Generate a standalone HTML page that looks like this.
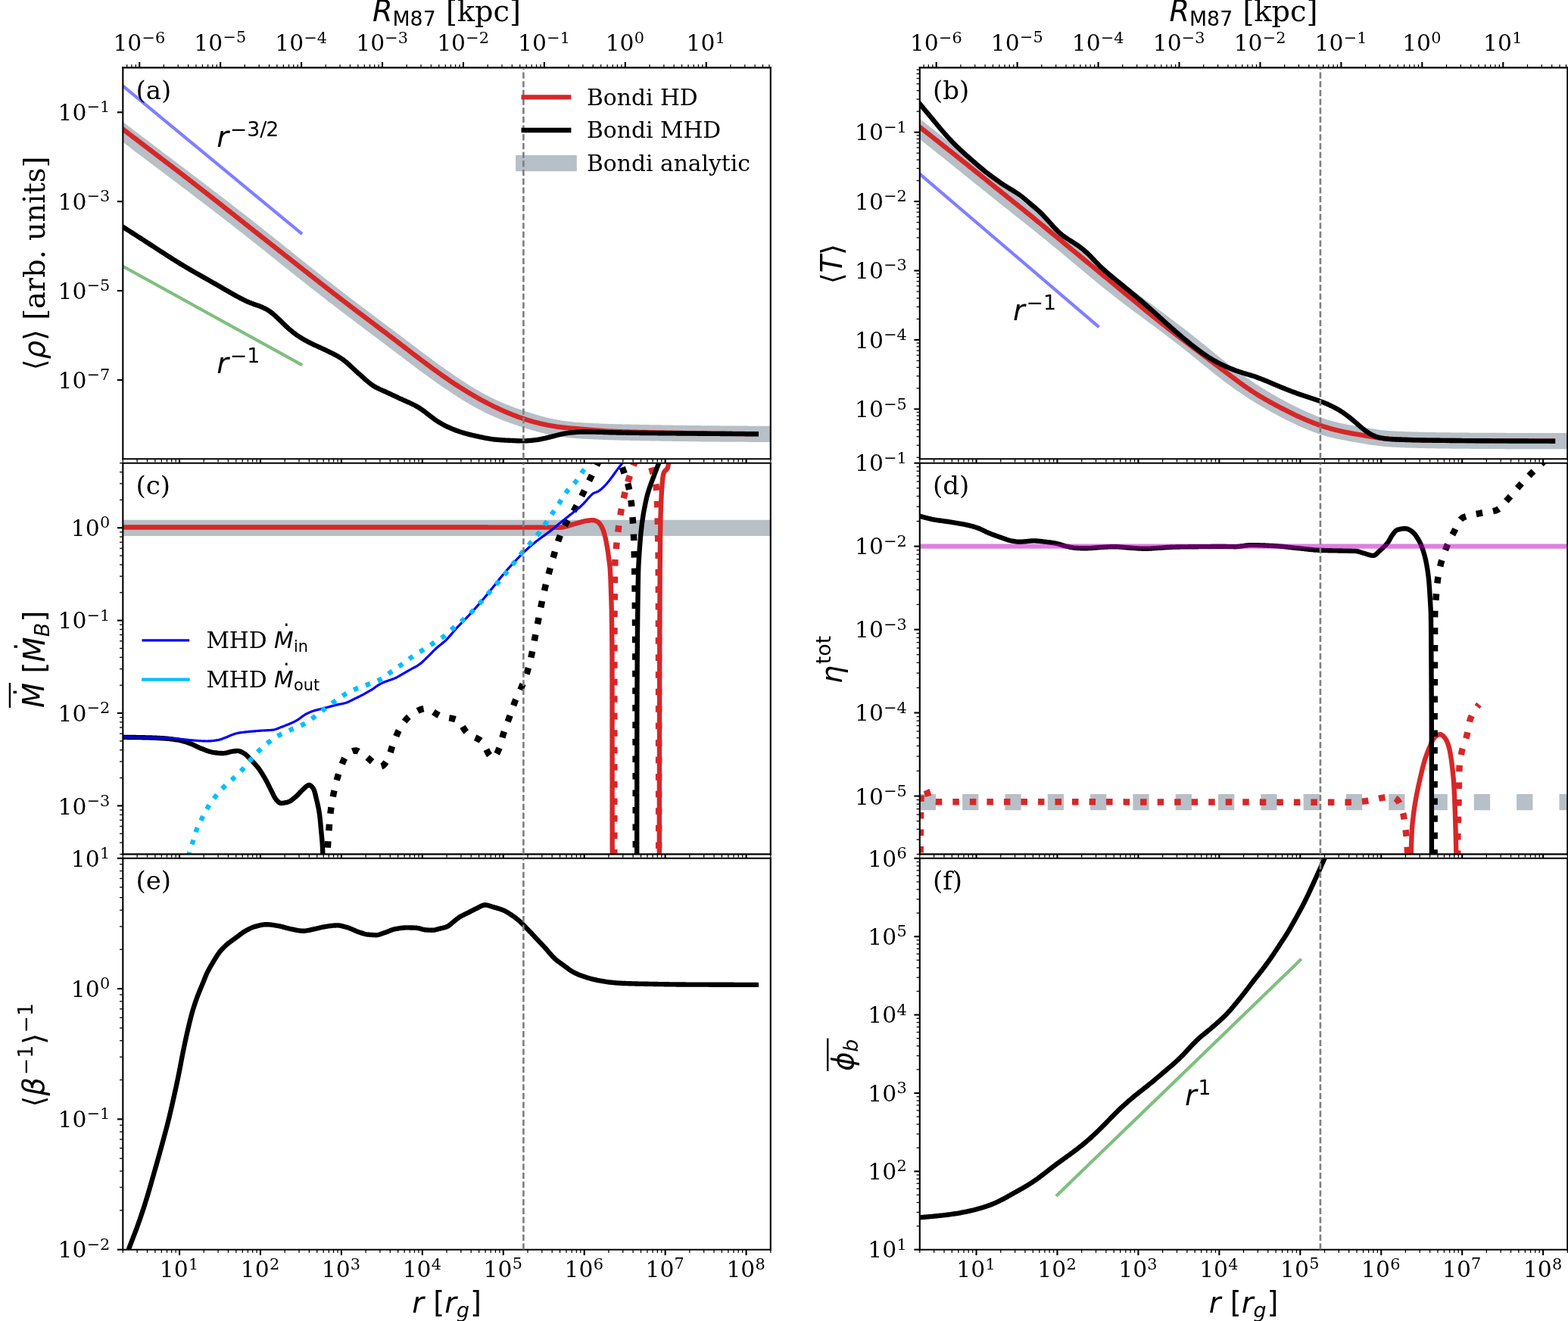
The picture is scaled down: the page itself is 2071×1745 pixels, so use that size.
<!DOCTYPE html>
<html lang="en">
<head>
<meta charset="utf-8">
<title>Bondi accretion radial profiles</title>
<style>
html,body{margin:0;padding:0;background:#fff;}
body{width:2071px;height:1745px;overflow:hidden;position:relative;font-family:"DejaVu Serif","Liberation Serif",serif;}
svg text{white-space:pre;}
</style>
</head>
<body>
<svg width="2071" height="1745" viewBox="0 0 974.588235 821.176471" preserveAspectRatio="none" style="display:block;position:absolute;left:0;top:0">
<defs>
<style type="text/css">*{stroke-linejoin: round; stroke-linecap: butt}</style>
</defs>
<g>
<g>
<path d="M 0 821.18 L 974.59 821.18 L 974.59 0 L 0 0 z" style="fill: #ffffff"/>
</g>
<g>
<g>
<path d="M 76.38 285.27 L 478.96 285.27 L 478.96 42.07 L 76.38 42.07 z" style="fill: #ffffff"/>
</g>
<g>
<g>
<path d="M 76.38 42.07 L 478.96 42.07 L 478.96 42.07 L 76.38 42.07 z" style="fill: #ffffff"/>
</g>
<g>
<g>
<g>
<g>
<path d="M 0 0 L 0 -3.5" transform="translate(86.683505 42.070588)" style="stroke: #000000; stroke: #000000"/>
</g>
</g>
<g>
<!-- $\mathdefault{10^{-6}}$ -->
<g transform="translate(70.303505 32.394)">
<text>
<tspan x="0" y="-0.640625" style="font-size: 14px; font-family: 'DejaVu Serif'">1</tspan>
<tspan x="8.907227" y="-0.640625" style="font-size: 14px; font-family: 'DejaVu Serif'">0</tspan>
<tspan x="17.941602" y="-5.726562" style="font-size: 9.8px; font-family: 'DejaVu Serif'">−</tspan>
<tspan x="26.15293" y="-5.726562" style="font-size: 9.8px; font-family: 'DejaVu Serif'">6</tspan>
</text>
</g>
</g>
</g>
<g>
<g>
<g>
<path d="M 0 0 L 0 -3.5" transform="translate(137.007034 42.070588)" style="stroke: #000000; stroke: #000000"/>
</g>
</g>
<g>
<!-- $\mathdefault{10^{-5}}$ -->
<g transform="translate(120.627034 32.394)">
<text>
<tspan x="0" y="-0.771875" style="font-size: 14px; font-family: 'DejaVu Serif'">1</tspan>
<tspan x="8.907227" y="-0.771875" style="font-size: 14px; font-family: 'DejaVu Serif'">0</tspan>
<tspan x="17.941602" y="-5.857813" style="font-size: 9.8px; font-family: 'DejaVu Serif'">−</tspan>
<tspan x="26.15293" y="-5.857813" style="font-size: 9.8px; font-family: 'DejaVu Serif'">5</tspan>
</text>
</g>
</g>
</g>
<g>
<g>
<g>
<path d="M 0 0 L 0 -3.5" transform="translate(187.330564 42.070588)" style="stroke: #000000; stroke: #000000"/>
</g>
</g>
<g>
<!-- $\mathdefault{10^{-4}}$ -->
<g transform="translate(170.950564 32.394)">
<text>
<tspan x="0" y="-0.640625" style="font-size: 14px; font-family: 'DejaVu Serif'">1</tspan>
<tspan x="8.907227" y="-0.640625" style="font-size: 14px; font-family: 'DejaVu Serif'">0</tspan>
<tspan x="17.941602" y="-5.726562" style="font-size: 9.8px; font-family: 'DejaVu Serif'">−</tspan>
<tspan x="26.15293" y="-5.726562" style="font-size: 9.8px; font-family: 'DejaVu Serif'">4</tspan>
</text>
</g>
</g>
</g>
<g>
<g>
<g>
<path d="M 0 0 L 0 -3.5" transform="translate(237.654093 42.070588)" style="stroke: #000000; stroke: #000000"/>
</g>
</g>
<g>
<!-- $\mathdefault{10^{-3}}$ -->
<g transform="translate(221.274093 32.394)">
<text>
<tspan x="0" y="-0.640625" style="font-size: 14px; font-family: 'DejaVu Serif'">1</tspan>
<tspan x="8.907227" y="-0.640625" style="font-size: 14px; font-family: 'DejaVu Serif'">0</tspan>
<tspan x="17.941602" y="-5.726562" style="font-size: 9.8px; font-family: 'DejaVu Serif'">−</tspan>
<tspan x="26.15293" y="-5.726562" style="font-size: 9.8px; font-family: 'DejaVu Serif'">3</tspan>
</text>
</g>
</g>
</g>
<g>
<g>
<g>
<path d="M 0 0 L 0 -3.5" transform="translate(287.977623 42.070588)" style="stroke: #000000; stroke: #000000"/>
</g>
</g>
<g>
<!-- $\mathdefault{10^{-2}}$ -->
<g transform="translate(271.597623 32.394)">
<text>
<tspan x="0" y="-0.640625" style="font-size: 14px; font-family: 'DejaVu Serif'">1</tspan>
<tspan x="8.907227" y="-0.640625" style="font-size: 14px; font-family: 'DejaVu Serif'">0</tspan>
<tspan x="17.941602" y="-5.726562" style="font-size: 9.8px; font-family: 'DejaVu Serif'">−</tspan>
<tspan x="26.15293" y="-5.726562" style="font-size: 9.8px; font-family: 'DejaVu Serif'">2</tspan>
</text>
</g>
</g>
</g>
<g>
<g>
<g>
<path d="M 0 0 L 0 -3.5" transform="translate(338.301152 42.070588)" style="stroke: #000000; stroke: #000000"/>
</g>
</g>
<g>
<!-- $\mathdefault{10^{-1}}$ -->
<g transform="translate(321.921152 32.394)">
<text>
<tspan x="0" y="-0.640625" style="font-size: 14px; font-family: 'DejaVu Serif'">1</tspan>
<tspan x="8.907227" y="-0.640625" style="font-size: 14px; font-family: 'DejaVu Serif'">0</tspan>
<tspan x="17.941602" y="-5.726562" style="font-size: 9.8px; font-family: 'DejaVu Serif'">−</tspan>
<tspan x="26.15293" y="-5.726562" style="font-size: 9.8px; font-family: 'DejaVu Serif'">1</tspan>
</text>
</g>
</g>
</g>
<g>
<g>
<g>
<path d="M 0 0 L 0 -3.5" transform="translate(388.624681 42.070588)" style="stroke: #000000; stroke: #000000"/>
</g>
</g>
<g>
<!-- $\mathdefault{10^{0}}$ -->
<g transform="translate(376.304681 32.394)">
<text>
<tspan x="0" y="-0.640625" style="font-size: 14px; font-family: 'DejaVu Serif'">1</tspan>
<tspan x="8.907227" y="-0.640625" style="font-size: 14px; font-family: 'DejaVu Serif'">0</tspan>
<tspan x="17.941602" y="-5.726562" style="font-size: 9.8px; font-family: 'DejaVu Serif'">0</tspan>
</text>
</g>
</g>
</g>
<g>
<g>
<g>
<path d="M 0 0 L 0 -3.5" transform="translate(438.948211 42.070588)" style="stroke: #000000; stroke: #000000"/>
</g>
</g>
<g>
<!-- $\mathdefault{10^{1}}$ -->
<g transform="translate(426.628211 32.394)">
<text>
<tspan x="0" y="-0.640625" style="font-size: 14px; font-family: 'DejaVu Serif'">1</tspan>
<tspan x="8.907227" y="-0.640625" style="font-size: 14px; font-family: 'DejaVu Serif'">0</tspan>
<tspan x="17.941602" y="-5.726562" style="font-size: 9.8px; font-family: 'DejaVu Serif'">1</tspan>
</text>
</g>
</g>
</g>
<g>
<g>
<g>
<path d="M 0 0 L 0 -2" transform="translate(78.888292 42.070588)" style="stroke: #000000; stroke-width: 0.6; stroke: #000000; stroke-width: 0.6"/>
</g>
</g>
</g>
<g>
<g>
<g>
<path d="M 0 0 L 0 -2" transform="translate(81.806651 42.070588)" style="stroke: #000000; stroke-width: 0.6; stroke: #000000; stroke-width: 0.6"/>
</g>
</g>
</g>
<g>
<g>
<g>
<path d="M 0 0 L 0 -2" transform="translate(84.380826 42.070588)" style="stroke: #000000; stroke-width: 0.6; stroke: #000000; stroke-width: 0.6"/>
</g>
</g>
</g>
<g>
<g>
<g>
<path d="M 0 0 L 0 -2" transform="translate(101.832397 42.070588)" style="stroke: #000000; stroke-width: 0.6; stroke: #000000; stroke-width: 0.6"/>
</g>
</g>
</g>
<g>
<g>
<g>
<path d="M 0 0 L 0 -2" transform="translate(110.69393 42.070588)" style="stroke: #000000; stroke-width: 0.6; stroke: #000000; stroke-width: 0.6"/>
</g>
</g>
</g>
<g>
<g>
<g>
<path d="M 0 0 L 0 -2" transform="translate(116.981289 42.070588)" style="stroke: #000000; stroke-width: 0.6; stroke: #000000; stroke-width: 0.6"/>
</g>
</g>
</g>
<g>
<g>
<g>
<path d="M 0 0 L 0 -2" transform="translate(121.858142 42.070588)" style="stroke: #000000; stroke-width: 0.6; stroke: #000000; stroke-width: 0.6"/>
</g>
</g>
</g>
<g>
<g>
<g>
<path d="M 0 0 L 0 -2" transform="translate(125.842822 42.070588)" style="stroke: #000000; stroke-width: 0.6; stroke: #000000; stroke-width: 0.6"/>
</g>
</g>
</g>
<g>
<g>
<g>
<path d="M 0 0 L 0 -2" transform="translate(129.211821 42.070588)" style="stroke: #000000; stroke-width: 0.6; stroke: #000000; stroke-width: 0.6"/>
</g>
</g>
</g>
<g>
<g>
<g>
<path d="M 0 0 L 0 -2" transform="translate(132.13018 42.070588)" style="stroke: #000000; stroke-width: 0.6; stroke: #000000; stroke-width: 0.6"/>
</g>
</g>
</g>
<g>
<g>
<g>
<path d="M 0 0 L 0 -2" transform="translate(134.704356 42.070588)" style="stroke: #000000; stroke-width: 0.6; stroke: #000000; stroke-width: 0.6"/>
</g>
</g>
</g>
<g>
<g>
<g>
<path d="M 0 0 L 0 -2" transform="translate(152.155926 42.070588)" style="stroke: #000000; stroke-width: 0.6; stroke: #000000; stroke-width: 0.6"/>
</g>
</g>
</g>
<g>
<g>
<g>
<path d="M 0 0 L 0 -2" transform="translate(161.01746 42.070588)" style="stroke: #000000; stroke-width: 0.6; stroke: #000000; stroke-width: 0.6"/>
</g>
</g>
</g>
<g>
<g>
<g>
<path d="M 0 0 L 0 -2" transform="translate(167.304818 42.070588)" style="stroke: #000000; stroke-width: 0.6; stroke: #000000; stroke-width: 0.6"/>
</g>
</g>
</g>
<g>
<g>
<g>
<path d="M 0 0 L 0 -2" transform="translate(172.181672 42.070588)" style="stroke: #000000; stroke-width: 0.6; stroke: #000000; stroke-width: 0.6"/>
</g>
</g>
</g>
<g>
<g>
<g>
<path d="M 0 0 L 0 -2" transform="translate(176.166352 42.070588)" style="stroke: #000000; stroke-width: 0.6; stroke: #000000; stroke-width: 0.6"/>
</g>
</g>
</g>
<g>
<g>
<g>
<path d="M 0 0 L 0 -2" transform="translate(179.53535 42.070588)" style="stroke: #000000; stroke-width: 0.6; stroke: #000000; stroke-width: 0.6"/>
</g>
</g>
</g>
<g>
<g>
<g>
<path d="M 0 0 L 0 -2" transform="translate(182.45371 42.070588)" style="stroke: #000000; stroke-width: 0.6; stroke: #000000; stroke-width: 0.6"/>
</g>
</g>
</g>
<g>
<g>
<g>
<path d="M 0 0 L 0 -2" transform="translate(185.027885 42.070588)" style="stroke: #000000; stroke-width: 0.6; stroke: #000000; stroke-width: 0.6"/>
</g>
</g>
</g>
<g>
<g>
<g>
<path d="M 0 0 L 0 -2" transform="translate(202.479456 42.070588)" style="stroke: #000000; stroke-width: 0.6; stroke: #000000; stroke-width: 0.6"/>
</g>
</g>
</g>
<g>
<g>
<g>
<path d="M 0 0 L 0 -2" transform="translate(211.340989 42.070588)" style="stroke: #000000; stroke-width: 0.6; stroke: #000000; stroke-width: 0.6"/>
</g>
</g>
</g>
<g>
<g>
<g>
<path d="M 0 0 L 0 -2" transform="translate(217.628347 42.070588)" style="stroke: #000000; stroke-width: 0.6; stroke: #000000; stroke-width: 0.6"/>
</g>
</g>
</g>
<g>
<g>
<g>
<path d="M 0 0 L 0 -2" transform="translate(222.505201 42.070588)" style="stroke: #000000; stroke-width: 0.6; stroke: #000000; stroke-width: 0.6"/>
</g>
</g>
</g>
<g>
<g>
<g>
<path d="M 0 0 L 0 -2" transform="translate(226.489881 42.070588)" style="stroke: #000000; stroke-width: 0.6; stroke: #000000; stroke-width: 0.6"/>
</g>
</g>
</g>
<g>
<g>
<g>
<path d="M 0 0 L 0 -2" transform="translate(229.85888 42.070588)" style="stroke: #000000; stroke-width: 0.6; stroke: #000000; stroke-width: 0.6"/>
</g>
</g>
</g>
<g>
<g>
<g>
<path d="M 0 0 L 0 -2" transform="translate(232.777239 42.070588)" style="stroke: #000000; stroke-width: 0.6; stroke: #000000; stroke-width: 0.6"/>
</g>
</g>
</g>
<g>
<g>
<g>
<path d="M 0 0 L 0 -2" transform="translate(235.351415 42.070588)" style="stroke: #000000; stroke-width: 0.6; stroke: #000000; stroke-width: 0.6"/>
</g>
</g>
</g>
<g>
<g>
<g>
<path d="M 0 0 L 0 -2" transform="translate(252.802985 42.070588)" style="stroke: #000000; stroke-width: 0.6; stroke: #000000; stroke-width: 0.6"/>
</g>
</g>
</g>
<g>
<g>
<g>
<path d="M 0 0 L 0 -2" transform="translate(261.664519 42.070588)" style="stroke: #000000; stroke-width: 0.6; stroke: #000000; stroke-width: 0.6"/>
</g>
</g>
</g>
<g>
<g>
<g>
<path d="M 0 0 L 0 -2" transform="translate(267.951877 42.070588)" style="stroke: #000000; stroke-width: 0.6; stroke: #000000; stroke-width: 0.6"/>
</g>
</g>
</g>
<g>
<g>
<g>
<path d="M 0 0 L 0 -2" transform="translate(272.828731 42.070588)" style="stroke: #000000; stroke-width: 0.6; stroke: #000000; stroke-width: 0.6"/>
</g>
</g>
</g>
<g>
<g>
<g>
<path d="M 0 0 L 0 -2" transform="translate(276.81341 42.070588)" style="stroke: #000000; stroke-width: 0.6; stroke: #000000; stroke-width: 0.6"/>
</g>
</g>
</g>
<g>
<g>
<g>
<path d="M 0 0 L 0 -2" transform="translate(280.182409 42.070588)" style="stroke: #000000; stroke-width: 0.6; stroke: #000000; stroke-width: 0.6"/>
</g>
</g>
</g>
<g>
<g>
<g>
<path d="M 0 0 L 0 -2" transform="translate(283.100769 42.070588)" style="stroke: #000000; stroke-width: 0.6; stroke: #000000; stroke-width: 0.6"/>
</g>
</g>
</g>
<g>
<g>
<g>
<path d="M 0 0 L 0 -2" transform="translate(285.674944 42.070588)" style="stroke: #000000; stroke-width: 0.6; stroke: #000000; stroke-width: 0.6"/>
</g>
</g>
</g>
<g>
<g>
<g>
<path d="M 0 0 L 0 -2" transform="translate(303.126514 42.070588)" style="stroke: #000000; stroke-width: 0.6; stroke: #000000; stroke-width: 0.6"/>
</g>
</g>
</g>
<g>
<g>
<g>
<path d="M 0 0 L 0 -2" transform="translate(311.988048 42.070588)" style="stroke: #000000; stroke-width: 0.6; stroke: #000000; stroke-width: 0.6"/>
</g>
</g>
</g>
<g>
<g>
<g>
<path d="M 0 0 L 0 -2" transform="translate(318.275406 42.070588)" style="stroke: #000000; stroke-width: 0.6; stroke: #000000; stroke-width: 0.6"/>
</g>
</g>
</g>
<g>
<g>
<g>
<path d="M 0 0 L 0 -2" transform="translate(323.15226 42.070588)" style="stroke: #000000; stroke-width: 0.6; stroke: #000000; stroke-width: 0.6"/>
</g>
</g>
</g>
<g>
<g>
<g>
<path d="M 0 0 L 0 -2" transform="translate(327.13694 42.070588)" style="stroke: #000000; stroke-width: 0.6; stroke: #000000; stroke-width: 0.6"/>
</g>
</g>
</g>
<g>
<g>
<g>
<path d="M 0 0 L 0 -2" transform="translate(330.505939 42.070588)" style="stroke: #000000; stroke-width: 0.6; stroke: #000000; stroke-width: 0.6"/>
</g>
</g>
</g>
<g>
<g>
<g>
<path d="M 0 0 L 0 -2" transform="translate(333.424298 42.070588)" style="stroke: #000000; stroke-width: 0.6; stroke: #000000; stroke-width: 0.6"/>
</g>
</g>
</g>
<g>
<g>
<g>
<path d="M 0 0 L 0 -2" transform="translate(335.998474 42.070588)" style="stroke: #000000; stroke-width: 0.6; stroke: #000000; stroke-width: 0.6"/>
</g>
</g>
</g>
<g>
<g>
<g>
<path d="M 0 0 L 0 -2" transform="translate(353.450044 42.070588)" style="stroke: #000000; stroke-width: 0.6; stroke: #000000; stroke-width: 0.6"/>
</g>
</g>
</g>
<g>
<g>
<g>
<path d="M 0 0 L 0 -2" transform="translate(362.311577 42.070588)" style="stroke: #000000; stroke-width: 0.6; stroke: #000000; stroke-width: 0.6"/>
</g>
</g>
</g>
<g>
<g>
<g>
<path d="M 0 0 L 0 -2" transform="translate(368.598936 42.070588)" style="stroke: #000000; stroke-width: 0.6; stroke: #000000; stroke-width: 0.6"/>
</g>
</g>
</g>
<g>
<g>
<g>
<path d="M 0 0 L 0 -2" transform="translate(373.47579 42.070588)" style="stroke: #000000; stroke-width: 0.6; stroke: #000000; stroke-width: 0.6"/>
</g>
</g>
</g>
<g>
<g>
<g>
<path d="M 0 0 L 0 -2" transform="translate(377.460469 42.070588)" style="stroke: #000000; stroke-width: 0.6; stroke: #000000; stroke-width: 0.6"/>
</g>
</g>
</g>
<g>
<g>
<g>
<path d="M 0 0 L 0 -2" transform="translate(380.829468 42.070588)" style="stroke: #000000; stroke-width: 0.6; stroke: #000000; stroke-width: 0.6"/>
</g>
</g>
</g>
<g>
<g>
<g>
<path d="M 0 0 L 0 -2" transform="translate(383.747827 42.070588)" style="stroke: #000000; stroke-width: 0.6; stroke: #000000; stroke-width: 0.6"/>
</g>
</g>
</g>
<g>
<g>
<g>
<path d="M 0 0 L 0 -2" transform="translate(386.322003 42.070588)" style="stroke: #000000; stroke-width: 0.6; stroke: #000000; stroke-width: 0.6"/>
</g>
</g>
</g>
<g>
<g>
<g>
<path d="M 0 0 L 0 -2" transform="translate(403.773573 42.070588)" style="stroke: #000000; stroke-width: 0.6; stroke: #000000; stroke-width: 0.6"/>
</g>
</g>
</g>
<g>
<g>
<g>
<path d="M 0 0 L 0 -2" transform="translate(412.635107 42.070588)" style="stroke: #000000; stroke-width: 0.6; stroke: #000000; stroke-width: 0.6"/>
</g>
</g>
</g>
<g>
<g>
<g>
<path d="M 0 0 L 0 -2" transform="translate(418.922465 42.070588)" style="stroke: #000000; stroke-width: 0.6; stroke: #000000; stroke-width: 0.6"/>
</g>
</g>
</g>
<g>
<g>
<g>
<path d="M 0 0 L 0 -2" transform="translate(423.799319 42.070588)" style="stroke: #000000; stroke-width: 0.6; stroke: #000000; stroke-width: 0.6"/>
</g>
</g>
</g>
<g>
<g>
<g>
<path d="M 0 0 L 0 -2" transform="translate(427.783999 42.070588)" style="stroke: #000000; stroke-width: 0.6; stroke: #000000; stroke-width: 0.6"/>
</g>
</g>
</g>
<g>
<g>
<g>
<path d="M 0 0 L 0 -2" transform="translate(431.152997 42.070588)" style="stroke: #000000; stroke-width: 0.6; stroke: #000000; stroke-width: 0.6"/>
</g>
</g>
</g>
<g>
<g>
<g>
<path d="M 0 0 L 0 -2" transform="translate(434.071357 42.070588)" style="stroke: #000000; stroke-width: 0.6; stroke: #000000; stroke-width: 0.6"/>
</g>
</g>
</g>
<g>
<g>
<g>
<path d="M 0 0 L 0 -2" transform="translate(436.645532 42.070588)" style="stroke: #000000; stroke-width: 0.6; stroke: #000000; stroke-width: 0.6"/>
</g>
</g>
</g>
<g>
<g>
<g>
<path d="M 0 0 L 0 -2" transform="translate(454.097103 42.070588)" style="stroke: #000000; stroke-width: 0.6; stroke: #000000; stroke-width: 0.6"/>
</g>
</g>
</g>
<g>
<g>
<g>
<path d="M 0 0 L 0 -2" transform="translate(462.958636 42.070588)" style="stroke: #000000; stroke-width: 0.6; stroke: #000000; stroke-width: 0.6"/>
</g>
</g>
</g>
<g>
<g>
<g>
<path d="M 0 0 L 0 -2" transform="translate(469.245994 42.070588)" style="stroke: #000000; stroke-width: 0.6; stroke: #000000; stroke-width: 0.6"/>
</g>
</g>
</g>
<g>
<g>
<g>
<path d="M 0 0 L 0 -2" transform="translate(474.122848 42.070588)" style="stroke: #000000; stroke-width: 0.6; stroke: #000000; stroke-width: 0.6"/>
</g>
</g>
</g>
<g>
<g>
<g>
<path d="M 0 0 L 0 -2" transform="translate(478.107528 42.070588)" style="stroke: #000000; stroke-width: 0.6; stroke: #000000; stroke-width: 0.6"/>
</g>
</g>
</g>
<g>
<!-- $R_{\rm M87}$ [kpc] -->
<g transform="translate(231.500588 13.457)">
<text>
<tspan x="0" y="-0.328125" style="font-style: oblique; font-size: 18px; font-family: 'DejaVu Sans'">R</tspan>
<tspan x="12.506836" y="2.625" style="font-size: 12.6px; font-family: 'DejaVu Sans'">M</tspan>
<tspan x="23.378027" y="2.625" style="font-size: 12.6px; font-family: 'DejaVu Sans'">8</tspan>
<tspan x="31.394531" y="2.625" style="font-size: 12.6px; font-family: 'DejaVu Sans'">7</tspan>
<tspan x="39.903223" y="-0.328125" style="font-size: 18px; font-family: 'DejaVu Serif'"> </tspan>
<tspan x="45.624902" y="-0.328125" style="font-size: 18px; font-family: 'DejaVu Serif'">[</tspan>
<tspan x="52.647363" y="-0.328125" style="font-size: 18px; font-family: 'DejaVu Serif'">k</tspan>
<tspan x="63.55459" y="-0.328125" style="font-size: 18px; font-family: 'DejaVu Serif'">p</tspan>
<tspan x="75.077051" y="-0.328125" style="font-size: 18px; font-family: 'DejaVu Serif'">c</tspan>
<tspan x="85.158105" y="-0.328125" style="font-size: 18px; font-family: 'DejaVu Serif'">]</tspan>
</text>
</g>
</g>
</g>
<g id="matplotlib.axis_2"/>
</g>
<g>
<g>
<g>
<g>
<path d="M 0 0 L 0 3.5" transform="translate(111.551108 285.270588)" style="stroke: #000000; stroke: #000000"/>
</g>
</g>
</g>
<g>
<g>
<g>
<path d="M 0 0 L 0 3.5" transform="translate(161.874638 285.270588)" style="stroke: #000000; stroke: #000000"/>
</g>
</g>
</g>
<g>
<g>
<g>
<path d="M 0 0 L 0 3.5" transform="translate(212.198167 285.270588)" style="stroke: #000000; stroke: #000000"/>
</g>
</g>
</g>
<g>
<g>
<g>
<path d="M 0 0 L 0 3.5" transform="translate(262.521696 285.270588)" style="stroke: #000000; stroke: #000000"/>
</g>
</g>
</g>
<g>
<g>
<g>
<path d="M 0 0 L 0 3.5" transform="translate(312.845226 285.270588)" style="stroke: #000000; stroke: #000000"/>
</g>
</g>
</g>
<g>
<g>
<g>
<path d="M 0 0 L 0 3.5" transform="translate(363.168755 285.270588)" style="stroke: #000000; stroke: #000000"/>
</g>
</g>
</g>
<g>
<g>
<g>
<path d="M 0 0 L 0 3.5" transform="translate(413.492285 285.270588)" style="stroke: #000000; stroke: #000000"/>
</g>
</g>
</g>
<g>
<g>
<g>
<path d="M 0 0 L 0 3.5" transform="translate(463.815814 285.270588)" style="stroke: #000000; stroke: #000000"/>
</g>
</g>
</g>
<g>
<g>
<g>
<path d="M 0 0 L 0 2" transform="translate(76.376471 285.270588)" style="stroke: #000000; stroke-width: 0.6; stroke: #000000; stroke-width: 0.6"/>
</g>
</g>
</g>
<g>
<g>
<g>
<path d="M 0 0 L 0 2" transform="translate(85.238004 285.270588)" style="stroke: #000000; stroke-width: 0.6; stroke: #000000; stroke-width: 0.6"/>
</g>
</g>
</g>
<g>
<g>
<g>
<path d="M 0 0 L 0 2" transform="translate(91.525362 285.270588)" style="stroke: #000000; stroke-width: 0.6; stroke: #000000; stroke-width: 0.6"/>
</g>
</g>
</g>
<g>
<g>
<g>
<path d="M 0 0 L 0 2" transform="translate(96.402216 285.270588)" style="stroke: #000000; stroke-width: 0.6; stroke: #000000; stroke-width: 0.6"/>
</g>
</g>
</g>
<g>
<g>
<g>
<path d="M 0 0 L 0 2" transform="translate(100.386896 285.270588)" style="stroke: #000000; stroke-width: 0.6; stroke: #000000; stroke-width: 0.6"/>
</g>
</g>
</g>
<g>
<g>
<g>
<path d="M 0 0 L 0 2" transform="translate(103.755895 285.270588)" style="stroke: #000000; stroke-width: 0.6; stroke: #000000; stroke-width: 0.6"/>
</g>
</g>
</g>
<g>
<g>
<g>
<path d="M 0 0 L 0 2" transform="translate(106.674254 285.270588)" style="stroke: #000000; stroke-width: 0.6; stroke: #000000; stroke-width: 0.6"/>
</g>
</g>
</g>
<g>
<g>
<g>
<path d="M 0 0 L 0 2" transform="translate(109.24843 285.270588)" style="stroke: #000000; stroke-width: 0.6; stroke: #000000; stroke-width: 0.6"/>
</g>
</g>
</g>
<g>
<g>
<g>
<path d="M 0 0 L 0 2" transform="translate(126.7 285.270588)" style="stroke: #000000; stroke-width: 0.6; stroke: #000000; stroke-width: 0.6"/>
</g>
</g>
</g>
<g>
<g>
<g>
<path d="M 0 0 L 0 2" transform="translate(135.561534 285.270588)" style="stroke: #000000; stroke-width: 0.6; stroke: #000000; stroke-width: 0.6"/>
</g>
</g>
</g>
<g>
<g>
<g>
<path d="M 0 0 L 0 2" transform="translate(141.848892 285.270588)" style="stroke: #000000; stroke-width: 0.6; stroke: #000000; stroke-width: 0.6"/>
</g>
</g>
</g>
<g>
<g>
<g>
<path d="M 0 0 L 0 2" transform="translate(146.725746 285.270588)" style="stroke: #000000; stroke-width: 0.6; stroke: #000000; stroke-width: 0.6"/>
</g>
</g>
</g>
<g>
<g>
<g>
<path d="M 0 0 L 0 2" transform="translate(150.710425 285.270588)" style="stroke: #000000; stroke-width: 0.6; stroke: #000000; stroke-width: 0.6"/>
</g>
</g>
</g>
<g>
<g>
<g>
<path d="M 0 0 L 0 2" transform="translate(154.079424 285.270588)" style="stroke: #000000; stroke-width: 0.6; stroke: #000000; stroke-width: 0.6"/>
</g>
</g>
</g>
<g>
<g>
<g>
<path d="M 0 0 L 0 2" transform="translate(156.997784 285.270588)" style="stroke: #000000; stroke-width: 0.6; stroke: #000000; stroke-width: 0.6"/>
</g>
</g>
</g>
<g>
<g>
<g>
<path d="M 0 0 L 0 2" transform="translate(159.571959 285.270588)" style="stroke: #000000; stroke-width: 0.6; stroke: #000000; stroke-width: 0.6"/>
</g>
</g>
</g>
<g>
<g>
<g>
<path d="M 0 0 L 0 2" transform="translate(177.023529 285.270588)" style="stroke: #000000; stroke-width: 0.6; stroke: #000000; stroke-width: 0.6"/>
</g>
</g>
</g>
<g>
<g>
<g>
<path d="M 0 0 L 0 2" transform="translate(185.885063 285.270588)" style="stroke: #000000; stroke-width: 0.6; stroke: #000000; stroke-width: 0.6"/>
</g>
</g>
</g>
<g>
<g>
<g>
<path d="M 0 0 L 0 2" transform="translate(192.172421 285.270588)" style="stroke: #000000; stroke-width: 0.6; stroke: #000000; stroke-width: 0.6"/>
</g>
</g>
</g>
<g>
<g>
<g>
<path d="M 0 0 L 0 2" transform="translate(197.049275 285.270588)" style="stroke: #000000; stroke-width: 0.6; stroke: #000000; stroke-width: 0.6"/>
</g>
</g>
</g>
<g>
<g>
<g>
<path d="M 0 0 L 0 2" transform="translate(201.033955 285.270588)" style="stroke: #000000; stroke-width: 0.6; stroke: #000000; stroke-width: 0.6"/>
</g>
</g>
</g>
<g>
<g>
<g>
<path d="M 0 0 L 0 2" transform="translate(204.402954 285.270588)" style="stroke: #000000; stroke-width: 0.6; stroke: #000000; stroke-width: 0.6"/>
</g>
</g>
</g>
<g>
<g>
<g>
<path d="M 0 0 L 0 2" transform="translate(207.321313 285.270588)" style="stroke: #000000; stroke-width: 0.6; stroke: #000000; stroke-width: 0.6"/>
</g>
</g>
</g>
<g>
<g>
<g>
<path d="M 0 0 L 0 2" transform="translate(209.895489 285.270588)" style="stroke: #000000; stroke-width: 0.6; stroke: #000000; stroke-width: 0.6"/>
</g>
</g>
</g>
<g>
<g>
<g>
<path d="M 0 0 L 0 2" transform="translate(227.347059 285.270588)" style="stroke: #000000; stroke-width: 0.6; stroke: #000000; stroke-width: 0.6"/>
</g>
</g>
</g>
<g>
<g>
<g>
<path d="M 0 0 L 0 2" transform="translate(236.208592 285.270588)" style="stroke: #000000; stroke-width: 0.6; stroke: #000000; stroke-width: 0.6"/>
</g>
</g>
</g>
<g>
<g>
<g>
<path d="M 0 0 L 0 2" transform="translate(242.495951 285.270588)" style="stroke: #000000; stroke-width: 0.6; stroke: #000000; stroke-width: 0.6"/>
</g>
</g>
</g>
<g>
<g>
<g>
<path d="M 0 0 L 0 2" transform="translate(247.372805 285.270588)" style="stroke: #000000; stroke-width: 0.6; stroke: #000000; stroke-width: 0.6"/>
</g>
</g>
</g>
<g>
<g>
<g>
<path d="M 0 0 L 0 2" transform="translate(251.357484 285.270588)" style="stroke: #000000; stroke-width: 0.6; stroke: #000000; stroke-width: 0.6"/>
</g>
</g>
</g>
<g>
<g>
<g>
<path d="M 0 0 L 0 2" transform="translate(254.726483 285.270588)" style="stroke: #000000; stroke-width: 0.6; stroke: #000000; stroke-width: 0.6"/>
</g>
</g>
</g>
<g>
<g>
<g>
<path d="M 0 0 L 0 2" transform="translate(257.644843 285.270588)" style="stroke: #000000; stroke-width: 0.6; stroke: #000000; stroke-width: 0.6"/>
</g>
</g>
</g>
<g>
<g>
<g>
<path d="M 0 0 L 0 2" transform="translate(260.219018 285.270588)" style="stroke: #000000; stroke-width: 0.6; stroke: #000000; stroke-width: 0.6"/>
</g>
</g>
</g>
<g>
<g>
<g>
<path d="M 0 0 L 0 2" transform="translate(277.670588 285.270588)" style="stroke: #000000; stroke-width: 0.6; stroke: #000000; stroke-width: 0.6"/>
</g>
</g>
</g>
<g>
<g>
<g>
<path d="M 0 0 L 0 2" transform="translate(286.532122 285.270588)" style="stroke: #000000; stroke-width: 0.6; stroke: #000000; stroke-width: 0.6"/>
</g>
</g>
</g>
<g>
<g>
<g>
<path d="M 0 0 L 0 2" transform="translate(292.81948 285.270588)" style="stroke: #000000; stroke-width: 0.6; stroke: #000000; stroke-width: 0.6"/>
</g>
</g>
</g>
<g>
<g>
<g>
<path d="M 0 0 L 0 2" transform="translate(297.696334 285.270588)" style="stroke: #000000; stroke-width: 0.6; stroke: #000000; stroke-width: 0.6"/>
</g>
</g>
</g>
<g>
<g>
<g>
<path d="M 0 0 L 0 2" transform="translate(301.681014 285.270588)" style="stroke: #000000; stroke-width: 0.6; stroke: #000000; stroke-width: 0.6"/>
</g>
</g>
</g>
<g>
<g>
<g>
<path d="M 0 0 L 0 2" transform="translate(305.050012 285.270588)" style="stroke: #000000; stroke-width: 0.6; stroke: #000000; stroke-width: 0.6"/>
</g>
</g>
</g>
<g>
<g>
<g>
<path d="M 0 0 L 0 2" transform="translate(307.968372 285.270588)" style="stroke: #000000; stroke-width: 0.6; stroke: #000000; stroke-width: 0.6"/>
</g>
</g>
</g>
<g>
<g>
<g>
<path d="M 0 0 L 0 2" transform="translate(310.542547 285.270588)" style="stroke: #000000; stroke-width: 0.6; stroke: #000000; stroke-width: 0.6"/>
</g>
</g>
</g>
<g>
<g>
<g>
<path d="M 0 0 L 0 2" transform="translate(327.994118 285.270588)" style="stroke: #000000; stroke-width: 0.6; stroke: #000000; stroke-width: 0.6"/>
</g>
</g>
</g>
<g>
<g>
<g>
<path d="M 0 0 L 0 2" transform="translate(336.855651 285.270588)" style="stroke: #000000; stroke-width: 0.6; stroke: #000000; stroke-width: 0.6"/>
</g>
</g>
</g>
<g>
<g>
<g>
<path d="M 0 0 L 0 2" transform="translate(343.143009 285.270588)" style="stroke: #000000; stroke-width: 0.6; stroke: #000000; stroke-width: 0.6"/>
</g>
</g>
</g>
<g>
<g>
<g>
<path d="M 0 0 L 0 2" transform="translate(348.019863 285.270588)" style="stroke: #000000; stroke-width: 0.6; stroke: #000000; stroke-width: 0.6"/>
</g>
</g>
</g>
<g>
<g>
<g>
<path d="M 0 0 L 0 2" transform="translate(352.004543 285.270588)" style="stroke: #000000; stroke-width: 0.6; stroke: #000000; stroke-width: 0.6"/>
</g>
</g>
</g>
<g>
<g>
<g>
<path d="M 0 0 L 0 2" transform="translate(355.373542 285.270588)" style="stroke: #000000; stroke-width: 0.6; stroke: #000000; stroke-width: 0.6"/>
</g>
</g>
</g>
<g>
<g>
<g>
<path d="M 0 0 L 0 2" transform="translate(358.291901 285.270588)" style="stroke: #000000; stroke-width: 0.6; stroke: #000000; stroke-width: 0.6"/>
</g>
</g>
</g>
<g>
<g>
<g>
<path d="M 0 0 L 0 2" transform="translate(360.866077 285.270588)" style="stroke: #000000; stroke-width: 0.6; stroke: #000000; stroke-width: 0.6"/>
</g>
</g>
</g>
<g>
<g>
<g>
<path d="M 0 0 L 0 2" transform="translate(378.317647 285.270588)" style="stroke: #000000; stroke-width: 0.6; stroke: #000000; stroke-width: 0.6"/>
</g>
</g>
</g>
<g>
<g>
<g>
<path d="M 0 0 L 0 2" transform="translate(387.179181 285.270588)" style="stroke: #000000; stroke-width: 0.6; stroke: #000000; stroke-width: 0.6"/>
</g>
</g>
</g>
<g>
<g>
<g>
<path d="M 0 0 L 0 2" transform="translate(393.466539 285.270588)" style="stroke: #000000; stroke-width: 0.6; stroke: #000000; stroke-width: 0.6"/>
</g>
</g>
</g>
<g>
<g>
<g>
<path d="M 0 0 L 0 2" transform="translate(398.343393 285.270588)" style="stroke: #000000; stroke-width: 0.6; stroke: #000000; stroke-width: 0.6"/>
</g>
</g>
</g>
<g>
<g>
<g>
<path d="M 0 0 L 0 2" transform="translate(402.328073 285.270588)" style="stroke: #000000; stroke-width: 0.6; stroke: #000000; stroke-width: 0.6"/>
</g>
</g>
</g>
<g>
<g>
<g>
<path d="M 0 0 L 0 2" transform="translate(405.697071 285.270588)" style="stroke: #000000; stroke-width: 0.6; stroke: #000000; stroke-width: 0.6"/>
</g>
</g>
</g>
<g>
<g>
<g>
<path d="M 0 0 L 0 2" transform="translate(408.615431 285.270588)" style="stroke: #000000; stroke-width: 0.6; stroke: #000000; stroke-width: 0.6"/>
</g>
</g>
</g>
<g>
<g>
<g>
<path d="M 0 0 L 0 2" transform="translate(411.189606 285.270588)" style="stroke: #000000; stroke-width: 0.6; stroke: #000000; stroke-width: 0.6"/>
</g>
</g>
</g>
<g>
<g>
<g>
<path d="M 0 0 L 0 2" transform="translate(428.641176 285.270588)" style="stroke: #000000; stroke-width: 0.6; stroke: #000000; stroke-width: 0.6"/>
</g>
</g>
</g>
<g>
<g>
<g>
<path d="M 0 0 L 0 2" transform="translate(437.50271 285.270588)" style="stroke: #000000; stroke-width: 0.6; stroke: #000000; stroke-width: 0.6"/>
</g>
</g>
</g>
<g>
<g>
<g>
<path d="M 0 0 L 0 2" transform="translate(443.790068 285.270588)" style="stroke: #000000; stroke-width: 0.6; stroke: #000000; stroke-width: 0.6"/>
</g>
</g>
</g>
<g>
<g>
<g>
<path d="M 0 0 L 0 2" transform="translate(448.666922 285.270588)" style="stroke: #000000; stroke-width: 0.6; stroke: #000000; stroke-width: 0.6"/>
</g>
</g>
</g>
<g>
<g>
<g>
<path d="M 0 0 L 0 2" transform="translate(452.651602 285.270588)" style="stroke: #000000; stroke-width: 0.6; stroke: #000000; stroke-width: 0.6"/>
</g>
</g>
</g>
<g>
<g>
<g>
<path d="M 0 0 L 0 2" transform="translate(456.020601 285.270588)" style="stroke: #000000; stroke-width: 0.6; stroke: #000000; stroke-width: 0.6"/>
</g>
</g>
</g>
<g>
<g>
<g>
<path d="M 0 0 L 0 2" transform="translate(458.93896 285.270588)" style="stroke: #000000; stroke-width: 0.6; stroke: #000000; stroke-width: 0.6"/>
</g>
</g>
</g>
<g>
<g>
<g>
<path d="M 0 0 L 0 2" transform="translate(461.513136 285.270588)" style="stroke: #000000; stroke-width: 0.6; stroke: #000000; stroke-width: 0.6"/>
</g>
</g>
</g>
<g>
<g>
<g>
<path d="M 0 0 L 0 2" transform="translate(478.964706 285.270588)" style="stroke: #000000; stroke-width: 0.6; stroke: #000000; stroke-width: 0.6"/>
</g>
</g>
</g>
</g>
<g>
<g>
<g>
<g>
<path d="M 0 0 L -3.5 0" transform="translate(76.376471 236.196831)" style="stroke: #000000; stroke: #000000"/>
</g>
</g>
<g>
<!-- $\mathdefault{10^{-7}}$ -->
<g transform="translate(36.016471 242.127)">
<text>
<tspan x="0" y="-0.771875" style="font-size: 14px; font-family: 'DejaVu Serif'">1</tspan>
<tspan x="8.907227" y="-0.771875" style="font-size: 14px; font-family: 'DejaVu Serif'">0</tspan>
<tspan x="17.941602" y="-5.857813" style="font-size: 9.8px; font-family: 'DejaVu Serif'">−</tspan>
<tspan x="26.15293" y="-5.857813" style="font-size: 9.8px; font-family: 'DejaVu Serif'">7</tspan>
</text>
</g>
</g>
</g>
<g>
<g>
<g>
<path d="M 0 0 L -3.5 0" transform="translate(76.376471 180.73219)" style="stroke: #000000; stroke: #000000"/>
</g>
</g>
<g>
<!-- $\mathdefault{10^{-5}}$ -->
<g transform="translate(36.016471 186.428)">
<text>
<tspan x="0" y="-0.771875" style="font-size: 14px; font-family: 'DejaVu Serif'">1</tspan>
<tspan x="8.907227" y="-0.771875" style="font-size: 14px; font-family: 'DejaVu Serif'">0</tspan>
<tspan x="17.941602" y="-5.857813" style="font-size: 9.8px; font-family: 'DejaVu Serif'">−</tspan>
<tspan x="26.15293" y="-5.857813" style="font-size: 9.8px; font-family: 'DejaVu Serif'">5</tspan>
</text>
</g>
</g>
</g>
<g>
<g>
<g>
<path d="M 0 0 L -3.5 0" transform="translate(76.376471 125.267549)" style="stroke: #000000; stroke: #000000"/>
</g>
</g>
<g>
<!-- $\mathdefault{10^{-3}}$ -->
<g transform="translate(36.016471 130.963)">
<text>
<tspan x="0" y="-0.640625" style="font-size: 14px; font-family: 'DejaVu Serif'">1</tspan>
<tspan x="8.907227" y="-0.640625" style="font-size: 14px; font-family: 'DejaVu Serif'">0</tspan>
<tspan x="17.941602" y="-5.726562" style="font-size: 9.8px; font-family: 'DejaVu Serif'">−</tspan>
<tspan x="26.15293" y="-5.726562" style="font-size: 9.8px; font-family: 'DejaVu Serif'">3</tspan>
</text>
</g>
</g>
</g>
<g>
<g>
<g>
<path d="M 0 0 L -3.5 0" transform="translate(76.376471 69.802909)" style="stroke: #000000; stroke: #000000"/>
</g>
</g>
<g>
<!-- $\mathdefault{10^{-1}}$ -->
<g transform="translate(36.016471 75.498)">
<text>
<tspan x="0" y="-0.640625" style="font-size: 14px; font-family: 'DejaVu Serif'">1</tspan>
<tspan x="8.907227" y="-0.640625" style="font-size: 14px; font-family: 'DejaVu Serif'">0</tspan>
<tspan x="17.941602" y="-5.726562" style="font-size: 9.8px; font-family: 'DejaVu Serif'">−</tspan>
<tspan x="26.15293" y="-5.726562" style="font-size: 9.8px; font-family: 'DejaVu Serif'">1</tspan>
</text>
</g>
</g>
</g>
<g>
<!-- $\langle\rho\rangle$ [arb. units] -->
<g transform="translate(28.236471 230.180588) rotate(-90)">
<text>
<tspan x="0" y="-0.328125" style="font-size: 18px; font-family: 'DejaVu Sans'">⟨</tspan>
<tspan x="18.448242" y="-0.328125" style="font-size: 18px; font-family: 'DejaVu Sans'">⟩</tspan>
<tspan x="7.022461" y="-0.328125" style="font-style: oblique; font-size: 18px; font-family: 'DejaVu Sans'">ρ</tspan>
<tspan x="25.470703" y="-0.328125" style="font-size: 18px; font-family: 'DejaVu Serif'"> </tspan>
<tspan x="31.192383" y="-0.328125" style="font-size: 18px; font-family: 'DejaVu Serif'">[</tspan>
<tspan x="38.214844" y="-0.328125" style="font-size: 18px; font-family: 'DejaVu Serif'">a</tspan>
<tspan x="48.946289" y="-0.328125" style="font-size: 18px; font-family: 'DejaVu Serif'">r</tspan>
<tspan x="57.550781" y="-0.328125" style="font-size: 18px; font-family: 'DejaVu Serif'">b</tspan>
<tspan x="69.073242" y="-0.328125" style="font-size: 18px; font-family: 'DejaVu Serif'">.</tspan>
<tspan x="74.794922" y="-0.328125" style="font-size: 18px; font-family: 'DejaVu Serif'"> </tspan>
<tspan x="80.516602" y="-0.328125" style="font-size: 18px; font-family: 'DejaVu Serif'">u</tspan>
<tspan x="92.109375" y="-0.328125" style="font-size: 18px; font-family: 'DejaVu Serif'">n</tspan>
<tspan x="103.702148" y="-0.328125" style="font-size: 18px; font-family: 'DejaVu Serif'">i</tspan>
<tspan x="109.458984" y="-0.328125" style="font-size: 18px; font-family: 'DejaVu Serif'">t</tspan>
<tspan x="116.692383" y="-0.328125" style="font-size: 18px; font-family: 'DejaVu Serif'">s</tspan>
<tspan x="125.929688" y="-0.328125" style="font-size: 18px; font-family: 'DejaVu Serif'">]</tspan>
</text>
</g>
</g>
</g>
<g>
<path d="M 65.88 73.98 L 66.59 74.52 L 67.29 75.06 L 68 75.6 L 68.71 76.15 L 69.41 76.69 L 70.12 77.23 L 70.82 77.77 L 71.53 78.32 L 72.24 78.86 L 72.94 79.4 L 73.65 79.94 L 74.35 80.48 L 75.06 81.02 L 75.76 81.56 L 76.47 82.1 L 77.18 82.64 L 77.88 83.18 L 78.59 83.72 L 79.29 84.26 L 80 84.8 L 80.71 85.34 L 81.41 85.88 L 82.12 86.41 L 82.82 86.95 L 83.53 87.49 L 84.24 88.03 L 84.94 88.56 L 85.65 89.1 L 86.35 89.64 L 87.06 90.17 L 87.76 90.71 L 88.47 91.24 L 89.18 91.78 L 89.88 92.31 L 90.59 92.85 L 91.29 93.38 L 92 93.92 L 92.71 94.45 L 93.41 94.99 L 94.12 95.52 L 94.82 96.06 L 95.53 96.59 L 96.24 97.12 L 96.94 97.66 L 97.65 98.19 L 98.35 98.73 L 99.06 99.26 L 99.76 99.79 L 100.47 100.33 L 101.18 100.86 L 101.88 101.39 L 102.59 101.93 L 103.29 102.46 L 104 102.99 L 104.71 103.53 L 105.41 104.06 L 106.12 104.59 L 106.82 105.13 L 107.53 105.66 L 108.24 106.19 L 108.94 106.73 L 109.65 107.26 L 110.35 107.79 L 111.06 108.33 L 111.76 108.86 L 112.47 109.4 L 113.18 109.93 L 113.88 110.46 L 114.59 111 L 115.29 111.53 L 116 112.07 L 116.71 112.6 L 117.41 113.14 L 118.12 113.67 L 118.82 114.21 L 119.53 114.74 L 120.24 115.28 L 120.94 115.81 L 121.65 116.35 L 122.35 116.88 L 123.06 117.42 L 123.76 117.96 L 124.47 118.49 L 125.18 119.03 L 125.88 119.57 L 126.59 120.11 L 127.29 120.64 L 128 121.18 L 128.71 121.72 L 129.41 122.26 L 130.12 122.8 L 130.82 123.34 L 131.53 123.88 L 132.24 124.42 L 132.94 124.96 L 133.65 125.5 L 134.35 126.04 L 135.06 126.58 L 135.76 127.12 L 136.47 127.66 L 137.18 128.21 L 137.88 128.75 L 138.59 129.29 L 139.29 129.84 L 140 130.38 L 140.71 130.93 L 141.41 131.47 L 142.12 132.02 L 142.82 132.56 L 143.53 133.11 L 144.24 133.66 L 144.94 134.2 L 145.65 134.75 L 146.35 135.3 L 147.06 135.85 L 147.76 136.4 L 148.47 136.95 L 149.18 137.5 L 149.88 138.05 L 150.59 138.6 L 151.29 139.15 L 152 139.71 L 152.71 140.26 L 153.41 140.81 L 154.12 141.37 L 154.82 141.92 L 155.53 142.48 L 156.24 143.03 L 156.94 143.59 L 157.65 144.15 L 158.35 144.71 L 159.06 145.26 L 159.76 145.82 L 160.47 146.38 L 161.18 146.94 L 161.88 147.51 L 162.59 148.07 L 163.29 148.63 L 164 149.19 L 164.71 149.75 L 165.41 150.32 L 166.12 150.88 L 166.82 151.45 L 167.53 152.01 L 168.24 152.58 L 168.94 153.14 L 169.65 153.71 L 170.35 154.27 L 171.06 154.84 L 171.76 155.4 L 172.47 155.97 L 173.18 156.53 L 173.88 157.1 L 174.59 157.67 L 175.29 158.23 L 176 158.8 L 176.71 159.36 L 177.41 159.93 L 178.12 160.49 L 178.82 161.06 L 179.53 161.62 L 180.24 162.19 L 180.94 162.75 L 181.65 163.32 L 182.35 163.88 L 183.06 164.45 L 183.76 165.01 L 184.47 165.57 L 185.18 166.14 L 185.88 166.7 L 186.59 167.26 L 187.29 167.82 L 188 168.38 L 188.71 168.94 L 189.41 169.5 L 190.12 170.06 L 190.82 170.62 L 191.53 171.18 L 192.24 171.74 L 192.94 172.29 L 193.65 172.85 L 194.35 173.41 L 195.06 173.96 L 195.76 174.52 L 196.47 175.07 L 197.18 175.63 L 197.88 176.18 L 198.59 176.73 L 199.29 177.29 L 200 177.84 L 200.71 178.39 L 201.41 178.94 L 202.12 179.49 L 202.82 180.04 L 203.53 180.59 L 204.24 181.14 L 204.94 181.69 L 205.65 182.23 L 206.35 182.78 L 207.06 183.33 L 207.76 183.87 L 208.47 184.42 L 209.18 184.96 L 209.88 185.5 L 210.59 186.05 L 211.29 186.59 L 212 187.13 L 212.71 187.67 L 213.41 188.21 L 214.12 188.75 L 214.82 189.29 L 215.53 189.83 L 216.24 190.36 L 216.94 190.9 L 217.65 191.44 L 218.35 191.97 L 219.06 192.51 L 219.76 193.04 L 220.47 193.58 L 221.18 194.11 L 221.88 194.64 L 222.59 195.17 L 223.29 195.71 L 224 196.24 L 224.71 196.77 L 225.41 197.3 L 226.12 197.83 L 226.82 198.36 L 227.53 198.9 L 228.24 199.43 L 228.94 199.96 L 229.65 200.49 L 230.35 201.02 L 231.06 201.55 L 231.76 202.08 L 232.47 202.61 L 233.18 203.14 L 233.88 203.67 L 234.59 204.2 L 235.29 204.73 L 236 205.26 L 236.71 205.79 L 237.41 206.32 L 238.12 206.85 L 238.82 207.38 L 239.53 207.91 L 240.24 208.45 L 240.94 208.98 L 241.65 209.51 L 242.35 210.04 L 243.06 210.58 L 243.76 211.11 L 244.47 211.65 L 245.18 212.18 L 245.88 212.72 L 246.59 213.25 L 247.29 213.79 L 248 214.32 L 248.71 214.86 L 249.41 215.39 L 250.12 215.93 L 250.82 216.47 L 251.53 217 L 252.24 217.54 L 252.94 218.07 L 253.65 218.61 L 254.35 219.14 L 255.06 219.68 L 255.76 220.21 L 256.47 220.74 L 257.18 221.28 L 257.88 221.81 L 258.59 222.34 L 259.29 222.87 L 260 223.4 L 260.71 223.93 L 261.41 224.46 L 262.12 224.98 L 262.82 225.51 L 263.53 226.03 L 264.24 226.56 L 264.94 227.08 L 265.65 227.6 L 266.35 228.12 L 267.06 228.64 L 267.76 229.15 L 268.47 229.67 L 269.18 230.18 L 269.88 230.69 L 270.59 231.2 L 271.29 231.71 L 272 232.22 L 272.71 232.72 L 273.41 233.23 L 274.12 233.73 L 274.82 234.22 L 275.53 234.72 L 276.24 235.21 L 276.94 235.71 L 277.65 236.2 L 278.35 236.68 L 279.06 237.17 L 279.76 237.65 L 280.47 238.13 L 281.18 238.61 L 281.88 239.08 L 282.59 239.55 L 283.29 240.02 L 284 240.48 L 284.71 240.95 L 285.41 241.4 L 286.12 241.86 L 286.82 242.31 L 287.53 242.76 L 288.24 243.21 L 288.94 243.65 L 289.65 244.09 L 290.35 244.52 L 291.06 244.95 L 291.76 245.38 L 292.47 245.8 L 293.18 246.22 L 293.88 246.63 L 294.59 247.05 L 295.29 247.45 L 296 247.85 L 296.71 248.25 L 297.41 248.65 L 298.12 249.03 L 298.82 249.42 L 299.53 249.8 L 300.24 250.17 L 300.94 250.54 L 301.65 250.91 L 302.35 251.27 L 303.06 251.62 L 303.76 251.97 L 304.47 252.31 L 305.18 252.65 L 305.88 252.99 L 306.59 253.32 L 307.29 253.64 L 308 253.96 L 308.71 254.27 L 309.41 254.58 L 310.12 254.88 L 310.82 255.18 L 311.53 255.47 L 312.24 255.76 L 312.94 256.04 L 313.65 256.33 L 314.35 256.6 L 315.06 256.88 L 315.76 257.14 L 316.47 257.41 L 317.18 257.67 L 317.88 257.93 L 318.59 258.19 L 319.29 258.44 L 320 258.69 L 320.71 258.94 L 321.41 259.18 L 322.12 259.42 L 322.82 259.66 L 323.53 259.9 L 324.24 260.13 L 324.94 260.36 L 325.65 260.6 L 326.35 260.82 L 327.06 261.05 L 327.76 261.28 L 328.47 261.5 L 329.18 261.72 L 329.88 261.94 L 330.59 262.15 L 331.29 262.37 L 332 262.58 L 332.71 262.78 L 333.41 262.99 L 334.12 263.19 L 334.82 263.38 L 335.53 263.58 L 336.24 263.77 L 336.94 263.96 L 337.65 264.14 L 338.35 264.32 L 339.06 264.49 L 339.76 264.66 L 340.47 264.83 L 341.18 264.99 L 341.88 265.15 L 342.59 265.3 L 343.29 265.45 L 344 265.59 L 344.71 265.73 L 345.41 265.87 L 346.12 265.99 L 346.82 266.12 L 347.53 266.23 L 348.24 266.34 L 348.94 266.45 L 349.65 266.55 L 350.35 266.65 L 351.06 266.75 L 351.76 266.83 L 352.47 266.92 L 353.18 267 L 353.88 267.08 L 354.59 267.15 L 355.29 267.22 L 356 267.29 L 356.71 267.35 L 357.41 267.41 L 358.12 267.47 L 358.82 267.53 L 359.53 267.58 L 360.24 267.63 L 360.94 267.68 L 361.65 267.72 L 362.35 267.77 L 363.06 267.81 L 363.76 267.85 L 364.47 267.89 L 365.18 267.93 L 365.88 267.97 L 366.59 268 L 367.29 268.04 L 368 268.07 L 368.71 268.11 L 369.41 268.14 L 370.12 268.17 L 370.82 268.2 L 371.53 268.23 L 372.24 268.26 L 372.94 268.29 L 373.65 268.32 L 374.35 268.34 L 375.06 268.37 L 375.76 268.4 L 376.47 268.42 L 377.18 268.45 L 377.88 268.47 L 378.59 268.49 L 379.29 268.51 L 380 268.54 L 380.71 268.56 L 381.41 268.58 L 382.12 268.6 L 382.82 268.62 L 383.53 268.64 L 384.24 268.65 L 384.94 268.67 L 385.65 268.69 L 386.35 268.71 L 387.06 268.72 L 387.76 268.74 L 388.47 268.76 L 389.18 268.77 L 389.88 268.79 L 390.59 268.8 L 391.29 268.82 L 392 268.83 L 392.71 268.85 L 393.41 268.86 L 394.12 268.88 L 394.82 268.89 L 395.53 268.91 L 396.24 268.92 L 396.94 268.93 L 397.65 268.95 L 398.35 268.96 L 399.06 268.97 L 399.76 268.99 L 400.47 269 L 401.18 269.01 L 401.88 269.03 L 402.59 269.04 L 403.29 269.05 L 404 269.07 L 404.71 269.08 L 405.41 269.09 L 406.12 269.1 L 406.82 269.12 L 407.53 269.13 L 408.24 269.14 L 408.94 269.15 L 409.65 269.16 L 410.35 269.17 L 411.06 269.19 L 411.76 269.2 L 412.47 269.21 L 413.18 269.22 L 413.88 269.23 L 414.59 269.24 L 415.29 269.25 L 416 269.26 L 416.71 269.27 L 417.41 269.29 L 418.12 269.3 L 418.82 269.31 L 419.53 269.32 L 420.24 269.33 L 420.94 269.34 L 421.65 269.35 L 422.35 269.36 L 423.06 269.37 L 423.76 269.38 L 424.47 269.39 L 425.18 269.4 L 425.88 269.4 L 426.59 269.41 L 427.29 269.42 L 428 269.43 L 428.71 269.44 L 429.41 269.45 L 430.12 269.46 L 430.82 269.47 L 431.53 269.48 L 432.24 269.49 L 432.94 269.49 L 433.65 269.5 L 434.35 269.51 L 435.06 269.52 L 435.76 269.53 L 436.47 269.53 L 437.18 269.54 L 437.88 269.55 L 438.59 269.56 L 439.29 269.57 L 440 269.57 L 440.71 269.58 L 441.41 269.59 L 442.12 269.6 L 442.82 269.6 L 443.53 269.61 L 444.24 269.62 L 444.94 269.62 L 445.65 269.63 L 446.35 269.64 L 447.06 269.64 L 447.76 269.65 L 448.47 269.66 L 449.18 269.66 L 449.88 269.67 L 450.59 269.67 L 451.29 269.68 L 452 269.68 L 452.71 269.69 L 453.41 269.7 L 454.12 269.7 L 454.82 269.71 L 455.53 269.71 L 456.24 269.72 L 456.94 269.72 L 457.65 269.73 L 458.35 269.73 L 459.06 269.73 L 459.76 269.74 L 460.47 269.74 L 461.18 269.75 L 461.88 269.75 L 462.59 269.75 L 463.29 269.76 L 464 269.76 L 464.71 269.76 L 465.41 269.77 L 466.12 269.77 L 466.82 269.77 L 467.53 269.77 L 468.24 269.78 L 468.94 269.78 L 469.65 269.78 L 470.35 269.78 L 471.06 269.78 L 471.76 269.79 L 472.47 269.79 L 473.18 269.79 L 473.88 269.79 L 474.59 269.79 L 475.29 269.79 L 476 269.79 L 476.71 269.79 L 477.41 269.79 L 478.12 269.79 L 478.82 269.79 L 479.53 269.79 L 480.24 269.79 L 480.94 269.79 L 481.65 269.79 L 482.35 269.79 L 483.06 269.79 L 483.76 269.79 L 484.47 269.79 L 485.18 269.79 L 485.88 269.79 L 486.59 269.79 L 487.06 269.79" clip-path="url(#p38bddb22ce)" style="fill: none; stroke: #708090; stroke-opacity: 0.5; stroke-width: 10"/>
</g>
<g>
<path d="M 65.88 72.19 L 66.59 72.73 L 67.29 73.28 L 68 73.83 L 68.71 74.37 L 69.41 74.92 L 70.12 75.46 L 70.82 76.01 L 71.53 76.55 L 72.24 77.1 L 72.94 77.64 L 73.65 78.19 L 74.35 78.73 L 75.06 79.28 L 75.76 79.82 L 76.47 80.36 L 77.18 80.9 L 77.88 81.45 L 78.59 81.99 L 79.29 82.53 L 80 83.07 L 80.71 83.61 L 81.41 84.15 L 82.12 84.69 L 82.82 85.23 L 83.53 85.77 L 84.24 86.31 L 84.94 86.85 L 85.65 87.39 L 86.35 87.92 L 87.06 88.46 L 87.76 89 L 88.47 89.54 L 89.18 90.07 L 89.88 90.61 L 90.59 91.15 L 91.29 91.69 L 92 92.22 L 92.71 92.76 L 93.41 93.3 L 94.12 93.83 L 94.82 94.37 L 95.53 94.91 L 96.24 95.44 L 96.94 95.98 L 97.65 96.52 L 98.35 97.05 L 99.06 97.59 L 99.76 98.13 L 100.47 98.67 L 101.18 99.2 L 101.88 99.74 L 102.59 100.28 L 103.29 100.82 L 104 101.35 L 104.71 101.89 L 105.41 102.43 L 106.12 102.97 L 106.82 103.51 L 107.53 104.05 L 108.24 104.59 L 108.94 105.13 L 109.65 105.67 L 110.35 106.21 L 111.06 106.75 L 111.76 107.29 L 112.47 107.84 L 113.18 108.38 L 113.88 108.92 L 114.59 109.46 L 115.29 110.01 L 116 110.55 L 116.71 111.1 L 117.41 111.64 L 118.12 112.19 L 118.82 112.74 L 119.53 113.28 L 120.24 113.83 L 120.94 114.38 L 121.65 114.93 L 122.35 115.48 L 123.06 116.03 L 123.76 116.58 L 124.47 117.13 L 125.18 117.68 L 125.88 118.23 L 126.59 118.78 L 127.29 119.33 L 128 119.89 L 128.71 120.44 L 129.41 120.99 L 130.12 121.55 L 130.82 122.1 L 131.53 122.65 L 132.24 123.21 L 132.94 123.76 L 133.65 124.32 L 134.35 124.87 L 135.06 125.43 L 135.76 125.99 L 136.47 126.54 L 137.18 127.1 L 137.88 127.66 L 138.59 128.21 L 139.29 128.77 L 140 129.33 L 140.71 129.88 L 141.41 130.44 L 142.12 131 L 142.82 131.56 L 143.53 132.11 L 144.24 132.67 L 144.94 133.23 L 145.65 133.79 L 146.35 134.35 L 147.06 134.91 L 147.76 135.46 L 148.47 136.02 L 149.18 136.58 L 149.88 137.14 L 150.59 137.7 L 151.29 138.26 L 152 138.81 L 152.71 139.37 L 153.41 139.93 L 154.12 140.49 L 154.82 141.05 L 155.53 141.6 L 156.24 142.16 L 156.94 142.72 L 157.65 143.28 L 158.35 143.83 L 159.06 144.39 L 159.76 144.95 L 160.47 145.5 L 161.18 146.06 L 161.88 146.62 L 162.59 147.18 L 163.29 147.73 L 164 148.29 L 164.71 148.84 L 165.41 149.4 L 166.12 149.96 L 166.82 150.51 L 167.53 151.07 L 168.24 151.63 L 168.94 152.18 L 169.65 152.74 L 170.35 153.29 L 171.06 153.85 L 171.76 154.41 L 172.47 154.96 L 173.18 155.52 L 173.88 156.07 L 174.59 156.63 L 175.29 157.19 L 176 157.74 L 176.71 158.3 L 177.41 158.85 L 178.12 159.41 L 178.82 159.97 L 179.53 160.52 L 180.24 161.08 L 180.94 161.63 L 181.65 162.19 L 182.35 162.74 L 183.06 163.3 L 183.76 163.86 L 184.47 164.41 L 185.18 164.97 L 185.88 165.52 L 186.59 166.08 L 187.29 166.64 L 188 167.19 L 188.71 167.75 L 189.41 168.3 L 190.12 168.86 L 190.82 169.42 L 191.53 169.97 L 192.24 170.53 L 192.94 171.08 L 193.65 171.64 L 194.35 172.19 L 195.06 172.75 L 195.76 173.3 L 196.47 173.85 L 197.18 174.41 L 197.88 174.96 L 198.59 175.51 L 199.29 176.07 L 200 176.62 L 200.71 177.17 L 201.41 177.72 L 202.12 178.27 L 202.82 178.82 L 203.53 179.37 L 204.24 179.92 L 204.94 180.47 L 205.65 181.02 L 206.35 181.57 L 207.06 182.12 L 207.76 182.67 L 208.47 183.21 L 209.18 183.76 L 209.88 184.3 L 210.59 184.85 L 211.29 185.39 L 212 185.93 L 212.71 186.48 L 213.41 187.02 L 214.12 187.56 L 214.82 188.1 L 215.53 188.64 L 216.24 189.18 L 216.94 189.71 L 217.65 190.25 L 218.35 190.79 L 219.06 191.32 L 219.76 191.86 L 220.47 192.39 L 221.18 192.93 L 221.88 193.46 L 222.59 194 L 223.29 194.53 L 224 195.06 L 224.71 195.6 L 225.41 196.13 L 226.12 196.66 L 226.82 197.19 L 227.53 197.72 L 228.24 198.25 L 228.94 198.79 L 229.65 199.32 L 230.35 199.85 L 231.06 200.38 L 231.76 200.91 L 232.47 201.44 L 233.18 201.98 L 233.88 202.51 L 234.59 203.04 L 235.29 203.57 L 236 204.11 L 236.71 204.64 L 237.41 205.17 L 238.12 205.71 L 238.82 206.24 L 239.53 206.78 L 240.24 207.31 L 240.94 207.85 L 241.65 208.38 L 242.35 208.92 L 243.06 209.46 L 243.76 210 L 244.47 210.53 L 245.18 211.07 L 245.88 211.61 L 246.59 212.15 L 247.29 212.7 L 248 213.24 L 248.71 213.78 L 249.41 214.32 L 250.12 214.86 L 250.82 215.41 L 251.53 215.95 L 252.24 216.49 L 252.94 217.03 L 253.65 217.57 L 254.35 218.11 L 255.06 218.66 L 255.76 219.2 L 256.47 219.74 L 257.18 220.27 L 257.88 220.81 L 258.59 221.35 L 259.29 221.89 L 260 222.42 L 260.71 222.96 L 261.41 223.49 L 262.12 224.02 L 262.82 224.56 L 263.53 225.08 L 264.24 225.61 L 264.94 226.14 L 265.65 226.67 L 266.35 227.19 L 267.06 227.71 L 267.76 228.23 L 268.47 228.75 L 269.18 229.27 L 269.88 229.78 L 270.59 230.29 L 271.29 230.8 L 272 231.31 L 272.71 231.82 L 273.41 232.32 L 274.12 232.82 L 274.82 233.32 L 275.53 233.81 L 276.24 234.31 L 276.94 234.8 L 277.65 235.28 L 278.35 235.77 L 279.06 236.25 L 279.76 236.73 L 280.47 237.2 L 281.18 237.67 L 281.88 238.14 L 282.59 238.61 L 283.29 239.07 L 284 239.53 L 284.71 239.99 L 285.41 240.44 L 286.12 240.89 L 286.82 241.34 L 287.53 241.78 L 288.24 242.22 L 288.94 242.66 L 289.65 243.09 L 290.35 243.52 L 291.06 243.95 L 291.76 244.38 L 292.47 244.8 L 293.18 245.21 L 293.88 245.63 L 294.59 246.04 L 295.29 246.45 L 296 246.85 L 296.71 247.25 L 297.41 247.65 L 298.12 248.04 L 298.82 248.43 L 299.53 248.82 L 300.24 249.2 L 300.94 249.58 L 301.65 249.95 L 302.35 250.32 L 303.06 250.69 L 303.76 251.06 L 304.47 251.42 L 305.18 251.77 L 305.88 252.13 L 306.59 252.48 L 307.29 252.82 L 308 253.16 L 308.71 253.5 L 309.41 253.84 L 310.12 254.17 L 310.82 254.49 L 311.53 254.82 L 312.24 255.13 L 312.94 255.45 L 313.65 255.76 L 314.35 256.06 L 315.06 256.37 L 315.76 256.66 L 316.47 256.96 L 317.18 257.25 L 317.88 257.53 L 318.59 257.81 L 319.29 258.09 L 320 258.36 L 320.71 258.63 L 321.41 258.89 L 322.12 259.15 L 322.82 259.4 L 323.53 259.65 L 324.24 259.9 L 324.94 260.14 L 325.65 260.37 L 326.35 260.6 L 327.06 260.83 L 327.76 261.05 L 328.47 261.27 L 329.18 261.48 L 329.88 261.69 L 330.59 261.89 L 331.29 262.09 L 332 262.29 L 332.71 262.47 L 333.41 262.66 L 334.12 262.84 L 334.82 263.01 L 335.53 263.19 L 336.24 263.35 L 336.94 263.51 L 337.65 263.67 L 338.35 263.82 L 339.06 263.97 L 339.76 264.12 L 340.47 264.26 L 341.18 264.39 L 341.88 264.52 L 342.59 264.65 L 343.29 264.77 L 344 264.89 L 344.71 265 L 345.41 265.11 L 346.12 265.21 L 346.82 265.31 L 347.53 265.41 L 348.24 265.5 L 348.94 265.58 L 349.65 265.67 L 350.35 265.75 L 351.06 265.83 L 351.76 265.9 L 352.47 265.97 L 353.18 266.04 L 353.88 266.11 L 354.59 266.18 L 355.29 266.24 L 356 266.3 L 356.71 266.36 L 357.41 266.42 L 358.12 266.48 L 358.82 266.54 L 359.53 266.6 L 360.24 266.65 L 360.94 266.71 L 361.65 266.77 L 362.35 266.82 L 363.06 266.88 L 363.76 266.94 L 364.47 267 L 365.18 267.05 L 365.88 267.11 L 366.59 267.17 L 367.29 267.23 L 368 267.28 L 368.71 267.34 L 369.41 267.4 L 370.12 267.45 L 370.82 267.51 L 371.53 267.56 L 372.24 267.62 L 372.94 267.67 L 373.65 267.72 L 374.35 267.77 L 375.06 267.82 L 375.76 267.86 L 376.47 267.91 L 377.18 267.95 L 377.88 267.99 L 378.59 268.03 L 379.29 268.07 L 380 268.1 L 380.71 268.14 L 381.41 268.17 L 382.12 268.2 L 382.82 268.23 L 383.53 268.26 L 384.24 268.29 L 384.94 268.32 L 385.65 268.34 L 386.35 268.37 L 387.06 268.39 L 387.76 268.41 L 388.47 268.43 L 389.18 268.46 L 389.88 268.47 L 390.59 268.49 L 391.29 268.51 L 392 268.53 L 392.71 268.55 L 393.41 268.56 L 394.12 268.58 L 394.82 268.6 L 395.53 268.61 L 396.24 268.63 L 396.94 268.64 L 397.65 268.66 L 398.35 268.67 L 399.06 268.69 L 399.76 268.7 L 400.47 268.72 L 401.18 268.73 L 401.88 268.74 L 402.59 268.76 L 403.29 268.77 L 404 268.79 L 404.71 268.8 L 405.41 268.82 L 406.12 268.83 L 406.82 268.85 L 407.53 268.86 L 408.24 268.88 L 408.94 268.89 L 409.65 268.91 L 410.35 268.92 L 411.06 268.94 L 411.76 268.95 L 412.47 268.96 L 413.18 268.98 L 413.88 268.99 L 414.59 269.01 L 415.29 269.02 L 416 269.04 L 416.71 269.05 L 417.41 269.06 L 418.12 269.08 L 418.82 269.09 L 419.53 269.1 L 420.24 269.12 L 420.94 269.13 L 421.65 269.14 L 422.35 269.16 L 423.06 269.17 L 423.76 269.18 L 424.47 269.19 L 425.18 269.21 L 425.88 269.22 L 426.59 269.23 L 427.29 269.24 L 428 269.25 L 428.71 269.26 L 429.41 269.27 L 430.12 269.29 L 430.82 269.3 L 431.53 269.31 L 432.24 269.32 L 432.94 269.33 L 433.65 269.34 L 434.35 269.35 L 435.06 269.36 L 435.76 269.37 L 436.47 269.38 L 437.18 269.39 L 437.88 269.4 L 438.59 269.41 L 439.29 269.42 L 440 269.42 L 440.71 269.43 L 441.41 269.44 L 442.12 269.45 L 442.82 269.46 L 443.53 269.47 L 444.24 269.48 L 444.94 269.49 L 445.65 269.49 L 446.35 269.5 L 447.06 269.51 L 447.76 269.52 L 448.47 269.53 L 449.18 269.53 L 449.88 269.54 L 450.59 269.55 L 451.29 269.56 L 452 269.56 L 452.71 269.57 L 453.41 269.58 L 454.12 269.59 L 454.82 269.59 L 455.53 269.6 L 456.24 269.61 L 456.94 269.62 L 457.65 269.62 L 458.35 269.63 L 459.06 269.64 L 459.76 269.64 L 460.47 269.65 L 461.18 269.66 L 461.88 269.66 L 462.59 269.67 L 463.29 269.68 L 464 269.68 L 464.71 269.69 L 465.41 269.7 L 466.12 269.7 L 466.82 269.71 L 467.53 269.72 L 468.24 269.72 L 468.94 269.73 L 469.65 269.74 L 470.02 269.74" clip-path="url(#p38bddb22ce)" style="fill: none; stroke: #d62728; stroke-width: 3; stroke-linecap: square"/>
</g>
<g>
<path d="M 65.88 134.49 L 66.59 134.93 L 67.29 135.37 L 68 135.81 L 68.71 136.25 L 69.41 136.69 L 70.12 137.13 L 70.82 137.57 L 71.53 138.01 L 72.24 138.45 L 72.94 138.89 L 73.65 139.33 L 74.35 139.78 L 75.06 140.22 L 75.76 140.66 L 76.47 141.11 L 77.18 141.56 L 77.88 142 L 78.59 142.45 L 79.29 142.9 L 80 143.35 L 80.71 143.8 L 81.41 144.25 L 82.12 144.7 L 82.82 145.15 L 83.53 145.61 L 84.24 146.06 L 84.94 146.51 L 85.65 146.97 L 86.35 147.42 L 87.06 147.88 L 87.76 148.34 L 88.47 148.79 L 89.18 149.25 L 89.88 149.71 L 90.59 150.17 L 91.29 150.62 L 92 151.08 L 92.71 151.54 L 93.41 152 L 94.12 152.46 L 94.82 152.92 L 95.53 153.38 L 96.24 153.84 L 96.94 154.3 L 97.65 154.76 L 98.35 155.22 L 99.06 155.68 L 99.76 156.14 L 100.47 156.6 L 101.18 157.05 L 101.88 157.51 L 102.59 157.97 L 103.29 158.42 L 104 158.88 L 104.71 159.33 L 105.41 159.78 L 106.12 160.23 L 106.82 160.68 L 107.53 161.12 L 108.24 161.57 L 108.94 162.01 L 109.65 162.45 L 110.35 162.89 L 111.06 163.33 L 111.76 163.76 L 112.47 164.2 L 113.18 164.63 L 113.88 165.05 L 114.59 165.48 L 115.29 165.9 L 116 166.32 L 116.71 166.74 L 117.41 167.15 L 118.12 167.56 L 118.82 167.97 L 119.53 168.38 L 120.24 168.79 L 120.94 169.19 L 121.65 169.6 L 122.35 170 L 123.06 170.4 L 123.76 170.8 L 124.47 171.2 L 125.18 171.6 L 125.88 172 L 126.59 172.4 L 127.29 172.8 L 128 173.2 L 128.71 173.59 L 129.41 173.99 L 130.12 174.39 L 130.82 174.79 L 131.53 175.19 L 132.24 175.6 L 132.94 176 L 133.65 176.4 L 134.35 176.81 L 135.06 177.22 L 135.76 177.62 L 136.47 178.03 L 137.18 178.44 L 137.88 178.85 L 138.59 179.26 L 139.29 179.67 L 140 180.08 L 140.71 180.49 L 141.41 180.89 L 142.12 181.3 L 142.82 181.7 L 143.53 182.1 L 144.24 182.5 L 144.94 182.9 L 145.65 183.3 L 146.35 183.69 L 147.06 184.08 L 147.76 184.46 L 148.47 184.84 L 149.18 185.22 L 149.88 185.59 L 150.59 185.96 L 151.29 186.32 L 152 186.67 L 152.71 187.01 L 153.41 187.33 L 154.12 187.65 L 154.82 187.95 L 155.53 188.23 L 156.24 188.51 L 156.94 188.76 L 157.65 189.01 L 158.35 189.26 L 159.06 189.5 L 159.76 189.75 L 160.47 190 L 161.18 190.25 L 161.88 190.52 L 162.59 190.8 L 163.29 191.11 L 164 191.43 L 164.71 191.77 L 165.41 192.15 L 166.12 192.55 L 166.82 192.99 L 167.53 193.47 L 168.24 193.98 L 168.94 194.53 L 169.65 195.1 L 170.35 195.7 L 171.06 196.33 L 171.76 196.97 L 172.47 197.64 L 173.18 198.31 L 173.88 198.99 L 174.59 199.68 L 175.29 200.37 L 176 201.06 L 176.71 201.74 L 177.41 202.42 L 178.12 203.08 L 178.82 203.73 L 179.53 204.36 L 180.24 204.97 L 180.94 205.56 L 181.65 206.13 L 182.35 206.69 L 183.06 207.23 L 183.76 207.75 L 184.47 208.26 L 185.18 208.74 L 185.88 209.22 L 186.59 209.67 L 187.29 210.12 L 188 210.55 L 188.71 210.96 L 189.41 211.37 L 190.12 211.76 L 190.82 212.14 L 191.53 212.52 L 192.24 212.88 L 192.94 213.24 L 193.65 213.59 L 194.35 213.93 L 195.06 214.27 L 195.76 214.6 L 196.47 214.92 L 197.18 215.25 L 197.88 215.57 L 198.59 215.89 L 199.29 216.21 L 200 216.53 L 200.71 216.85 L 201.41 217.17 L 202.12 217.5 L 202.82 217.83 L 203.53 218.16 L 204.24 218.49 L 204.94 218.84 L 205.65 219.19 L 206.35 219.54 L 207.06 219.91 L 207.76 220.28 L 208.47 220.66 L 209.18 221.05 L 209.88 221.46 L 210.59 221.87 L 211.29 222.31 L 212 222.77 L 212.71 223.25 L 213.41 223.75 L 214.12 224.29 L 214.82 224.85 L 215.53 225.44 L 216.24 226.05 L 216.94 226.68 L 217.65 227.33 L 218.35 227.99 L 219.06 228.65 L 219.76 229.31 L 220.47 229.96 L 221.18 230.61 L 221.88 231.25 L 222.59 231.89 L 223.29 232.52 L 224 233.15 L 224.71 233.77 L 225.41 234.4 L 226.12 235.02 L 226.82 235.65 L 227.53 236.27 L 228.24 236.88 L 228.94 237.48 L 229.65 238.06 L 230.35 238.62 L 231.06 239.14 L 231.76 239.64 L 232.47 240.1 L 233.18 240.52 L 233.88 240.91 L 234.59 241.27 L 235.29 241.61 L 236 241.93 L 236.71 242.25 L 237.41 242.56 L 238.12 242.86 L 238.82 243.18 L 239.53 243.49 L 240.24 243.82 L 240.94 244.14 L 241.65 244.47 L 242.35 244.79 L 243.06 245.13 L 243.76 245.46 L 244.47 245.79 L 245.18 246.12 L 245.88 246.46 L 246.59 246.79 L 247.29 247.12 L 248 247.45 L 248.71 247.78 L 249.41 248.11 L 250.12 248.43 L 250.82 248.75 L 251.53 249.06 L 252.24 249.37 L 252.94 249.68 L 253.65 250 L 254.35 250.31 L 255.06 250.63 L 255.76 250.96 L 256.47 251.3 L 257.18 251.65 L 257.88 252.01 L 258.59 252.39 L 259.29 252.78 L 260 253.2 L 260.71 253.64 L 261.41 254.1 L 262.12 254.58 L 262.82 255.09 L 263.53 255.61 L 264.24 256.14 L 264.94 256.68 L 265.65 257.23 L 266.35 257.78 L 267.06 258.34 L 267.76 258.88 L 268.47 259.43 L 269.18 259.96 L 269.88 260.48 L 270.59 260.98 L 271.29 261.47 L 272 261.93 L 272.71 262.38 L 273.41 262.81 L 274.12 263.23 L 274.82 263.62 L 275.53 264.01 L 276.24 264.38 L 276.94 264.74 L 277.65 265.08 L 278.35 265.42 L 279.06 265.74 L 279.76 266.06 L 280.47 266.37 L 281.18 266.66 L 281.88 266.95 L 282.59 267.22 L 283.29 267.49 L 284 267.75 L 284.71 268 L 285.41 268.25 L 286.12 268.48 L 286.82 268.7 L 287.53 268.92 L 288.24 269.13 L 288.94 269.34 L 289.65 269.53 L 290.35 269.72 L 291.06 269.91 L 291.76 270.09 L 292.47 270.26 L 293.18 270.43 L 293.88 270.6 L 294.59 270.76 L 295.29 270.92 L 296 271.08 L 296.71 271.24 L 297.41 271.39 L 298.12 271.55 L 298.82 271.7 L 299.53 271.85 L 300.24 271.99 L 300.94 272.14 L 301.65 272.27 L 302.35 272.41 L 303.06 272.54 L 303.76 272.66 L 304.47 272.78 L 305.18 272.89 L 305.88 272.99 L 306.59 273.08 L 307.29 273.17 L 308 273.25 L 308.71 273.31 L 309.41 273.38 L 310.12 273.43 L 310.82 273.48 L 311.53 273.53 L 312.24 273.57 L 312.94 273.61 L 313.65 273.64 L 314.35 273.68 L 315.06 273.71 L 315.76 273.74 L 316.47 273.77 L 317.18 273.81 L 317.88 273.84 L 318.59 273.88 L 319.29 273.91 L 320 273.95 L 320.71 273.98 L 321.41 274.01 L 322.12 274.03 L 322.82 274.05 L 323.53 274.06 L 324.24 274.07 L 324.94 274.07 L 325.65 274.07 L 326.35 274.05 L 327.06 274.03 L 327.76 273.99 L 328.47 273.95 L 329.18 273.9 L 329.88 273.85 L 330.59 273.78 L 331.29 273.7 L 332 273.62 L 332.71 273.53 L 333.41 273.43 L 334.12 273.32 L 334.82 273.2 L 335.53 273.08 L 336.24 272.95 L 336.94 272.81 L 337.65 272.66 L 338.35 272.51 L 339.06 272.36 L 339.76 272.2 L 340.47 272.03 L 341.18 271.86 L 341.88 271.68 L 342.59 271.5 L 343.29 271.32 L 344 271.14 L 344.71 270.95 L 345.41 270.77 L 346.12 270.59 L 346.82 270.42 L 347.53 270.24 L 348.24 270.07 L 348.94 269.91 L 349.65 269.76 L 350.35 269.61 L 351.06 269.48 L 351.76 269.35 L 352.47 269.24 L 353.18 269.14 L 353.88 269.04 L 354.59 268.95 L 355.29 268.88 L 356 268.81 L 356.71 268.74 L 357.41 268.69 L 358.12 268.64 L 358.82 268.6 L 359.53 268.56 L 360.24 268.53 L 360.94 268.51 L 361.65 268.49 L 362.35 268.48 L 363.06 268.47 L 363.76 268.46 L 364.47 268.46 L 365.18 268.46 L 365.88 268.46 L 366.59 268.47 L 367.29 268.48 L 368 268.49 L 368.71 268.51 L 369.41 268.53 L 370.12 268.54 L 370.82 268.56 L 371.53 268.59 L 372.24 268.61 L 372.94 268.63 L 373.65 268.65 L 374.35 268.67 L 375.06 268.7 L 375.76 268.72 L 376.47 268.74 L 377.18 268.76 L 377.88 268.78 L 378.59 268.8 L 379.29 268.82 L 380 268.84 L 380.71 268.85 L 381.41 268.87 L 382.12 268.89 L 382.82 268.9 L 383.53 268.92 L 384.24 268.93 L 384.94 268.95 L 385.65 268.96 L 386.35 268.98 L 387.06 268.99 L 387.76 269 L 388.47 269.01 L 389.18 269.03 L 389.88 269.04 L 390.59 269.05 L 391.29 269.06 L 392 269.07 L 392.71 269.08 L 393.41 269.09 L 394.12 269.1 L 394.82 269.11 L 395.53 269.12 L 396.24 269.13 L 396.94 269.14 L 397.65 269.15 L 398.35 269.15 L 399.06 269.16 L 399.76 269.17 L 400.47 269.18 L 401.18 269.19 L 401.88 269.19 L 402.59 269.2 L 403.29 269.21 L 404 269.22 L 404.71 269.22 L 405.41 269.23 L 406.12 269.24 L 406.82 269.25 L 407.53 269.25 L 408.24 269.26 L 408.94 269.27 L 409.65 269.28 L 410.35 269.28 L 411.06 269.29 L 411.76 269.3 L 412.47 269.3 L 413.18 269.31 L 413.88 269.32 L 414.59 269.33 L 415.29 269.33 L 416 269.34 L 416.71 269.35 L 417.41 269.35 L 418.12 269.36 L 418.82 269.37 L 419.53 269.37 L 420.24 269.38 L 420.94 269.39 L 421.65 269.39 L 422.35 269.4 L 423.06 269.41 L 423.76 269.41 L 424.47 269.42 L 425.18 269.43 L 425.88 269.43 L 426.59 269.44 L 427.29 269.45 L 428 269.45 L 428.71 269.46 L 429.41 269.47 L 430.12 269.47 L 430.82 269.48 L 431.53 269.48 L 432.24 269.49 L 432.94 269.5 L 433.65 269.5 L 434.35 269.51 L 435.06 269.52 L 435.76 269.52 L 436.47 269.53 L 437.18 269.53 L 437.88 269.54 L 438.59 269.55 L 439.29 269.55 L 440 269.56 L 440.71 269.56 L 441.41 269.57 L 442.12 269.57 L 442.82 269.58 L 443.53 269.59 L 444.24 269.59 L 444.94 269.6 L 445.65 269.6 L 446.35 269.61 L 447.06 269.61 L 447.76 269.62 L 448.47 269.63 L 449.18 269.63 L 449.88 269.64 L 450.59 269.64 L 451.29 269.65 L 452 269.65 L 452.71 269.66 L 453.41 269.66 L 454.12 269.67 L 454.82 269.67 L 455.53 269.68 L 456.24 269.69 L 456.94 269.69 L 457.65 269.7 L 458.35 269.7 L 459.06 269.71 L 459.76 269.71 L 460.47 269.72 L 461.18 269.72 L 461.88 269.73 L 462.59 269.73 L 463.29 269.74 L 464 269.74 L 464.71 269.75 L 465.41 269.75 L 466.12 269.76 L 466.82 269.76 L 467.53 269.77 L 468.24 269.77 L 468.94 269.78 L 469.65 269.79 L 470.02 269.79" clip-path="url(#p38bddb22ce)" style="fill: none; stroke: #000000; stroke-width: 3; stroke-linecap: square"/>
</g>
<g>
<path d="M 65.88 44.73 L 187.04 144.88" clip-path="url(#p38bddb22ce)" style="fill: none; stroke: #0000ff; stroke-opacity: 0.5; stroke-width: 2; stroke-linecap: square"/>
</g>
<g>
<path d="M 65.88 159.78 L 187.04 226.53" clip-path="url(#p38bddb22ce)" style="fill: none; stroke: #008000; stroke-opacity: 0.5; stroke-width: 2; stroke-linecap: square"/>
</g>
<g>
<path d="M 76.38 285.27 L 76.38 42.07" style="fill: none; stroke: #000000; stroke-linejoin: miter; stroke-linecap: square"/>
</g>
<g>
<path d="M 478.96 285.27 L 478.96 42.07" style="fill: none; stroke: #000000; stroke-linejoin: miter; stroke-linecap: square"/>
</g>
<g>
<path d="M 76.38 285.27 L 478.96 285.27" style="fill: none; stroke: #000000; stroke-linejoin: miter; stroke-linecap: square"/>
</g>
<g>
<path d="M 76.38 42.07 L 478.96 42.07" style="fill: none; stroke: #000000; stroke-linejoin: miter; stroke-linecap: square"/>
</g>
<g>
<text style="font-size: 16px; font-family: 'DejaVu Serif', serif; text-anchor: start" x="84.428235" y="61.526588" transform="rotate(-0 84.428235 61.526588)">(a)</text>
</g>
<g>
<!-- $r^{-3/2}$ -->
<g transform="translate(134.682353 92.282353)">
<text>
<tspan x="0" y="-0.757812" style="font-style: oblique; font-size: 18px; font-family: 'DejaVu Sans'">r</tspan>
<tspan x="8.237109" y="-7.648438" style="font-size: 12.6px; font-family: 'DejaVu Sans'">−</tspan>
<tspan x="18.794531" y="-7.648438" style="font-size: 12.6px; font-family: 'DejaVu Sans'">3</tspan>
<tspan x="26.811035" y="-7.648438" style="font-size: 12.6px; font-family: 'DejaVu Sans'">/</tspan>
<tspan x="30.618652" y="-7.648438" style="font-size: 12.6px; font-family: 'DejaVu Sans'">2</tspan>
</text>
</g>
</g>
<g>
<!-- $r^{-1}$ -->
<g transform="translate(134.682353 233.035294)">
<text>
<tspan x="0" y="-0.921875" style="font-style: oblique; font-size: 18px; font-family: 'DejaVu Sans'">r</tspan>
<tspan x="8.237109" y="-7.8125" style="font-size: 12.6px; font-family: 'DejaVu Sans'">−</tspan>
<tspan x="18.794531" y="-7.8125" style="font-size: 12.6px; font-family: 'DejaVu Sans'">1</tspan>
</text>
</g>
</g>
<g>
<path d="M 325.36 285.27 L 325.36 42.07" clip-path="url(#p38bddb22ce)" style="fill: none; stroke-dasharray: 3.85,1.65; stroke-dashoffset: 0; stroke: #808080; stroke-width: 1.25"/>
</g>
<g>
<g>
<path d="M 325.5 60.41 L 339.5 60.41 L 353.5 60.41" style="fill: none; stroke: #d62728; stroke-width: 3; stroke-linecap: square"/>
</g>
<g>
<text style="font-size: 14px; font-family: 'DejaVu Serif', serif; text-anchor: start" x="364.698456" y="65.308401" transform="rotate(-0 364.698456 65.308401)">Bondi HD</text>
</g>
<g>
<path d="M 325.5 80.96 L 339.5 80.96 L 353.5 80.96" style="fill: none; stroke: #000000; stroke-width: 3; stroke-linecap: square"/>
</g>
<g>
<text style="font-size: 14px; font-family: 'DejaVu Serif', serif; text-anchor: start" x="364.698456" y="85.857776" transform="rotate(-0 364.698456 85.857776)">Bondi MHD</text>
</g>
<g>
<path d="M 325.5 101.51 L 339.5 101.51 L 353.5 101.51" style="fill: none; stroke: #708090; stroke-opacity: 0.5; stroke-width: 10; stroke-linecap: square"/>
</g>
<g>
<text style="font-size: 14px; font-family: 'DejaVu Serif', serif; text-anchor: start" x="364.698456" y="106.407151" transform="rotate(-0 364.698456 106.407151)">Bondi analytic</text>
</g>
</g>
</g>
<g>
<g>
<path d="M 571.67 285.27 L 974.26 285.27 L 974.26 42.07 L 571.67 42.07 z" style="fill: #ffffff"/>
</g>
<g>
<g>
<path d="M 571.67 42.07 L 974.26 42.07 L 974.26 42.07 L 571.67 42.07 z" style="fill: #ffffff"/>
</g>
<g>
<g>
<g>
<g>
<path d="M 0 0 L 0 -3.5" transform="translate(581.977623 42.070588)" style="stroke: #000000; stroke: #000000"/>
</g>
</g>
<g>
<!-- $\mathdefault{10^{-6}}$ -->
<g transform="translate(565.597623 32.394)">
<text>
<tspan x="0" y="-0.640625" style="font-size: 14px; font-family: 'DejaVu Serif'">1</tspan>
<tspan x="8.907227" y="-0.640625" style="font-size: 14px; font-family: 'DejaVu Serif'">0</tspan>
<tspan x="17.941602" y="-5.726562" style="font-size: 9.8px; font-family: 'DejaVu Serif'">−</tspan>
<tspan x="26.15293" y="-5.726562" style="font-size: 9.8px; font-family: 'DejaVu Serif'">6</tspan>
</text>
</g>
</g>
</g>
<g>
<g>
<g>
<path d="M 0 0 L 0 -3.5" transform="translate(632.301152 42.070588)" style="stroke: #000000; stroke: #000000"/>
</g>
</g>
<g>
<!-- $\mathdefault{10^{-5}}$ -->
<g transform="translate(615.921152 32.394)">
<text>
<tspan x="0" y="-0.771875" style="font-size: 14px; font-family: 'DejaVu Serif'">1</tspan>
<tspan x="8.907227" y="-0.771875" style="font-size: 14px; font-family: 'DejaVu Serif'">0</tspan>
<tspan x="17.941602" y="-5.857813" style="font-size: 9.8px; font-family: 'DejaVu Serif'">−</tspan>
<tspan x="26.15293" y="-5.857813" style="font-size: 9.8px; font-family: 'DejaVu Serif'">5</tspan>
</text>
</g>
</g>
</g>
<g>
<g>
<g>
<path d="M 0 0 L 0 -3.5" transform="translate(682.624681 42.070588)" style="stroke: #000000; stroke: #000000"/>
</g>
</g>
<g>
<!-- $\mathdefault{10^{-4}}$ -->
<g transform="translate(666.244681 32.394)">
<text>
<tspan x="0" y="-0.640625" style="font-size: 14px; font-family: 'DejaVu Serif'">1</tspan>
<tspan x="8.907227" y="-0.640625" style="font-size: 14px; font-family: 'DejaVu Serif'">0</tspan>
<tspan x="17.941602" y="-5.726562" style="font-size: 9.8px; font-family: 'DejaVu Serif'">−</tspan>
<tspan x="26.15293" y="-5.726562" style="font-size: 9.8px; font-family: 'DejaVu Serif'">4</tspan>
</text>
</g>
</g>
</g>
<g>
<g>
<g>
<path d="M 0 0 L 0 -3.5" transform="translate(732.948211 42.070588)" style="stroke: #000000; stroke: #000000"/>
</g>
</g>
<g>
<!-- $\mathdefault{10^{-3}}$ -->
<g transform="translate(716.568211 32.394)">
<text>
<tspan x="0" y="-0.640625" style="font-size: 14px; font-family: 'DejaVu Serif'">1</tspan>
<tspan x="8.907227" y="-0.640625" style="font-size: 14px; font-family: 'DejaVu Serif'">0</tspan>
<tspan x="17.941602" y="-5.726562" style="font-size: 9.8px; font-family: 'DejaVu Serif'">−</tspan>
<tspan x="26.15293" y="-5.726562" style="font-size: 9.8px; font-family: 'DejaVu Serif'">3</tspan>
</text>
</g>
</g>
</g>
<g>
<g>
<g>
<path d="M 0 0 L 0 -3.5" transform="translate(783.27174 42.070588)" style="stroke: #000000; stroke: #000000"/>
</g>
</g>
<g>
<!-- $\mathdefault{10^{-2}}$ -->
<g transform="translate(766.89174 32.394)">
<text>
<tspan x="0" y="-0.640625" style="font-size: 14px; font-family: 'DejaVu Serif'">1</tspan>
<tspan x="8.907227" y="-0.640625" style="font-size: 14px; font-family: 'DejaVu Serif'">0</tspan>
<tspan x="17.941602" y="-5.726562" style="font-size: 9.8px; font-family: 'DejaVu Serif'">−</tspan>
<tspan x="26.15293" y="-5.726562" style="font-size: 9.8px; font-family: 'DejaVu Serif'">2</tspan>
</text>
</g>
</g>
</g>
<g>
<g>
<g>
<path d="M 0 0 L 0 -3.5" transform="translate(833.59527 42.070588)" style="stroke: #000000; stroke: #000000"/>
</g>
</g>
<g>
<!-- $\mathdefault{10^{-1}}$ -->
<g transform="translate(817.21527 32.394)">
<text>
<tspan x="0" y="-0.640625" style="font-size: 14px; font-family: 'DejaVu Serif'">1</tspan>
<tspan x="8.907227" y="-0.640625" style="font-size: 14px; font-family: 'DejaVu Serif'">0</tspan>
<tspan x="17.941602" y="-5.726562" style="font-size: 9.8px; font-family: 'DejaVu Serif'">−</tspan>
<tspan x="26.15293" y="-5.726562" style="font-size: 9.8px; font-family: 'DejaVu Serif'">1</tspan>
</text>
</g>
</g>
</g>
<g>
<g>
<g>
<path d="M 0 0 L 0 -3.5" transform="translate(883.918799 42.070588)" style="stroke: #000000; stroke: #000000"/>
</g>
</g>
<g>
<!-- $\mathdefault{10^{0}}$ -->
<g transform="translate(871.598799 32.394)">
<text>
<tspan x="0" y="-0.640625" style="font-size: 14px; font-family: 'DejaVu Serif'">1</tspan>
<tspan x="8.907227" y="-0.640625" style="font-size: 14px; font-family: 'DejaVu Serif'">0</tspan>
<tspan x="17.941602" y="-5.726562" style="font-size: 9.8px; font-family: 'DejaVu Serif'">0</tspan>
</text>
</g>
</g>
</g>
<g>
<g>
<g>
<path d="M 0 0 L 0 -3.5" transform="translate(934.242328 42.070588)" style="stroke: #000000; stroke: #000000"/>
</g>
</g>
<g>
<!-- $\mathdefault{10^{1}}$ -->
<g transform="translate(921.922328 32.394)">
<text>
<tspan x="0" y="-0.640625" style="font-size: 14px; font-family: 'DejaVu Serif'">1</tspan>
<tspan x="8.907227" y="-0.640625" style="font-size: 14px; font-family: 'DejaVu Serif'">0</tspan>
<tspan x="17.941602" y="-5.726562" style="font-size: 9.8px; font-family: 'DejaVu Serif'">1</tspan>
</text>
</g>
</g>
</g>
<g>
<g>
<g>
<path d="M 0 0 L 0 -2" transform="translate(574.182409 42.070588)" style="stroke: #000000; stroke-width: 0.6; stroke: #000000; stroke-width: 0.6"/>
</g>
</g>
</g>
<g>
<g>
<g>
<path d="M 0 0 L 0 -2" transform="translate(577.100769 42.070588)" style="stroke: #000000; stroke-width: 0.6; stroke: #000000; stroke-width: 0.6"/>
</g>
</g>
</g>
<g>
<g>
<g>
<path d="M 0 0 L 0 -2" transform="translate(579.674944 42.070588)" style="stroke: #000000; stroke-width: 0.6; stroke: #000000; stroke-width: 0.6"/>
</g>
</g>
</g>
<g>
<g>
<g>
<path d="M 0 0 L 0 -2" transform="translate(597.126514 42.070588)" style="stroke: #000000; stroke-width: 0.6; stroke: #000000; stroke-width: 0.6"/>
</g>
</g>
</g>
<g>
<g>
<g>
<path d="M 0 0 L 0 -2" transform="translate(605.988048 42.070588)" style="stroke: #000000; stroke-width: 0.6; stroke: #000000; stroke-width: 0.6"/>
</g>
</g>
</g>
<g>
<g>
<g>
<path d="M 0 0 L 0 -2" transform="translate(612.275406 42.070588)" style="stroke: #000000; stroke-width: 0.6; stroke: #000000; stroke-width: 0.6"/>
</g>
</g>
</g>
<g>
<g>
<g>
<path d="M 0 0 L 0 -2" transform="translate(617.15226 42.070588)" style="stroke: #000000; stroke-width: 0.6; stroke: #000000; stroke-width: 0.6"/>
</g>
</g>
</g>
<g>
<g>
<g>
<path d="M 0 0 L 0 -2" transform="translate(621.13694 42.070588)" style="stroke: #000000; stroke-width: 0.6; stroke: #000000; stroke-width: 0.6"/>
</g>
</g>
</g>
<g>
<g>
<g>
<path d="M 0 0 L 0 -2" transform="translate(624.505939 42.070588)" style="stroke: #000000; stroke-width: 0.6; stroke: #000000; stroke-width: 0.6"/>
</g>
</g>
</g>
<g>
<g>
<g>
<path d="M 0 0 L 0 -2" transform="translate(627.424298 42.070588)" style="stroke: #000000; stroke-width: 0.6; stroke: #000000; stroke-width: 0.6"/>
</g>
</g>
</g>
<g>
<g>
<g>
<path d="M 0 0 L 0 -2" transform="translate(629.998474 42.070588)" style="stroke: #000000; stroke-width: 0.6; stroke: #000000; stroke-width: 0.6"/>
</g>
</g>
</g>
<g>
<g>
<g>
<path d="M 0 0 L 0 -2" transform="translate(647.450044 42.070588)" style="stroke: #000000; stroke-width: 0.6; stroke: #000000; stroke-width: 0.6"/>
</g>
</g>
</g>
<g>
<g>
<g>
<path d="M 0 0 L 0 -2" transform="translate(656.311577 42.070588)" style="stroke: #000000; stroke-width: 0.6; stroke: #000000; stroke-width: 0.6"/>
</g>
</g>
</g>
<g>
<g>
<g>
<path d="M 0 0 L 0 -2" transform="translate(662.598936 42.070588)" style="stroke: #000000; stroke-width: 0.6; stroke: #000000; stroke-width: 0.6"/>
</g>
</g>
</g>
<g>
<g>
<g>
<path d="M 0 0 L 0 -2" transform="translate(667.47579 42.070588)" style="stroke: #000000; stroke-width: 0.6; stroke: #000000; stroke-width: 0.6"/>
</g>
</g>
</g>
<g>
<g>
<g>
<path d="M 0 0 L 0 -2" transform="translate(671.460469 42.070588)" style="stroke: #000000; stroke-width: 0.6; stroke: #000000; stroke-width: 0.6"/>
</g>
</g>
</g>
<g>
<g>
<g>
<path d="M 0 0 L 0 -2" transform="translate(674.829468 42.070588)" style="stroke: #000000; stroke-width: 0.6; stroke: #000000; stroke-width: 0.6"/>
</g>
</g>
</g>
<g>
<g>
<g>
<path d="M 0 0 L 0 -2" transform="translate(677.747827 42.070588)" style="stroke: #000000; stroke-width: 0.6; stroke: #000000; stroke-width: 0.6"/>
</g>
</g>
</g>
<g>
<g>
<g>
<path d="M 0 0 L 0 -2" transform="translate(680.322003 42.070588)" style="stroke: #000000; stroke-width: 0.6; stroke: #000000; stroke-width: 0.6"/>
</g>
</g>
</g>
<g>
<g>
<g>
<path d="M 0 0 L 0 -2" transform="translate(697.773573 42.070588)" style="stroke: #000000; stroke-width: 0.6; stroke: #000000; stroke-width: 0.6"/>
</g>
</g>
</g>
<g>
<g>
<g>
<path d="M 0 0 L 0 -2" transform="translate(706.635107 42.070588)" style="stroke: #000000; stroke-width: 0.6; stroke: #000000; stroke-width: 0.6"/>
</g>
</g>
</g>
<g>
<g>
<g>
<path d="M 0 0 L 0 -2" transform="translate(712.922465 42.070588)" style="stroke: #000000; stroke-width: 0.6; stroke: #000000; stroke-width: 0.6"/>
</g>
</g>
</g>
<g>
<g>
<g>
<path d="M 0 0 L 0 -2" transform="translate(717.799319 42.070588)" style="stroke: #000000; stroke-width: 0.6; stroke: #000000; stroke-width: 0.6"/>
</g>
</g>
</g>
<g>
<g>
<g>
<path d="M 0 0 L 0 -2" transform="translate(721.783999 42.070588)" style="stroke: #000000; stroke-width: 0.6; stroke: #000000; stroke-width: 0.6"/>
</g>
</g>
</g>
<g>
<g>
<g>
<path d="M 0 0 L 0 -2" transform="translate(725.152997 42.070588)" style="stroke: #000000; stroke-width: 0.6; stroke: #000000; stroke-width: 0.6"/>
</g>
</g>
</g>
<g>
<g>
<g>
<path d="M 0 0 L 0 -2" transform="translate(728.071357 42.070588)" style="stroke: #000000; stroke-width: 0.6; stroke: #000000; stroke-width: 0.6"/>
</g>
</g>
</g>
<g>
<g>
<g>
<path d="M 0 0 L 0 -2" transform="translate(730.645532 42.070588)" style="stroke: #000000; stroke-width: 0.6; stroke: #000000; stroke-width: 0.6"/>
</g>
</g>
</g>
<g>
<g>
<g>
<path d="M 0 0 L 0 -2" transform="translate(748.097103 42.070588)" style="stroke: #000000; stroke-width: 0.6; stroke: #000000; stroke-width: 0.6"/>
</g>
</g>
</g>
<g>
<g>
<g>
<path d="M 0 0 L 0 -2" transform="translate(756.958636 42.070588)" style="stroke: #000000; stroke-width: 0.6; stroke: #000000; stroke-width: 0.6"/>
</g>
</g>
</g>
<g>
<g>
<g>
<path d="M 0 0 L 0 -2" transform="translate(763.245994 42.070588)" style="stroke: #000000; stroke-width: 0.6; stroke: #000000; stroke-width: 0.6"/>
</g>
</g>
</g>
<g>
<g>
<g>
<path d="M 0 0 L 0 -2" transform="translate(768.122848 42.070588)" style="stroke: #000000; stroke-width: 0.6; stroke: #000000; stroke-width: 0.6"/>
</g>
</g>
</g>
<g>
<g>
<g>
<path d="M 0 0 L 0 -2" transform="translate(772.107528 42.070588)" style="stroke: #000000; stroke-width: 0.6; stroke: #000000; stroke-width: 0.6"/>
</g>
</g>
</g>
<g>
<g>
<g>
<path d="M 0 0 L 0 -2" transform="translate(775.476527 42.070588)" style="stroke: #000000; stroke-width: 0.6; stroke: #000000; stroke-width: 0.6"/>
</g>
</g>
</g>
<g>
<g>
<g>
<path d="M 0 0 L 0 -2" transform="translate(778.394886 42.070588)" style="stroke: #000000; stroke-width: 0.6; stroke: #000000; stroke-width: 0.6"/>
</g>
</g>
</g>
<g>
<g>
<g>
<path d="M 0 0 L 0 -2" transform="translate(780.969062 42.070588)" style="stroke: #000000; stroke-width: 0.6; stroke: #000000; stroke-width: 0.6"/>
</g>
</g>
</g>
<g>
<g>
<g>
<path d="M 0 0 L 0 -2" transform="translate(798.420632 42.070588)" style="stroke: #000000; stroke-width: 0.6; stroke: #000000; stroke-width: 0.6"/>
</g>
</g>
</g>
<g>
<g>
<g>
<path d="M 0 0 L 0 -2" transform="translate(807.282166 42.070588)" style="stroke: #000000; stroke-width: 0.6; stroke: #000000; stroke-width: 0.6"/>
</g>
</g>
</g>
<g>
<g>
<g>
<path d="M 0 0 L 0 -2" transform="translate(813.569524 42.070588)" style="stroke: #000000; stroke-width: 0.6; stroke: #000000; stroke-width: 0.6"/>
</g>
</g>
</g>
<g>
<g>
<g>
<path d="M 0 0 L 0 -2" transform="translate(818.446378 42.070588)" style="stroke: #000000; stroke-width: 0.6; stroke: #000000; stroke-width: 0.6"/>
</g>
</g>
</g>
<g>
<g>
<g>
<path d="M 0 0 L 0 -2" transform="translate(822.431058 42.070588)" style="stroke: #000000; stroke-width: 0.6; stroke: #000000; stroke-width: 0.6"/>
</g>
</g>
</g>
<g>
<g>
<g>
<path d="M 0 0 L 0 -2" transform="translate(825.800056 42.070588)" style="stroke: #000000; stroke-width: 0.6; stroke: #000000; stroke-width: 0.6"/>
</g>
</g>
</g>
<g>
<g>
<g>
<path d="M 0 0 L 0 -2" transform="translate(828.718416 42.070588)" style="stroke: #000000; stroke-width: 0.6; stroke: #000000; stroke-width: 0.6"/>
</g>
</g>
</g>
<g>
<g>
<g>
<path d="M 0 0 L 0 -2" transform="translate(831.292591 42.070588)" style="stroke: #000000; stroke-width: 0.6; stroke: #000000; stroke-width: 0.6"/>
</g>
</g>
</g>
<g>
<g>
<g>
<path d="M 0 0 L 0 -2" transform="translate(848.744161 42.070588)" style="stroke: #000000; stroke-width: 0.6; stroke: #000000; stroke-width: 0.6"/>
</g>
</g>
</g>
<g>
<g>
<g>
<path d="M 0 0 L 0 -2" transform="translate(857.605695 42.070588)" style="stroke: #000000; stroke-width: 0.6; stroke: #000000; stroke-width: 0.6"/>
</g>
</g>
</g>
<g>
<g>
<g>
<path d="M 0 0 L 0 -2" transform="translate(863.893053 42.070588)" style="stroke: #000000; stroke-width: 0.6; stroke: #000000; stroke-width: 0.6"/>
</g>
</g>
</g>
<g>
<g>
<g>
<path d="M 0 0 L 0 -2" transform="translate(868.769907 42.070588)" style="stroke: #000000; stroke-width: 0.6; stroke: #000000; stroke-width: 0.6"/>
</g>
</g>
</g>
<g>
<g>
<g>
<path d="M 0 0 L 0 -2" transform="translate(872.754587 42.070588)" style="stroke: #000000; stroke-width: 0.6; stroke: #000000; stroke-width: 0.6"/>
</g>
</g>
</g>
<g>
<g>
<g>
<path d="M 0 0 L 0 -2" transform="translate(876.123586 42.070588)" style="stroke: #000000; stroke-width: 0.6; stroke: #000000; stroke-width: 0.6"/>
</g>
</g>
</g>
<g>
<g>
<g>
<path d="M 0 0 L 0 -2" transform="translate(879.041945 42.070588)" style="stroke: #000000; stroke-width: 0.6; stroke: #000000; stroke-width: 0.6"/>
</g>
</g>
</g>
<g>
<g>
<g>
<path d="M 0 0 L 0 -2" transform="translate(881.616121 42.070588)" style="stroke: #000000; stroke-width: 0.6; stroke: #000000; stroke-width: 0.6"/>
</g>
</g>
</g>
<g>
<g>
<g>
<path d="M 0 0 L 0 -2" transform="translate(899.067691 42.070588)" style="stroke: #000000; stroke-width: 0.6; stroke: #000000; stroke-width: 0.6"/>
</g>
</g>
</g>
<g>
<g>
<g>
<path d="M 0 0 L 0 -2" transform="translate(907.929225 42.070588)" style="stroke: #000000; stroke-width: 0.6; stroke: #000000; stroke-width: 0.6"/>
</g>
</g>
</g>
<g>
<g>
<g>
<path d="M 0 0 L 0 -2" transform="translate(914.216583 42.070588)" style="stroke: #000000; stroke-width: 0.6; stroke: #000000; stroke-width: 0.6"/>
</g>
</g>
</g>
<g>
<g>
<g>
<path d="M 0 0 L 0 -2" transform="translate(919.093437 42.070588)" style="stroke: #000000; stroke-width: 0.6; stroke: #000000; stroke-width: 0.6"/>
</g>
</g>
</g>
<g>
<g>
<g>
<path d="M 0 0 L 0 -2" transform="translate(923.078116 42.070588)" style="stroke: #000000; stroke-width: 0.6; stroke: #000000; stroke-width: 0.6"/>
</g>
</g>
</g>
<g>
<g>
<g>
<path d="M 0 0 L 0 -2" transform="translate(926.447115 42.070588)" style="stroke: #000000; stroke-width: 0.6; stroke: #000000; stroke-width: 0.6"/>
</g>
</g>
</g>
<g>
<g>
<g>
<path d="M 0 0 L 0 -2" transform="translate(929.365475 42.070588)" style="stroke: #000000; stroke-width: 0.6; stroke: #000000; stroke-width: 0.6"/>
</g>
</g>
</g>
<g>
<g>
<g>
<path d="M 0 0 L 0 -2" transform="translate(931.93965 42.070588)" style="stroke: #000000; stroke-width: 0.6; stroke: #000000; stroke-width: 0.6"/>
</g>
</g>
</g>
<g>
<g>
<g>
<path d="M 0 0 L 0 -2" transform="translate(949.39122 42.070588)" style="stroke: #000000; stroke-width: 0.6; stroke: #000000; stroke-width: 0.6"/>
</g>
</g>
</g>
<g>
<g>
<g>
<path d="M 0 0 L 0 -2" transform="translate(958.252754 42.070588)" style="stroke: #000000; stroke-width: 0.6; stroke: #000000; stroke-width: 0.6"/>
</g>
</g>
</g>
<g>
<g>
<g>
<path d="M 0 0 L 0 -2" transform="translate(964.540112 42.070588)" style="stroke: #000000; stroke-width: 0.6; stroke: #000000; stroke-width: 0.6"/>
</g>
</g>
</g>
<g>
<g>
<g>
<path d="M 0 0 L 0 -2" transform="translate(969.416966 42.070588)" style="stroke: #000000; stroke-width: 0.6; stroke: #000000; stroke-width: 0.6"/>
</g>
</g>
</g>
<g>
<g>
<g>
<path d="M 0 0 L 0 -2" transform="translate(973.401646 42.070588)" style="stroke: #000000; stroke-width: 0.6; stroke: #000000; stroke-width: 0.6"/>
</g>
</g>
</g>
<g>
<!-- $R_{\rm M87}$ [kpc] -->
<g transform="translate(726.794706 13.457)">
<text>
<tspan x="0" y="-0.328125" style="font-style: oblique; font-size: 18px; font-family: 'DejaVu Sans'">R</tspan>
<tspan x="12.506836" y="2.625" style="font-size: 12.6px; font-family: 'DejaVu Sans'">M</tspan>
<tspan x="23.378027" y="2.625" style="font-size: 12.6px; font-family: 'DejaVu Sans'">8</tspan>
<tspan x="31.394531" y="2.625" style="font-size: 12.6px; font-family: 'DejaVu Sans'">7</tspan>
<tspan x="39.903223" y="-0.328125" style="font-size: 18px; font-family: 'DejaVu Serif'"> </tspan>
<tspan x="45.624902" y="-0.328125" style="font-size: 18px; font-family: 'DejaVu Serif'">[</tspan>
<tspan x="52.647363" y="-0.328125" style="font-size: 18px; font-family: 'DejaVu Serif'">k</tspan>
<tspan x="63.55459" y="-0.328125" style="font-size: 18px; font-family: 'DejaVu Serif'">p</tspan>
<tspan x="75.077051" y="-0.328125" style="font-size: 18px; font-family: 'DejaVu Serif'">c</tspan>
<tspan x="85.158105" y="-0.328125" style="font-size: 18px; font-family: 'DejaVu Serif'">]</tspan>
</text>
</g>
</g>
</g>
<g id="matplotlib.axis_6"/>
</g>
<g>
<g>
<g>
<g>
<path d="M 0 0 L 0 3.5" transform="translate(606.845226 285.270588)" style="stroke: #000000; stroke: #000000"/>
</g>
</g>
</g>
<g>
<g>
<g>
<path d="M 0 0 L 0 3.5" transform="translate(657.168755 285.270588)" style="stroke: #000000; stroke: #000000"/>
</g>
</g>
</g>
<g>
<g>
<g>
<path d="M 0 0 L 0 3.5" transform="translate(707.492285 285.270588)" style="stroke: #000000; stroke: #000000"/>
</g>
</g>
</g>
<g>
<g>
<g>
<path d="M 0 0 L 0 3.5" transform="translate(757.815814 285.270588)" style="stroke: #000000; stroke: #000000"/>
</g>
</g>
</g>
<g>
<g>
<g>
<path d="M 0 0 L 0 3.5" transform="translate(808.139343 285.270588)" style="stroke: #000000; stroke: #000000"/>
</g>
</g>
</g>
<g>
<g>
<g>
<path d="M 0 0 L 0 3.5" transform="translate(858.462873 285.270588)" style="stroke: #000000; stroke: #000000"/>
</g>
</g>
</g>
<g>
<g>
<g>
<path d="M 0 0 L 0 3.5" transform="translate(908.786402 285.270588)" style="stroke: #000000; stroke: #000000"/>
</g>
</g>
</g>
<g>
<g>
<g>
<path d="M 0 0 L 0 3.5" transform="translate(959.109932 285.270588)" style="stroke: #000000; stroke: #000000"/>
</g>
</g>
</g>
<g>
<g>
<g>
<path d="M 0 0 L 0 2" transform="translate(571.670588 285.270588)" style="stroke: #000000; stroke-width: 0.6; stroke: #000000; stroke-width: 0.6"/>
</g>
</g>
</g>
<g>
<g>
<g>
<path d="M 0 0 L 0 2" transform="translate(580.532122 285.270588)" style="stroke: #000000; stroke-width: 0.6; stroke: #000000; stroke-width: 0.6"/>
</g>
</g>
</g>
<g>
<g>
<g>
<path d="M 0 0 L 0 2" transform="translate(586.81948 285.270588)" style="stroke: #000000; stroke-width: 0.6; stroke: #000000; stroke-width: 0.6"/>
</g>
</g>
</g>
<g>
<g>
<g>
<path d="M 0 0 L 0 2" transform="translate(591.696334 285.270588)" style="stroke: #000000; stroke-width: 0.6; stroke: #000000; stroke-width: 0.6"/>
</g>
</g>
</g>
<g>
<g>
<g>
<path d="M 0 0 L 0 2" transform="translate(595.681014 285.270588)" style="stroke: #000000; stroke-width: 0.6; stroke: #000000; stroke-width: 0.6"/>
</g>
</g>
</g>
<g>
<g>
<g>
<path d="M 0 0 L 0 2" transform="translate(599.050012 285.270588)" style="stroke: #000000; stroke-width: 0.6; stroke: #000000; stroke-width: 0.6"/>
</g>
</g>
</g>
<g>
<g>
<g>
<path d="M 0 0 L 0 2" transform="translate(601.968372 285.270588)" style="stroke: #000000; stroke-width: 0.6; stroke: #000000; stroke-width: 0.6"/>
</g>
</g>
</g>
<g>
<g>
<g>
<path d="M 0 0 L 0 2" transform="translate(604.542547 285.270588)" style="stroke: #000000; stroke-width: 0.6; stroke: #000000; stroke-width: 0.6"/>
</g>
</g>
</g>
<g>
<g>
<g>
<path d="M 0 0 L 0 2" transform="translate(621.994118 285.270588)" style="stroke: #000000; stroke-width: 0.6; stroke: #000000; stroke-width: 0.6"/>
</g>
</g>
</g>
<g>
<g>
<g>
<path d="M 0 0 L 0 2" transform="translate(630.855651 285.270588)" style="stroke: #000000; stroke-width: 0.6; stroke: #000000; stroke-width: 0.6"/>
</g>
</g>
</g>
<g>
<g>
<g>
<path d="M 0 0 L 0 2" transform="translate(637.143009 285.270588)" style="stroke: #000000; stroke-width: 0.6; stroke: #000000; stroke-width: 0.6"/>
</g>
</g>
</g>
<g>
<g>
<g>
<path d="M 0 0 L 0 2" transform="translate(642.019863 285.270588)" style="stroke: #000000; stroke-width: 0.6; stroke: #000000; stroke-width: 0.6"/>
</g>
</g>
</g>
<g>
<g>
<g>
<path d="M 0 0 L 0 2" transform="translate(646.004543 285.270588)" style="stroke: #000000; stroke-width: 0.6; stroke: #000000; stroke-width: 0.6"/>
</g>
</g>
</g>
<g>
<g>
<g>
<path d="M 0 0 L 0 2" transform="translate(649.373542 285.270588)" style="stroke: #000000; stroke-width: 0.6; stroke: #000000; stroke-width: 0.6"/>
</g>
</g>
</g>
<g>
<g>
<g>
<path d="M 0 0 L 0 2" transform="translate(652.291901 285.270588)" style="stroke: #000000; stroke-width: 0.6; stroke: #000000; stroke-width: 0.6"/>
</g>
</g>
</g>
<g>
<g>
<g>
<path d="M 0 0 L 0 2" transform="translate(654.866077 285.270588)" style="stroke: #000000; stroke-width: 0.6; stroke: #000000; stroke-width: 0.6"/>
</g>
</g>
</g>
<g>
<g>
<g>
<path d="M 0 0 L 0 2" transform="translate(672.317647 285.270588)" style="stroke: #000000; stroke-width: 0.6; stroke: #000000; stroke-width: 0.6"/>
</g>
</g>
</g>
<g>
<g>
<g>
<path d="M 0 0 L 0 2" transform="translate(681.179181 285.270588)" style="stroke: #000000; stroke-width: 0.6; stroke: #000000; stroke-width: 0.6"/>
</g>
</g>
</g>
<g>
<g>
<g>
<path d="M 0 0 L 0 2" transform="translate(687.466539 285.270588)" style="stroke: #000000; stroke-width: 0.6; stroke: #000000; stroke-width: 0.6"/>
</g>
</g>
</g>
<g>
<g>
<g>
<path d="M 0 0 L 0 2" transform="translate(692.343393 285.270588)" style="stroke: #000000; stroke-width: 0.6; stroke: #000000; stroke-width: 0.6"/>
</g>
</g>
</g>
<g>
<g>
<g>
<path d="M 0 0 L 0 2" transform="translate(696.328073 285.270588)" style="stroke: #000000; stroke-width: 0.6; stroke: #000000; stroke-width: 0.6"/>
</g>
</g>
</g>
<g>
<g>
<g>
<path d="M 0 0 L 0 2" transform="translate(699.697071 285.270588)" style="stroke: #000000; stroke-width: 0.6; stroke: #000000; stroke-width: 0.6"/>
</g>
</g>
</g>
<g>
<g>
<g>
<path d="M 0 0 L 0 2" transform="translate(702.615431 285.270588)" style="stroke: #000000; stroke-width: 0.6; stroke: #000000; stroke-width: 0.6"/>
</g>
</g>
</g>
<g>
<g>
<g>
<path d="M 0 0 L 0 2" transform="translate(705.189606 285.270588)" style="stroke: #000000; stroke-width: 0.6; stroke: #000000; stroke-width: 0.6"/>
</g>
</g>
</g>
<g>
<g>
<g>
<path d="M 0 0 L 0 2" transform="translate(722.641176 285.270588)" style="stroke: #000000; stroke-width: 0.6; stroke: #000000; stroke-width: 0.6"/>
</g>
</g>
</g>
<g>
<g>
<g>
<path d="M 0 0 L 0 2" transform="translate(731.50271 285.270588)" style="stroke: #000000; stroke-width: 0.6; stroke: #000000; stroke-width: 0.6"/>
</g>
</g>
</g>
<g>
<g>
<g>
<path d="M 0 0 L 0 2" transform="translate(737.790068 285.270588)" style="stroke: #000000; stroke-width: 0.6; stroke: #000000; stroke-width: 0.6"/>
</g>
</g>
</g>
<g>
<g>
<g>
<path d="M 0 0 L 0 2" transform="translate(742.666922 285.270588)" style="stroke: #000000; stroke-width: 0.6; stroke: #000000; stroke-width: 0.6"/>
</g>
</g>
</g>
<g>
<g>
<g>
<path d="M 0 0 L 0 2" transform="translate(746.651602 285.270588)" style="stroke: #000000; stroke-width: 0.6; stroke: #000000; stroke-width: 0.6"/>
</g>
</g>
</g>
<g>
<g>
<g>
<path d="M 0 0 L 0 2" transform="translate(750.020601 285.270588)" style="stroke: #000000; stroke-width: 0.6; stroke: #000000; stroke-width: 0.6"/>
</g>
</g>
</g>
<g>
<g>
<g>
<path d="M 0 0 L 0 2" transform="translate(752.93896 285.270588)" style="stroke: #000000; stroke-width: 0.6; stroke: #000000; stroke-width: 0.6"/>
</g>
</g>
</g>
<g>
<g>
<g>
<path d="M 0 0 L 0 2" transform="translate(755.513136 285.270588)" style="stroke: #000000; stroke-width: 0.6; stroke: #000000; stroke-width: 0.6"/>
</g>
</g>
</g>
<g>
<g>
<g>
<path d="M 0 0 L 0 2" transform="translate(772.964706 285.270588)" style="stroke: #000000; stroke-width: 0.6; stroke: #000000; stroke-width: 0.6"/>
</g>
</g>
</g>
<g>
<g>
<g>
<path d="M 0 0 L 0 2" transform="translate(781.82624 285.270588)" style="stroke: #000000; stroke-width: 0.6; stroke: #000000; stroke-width: 0.6"/>
</g>
</g>
</g>
<g>
<g>
<g>
<path d="M 0 0 L 0 2" transform="translate(788.113598 285.270588)" style="stroke: #000000; stroke-width: 0.6; stroke: #000000; stroke-width: 0.6"/>
</g>
</g>
</g>
<g>
<g>
<g>
<path d="M 0 0 L 0 2" transform="translate(792.990452 285.270588)" style="stroke: #000000; stroke-width: 0.6; stroke: #000000; stroke-width: 0.6"/>
</g>
</g>
</g>
<g>
<g>
<g>
<path d="M 0 0 L 0 2" transform="translate(796.975131 285.270588)" style="stroke: #000000; stroke-width: 0.6; stroke: #000000; stroke-width: 0.6"/>
</g>
</g>
</g>
<g>
<g>
<g>
<path d="M 0 0 L 0 2" transform="translate(800.34413 285.270588)" style="stroke: #000000; stroke-width: 0.6; stroke: #000000; stroke-width: 0.6"/>
</g>
</g>
</g>
<g>
<g>
<g>
<path d="M 0 0 L 0 2" transform="translate(803.26249 285.270588)" style="stroke: #000000; stroke-width: 0.6; stroke: #000000; stroke-width: 0.6"/>
</g>
</g>
</g>
<g>
<g>
<g>
<path d="M 0 0 L 0 2" transform="translate(805.836665 285.270588)" style="stroke: #000000; stroke-width: 0.6; stroke: #000000; stroke-width: 0.6"/>
</g>
</g>
</g>
<g>
<g>
<g>
<path d="M 0 0 L 0 2" transform="translate(823.288235 285.270588)" style="stroke: #000000; stroke-width: 0.6; stroke: #000000; stroke-width: 0.6"/>
</g>
</g>
</g>
<g>
<g>
<g>
<path d="M 0 0 L 0 2" transform="translate(832.149769 285.270588)" style="stroke: #000000; stroke-width: 0.6; stroke: #000000; stroke-width: 0.6"/>
</g>
</g>
</g>
<g>
<g>
<g>
<path d="M 0 0 L 0 2" transform="translate(838.437127 285.270588)" style="stroke: #000000; stroke-width: 0.6; stroke: #000000; stroke-width: 0.6"/>
</g>
</g>
</g>
<g>
<g>
<g>
<path d="M 0 0 L 0 2" transform="translate(843.313981 285.270588)" style="stroke: #000000; stroke-width: 0.6; stroke: #000000; stroke-width: 0.6"/>
</g>
</g>
</g>
<g>
<g>
<g>
<path d="M 0 0 L 0 2" transform="translate(847.298661 285.270588)" style="stroke: #000000; stroke-width: 0.6; stroke: #000000; stroke-width: 0.6"/>
</g>
</g>
</g>
<g>
<g>
<g>
<path d="M 0 0 L 0 2" transform="translate(850.66766 285.270588)" style="stroke: #000000; stroke-width: 0.6; stroke: #000000; stroke-width: 0.6"/>
</g>
</g>
</g>
<g>
<g>
<g>
<path d="M 0 0 L 0 2" transform="translate(853.586019 285.270588)" style="stroke: #000000; stroke-width: 0.6; stroke: #000000; stroke-width: 0.6"/>
</g>
</g>
</g>
<g>
<g>
<g>
<path d="M 0 0 L 0 2" transform="translate(856.160194 285.270588)" style="stroke: #000000; stroke-width: 0.6; stroke: #000000; stroke-width: 0.6"/>
</g>
</g>
</g>
<g>
<g>
<g>
<path d="M 0 0 L 0 2" transform="translate(873.611765 285.270588)" style="stroke: #000000; stroke-width: 0.6; stroke: #000000; stroke-width: 0.6"/>
</g>
</g>
</g>
<g>
<g>
<g>
<path d="M 0 0 L 0 2" transform="translate(882.473298 285.270588)" style="stroke: #000000; stroke-width: 0.6; stroke: #000000; stroke-width: 0.6"/>
</g>
</g>
</g>
<g>
<g>
<g>
<path d="M 0 0 L 0 2" transform="translate(888.760657 285.270588)" style="stroke: #000000; stroke-width: 0.6; stroke: #000000; stroke-width: 0.6"/>
</g>
</g>
</g>
<g>
<g>
<g>
<path d="M 0 0 L 0 2" transform="translate(893.63751 285.270588)" style="stroke: #000000; stroke-width: 0.6; stroke: #000000; stroke-width: 0.6"/>
</g>
</g>
</g>
<g>
<g>
<g>
<path d="M 0 0 L 0 2" transform="translate(897.62219 285.270588)" style="stroke: #000000; stroke-width: 0.6; stroke: #000000; stroke-width: 0.6"/>
</g>
</g>
</g>
<g>
<g>
<g>
<path d="M 0 0 L 0 2" transform="translate(900.991189 285.270588)" style="stroke: #000000; stroke-width: 0.6; stroke: #000000; stroke-width: 0.6"/>
</g>
</g>
</g>
<g>
<g>
<g>
<path d="M 0 0 L 0 2" transform="translate(903.909548 285.270588)" style="stroke: #000000; stroke-width: 0.6; stroke: #000000; stroke-width: 0.6"/>
</g>
</g>
</g>
<g>
<g>
<g>
<path d="M 0 0 L 0 2" transform="translate(906.483724 285.270588)" style="stroke: #000000; stroke-width: 0.6; stroke: #000000; stroke-width: 0.6"/>
</g>
</g>
</g>
<g>
<g>
<g>
<path d="M 0 0 L 0 2" transform="translate(923.935294 285.270588)" style="stroke: #000000; stroke-width: 0.6; stroke: #000000; stroke-width: 0.6"/>
</g>
</g>
</g>
<g>
<g>
<g>
<path d="M 0 0 L 0 2" transform="translate(932.796828 285.270588)" style="stroke: #000000; stroke-width: 0.6; stroke: #000000; stroke-width: 0.6"/>
</g>
</g>
</g>
<g>
<g>
<g>
<path d="M 0 0 L 0 2" transform="translate(939.084186 285.270588)" style="stroke: #000000; stroke-width: 0.6; stroke: #000000; stroke-width: 0.6"/>
</g>
</g>
</g>
<g>
<g>
<g>
<path d="M 0 0 L 0 2" transform="translate(943.96104 285.270588)" style="stroke: #000000; stroke-width: 0.6; stroke: #000000; stroke-width: 0.6"/>
</g>
</g>
</g>
<g>
<g>
<g>
<path d="M 0 0 L 0 2" transform="translate(947.94572 285.270588)" style="stroke: #000000; stroke-width: 0.6; stroke: #000000; stroke-width: 0.6"/>
</g>
</g>
</g>
<g>
<g>
<g>
<path d="M 0 0 L 0 2" transform="translate(951.314718 285.270588)" style="stroke: #000000; stroke-width: 0.6; stroke: #000000; stroke-width: 0.6"/>
</g>
</g>
</g>
<g>
<g>
<g>
<path d="M 0 0 L 0 2" transform="translate(954.233078 285.270588)" style="stroke: #000000; stroke-width: 0.6; stroke: #000000; stroke-width: 0.6"/>
</g>
</g>
</g>
<g>
<g>
<g>
<path d="M 0 0 L 0 2" transform="translate(956.807253 285.270588)" style="stroke: #000000; stroke-width: 0.6; stroke: #000000; stroke-width: 0.6"/>
</g>
</g>
</g>
<g>
<g>
<g>
<path d="M 0 0 L 0 2" transform="translate(974.258824 285.270588)" style="stroke: #000000; stroke-width: 0.6; stroke: #000000; stroke-width: 0.6"/>
</g>
</g>
</g>
</g>
<g>
<g>
<g>
<g>
<path d="M 0 0 L -3.5 0" transform="translate(571.670588 254.299686)" style="stroke: #000000; stroke: #000000"/>
</g>
</g>
<g>
<!-- $\mathdefault{10^{-5}}$ -->
<g transform="translate(531.310588 260.230)">
<text>
<tspan x="0" y="-0.771875" style="font-size: 14px; font-family: 'DejaVu Serif'">1</tspan>
<tspan x="8.907227" y="-0.771875" style="font-size: 14px; font-family: 'DejaVu Serif'">0</tspan>
<tspan x="17.941602" y="-5.857813" style="font-size: 9.8px; font-family: 'DejaVu Serif'">−</tspan>
<tspan x="26.15293" y="-5.857813" style="font-size: 9.8px; font-family: 'DejaVu Serif'">5</tspan>
</text>
</g>
</g>
</g>
<g>
<g>
<g>
<path d="M 0 0 L -3.5 0" transform="translate(571.670588 211.2772)" style="stroke: #000000; stroke: #000000"/>
</g>
</g>
<g>
<!-- $\mathdefault{10^{-4}}$ -->
<g transform="translate(531.310588 216.973)">
<text>
<tspan x="0" y="-0.640625" style="font-size: 14px; font-family: 'DejaVu Serif'">1</tspan>
<tspan x="8.907227" y="-0.640625" style="font-size: 14px; font-family: 'DejaVu Serif'">0</tspan>
<tspan x="17.941602" y="-5.726562" style="font-size: 9.8px; font-family: 'DejaVu Serif'">−</tspan>
<tspan x="26.15293" y="-5.726562" style="font-size: 9.8px; font-family: 'DejaVu Serif'">4</tspan>
</text>
</g>
</g>
</g>
<g>
<g>
<g>
<path d="M 0 0 L -3.5 0" transform="translate(571.670588 168.254714)" style="stroke: #000000; stroke: #000000"/>
</g>
</g>
<g>
<!-- $\mathdefault{10^{-3}}$ -->
<g transform="translate(531.310588 173.950)">
<text>
<tspan x="0" y="-0.640625" style="font-size: 14px; font-family: 'DejaVu Serif'">1</tspan>
<tspan x="8.907227" y="-0.640625" style="font-size: 14px; font-family: 'DejaVu Serif'">0</tspan>
<tspan x="17.941602" y="-5.726562" style="font-size: 9.8px; font-family: 'DejaVu Serif'">−</tspan>
<tspan x="26.15293" y="-5.726562" style="font-size: 9.8px; font-family: 'DejaVu Serif'">3</tspan>
</text>
</g>
</g>
</g>
<g>
<g>
<g>
<path d="M 0 0 L -3.5 0" transform="translate(571.670588 125.232228)" style="stroke: #000000; stroke: #000000"/>
</g>
</g>
<g>
<!-- $\mathdefault{10^{-2}}$ -->
<g transform="translate(531.310588 130.928)">
<text>
<tspan x="0" y="-0.640625" style="font-size: 14px; font-family: 'DejaVu Serif'">1</tspan>
<tspan x="8.907227" y="-0.640625" style="font-size: 14px; font-family: 'DejaVu Serif'">0</tspan>
<tspan x="17.941602" y="-5.726562" style="font-size: 9.8px; font-family: 'DejaVu Serif'">−</tspan>
<tspan x="26.15293" y="-5.726562" style="font-size: 9.8px; font-family: 'DejaVu Serif'">2</tspan>
</text>
</g>
</g>
</g>
<g>
<g>
<g>
<path d="M 0 0 L -3.5 0" transform="translate(571.670588 82.209742)" style="stroke: #000000; stroke: #000000"/>
</g>
</g>
<g>
<!-- $\mathdefault{10^{-1}}$ -->
<g transform="translate(531.310588 87.905)">
<text>
<tspan x="0" y="-0.640625" style="font-size: 14px; font-family: 'DejaVu Serif'">1</tspan>
<tspan x="8.907227" y="-0.640625" style="font-size: 14px; font-family: 'DejaVu Serif'">0</tspan>
<tspan x="17.941602" y="-5.726562" style="font-size: 9.8px; font-family: 'DejaVu Serif'">−</tspan>
<tspan x="26.15293" y="-5.726562" style="font-size: 9.8px; font-family: 'DejaVu Serif'">1</tspan>
</text>
</g>
</g>
</g>
<g>
<g>
<g>
<path d="M 0 0 L -2 0" transform="translate(571.670588 284.371113)" style="stroke: #000000; stroke-width: 0.6; stroke: #000000; stroke-width: 0.6"/>
</g>
</g>
</g>
<g>
<g>
<g>
<path d="M 0 0 L -2 0" transform="translate(571.670588 276.795229)" style="stroke: #000000; stroke-width: 0.6; stroke: #000000; stroke-width: 0.6"/>
</g>
</g>
</g>
<g>
<g>
<g>
<path d="M 0 0 L -2 0" transform="translate(571.670588 271.420054)" style="stroke: #000000; stroke-width: 0.6; stroke: #000000; stroke-width: 0.6"/>
</g>
</g>
</g>
<g>
<g>
<g>
<path d="M 0 0 L -2 0" transform="translate(571.670588 267.250744)" style="stroke: #000000; stroke-width: 0.6; stroke: #000000; stroke-width: 0.6"/>
</g>
</g>
</g>
<g>
<g>
<g>
<path d="M 0 0 L -2 0" transform="translate(571.670588 263.84417)" style="stroke: #000000; stroke-width: 0.6; stroke: #000000; stroke-width: 0.6"/>
</g>
</g>
</g>
<g>
<g>
<g>
<path d="M 0 0 L -2 0" transform="translate(571.670588 260.963953)" style="stroke: #000000; stroke-width: 0.6; stroke: #000000; stroke-width: 0.6"/>
</g>
</g>
</g>
<g>
<g>
<g>
<path d="M 0 0 L -2 0" transform="translate(571.670588 258.468995)" style="stroke: #000000; stroke-width: 0.6; stroke: #000000; stroke-width: 0.6"/>
</g>
</g>
</g>
<g>
<g>
<g>
<path d="M 0 0 L -2 0" transform="translate(571.670588 256.268287)" style="stroke: #000000; stroke-width: 0.6; stroke: #000000; stroke-width: 0.6"/>
</g>
</g>
</g>
<g>
<g>
<g>
<path d="M 0 0 L -2 0" transform="translate(571.670588 241.348627)" style="stroke: #000000; stroke-width: 0.6; stroke: #000000; stroke-width: 0.6"/>
</g>
</g>
</g>
<g>
<g>
<g>
<path d="M 0 0 L -2 0" transform="translate(571.670588 233.772743)" style="stroke: #000000; stroke-width: 0.6; stroke: #000000; stroke-width: 0.6"/>
</g>
</g>
</g>
<g>
<g>
<g>
<path d="M 0 0 L -2 0" transform="translate(571.670588 228.397568)" style="stroke: #000000; stroke-width: 0.6; stroke: #000000; stroke-width: 0.6"/>
</g>
</g>
</g>
<g>
<g>
<g>
<path d="M 0 0 L -2 0" transform="translate(571.670588 224.228259)" style="stroke: #000000; stroke-width: 0.6; stroke: #000000; stroke-width: 0.6"/>
</g>
</g>
</g>
<g>
<g>
<g>
<path d="M 0 0 L -2 0" transform="translate(571.670588 220.821685)" style="stroke: #000000; stroke-width: 0.6; stroke: #000000; stroke-width: 0.6"/>
</g>
</g>
</g>
<g>
<g>
<g>
<path d="M 0 0 L -2 0" transform="translate(571.670588 217.941467)" style="stroke: #000000; stroke-width: 0.6; stroke: #000000; stroke-width: 0.6"/>
</g>
</g>
</g>
<g>
<g>
<g>
<path d="M 0 0 L -2 0" transform="translate(571.670588 215.44651)" style="stroke: #000000; stroke-width: 0.6; stroke: #000000; stroke-width: 0.6"/>
</g>
</g>
</g>
<g>
<g>
<g>
<path d="M 0 0 L -2 0" transform="translate(571.670588 213.245801)" style="stroke: #000000; stroke-width: 0.6; stroke: #000000; stroke-width: 0.6"/>
</g>
</g>
</g>
<g>
<g>
<g>
<path d="M 0 0 L -2 0" transform="translate(571.670588 198.326141)" style="stroke: #000000; stroke-width: 0.6; stroke: #000000; stroke-width: 0.6"/>
</g>
</g>
</g>
<g>
<g>
<g>
<path d="M 0 0 L -2 0" transform="translate(571.670588 190.750257)" style="stroke: #000000; stroke-width: 0.6; stroke: #000000; stroke-width: 0.6"/>
</g>
</g>
</g>
<g>
<g>
<g>
<path d="M 0 0 L -2 0" transform="translate(571.670588 185.375082)" style="stroke: #000000; stroke-width: 0.6; stroke: #000000; stroke-width: 0.6"/>
</g>
</g>
</g>
<g>
<g>
<g>
<path d="M 0 0 L -2 0" transform="translate(571.670588 181.205773)" style="stroke: #000000; stroke-width: 0.6; stroke: #000000; stroke-width: 0.6"/>
</g>
</g>
</g>
<g>
<g>
<g>
<path d="M 0 0 L -2 0" transform="translate(571.670588 177.799199)" style="stroke: #000000; stroke-width: 0.6; stroke: #000000; stroke-width: 0.6"/>
</g>
</g>
</g>
<g>
<g>
<g>
<path d="M 0 0 L -2 0" transform="translate(571.670588 174.918981)" style="stroke: #000000; stroke-width: 0.6; stroke: #000000; stroke-width: 0.6"/>
</g>
</g>
</g>
<g>
<g>
<g>
<path d="M 0 0 L -2 0" transform="translate(571.670588 172.424024)" style="stroke: #000000; stroke-width: 0.6; stroke: #000000; stroke-width: 0.6"/>
</g>
</g>
</g>
<g>
<g>
<g>
<path d="M 0 0 L -2 0" transform="translate(571.670588 170.223315)" style="stroke: #000000; stroke-width: 0.6; stroke: #000000; stroke-width: 0.6"/>
</g>
</g>
</g>
<g>
<g>
<g>
<path d="M 0 0 L -2 0" transform="translate(571.670588 155.303655)" style="stroke: #000000; stroke-width: 0.6; stroke: #000000; stroke-width: 0.6"/>
</g>
</g>
</g>
<g>
<g>
<g>
<path d="M 0 0 L -2 0" transform="translate(571.670588 147.727772)" style="stroke: #000000; stroke-width: 0.6; stroke: #000000; stroke-width: 0.6"/>
</g>
</g>
</g>
<g>
<g>
<g>
<path d="M 0 0 L -2 0" transform="translate(571.670588 142.352597)" style="stroke: #000000; stroke-width: 0.6; stroke: #000000; stroke-width: 0.6"/>
</g>
</g>
</g>
<g>
<g>
<g>
<path d="M 0 0 L -2 0" transform="translate(571.670588 138.183287)" style="stroke: #000000; stroke-width: 0.6; stroke: #000000; stroke-width: 0.6"/>
</g>
</g>
</g>
<g>
<g>
<g>
<path d="M 0 0 L -2 0" transform="translate(571.670588 134.776713)" style="stroke: #000000; stroke-width: 0.6; stroke: #000000; stroke-width: 0.6"/>
</g>
</g>
</g>
<g>
<g>
<g>
<path d="M 0 0 L -2 0" transform="translate(571.670588 131.896496)" style="stroke: #000000; stroke-width: 0.6; stroke: #000000; stroke-width: 0.6"/>
</g>
</g>
</g>
<g>
<g>
<g>
<path d="M 0 0 L -2 0" transform="translate(571.670588 129.401538)" style="stroke: #000000; stroke-width: 0.6; stroke: #000000; stroke-width: 0.6"/>
</g>
</g>
</g>
<g>
<g>
<g>
<path d="M 0 0 L -2 0" transform="translate(571.670588 127.200829)" style="stroke: #000000; stroke-width: 0.6; stroke: #000000; stroke-width: 0.6"/>
</g>
</g>
</g>
<g>
<g>
<g>
<path d="M 0 0 L -2 0" transform="translate(571.670588 112.28117)" style="stroke: #000000; stroke-width: 0.6; stroke: #000000; stroke-width: 0.6"/>
</g>
</g>
</g>
<g>
<g>
<g>
<path d="M 0 0 L -2 0" transform="translate(571.670588 104.705286)" style="stroke: #000000; stroke-width: 0.6; stroke: #000000; stroke-width: 0.6"/>
</g>
</g>
</g>
<g>
<g>
<g>
<path d="M 0 0 L -2 0" transform="translate(571.670588 99.330111)" style="stroke: #000000; stroke-width: 0.6; stroke: #000000; stroke-width: 0.6"/>
</g>
</g>
</g>
<g>
<g>
<g>
<path d="M 0 0 L -2 0" transform="translate(571.670588 95.160801)" style="stroke: #000000; stroke-width: 0.6; stroke: #000000; stroke-width: 0.6"/>
</g>
</g>
</g>
<g>
<g>
<g>
<path d="M 0 0 L -2 0" transform="translate(571.670588 91.754227)" style="stroke: #000000; stroke-width: 0.6; stroke: #000000; stroke-width: 0.6"/>
</g>
</g>
</g>
<g>
<g>
<g>
<path d="M 0 0 L -2 0" transform="translate(571.670588 88.87401)" style="stroke: #000000; stroke-width: 0.6; stroke: #000000; stroke-width: 0.6"/>
</g>
</g>
</g>
<g>
<g>
<g>
<path d="M 0 0 L -2 0" transform="translate(571.670588 86.379052)" style="stroke: #000000; stroke-width: 0.6; stroke: #000000; stroke-width: 0.6"/>
</g>
</g>
</g>
<g>
<g>
<g>
<path d="M 0 0 L -2 0" transform="translate(571.670588 84.178343)" style="stroke: #000000; stroke-width: 0.6; stroke: #000000; stroke-width: 0.6"/>
</g>
</g>
</g>
<g>
<g>
<g>
<path d="M 0 0 L -2 0" transform="translate(571.670588 69.258684)" style="stroke: #000000; stroke-width: 0.6; stroke: #000000; stroke-width: 0.6"/>
</g>
</g>
</g>
<g>
<g>
<g>
<path d="M 0 0 L -2 0" transform="translate(571.670588 61.6828)" style="stroke: #000000; stroke-width: 0.6; stroke: #000000; stroke-width: 0.6"/>
</g>
</g>
</g>
<g>
<g>
<g>
<path d="M 0 0 L -2 0" transform="translate(571.670588 56.307625)" style="stroke: #000000; stroke-width: 0.6; stroke: #000000; stroke-width: 0.6"/>
</g>
</g>
</g>
<g>
<g>
<g>
<path d="M 0 0 L -2 0" transform="translate(571.670588 52.138315)" style="stroke: #000000; stroke-width: 0.6; stroke: #000000; stroke-width: 0.6"/>
</g>
</g>
</g>
<g>
<g>
<g>
<path d="M 0 0 L -2 0" transform="translate(571.670588 48.731741)" style="stroke: #000000; stroke-width: 0.6; stroke: #000000; stroke-width: 0.6"/>
</g>
</g>
</g>
<g>
<g>
<g>
<path d="M 0 0 L -2 0" transform="translate(571.670588 45.851524)" style="stroke: #000000; stroke-width: 0.6; stroke: #000000; stroke-width: 0.6"/>
</g>
</g>
</g>
<g>
<g>
<g>
<path d="M 0 0 L -2 0" transform="translate(571.670588 43.356566)" style="stroke: #000000; stroke-width: 0.6; stroke: #000000; stroke-width: 0.6"/>
</g>
</g>
</g>
<g>
<!-- $\langle T\rangle$ -->
<g transform="translate(523.567151 176.647) rotate(-90)">
<text>
<tspan x="0" y="-0.34375" style="font-size: 18px; font-family: 'DejaVu Sans'">⟨</tspan>
<tspan x="18.017578" y="-0.34375" style="font-size: 18px; font-family: 'DejaVu Sans'">⟩</tspan>
<tspan x="7.022461" y="-0.34375" style="font-style: oblique; font-size: 18px; font-family: 'DejaVu Sans'">T</tspan>
</text>
</g>
</g>
</g>
<g>
<path d="M 562.35 72.94 L 563.06 73.49 L 563.76 74.04 L 564.47 74.59 L 565.18 75.13 L 565.88 75.68 L 566.59 76.23 L 567.29 76.78 L 568 77.33 L 568.71 77.88 L 569.41 78.43 L 570.12 78.98 L 570.82 79.54 L 571.53 80.09 L 572.24 80.64 L 572.94 81.19 L 573.65 81.75 L 574.35 82.3 L 575.06 82.86 L 575.76 83.42 L 576.47 83.97 L 577.18 84.53 L 577.88 85.09 L 578.59 85.65 L 579.29 86.21 L 580 86.77 L 580.71 87.33 L 581.41 87.89 L 582.12 88.45 L 582.82 89.01 L 583.53 89.57 L 584.24 90.14 L 584.94 90.7 L 585.65 91.26 L 586.35 91.83 L 587.06 92.39 L 587.76 92.95 L 588.47 93.52 L 589.18 94.08 L 589.88 94.65 L 590.59 95.22 L 591.29 95.78 L 592 96.35 L 592.71 96.92 L 593.41 97.48 L 594.12 98.05 L 594.82 98.62 L 595.53 99.19 L 596.24 99.75 L 596.94 100.32 L 597.65 100.89 L 598.35 101.46 L 599.06 102.03 L 599.76 102.59 L 600.47 103.16 L 601.18 103.73 L 601.88 104.3 L 602.59 104.87 L 603.29 105.44 L 604 106.01 L 604.71 106.58 L 605.41 107.15 L 606.12 107.71 L 606.82 108.28 L 607.53 108.85 L 608.24 109.42 L 608.94 109.99 L 609.65 110.56 L 610.35 111.13 L 611.06 111.69 L 611.76 112.26 L 612.47 112.83 L 613.18 113.4 L 613.88 113.97 L 614.59 114.53 L 615.29 115.1 L 616 115.67 L 616.71 116.23 L 617.41 116.8 L 618.12 117.37 L 618.82 117.93 L 619.53 118.5 L 620.24 119.06 L 620.94 119.63 L 621.65 120.19 L 622.35 120.76 L 623.06 121.32 L 623.76 121.88 L 624.47 122.45 L 625.18 123.01 L 625.88 123.57 L 626.59 124.13 L 627.29 124.7 L 628 125.26 L 628.71 125.82 L 629.41 126.38 L 630.12 126.94 L 630.82 127.5 L 631.53 128.06 L 632.24 128.62 L 632.94 129.18 L 633.65 129.74 L 634.35 130.3 L 635.06 130.86 L 635.76 131.42 L 636.47 131.98 L 637.18 132.54 L 637.88 133.1 L 638.59 133.66 L 639.29 134.22 L 640 134.78 L 640.71 135.35 L 641.41 135.91 L 642.12 136.47 L 642.82 137.03 L 643.53 137.6 L 644.24 138.16 L 644.94 138.73 L 645.65 139.29 L 646.35 139.86 L 647.06 140.43 L 647.76 140.99 L 648.47 141.56 L 649.18 142.13 L 649.88 142.7 L 650.59 143.27 L 651.29 143.84 L 652 144.41 L 652.71 144.99 L 653.41 145.56 L 654.12 146.14 L 654.82 146.71 L 655.53 147.29 L 656.24 147.87 L 656.94 148.45 L 657.65 149.03 L 658.35 149.61 L 659.06 150.19 L 659.76 150.77 L 660.47 151.36 L 661.18 151.94 L 661.88 152.53 L 662.59 153.11 L 663.29 153.7 L 664 154.29 L 664.71 154.87 L 665.41 155.46 L 666.12 156.05 L 666.82 156.64 L 667.53 157.23 L 668.24 157.81 L 668.94 158.4 L 669.65 158.99 L 670.35 159.58 L 671.06 160.17 L 671.76 160.76 L 672.47 161.35 L 673.18 161.94 L 673.88 162.53 L 674.59 163.11 L 675.29 163.7 L 676 164.29 L 676.71 164.88 L 677.41 165.46 L 678.12 166.05 L 678.82 166.64 L 679.53 167.22 L 680.24 167.81 L 680.94 168.39 L 681.65 168.97 L 682.35 169.56 L 683.06 170.14 L 683.76 170.72 L 684.47 171.3 L 685.18 171.88 L 685.88 172.45 L 686.59 173.03 L 687.29 173.61 L 688 174.18 L 688.71 174.75 L 689.41 175.32 L 690.12 175.89 L 690.82 176.46 L 691.53 177.03 L 692.24 177.59 L 692.94 178.16 L 693.65 178.72 L 694.35 179.28 L 695.06 179.83 L 695.76 180.39 L 696.47 180.94 L 697.18 181.49 L 697.88 182.04 L 698.59 182.58 L 699.29 183.13 L 700 183.67 L 700.71 184.21 L 701.41 184.75 L 702.12 185.28 L 702.82 185.82 L 703.53 186.35 L 704.24 186.88 L 704.94 187.42 L 705.65 187.94 L 706.35 188.47 L 707.06 189 L 707.76 189.53 L 708.47 190.05 L 709.18 190.58 L 709.88 191.1 L 710.59 191.62 L 711.29 192.15 L 712 192.67 L 712.71 193.19 L 713.41 193.71 L 714.12 194.24 L 714.82 194.76 L 715.53 195.28 L 716.24 195.8 L 716.94 196.33 L 717.65 196.85 L 718.35 197.37 L 719.06 197.9 L 719.76 198.42 L 720.47 198.94 L 721.18 199.47 L 721.88 200 L 722.59 200.52 L 723.29 201.05 L 724 201.58 L 724.71 202.11 L 725.41 202.64 L 726.12 203.17 L 726.82 203.7 L 727.53 204.23 L 728.24 204.77 L 728.94 205.31 L 729.65 205.84 L 730.35 206.38 L 731.06 206.92 L 731.76 207.47 L 732.47 208.01 L 733.18 208.56 L 733.88 209.1 L 734.59 209.65 L 735.29 210.2 L 736 210.75 L 736.71 211.31 L 737.41 211.86 L 738.12 212.42 L 738.82 212.97 L 739.53 213.53 L 740.24 214.09 L 740.94 214.66 L 741.65 215.22 L 742.35 215.78 L 743.06 216.35 L 743.76 216.92 L 744.47 217.49 L 745.18 218.06 L 745.88 218.63 L 746.59 219.21 L 747.29 219.78 L 748 220.36 L 748.71 220.94 L 749.41 221.51 L 750.12 222.09 L 750.82 222.67 L 751.53 223.25 L 752.24 223.83 L 752.94 224.4 L 753.65 224.98 L 754.35 225.55 L 755.06 226.13 L 755.76 226.7 L 756.47 227.27 L 757.18 227.83 L 757.88 228.4 L 758.59 228.96 L 759.29 229.52 L 760 230.08 L 760.71 230.63 L 761.41 231.18 L 762.12 231.72 L 762.82 232.27 L 763.53 232.8 L 764.24 233.34 L 764.94 233.87 L 765.65 234.39 L 766.35 234.91 L 767.06 235.43 L 767.76 235.94 L 768.47 236.45 L 769.18 236.96 L 769.88 237.46 L 770.59 237.96 L 771.29 238.45 L 772 238.94 L 772.71 239.43 L 773.41 239.91 L 774.12 240.39 L 774.82 240.87 L 775.53 241.34 L 776.24 241.81 L 776.94 242.27 L 777.65 242.73 L 778.35 243.19 L 779.06 243.65 L 779.76 244.1 L 780.47 244.54 L 781.18 244.99 L 781.88 245.43 L 782.59 245.87 L 783.29 246.3 L 784 246.73 L 784.71 247.16 L 785.41 247.58 L 786.12 248 L 786.82 248.42 L 787.53 248.84 L 788.24 249.25 L 788.94 249.66 L 789.65 250.06 L 790.35 250.47 L 791.06 250.87 L 791.76 251.26 L 792.47 251.66 L 793.18 252.05 L 793.88 252.44 L 794.59 252.82 L 795.29 253.21 L 796 253.59 L 796.71 253.96 L 797.41 254.34 L 798.12 254.71 L 798.82 255.08 L 799.53 255.44 L 800.24 255.81 L 800.94 256.17 L 801.65 256.52 L 802.35 256.88 L 803.06 257.23 L 803.76 257.57 L 804.47 257.92 L 805.18 258.26 L 805.88 258.6 L 806.59 258.93 L 807.29 259.26 L 808 259.59 L 808.71 259.91 L 809.41 260.23 L 810.12 260.55 L 810.82 260.86 L 811.53 261.17 L 812.24 261.47 L 812.94 261.77 L 813.65 262.07 L 814.35 262.36 L 815.06 262.65 L 815.76 262.94 L 816.47 263.21 L 817.18 263.49 L 817.88 263.76 L 818.59 264.02 L 819.29 264.27 L 820 264.52 L 820.71 264.77 L 821.41 265.01 L 822.12 265.24 L 822.82 265.47 L 823.53 265.69 L 824.24 265.9 L 824.94 266.11 L 825.65 266.31 L 826.35 266.51 L 827.06 266.7 L 827.76 266.88 L 828.47 267.06 L 829.18 267.24 L 829.88 267.41 L 830.59 267.58 L 831.29 267.74 L 832 267.9 L 832.71 268.05 L 833.41 268.19 L 834.12 268.34 L 834.82 268.48 L 835.53 268.62 L 836.24 268.75 L 836.94 268.88 L 837.65 269.01 L 838.35 269.13 L 839.06 269.26 L 839.76 269.38 L 840.47 269.5 L 841.18 269.62 L 841.88 269.73 L 842.59 269.85 L 843.29 269.97 L 844 270.08 L 844.71 270.2 L 845.41 270.31 L 846.12 270.43 L 846.82 270.55 L 847.53 270.67 L 848.24 270.79 L 848.94 270.91 L 849.65 271.03 L 850.35 271.15 L 851.06 271.26 L 851.76 271.38 L 852.47 271.5 L 853.18 271.61 L 853.88 271.72 L 854.59 271.83 L 855.29 271.93 L 856 272.03 L 856.71 272.13 L 857.41 272.22 L 858.12 272.3 L 858.82 272.38 L 859.53 272.46 L 860.24 272.53 L 860.94 272.59 L 861.65 272.66 L 862.35 272.71 L 863.06 272.77 L 863.76 272.82 L 864.47 272.87 L 865.18 272.91 L 865.88 272.95 L 866.59 272.99 L 867.29 273.03 L 868 273.06 L 868.71 273.09 L 869.41 273.13 L 870.12 273.16 L 870.82 273.19 L 871.53 273.21 L 872.24 273.24 L 872.94 273.27 L 873.65 273.3 L 874.35 273.32 L 875.06 273.35 L 875.76 273.37 L 876.47 273.39 L 877.18 273.41 L 877.88 273.44 L 878.59 273.46 L 879.29 273.48 L 880 273.5 L 880.71 273.52 L 881.41 273.54 L 882.12 273.55 L 882.82 273.57 L 883.53 273.59 L 884.24 273.6 L 884.94 273.62 L 885.65 273.64 L 886.35 273.65 L 887.06 273.67 L 887.76 273.68 L 888.47 273.69 L 889.18 273.71 L 889.88 273.72 L 890.59 273.73 L 891.29 273.74 L 892 273.76 L 892.71 273.77 L 893.41 273.78 L 894.12 273.79 L 894.82 273.8 L 895.53 273.81 L 896.24 273.82 L 896.94 273.83 L 897.65 273.84 L 898.35 273.85 L 899.06 273.86 L 899.76 273.86 L 900.47 273.87 L 901.18 273.88 L 901.88 273.89 L 902.59 273.9 L 903.29 273.9 L 904 273.91 L 904.71 273.92 L 905.41 273.93 L 906.12 273.93 L 906.82 273.94 L 907.53 273.95 L 908.24 273.95 L 908.94 273.96 L 909.65 273.96 L 910.35 273.97 L 911.06 273.98 L 911.76 273.98 L 912.47 273.99 L 913.18 273.99 L 913.88 274 L 914.59 274 L 915.29 274.01 L 916 274.01 L 916.71 274.02 L 917.41 274.02 L 918.12 274.03 L 918.82 274.03 L 919.53 274.04 L 920.24 274.04 L 920.94 274.04 L 921.65 274.05 L 922.35 274.05 L 923.06 274.06 L 923.76 274.06 L 924.47 274.06 L 925.18 274.07 L 925.88 274.07 L 926.59 274.08 L 927.29 274.08 L 928 274.08 L 928.71 274.09 L 929.41 274.09 L 930.12 274.09 L 930.82 274.1 L 931.53 274.1 L 932.24 274.1 L 932.94 274.1 L 933.65 274.11 L 934.35 274.11 L 935.06 274.11 L 935.76 274.12 L 936.47 274.12 L 937.18 274.12 L 937.88 274.12 L 938.59 274.13 L 939.29 274.13 L 940 274.13 L 940.71 274.13 L 941.41 274.14 L 942.12 274.14 L 942.82 274.14 L 943.53 274.14 L 944.24 274.15 L 944.94 274.15 L 945.65 274.15 L 946.35 274.15 L 947.06 274.15 L 947.76 274.16 L 948.47 274.16 L 949.18 274.16 L 949.88 274.16 L 950.59 274.16 L 951.29 274.16 L 952 274.17 L 952.71 274.17 L 953.41 274.17 L 954.12 274.17 L 954.82 274.17 L 955.53 274.17 L 956.24 274.18 L 956.94 274.18 L 957.65 274.18 L 958.35 274.18 L 959.06 274.18 L 959.76 274.18 L 960.47 274.18 L 961.18 274.18 L 961.88 274.19 L 962.59 274.19 L 963.29 274.19 L 964 274.19 L 964.71 274.19 L 965.41 274.19 L 966.12 274.19 L 966.82 274.19 L 967.53 274.19 L 968.24 274.2 L 968.94 274.2 L 969.65 274.2 L 970.35 274.2 L 971.06 274.2 L 971.76 274.2 L 972.47 274.2 L 973.18 274.2 L 973.88 274.2 L 974.59 274.2 L 975.29 274.2 L 975.59 274.21" clip-path="url(#p8e73a9e9df)" style="fill: none; stroke: #708090; stroke-opacity: 0.5; stroke-width: 10"/>
</g>
<g>
<path d="M 562.35 71.76 L 563.06 72.31 L 563.76 72.86 L 564.47 73.41 L 565.18 73.96 L 565.88 74.51 L 566.59 75.06 L 567.29 75.61 L 568 76.16 L 568.71 76.71 L 569.41 77.26 L 570.12 77.81 L 570.82 78.36 L 571.53 78.91 L 572.24 79.46 L 572.94 80.02 L 573.65 80.57 L 574.35 81.12 L 575.06 81.67 L 575.76 82.23 L 576.47 82.78 L 577.18 83.33 L 577.88 83.89 L 578.59 84.44 L 579.29 85 L 580 85.55 L 580.71 86.11 L 581.41 86.66 L 582.12 87.22 L 582.82 87.78 L 583.53 88.33 L 584.24 88.89 L 584.94 89.45 L 585.65 90.01 L 586.35 90.57 L 587.06 91.13 L 587.76 91.69 L 588.47 92.24 L 589.18 92.8 L 589.88 93.37 L 590.59 93.93 L 591.29 94.49 L 592 95.05 L 592.71 95.61 L 593.41 96.17 L 594.12 96.74 L 594.82 97.3 L 595.53 97.86 L 596.24 98.43 L 596.94 98.99 L 597.65 99.55 L 598.35 100.12 L 599.06 100.68 L 599.76 101.25 L 600.47 101.81 L 601.18 102.38 L 601.88 102.95 L 602.59 103.51 L 603.29 104.08 L 604 104.65 L 604.71 105.21 L 605.41 105.78 L 606.12 106.35 L 606.82 106.91 L 607.53 107.48 L 608.24 108.05 L 608.94 108.62 L 609.65 109.18 L 610.35 109.75 L 611.06 110.32 L 611.76 110.89 L 612.47 111.45 L 613.18 112.02 L 613.88 112.59 L 614.59 113.16 L 615.29 113.72 L 616 114.29 L 616.71 114.86 L 617.41 115.42 L 618.12 115.99 L 618.82 116.56 L 619.53 117.12 L 620.24 117.69 L 620.94 118.26 L 621.65 118.82 L 622.35 119.39 L 623.06 119.95 L 623.76 120.52 L 624.47 121.08 L 625.18 121.65 L 625.88 122.21 L 626.59 122.78 L 627.29 123.34 L 628 123.9 L 628.71 124.47 L 629.41 125.03 L 630.12 125.6 L 630.82 126.17 L 631.53 126.73 L 632.24 127.3 L 632.94 127.87 L 633.65 128.44 L 634.35 129.01 L 635.06 129.58 L 635.76 130.15 L 636.47 130.72 L 637.18 131.29 L 637.88 131.86 L 638.59 132.44 L 639.29 133.01 L 640 133.58 L 640.71 134.16 L 641.41 134.73 L 642.12 135.31 L 642.82 135.89 L 643.53 136.46 L 644.24 137.04 L 644.94 137.62 L 645.65 138.19 L 646.35 138.77 L 647.06 139.35 L 647.76 139.93 L 648.47 140.51 L 649.18 141.09 L 649.88 141.66 L 650.59 142.24 L 651.29 142.82 L 652 143.4 L 652.71 143.98 L 653.41 144.56 L 654.12 145.14 L 654.82 145.72 L 655.53 146.3 L 656.24 146.89 L 656.94 147.47 L 657.65 148.05 L 658.35 148.63 L 659.06 149.21 L 659.76 149.79 L 660.47 150.37 L 661.18 150.95 L 661.88 151.53 L 662.59 152.11 L 663.29 152.69 L 664 153.27 L 664.71 153.86 L 665.41 154.44 L 666.12 155.02 L 666.82 155.6 L 667.53 156.18 L 668.24 156.76 L 668.94 157.34 L 669.65 157.92 L 670.35 158.5 L 671.06 159.08 L 671.76 159.66 L 672.47 160.24 L 673.18 160.82 L 673.88 161.4 L 674.59 161.98 L 675.29 162.56 L 676 163.14 L 676.71 163.72 L 677.41 164.3 L 678.12 164.88 L 678.82 165.46 L 679.53 166.04 L 680.24 166.62 L 680.94 167.2 L 681.65 167.78 L 682.35 168.36 L 683.06 168.94 L 683.76 169.53 L 684.47 170.11 L 685.18 170.69 L 685.88 171.27 L 686.59 171.85 L 687.29 172.43 L 688 173.01 L 688.71 173.59 L 689.41 174.17 L 690.12 174.76 L 690.82 175.34 L 691.53 175.92 L 692.24 176.5 L 692.94 177.09 L 693.65 177.67 L 694.35 178.25 L 695.06 178.83 L 695.76 179.42 L 696.47 180 L 697.18 180.58 L 697.88 181.17 L 698.59 181.75 L 699.29 182.34 L 700 182.92 L 700.71 183.5 L 701.41 184.09 L 702.12 184.67 L 702.82 185.25 L 703.53 185.84 L 704.24 186.42 L 704.94 187 L 705.65 187.59 L 706.35 188.17 L 707.06 188.75 L 707.76 189.33 L 708.47 189.91 L 709.18 190.5 L 709.88 191.08 L 710.59 191.66 L 711.29 192.23 L 712 192.81 L 712.71 193.39 L 713.41 193.97 L 714.12 194.54 L 714.82 195.12 L 715.53 195.69 L 716.24 196.27 L 716.94 196.84 L 717.65 197.41 L 718.35 197.98 L 719.06 198.55 L 719.76 199.12 L 720.47 199.69 L 721.18 200.25 L 721.88 200.82 L 722.59 201.38 L 723.29 201.94 L 724 202.5 L 724.71 203.06 L 725.41 203.62 L 726.12 204.17 L 726.82 204.73 L 727.53 205.28 L 728.24 205.83 L 728.94 206.38 L 729.65 206.93 L 730.35 207.47 L 731.06 208.02 L 731.76 208.56 L 732.47 209.1 L 733.18 209.64 L 733.88 210.18 L 734.59 210.72 L 735.29 211.25 L 736 211.79 L 736.71 212.32 L 737.41 212.86 L 738.12 213.39 L 738.82 213.92 L 739.53 214.45 L 740.24 214.99 L 740.94 215.52 L 741.65 216.05 L 742.35 216.58 L 743.06 217.11 L 743.76 217.64 L 744.47 218.17 L 745.18 218.7 L 745.88 219.24 L 746.59 219.77 L 747.29 220.3 L 748 220.84 L 748.71 221.37 L 749.41 221.9 L 750.12 222.44 L 750.82 222.97 L 751.53 223.51 L 752.24 224.04 L 752.94 224.58 L 753.65 225.11 L 754.35 225.65 L 755.06 226.18 L 755.76 226.72 L 756.47 227.26 L 757.18 227.79 L 757.88 228.33 L 758.59 228.86 L 759.29 229.4 L 760 229.93 L 760.71 230.47 L 761.41 231 L 762.12 231.54 L 762.82 232.07 L 763.53 232.61 L 764.24 233.14 L 764.94 233.67 L 765.65 234.21 L 766.35 234.74 L 767.06 235.26 L 767.76 235.79 L 768.47 236.31 L 769.18 236.84 L 769.88 237.36 L 770.59 237.87 L 771.29 238.38 L 772 238.89 L 772.71 239.4 L 773.41 239.9 L 774.12 240.4 L 774.82 240.89 L 775.53 241.38 L 776.24 241.86 L 776.94 242.34 L 777.65 242.81 L 778.35 243.28 L 779.06 243.74 L 779.76 244.2 L 780.47 244.65 L 781.18 245.09 L 781.88 245.53 L 782.59 245.96 L 783.29 246.39 L 784 246.81 L 784.71 247.23 L 785.41 247.64 L 786.12 248.05 L 786.82 248.45 L 787.53 248.86 L 788.24 249.25 L 788.94 249.65 L 789.65 250.04 L 790.35 250.42 L 791.06 250.81 L 791.76 251.19 L 792.47 251.57 L 793.18 251.95 L 793.88 252.32 L 794.59 252.69 L 795.29 253.07 L 796 253.43 L 796.71 253.8 L 797.41 254.17 L 798.12 254.53 L 798.82 254.89 L 799.53 255.25 L 800.24 255.61 L 800.94 255.96 L 801.65 256.32 L 802.35 256.67 L 803.06 257.01 L 803.76 257.36 L 804.47 257.7 L 805.18 258.03 L 805.88 258.37 L 806.59 258.7 L 807.29 259.02 L 808 259.35 L 808.71 259.67 L 809.41 259.98 L 810.12 260.3 L 810.82 260.6 L 811.53 260.91 L 812.24 261.2 L 812.94 261.5 L 813.65 261.79 L 814.35 262.08 L 815.06 262.36 L 815.76 262.63 L 816.47 262.9 L 817.18 263.17 L 817.88 263.44 L 818.59 263.69 L 819.29 263.95 L 820 264.2 L 820.71 264.44 L 821.41 264.68 L 822.12 264.91 L 822.82 265.14 L 823.53 265.37 L 824.24 265.59 L 824.94 265.81 L 825.65 266.02 L 826.35 266.22 L 827.06 266.43 L 827.76 266.62 L 828.47 266.81 L 829.18 267 L 829.88 267.19 L 830.59 267.36 L 831.29 267.54 L 832 267.71 L 832.71 267.87 L 833.41 268.03 L 834.12 268.19 L 834.82 268.34 L 835.53 268.49 L 836.24 268.63 L 836.94 268.77 L 837.65 268.91 L 838.35 269.05 L 839.06 269.18 L 839.76 269.31 L 840.47 269.44 L 841.18 269.57 L 841.88 269.69 L 842.59 269.82 L 843.29 269.94 L 844 270.06 L 844.71 270.18 L 845.41 270.31 L 846.12 270.43 L 846.82 270.55 L 847.53 270.67 L 848.24 270.79 L 848.94 270.91 L 849.65 271.03 L 850.35 271.15 L 851.06 271.27 L 851.76 271.39 L 852.47 271.5 L 853.18 271.62 L 853.88 271.73 L 854.59 271.83 L 855.29 271.94 L 856 272.03 L 856.71 272.13 L 857.41 272.22 L 858.12 272.3 L 858.82 272.38 L 859.53 272.46 L 860.24 272.53 L 860.94 272.59 L 861.65 272.65 L 862.35 272.71 L 863.06 272.76 L 863.76 272.82 L 864.47 272.86 L 865.18 272.91 L 865.88 272.95 L 866.59 272.99 L 867.29 273.03 L 868 273.06 L 868.71 273.09 L 869.41 273.13 L 870.12 273.16 L 870.82 273.19 L 871.53 273.22 L 872.24 273.24 L 872.94 273.27 L 873.65 273.3 L 874.35 273.32 L 875.06 273.35 L 875.76 273.37 L 876.47 273.39 L 877.18 273.42 L 877.88 273.44 L 878.59 273.46 L 879.29 273.48 L 880 273.5 L 880.71 273.52 L 881.41 273.54 L 882.12 273.56 L 882.82 273.57 L 883.53 273.59 L 884.24 273.61 L 884.94 273.62 L 885.65 273.64 L 886.35 273.65 L 887.06 273.67 L 887.76 273.68 L 888.47 273.69 L 889.18 273.71 L 889.88 273.72 L 890.59 273.73 L 891.29 273.74 L 892 273.76 L 892.71 273.77 L 893.41 273.78 L 894.12 273.79 L 894.82 273.8 L 895.53 273.81 L 896.24 273.82 L 896.94 273.83 L 897.65 273.84 L 898.35 273.85 L 899.06 273.86 L 899.76 273.86 L 900.47 273.87 L 901.18 273.88 L 901.88 273.89 L 902.59 273.9 L 903.29 273.9 L 904 273.91 L 904.71 273.92 L 905.41 273.93 L 906.12 273.93 L 906.82 273.94 L 907.53 273.95 L 908.24 273.95 L 908.94 273.96 L 909.65 273.96 L 910.35 273.97 L 911.06 273.98 L 911.76 273.98 L 912.47 273.99 L 913.18 273.99 L 913.88 274 L 914.59 274 L 915.29 274.01 L 916 274.01 L 916.71 274.02 L 917.41 274.02 L 918.12 274.03 L 918.82 274.03 L 919.53 274.04 L 920.24 274.04 L 920.94 274.04 L 921.65 274.05 L 922.35 274.05 L 923.06 274.06 L 923.76 274.06 L 924.47 274.06 L 925.18 274.07 L 925.88 274.07 L 926.59 274.08 L 927.29 274.08 L 928 274.08 L 928.71 274.09 L 929.41 274.09 L 930.12 274.09 L 930.82 274.1 L 931.53 274.1 L 932.24 274.1 L 932.94 274.11 L 933.65 274.11 L 934.35 274.11 L 935.06 274.12 L 935.76 274.12 L 936.47 274.12 L 937.18 274.12 L 937.88 274.13 L 938.59 274.13 L 939.29 274.13 L 940 274.14 L 940.71 274.14 L 941.41 274.14 L 942.12 274.14 L 942.82 274.15 L 943.53 274.15 L 944.24 274.15 L 944.94 274.15 L 945.65 274.16 L 946.35 274.16 L 947.06 274.16 L 947.76 274.16 L 948.47 274.16 L 949.18 274.17 L 949.88 274.17 L 950.59 274.17 L 951.29 274.17 L 952 274.18 L 952.71 274.18 L 953.41 274.18 L 954.12 274.18 L 954.82 274.18 L 955.53 274.19 L 956.24 274.19 L 956.94 274.19 L 957.65 274.19 L 958.35 274.19 L 959.06 274.2 L 959.76 274.2 L 960.47 274.2 L 961.18 274.2 L 961.88 274.2 L 962.59 274.2 L 963.29 274.21 L 964 274.21 L 964.71 274.21 L 965.18 274.21" clip-path="url(#p8e73a9e9df)" style="fill: none; stroke: #d62728; stroke-width: 3; stroke-linecap: square"/>
</g>
<g>
<path d="M 562.35 52.71 L 563.06 53.61 L 563.76 54.52 L 564.47 55.43 L 565.18 56.34 L 565.88 57.24 L 566.59 58.14 L 567.29 59.04 L 568 59.93 L 568.71 60.82 L 569.41 61.71 L 570.12 62.59 L 570.82 63.47 L 571.53 64.33 L 572.24 65.2 L 572.94 66.05 L 573.65 66.9 L 574.35 67.75 L 575.06 68.6 L 575.76 69.44 L 576.47 70.28 L 577.18 71.13 L 577.88 71.97 L 578.59 72.82 L 579.29 73.67 L 580 74.53 L 580.71 75.38 L 581.41 76.24 L 582.12 77.09 L 582.82 77.95 L 583.53 78.79 L 584.24 79.64 L 584.94 80.48 L 585.65 81.31 L 586.35 82.13 L 587.06 82.94 L 587.76 83.74 L 588.47 84.53 L 589.18 85.31 L 589.88 86.07 L 590.59 86.83 L 591.29 87.57 L 592 88.31 L 592.71 89.03 L 593.41 89.74 L 594.12 90.45 L 594.82 91.14 L 595.53 91.82 L 596.24 92.5 L 596.94 93.16 L 597.65 93.82 L 598.35 94.47 L 599.06 95.11 L 599.76 95.75 L 600.47 96.38 L 601.18 97 L 601.88 97.63 L 602.59 98.24 L 603.29 98.86 L 604 99.48 L 604.71 100.09 L 605.41 100.71 L 606.12 101.32 L 606.82 101.94 L 607.53 102.55 L 608.24 103.16 L 608.94 103.77 L 609.65 104.37 L 610.35 104.96 L 611.06 105.54 L 611.76 106.12 L 612.47 106.68 L 613.18 107.24 L 613.88 107.78 L 614.59 108.32 L 615.29 108.85 L 616 109.37 L 616.71 109.89 L 617.41 110.41 L 618.12 110.92 L 618.82 111.43 L 619.53 111.93 L 620.24 112.44 L 620.94 112.94 L 621.65 113.44 L 622.35 113.92 L 623.06 114.4 L 623.76 114.86 L 624.47 115.32 L 625.18 115.76 L 625.88 116.19 L 626.59 116.63 L 627.29 117.06 L 628 117.48 L 628.71 117.91 L 629.41 118.35 L 630.12 118.79 L 630.82 119.24 L 631.53 119.69 L 632.24 120.16 L 632.94 120.65 L 633.65 121.15 L 634.35 121.67 L 635.06 122.21 L 635.76 122.76 L 636.47 123.34 L 637.18 123.92 L 637.88 124.52 L 638.59 125.12 L 639.29 125.73 L 640 126.33 L 640.71 126.93 L 641.41 127.52 L 642.12 128.11 L 642.82 128.7 L 643.53 129.3 L 644.24 129.91 L 644.94 130.53 L 645.65 131.16 L 646.35 131.82 L 647.06 132.5 L 647.76 133.21 L 648.47 133.94 L 649.18 134.69 L 649.88 135.45 L 650.59 136.22 L 651.29 137 L 652 137.79 L 652.71 138.59 L 653.41 139.38 L 654.12 140.17 L 654.82 140.95 L 655.53 141.72 L 656.24 142.47 L 656.94 143.2 L 657.65 143.9 L 658.35 144.56 L 659.06 145.19 L 659.76 145.78 L 660.47 146.34 L 661.18 146.87 L 661.88 147.37 L 662.59 147.85 L 663.29 148.32 L 664 148.77 L 664.71 149.22 L 665.41 149.66 L 666.12 150.1 L 666.82 150.55 L 667.53 151 L 668.24 151.46 L 668.94 151.93 L 669.65 152.41 L 670.35 152.9 L 671.06 153.41 L 671.76 153.93 L 672.47 154.48 L 673.18 155.04 L 673.88 155.63 L 674.59 156.25 L 675.29 156.89 L 676 157.56 L 676.71 158.26 L 677.41 158.96 L 678.12 159.69 L 678.82 160.42 L 679.53 161.15 L 680.24 161.89 L 680.94 162.63 L 681.65 163.36 L 682.35 164.08 L 683.06 164.8 L 683.76 165.49 L 684.47 166.18 L 685.18 166.84 L 685.88 167.49 L 686.59 168.12 L 687.29 168.74 L 688 169.35 L 688.71 169.95 L 689.41 170.56 L 690.12 171.15 L 690.82 171.74 L 691.53 172.33 L 692.24 172.91 L 692.94 173.49 L 693.65 174.07 L 694.35 174.65 L 695.06 175.23 L 695.76 175.8 L 696.47 176.38 L 697.18 176.95 L 697.88 177.53 L 698.59 178.11 L 699.29 178.68 L 700 179.26 L 700.71 179.84 L 701.41 180.43 L 702.12 181.01 L 702.82 181.59 L 703.53 182.18 L 704.24 182.77 L 704.94 183.36 L 705.65 183.95 L 706.35 184.54 L 707.06 185.14 L 707.76 185.73 L 708.47 186.33 L 709.18 186.94 L 709.88 187.54 L 710.59 188.15 L 711.29 188.76 L 712 189.38 L 712.71 189.99 L 713.41 190.61 L 714.12 191.24 L 714.82 191.86 L 715.53 192.49 L 716.24 193.12 L 716.94 193.76 L 717.65 194.39 L 718.35 195.03 L 719.06 195.66 L 719.76 196.3 L 720.47 196.94 L 721.18 197.58 L 721.88 198.22 L 722.59 198.86 L 723.29 199.5 L 724 200.13 L 724.71 200.77 L 725.41 201.41 L 726.12 202.04 L 726.82 202.67 L 727.53 203.3 L 728.24 203.93 L 728.94 204.56 L 729.65 205.18 L 730.35 205.8 L 731.06 206.41 L 731.76 207.03 L 732.47 207.64 L 733.18 208.24 L 733.88 208.84 L 734.59 209.44 L 735.29 210.04 L 736 210.63 L 736.71 211.21 L 737.41 211.79 L 738.12 212.37 L 738.82 212.94 L 739.53 213.51 L 740.24 214.07 L 740.94 214.63 L 741.65 215.18 L 742.35 215.73 L 743.06 216.27 L 743.76 216.81 L 744.47 217.34 L 745.18 217.86 L 745.88 218.38 L 746.59 218.9 L 747.29 219.4 L 748 219.9 L 748.71 220.39 L 749.41 220.88 L 750.12 221.35 L 750.82 221.82 L 751.53 222.27 L 752.24 222.72 L 752.94 223.15 L 753.65 223.58 L 754.35 223.99 L 755.06 224.39 L 755.76 224.78 L 756.47 225.16 L 757.18 225.53 L 757.88 225.89 L 758.59 226.25 L 759.29 226.59 L 760 226.93 L 760.71 227.26 L 761.41 227.58 L 762.12 227.9 L 762.82 228.21 L 763.53 228.51 L 764.24 228.81 L 764.94 229.11 L 765.65 229.4 L 766.35 229.68 L 767.06 229.96 L 767.76 230.22 L 768.47 230.48 L 769.18 230.74 L 769.88 230.98 L 770.59 231.21 L 771.29 231.44 L 772 231.66 L 772.71 231.88 L 773.41 232.09 L 774.12 232.3 L 774.82 232.51 L 775.53 232.71 L 776.24 232.92 L 776.94 233.13 L 777.65 233.35 L 778.35 233.57 L 779.06 233.8 L 779.76 234.04 L 780.47 234.28 L 781.18 234.53 L 781.88 234.79 L 782.59 235.05 L 783.29 235.32 L 784 235.59 L 784.71 235.87 L 785.41 236.15 L 786.12 236.44 L 786.82 236.73 L 787.53 237.02 L 788.24 237.31 L 788.94 237.61 L 789.65 237.91 L 790.35 238.21 L 791.06 238.51 L 791.76 238.81 L 792.47 239.11 L 793.18 239.4 L 793.88 239.7 L 794.59 240 L 795.29 240.29 L 796 240.59 L 796.71 240.88 L 797.41 241.17 L 798.12 241.45 L 798.82 241.73 L 799.53 242.02 L 800.24 242.29 L 800.94 242.57 L 801.65 242.84 L 802.35 243.11 L 803.06 243.38 L 803.76 243.65 L 804.47 243.91 L 805.18 244.17 L 805.88 244.43 L 806.59 244.69 L 807.29 244.94 L 808 245.19 L 808.71 245.44 L 809.41 245.68 L 810.12 245.92 L 810.82 246.16 L 811.53 246.4 L 812.24 246.63 L 812.94 246.86 L 813.65 247.09 L 814.35 247.32 L 815.06 247.55 L 815.76 247.78 L 816.47 248.01 L 817.18 248.25 L 817.88 248.48 L 818.59 248.72 L 819.29 248.97 L 820 249.22 L 820.71 249.48 L 821.41 249.74 L 822.12 250.01 L 822.82 250.29 L 823.53 250.57 L 824.24 250.87 L 824.94 251.17 L 825.65 251.48 L 826.35 251.8 L 827.06 252.13 L 827.76 252.47 L 828.47 252.82 L 829.18 253.19 L 829.88 253.56 L 830.59 253.95 L 831.29 254.34 L 832 254.76 L 832.71 255.18 L 833.41 255.62 L 834.12 256.07 L 834.82 256.54 L 835.53 257.03 L 836.24 257.53 L 836.94 258.04 L 837.65 258.57 L 838.35 259.12 L 839.06 259.68 L 839.76 260.25 L 840.47 260.84 L 841.18 261.43 L 841.88 262.03 L 842.59 262.65 L 843.29 263.26 L 844 263.88 L 844.71 264.5 L 845.41 265.11 L 846.12 265.72 L 846.82 266.3 L 847.53 266.87 L 848.24 267.42 L 848.94 267.94 L 849.65 268.44 L 850.35 268.92 L 851.06 269.36 L 851.76 269.78 L 852.47 270.16 L 853.18 270.51 L 853.88 270.83 L 854.59 271.12 L 855.29 271.38 L 856 271.62 L 856.71 271.83 L 857.41 272.02 L 858.12 272.18 L 858.82 272.33 L 859.53 272.46 L 860.24 272.58 L 860.94 272.68 L 861.65 272.77 L 862.35 272.84 L 863.06 272.91 L 863.76 272.97 L 864.47 273.02 L 865.18 273.06 L 865.88 273.1 L 866.59 273.13 L 867.29 273.16 L 868 273.19 L 868.71 273.22 L 869.41 273.25 L 870.12 273.28 L 870.82 273.3 L 871.53 273.33 L 872.24 273.35 L 872.94 273.37 L 873.65 273.39 L 874.35 273.42 L 875.06 273.44 L 875.76 273.46 L 876.47 273.47 L 877.18 273.49 L 877.88 273.51 L 878.59 273.53 L 879.29 273.54 L 880 273.56 L 880.71 273.57 L 881.41 273.59 L 882.12 273.6 L 882.82 273.61 L 883.53 273.63 L 884.24 273.64 L 884.94 273.65 L 885.65 273.66 L 886.35 273.68 L 887.06 273.69 L 887.76 273.7 L 888.47 273.71 L 889.18 273.72 L 889.88 273.73 L 890.59 273.74 L 891.29 273.75 L 892 273.76 L 892.71 273.77 L 893.41 273.77 L 894.12 273.78 L 894.82 273.79 L 895.53 273.8 L 896.24 273.81 L 896.94 273.81 L 897.65 273.82 L 898.35 273.83 L 899.06 273.84 L 899.76 273.84 L 900.47 273.85 L 901.18 273.86 L 901.88 273.86 L 902.59 273.87 L 903.29 273.88 L 904 273.88 L 904.71 273.89 L 905.41 273.89 L 906.12 273.9 L 906.82 273.9 L 907.53 273.91 L 908.24 273.91 L 908.94 273.92 L 909.65 273.93 L 910.35 273.93 L 911.06 273.93 L 911.76 273.94 L 912.47 273.94 L 913.18 273.95 L 913.88 273.95 L 914.59 273.96 L 915.29 273.96 L 916 273.97 L 916.71 273.97 L 917.41 273.98 L 918.12 273.98 L 918.82 273.98 L 919.53 273.99 L 920.24 273.99 L 920.94 274 L 921.65 274 L 922.35 274 L 923.06 274.01 L 923.76 274.01 L 924.47 274.02 L 925.18 274.02 L 925.88 274.02 L 926.59 274.03 L 927.29 274.03 L 928 274.04 L 928.71 274.04 L 929.41 274.04 L 930.12 274.05 L 930.82 274.05 L 931.53 274.05 L 932.24 274.06 L 932.94 274.06 L 933.65 274.07 L 934.35 274.07 L 935.06 274.07 L 935.76 274.08 L 936.47 274.08 L 937.18 274.08 L 937.88 274.09 L 938.59 274.09 L 939.29 274.09 L 940 274.1 L 940.71 274.1 L 941.41 274.1 L 942.12 274.11 L 942.82 274.11 L 943.53 274.11 L 944.24 274.12 L 944.94 274.12 L 945.65 274.12 L 946.35 274.13 L 947.06 274.13 L 947.76 274.13 L 948.47 274.14 L 949.18 274.14 L 949.88 274.14 L 950.59 274.15 L 951.29 274.15 L 952 274.15 L 952.71 274.16 L 953.41 274.16 L 954.12 274.16 L 954.82 274.17 L 955.53 274.17 L 956.24 274.17 L 956.94 274.18 L 957.65 274.18 L 958.35 274.18 L 959.06 274.18 L 959.76 274.19 L 960.47 274.19 L 961.18 274.19 L 961.88 274.2 L 962.59 274.2 L 963.29 274.2 L 964 274.21 L 964.71 274.21 L 965.18 274.21" clip-path="url(#p8e73a9e9df)" style="fill: none; stroke: #000000; stroke-width: 3; stroke-linecap: square"/>
</g>
<g>
<path d="M 562.35 100.18 L 682.33 202.75" clip-path="url(#p8e73a9e9df)" style="fill: none; stroke: #0000ff; stroke-opacity: 0.5; stroke-width: 2; stroke-linecap: square"/>
</g>
<g>
<path d="M 571.67 285.27 L 571.67 42.07" style="fill: none; stroke: #000000; stroke-linejoin: miter; stroke-linecap: square"/>
</g>
<g>
<path d="M 974.26 285.27 L 974.26 42.07" style="fill: none; stroke: #000000; stroke-linejoin: miter; stroke-linecap: square"/>
</g>
<g>
<path d="M 571.67 285.27 L 974.26 285.27" style="fill: none; stroke: #000000; stroke-linejoin: miter; stroke-linecap: square"/>
</g>
<g>
<path d="M 571.67 42.07 L 974.26 42.07" style="fill: none; stroke: #000000; stroke-linejoin: miter; stroke-linecap: square"/>
</g>
<g>
<text style="font-size: 16px; font-family: 'DejaVu Serif', serif; text-anchor: start" x="579.722353" y="61.526588" transform="rotate(-0 579.722353 61.526588)">(b)</text>
</g>
<g>
<!-- $r^{-1}$ -->
<g transform="translate(629.647059 200.047059)">
<text>
<tspan x="0" y="-0.921875" style="font-style: oblique; font-size: 18px; font-family: 'DejaVu Sans'">r</tspan>
<tspan x="8.237109" y="-7.8125" style="font-size: 12.6px; font-family: 'DejaVu Sans'">−</tspan>
<tspan x="18.794531" y="-7.8125" style="font-size: 12.6px; font-family: 'DejaVu Sans'">1</tspan>
</text>
</g>
</g>
<g>
<path d="M 820.66 285.27 L 820.66 42.07" clip-path="url(#p8e73a9e9df)" style="fill: none; stroke-dasharray: 3.85,1.65; stroke-dashoffset: 0; stroke: #808080; stroke-width: 1.25"/>
</g>
</g>
<g>
<g>
<path d="M 76.38 531.01 L 478.96 531.01 L 478.96 287.86 L 76.38 287.86 z" style="fill: #ffffff"/>
</g>
<g>
<g>
<g>
<g>
<path d="M 0 0 L 0 3.5" transform="translate(111.551108 531.011765)" style="stroke: #000000; stroke: #000000"/>
</g>
</g>
</g>
<g>
<g>
<g>
<path d="M 0 0 L 0 3.5" transform="translate(161.874638 531.011765)" style="stroke: #000000; stroke: #000000"/>
</g>
</g>
</g>
<g>
<g>
<g>
<path d="M 0 0 L 0 3.5" transform="translate(212.198167 531.011765)" style="stroke: #000000; stroke: #000000"/>
</g>
</g>
</g>
<g>
<g>
<g>
<path d="M 0 0 L 0 3.5" transform="translate(262.521696 531.011765)" style="stroke: #000000; stroke: #000000"/>
</g>
</g>
</g>
<g>
<g>
<g>
<path d="M 0 0 L 0 3.5" transform="translate(312.845226 531.011765)" style="stroke: #000000; stroke: #000000"/>
</g>
</g>
</g>
<g>
<g>
<g>
<path d="M 0 0 L 0 3.5" transform="translate(363.168755 531.011765)" style="stroke: #000000; stroke: #000000"/>
</g>
</g>
</g>
<g>
<g>
<g>
<path d="M 0 0 L 0 3.5" transform="translate(413.492285 531.011765)" style="stroke: #000000; stroke: #000000"/>
</g>
</g>
</g>
<g>
<g>
<g>
<path d="M 0 0 L 0 3.5" transform="translate(463.815814 531.011765)" style="stroke: #000000; stroke: #000000"/>
</g>
</g>
</g>
<g>
<g>
<g>
<path d="M 0 0 L 0 2" transform="translate(76.376471 531.011765)" style="stroke: #000000; stroke-width: 0.6; stroke: #000000; stroke-width: 0.6"/>
</g>
</g>
</g>
<g>
<g>
<g>
<path d="M 0 0 L 0 2" transform="translate(85.238004 531.011765)" style="stroke: #000000; stroke-width: 0.6; stroke: #000000; stroke-width: 0.6"/>
</g>
</g>
</g>
<g>
<g>
<g>
<path d="M 0 0 L 0 2" transform="translate(91.525362 531.011765)" style="stroke: #000000; stroke-width: 0.6; stroke: #000000; stroke-width: 0.6"/>
</g>
</g>
</g>
<g>
<g>
<g>
<path d="M 0 0 L 0 2" transform="translate(96.402216 531.011765)" style="stroke: #000000; stroke-width: 0.6; stroke: #000000; stroke-width: 0.6"/>
</g>
</g>
</g>
<g>
<g>
<g>
<path d="M 0 0 L 0 2" transform="translate(100.386896 531.011765)" style="stroke: #000000; stroke-width: 0.6; stroke: #000000; stroke-width: 0.6"/>
</g>
</g>
</g>
<g>
<g>
<g>
<path d="M 0 0 L 0 2" transform="translate(103.755895 531.011765)" style="stroke: #000000; stroke-width: 0.6; stroke: #000000; stroke-width: 0.6"/>
</g>
</g>
</g>
<g>
<g>
<g>
<path d="M 0 0 L 0 2" transform="translate(106.674254 531.011765)" style="stroke: #000000; stroke-width: 0.6; stroke: #000000; stroke-width: 0.6"/>
</g>
</g>
</g>
<g>
<g>
<g>
<path d="M 0 0 L 0 2" transform="translate(109.24843 531.011765)" style="stroke: #000000; stroke-width: 0.6; stroke: #000000; stroke-width: 0.6"/>
</g>
</g>
</g>
<g>
<g>
<g>
<path d="M 0 0 L 0 2" transform="translate(126.7 531.011765)" style="stroke: #000000; stroke-width: 0.6; stroke: #000000; stroke-width: 0.6"/>
</g>
</g>
</g>
<g>
<g>
<g>
<path d="M 0 0 L 0 2" transform="translate(135.561534 531.011765)" style="stroke: #000000; stroke-width: 0.6; stroke: #000000; stroke-width: 0.6"/>
</g>
</g>
</g>
<g>
<g>
<g>
<path d="M 0 0 L 0 2" transform="translate(141.848892 531.011765)" style="stroke: #000000; stroke-width: 0.6; stroke: #000000; stroke-width: 0.6"/>
</g>
</g>
</g>
<g>
<g>
<g>
<path d="M 0 0 L 0 2" transform="translate(146.725746 531.011765)" style="stroke: #000000; stroke-width: 0.6; stroke: #000000; stroke-width: 0.6"/>
</g>
</g>
</g>
<g>
<g>
<g>
<path d="M 0 0 L 0 2" transform="translate(150.710425 531.011765)" style="stroke: #000000; stroke-width: 0.6; stroke: #000000; stroke-width: 0.6"/>
</g>
</g>
</g>
<g>
<g>
<g>
<path d="M 0 0 L 0 2" transform="translate(154.079424 531.011765)" style="stroke: #000000; stroke-width: 0.6; stroke: #000000; stroke-width: 0.6"/>
</g>
</g>
</g>
<g>
<g>
<g>
<path d="M 0 0 L 0 2" transform="translate(156.997784 531.011765)" style="stroke: #000000; stroke-width: 0.6; stroke: #000000; stroke-width: 0.6"/>
</g>
</g>
</g>
<g>
<g>
<g>
<path d="M 0 0 L 0 2" transform="translate(159.571959 531.011765)" style="stroke: #000000; stroke-width: 0.6; stroke: #000000; stroke-width: 0.6"/>
</g>
</g>
</g>
<g>
<g>
<g>
<path d="M 0 0 L 0 2" transform="translate(177.023529 531.011765)" style="stroke: #000000; stroke-width: 0.6; stroke: #000000; stroke-width: 0.6"/>
</g>
</g>
</g>
<g>
<g>
<g>
<path d="M 0 0 L 0 2" transform="translate(185.885063 531.011765)" style="stroke: #000000; stroke-width: 0.6; stroke: #000000; stroke-width: 0.6"/>
</g>
</g>
</g>
<g>
<g>
<g>
<path d="M 0 0 L 0 2" transform="translate(192.172421 531.011765)" style="stroke: #000000; stroke-width: 0.6; stroke: #000000; stroke-width: 0.6"/>
</g>
</g>
</g>
<g>
<g>
<g>
<path d="M 0 0 L 0 2" transform="translate(197.049275 531.011765)" style="stroke: #000000; stroke-width: 0.6; stroke: #000000; stroke-width: 0.6"/>
</g>
</g>
</g>
<g>
<g>
<g>
<path d="M 0 0 L 0 2" transform="translate(201.033955 531.011765)" style="stroke: #000000; stroke-width: 0.6; stroke: #000000; stroke-width: 0.6"/>
</g>
</g>
</g>
<g>
<g>
<g>
<path d="M 0 0 L 0 2" transform="translate(204.402954 531.011765)" style="stroke: #000000; stroke-width: 0.6; stroke: #000000; stroke-width: 0.6"/>
</g>
</g>
</g>
<g>
<g>
<g>
<path d="M 0 0 L 0 2" transform="translate(207.321313 531.011765)" style="stroke: #000000; stroke-width: 0.6; stroke: #000000; stroke-width: 0.6"/>
</g>
</g>
</g>
<g>
<g>
<g>
<path d="M 0 0 L 0 2" transform="translate(209.895489 531.011765)" style="stroke: #000000; stroke-width: 0.6; stroke: #000000; stroke-width: 0.6"/>
</g>
</g>
</g>
<g>
<g>
<g>
<path d="M 0 0 L 0 2" transform="translate(227.347059 531.011765)" style="stroke: #000000; stroke-width: 0.6; stroke: #000000; stroke-width: 0.6"/>
</g>
</g>
</g>
<g>
<g>
<g>
<path d="M 0 0 L 0 2" transform="translate(236.208592 531.011765)" style="stroke: #000000; stroke-width: 0.6; stroke: #000000; stroke-width: 0.6"/>
</g>
</g>
</g>
<g>
<g>
<g>
<path d="M 0 0 L 0 2" transform="translate(242.495951 531.011765)" style="stroke: #000000; stroke-width: 0.6; stroke: #000000; stroke-width: 0.6"/>
</g>
</g>
</g>
<g>
<g>
<g>
<path d="M 0 0 L 0 2" transform="translate(247.372805 531.011765)" style="stroke: #000000; stroke-width: 0.6; stroke: #000000; stroke-width: 0.6"/>
</g>
</g>
</g>
<g>
<g>
<g>
<path d="M 0 0 L 0 2" transform="translate(251.357484 531.011765)" style="stroke: #000000; stroke-width: 0.6; stroke: #000000; stroke-width: 0.6"/>
</g>
</g>
</g>
<g>
<g>
<g>
<path d="M 0 0 L 0 2" transform="translate(254.726483 531.011765)" style="stroke: #000000; stroke-width: 0.6; stroke: #000000; stroke-width: 0.6"/>
</g>
</g>
</g>
<g>
<g>
<g>
<path d="M 0 0 L 0 2" transform="translate(257.644843 531.011765)" style="stroke: #000000; stroke-width: 0.6; stroke: #000000; stroke-width: 0.6"/>
</g>
</g>
</g>
<g>
<g>
<g>
<path d="M 0 0 L 0 2" transform="translate(260.219018 531.011765)" style="stroke: #000000; stroke-width: 0.6; stroke: #000000; stroke-width: 0.6"/>
</g>
</g>
</g>
<g>
<g>
<g>
<path d="M 0 0 L 0 2" transform="translate(277.670588 531.011765)" style="stroke: #000000; stroke-width: 0.6; stroke: #000000; stroke-width: 0.6"/>
</g>
</g>
</g>
<g>
<g>
<g>
<path d="M 0 0 L 0 2" transform="translate(286.532122 531.011765)" style="stroke: #000000; stroke-width: 0.6; stroke: #000000; stroke-width: 0.6"/>
</g>
</g>
</g>
<g>
<g>
<g>
<path d="M 0 0 L 0 2" transform="translate(292.81948 531.011765)" style="stroke: #000000; stroke-width: 0.6; stroke: #000000; stroke-width: 0.6"/>
</g>
</g>
</g>
<g>
<g>
<g>
<path d="M 0 0 L 0 2" transform="translate(297.696334 531.011765)" style="stroke: #000000; stroke-width: 0.6; stroke: #000000; stroke-width: 0.6"/>
</g>
</g>
</g>
<g>
<g>
<g>
<path d="M 0 0 L 0 2" transform="translate(301.681014 531.011765)" style="stroke: #000000; stroke-width: 0.6; stroke: #000000; stroke-width: 0.6"/>
</g>
</g>
</g>
<g>
<g>
<g>
<path d="M 0 0 L 0 2" transform="translate(305.050012 531.011765)" style="stroke: #000000; stroke-width: 0.6; stroke: #000000; stroke-width: 0.6"/>
</g>
</g>
</g>
<g>
<g>
<g>
<path d="M 0 0 L 0 2" transform="translate(307.968372 531.011765)" style="stroke: #000000; stroke-width: 0.6; stroke: #000000; stroke-width: 0.6"/>
</g>
</g>
</g>
<g>
<g>
<g>
<path d="M 0 0 L 0 2" transform="translate(310.542547 531.011765)" style="stroke: #000000; stroke-width: 0.6; stroke: #000000; stroke-width: 0.6"/>
</g>
</g>
</g>
<g>
<g>
<g>
<path d="M 0 0 L 0 2" transform="translate(327.994118 531.011765)" style="stroke: #000000; stroke-width: 0.6; stroke: #000000; stroke-width: 0.6"/>
</g>
</g>
</g>
<g>
<g>
<g>
<path d="M 0 0 L 0 2" transform="translate(336.855651 531.011765)" style="stroke: #000000; stroke-width: 0.6; stroke: #000000; stroke-width: 0.6"/>
</g>
</g>
</g>
<g>
<g>
<g>
<path d="M 0 0 L 0 2" transform="translate(343.143009 531.011765)" style="stroke: #000000; stroke-width: 0.6; stroke: #000000; stroke-width: 0.6"/>
</g>
</g>
</g>
<g>
<g>
<g>
<path d="M 0 0 L 0 2" transform="translate(348.019863 531.011765)" style="stroke: #000000; stroke-width: 0.6; stroke: #000000; stroke-width: 0.6"/>
</g>
</g>
</g>
<g>
<g>
<g>
<path d="M 0 0 L 0 2" transform="translate(352.004543 531.011765)" style="stroke: #000000; stroke-width: 0.6; stroke: #000000; stroke-width: 0.6"/>
</g>
</g>
</g>
<g>
<g>
<g>
<path d="M 0 0 L 0 2" transform="translate(355.373542 531.011765)" style="stroke: #000000; stroke-width: 0.6; stroke: #000000; stroke-width: 0.6"/>
</g>
</g>
</g>
<g>
<g>
<g>
<path d="M 0 0 L 0 2" transform="translate(358.291901 531.011765)" style="stroke: #000000; stroke-width: 0.6; stroke: #000000; stroke-width: 0.6"/>
</g>
</g>
</g>
<g>
<g>
<g>
<path d="M 0 0 L 0 2" transform="translate(360.866077 531.011765)" style="stroke: #000000; stroke-width: 0.6; stroke: #000000; stroke-width: 0.6"/>
</g>
</g>
</g>
<g>
<g>
<g>
<path d="M 0 0 L 0 2" transform="translate(378.317647 531.011765)" style="stroke: #000000; stroke-width: 0.6; stroke: #000000; stroke-width: 0.6"/>
</g>
</g>
</g>
<g>
<g>
<g>
<path d="M 0 0 L 0 2" transform="translate(387.179181 531.011765)" style="stroke: #000000; stroke-width: 0.6; stroke: #000000; stroke-width: 0.6"/>
</g>
</g>
</g>
<g>
<g>
<g>
<path d="M 0 0 L 0 2" transform="translate(393.466539 531.011765)" style="stroke: #000000; stroke-width: 0.6; stroke: #000000; stroke-width: 0.6"/>
</g>
</g>
</g>
<g>
<g>
<g>
<path d="M 0 0 L 0 2" transform="translate(398.343393 531.011765)" style="stroke: #000000; stroke-width: 0.6; stroke: #000000; stroke-width: 0.6"/>
</g>
</g>
</g>
<g>
<g>
<g>
<path d="M 0 0 L 0 2" transform="translate(402.328073 531.011765)" style="stroke: #000000; stroke-width: 0.6; stroke: #000000; stroke-width: 0.6"/>
</g>
</g>
</g>
<g>
<g>
<g>
<path d="M 0 0 L 0 2" transform="translate(405.697071 531.011765)" style="stroke: #000000; stroke-width: 0.6; stroke: #000000; stroke-width: 0.6"/>
</g>
</g>
</g>
<g>
<g>
<g>
<path d="M 0 0 L 0 2" transform="translate(408.615431 531.011765)" style="stroke: #000000; stroke-width: 0.6; stroke: #000000; stroke-width: 0.6"/>
</g>
</g>
</g>
<g>
<g>
<g>
<path d="M 0 0 L 0 2" transform="translate(411.189606 531.011765)" style="stroke: #000000; stroke-width: 0.6; stroke: #000000; stroke-width: 0.6"/>
</g>
</g>
</g>
<g>
<g>
<g>
<path d="M 0 0 L 0 2" transform="translate(428.641176 531.011765)" style="stroke: #000000; stroke-width: 0.6; stroke: #000000; stroke-width: 0.6"/>
</g>
</g>
</g>
<g>
<g>
<g>
<path d="M 0 0 L 0 2" transform="translate(437.50271 531.011765)" style="stroke: #000000; stroke-width: 0.6; stroke: #000000; stroke-width: 0.6"/>
</g>
</g>
</g>
<g>
<g>
<g>
<path d="M 0 0 L 0 2" transform="translate(443.790068 531.011765)" style="stroke: #000000; stroke-width: 0.6; stroke: #000000; stroke-width: 0.6"/>
</g>
</g>
</g>
<g>
<g>
<g>
<path d="M 0 0 L 0 2" transform="translate(448.666922 531.011765)" style="stroke: #000000; stroke-width: 0.6; stroke: #000000; stroke-width: 0.6"/>
</g>
</g>
</g>
<g>
<g>
<g>
<path d="M 0 0 L 0 2" transform="translate(452.651602 531.011765)" style="stroke: #000000; stroke-width: 0.6; stroke: #000000; stroke-width: 0.6"/>
</g>
</g>
</g>
<g>
<g>
<g>
<path d="M 0 0 L 0 2" transform="translate(456.020601 531.011765)" style="stroke: #000000; stroke-width: 0.6; stroke: #000000; stroke-width: 0.6"/>
</g>
</g>
</g>
<g>
<g>
<g>
<path d="M 0 0 L 0 2" transform="translate(458.93896 531.011765)" style="stroke: #000000; stroke-width: 0.6; stroke: #000000; stroke-width: 0.6"/>
</g>
</g>
</g>
<g>
<g>
<g>
<path d="M 0 0 L 0 2" transform="translate(461.513136 531.011765)" style="stroke: #000000; stroke-width: 0.6; stroke: #000000; stroke-width: 0.6"/>
</g>
</g>
</g>
<g>
<g>
<g>
<path d="M 0 0 L 0 2" transform="translate(478.964706 531.011765)" style="stroke: #000000; stroke-width: 0.6; stroke: #000000; stroke-width: 0.6"/>
</g>
</g>
</g>
</g>
<g>
<g>
<g>
<g>
<path d="M 0 0 L -3.5 0" transform="translate(76.376471 500.897113)" style="stroke: #000000; stroke: #000000"/>
</g>
</g>
<g>
<!-- $\mathdefault{10^{-3}}$ -->
<g transform="translate(36.016471 506.827)">
<text>
<tspan x="0" y="-0.640625" style="font-size: 14px; font-family: 'DejaVu Serif'">1</tspan>
<tspan x="8.907227" y="-0.640625" style="font-size: 14px; font-family: 'DejaVu Serif'">0</tspan>
<tspan x="17.941602" y="-5.726562" style="font-size: 9.8px; font-family: 'DejaVu Serif'">−</tspan>
<tspan x="26.15293" y="-5.726562" style="font-size: 9.8px; font-family: 'DejaVu Serif'">3</tspan>
</text>
</g>
</g>
</g>
<g>
<g>
<g>
<path d="M 0 0 L -3.5 0" transform="translate(76.376471 443.303164)" style="stroke: #000000; stroke: #000000"/>
</g>
</g>
<g>
<!-- $\mathdefault{10^{-2}}$ -->
<g transform="translate(36.016471 448.999)">
<text>
<tspan x="0" y="-0.640625" style="font-size: 14px; font-family: 'DejaVu Serif'">1</tspan>
<tspan x="8.907227" y="-0.640625" style="font-size: 14px; font-family: 'DejaVu Serif'">0</tspan>
<tspan x="17.941602" y="-5.726562" style="font-size: 9.8px; font-family: 'DejaVu Serif'">−</tspan>
<tspan x="26.15293" y="-5.726562" style="font-size: 9.8px; font-family: 'DejaVu Serif'">2</tspan>
</text>
</g>
</g>
</g>
<g>
<g>
<g>
<path d="M 0 0 L -3.5 0" transform="translate(76.376471 385.709215)" style="stroke: #000000; stroke: #000000"/>
</g>
</g>
<g>
<!-- $\mathdefault{10^{-1}}$ -->
<g transform="translate(36.016471 391.405)">
<text>
<tspan x="0" y="-0.640625" style="font-size: 14px; font-family: 'DejaVu Serif'">1</tspan>
<tspan x="8.907227" y="-0.640625" style="font-size: 14px; font-family: 'DejaVu Serif'">0</tspan>
<tspan x="17.941602" y="-5.726562" style="font-size: 9.8px; font-family: 'DejaVu Serif'">−</tspan>
<tspan x="26.15293" y="-5.726562" style="font-size: 9.8px; font-family: 'DejaVu Serif'">1</tspan>
</text>
</g>
</g>
</g>
<g>
<g>
<g>
<path d="M 0 0 L -3.5 0" transform="translate(76.376471 328.115266)" style="stroke: #000000; stroke: #000000"/>
</g>
</g>
<g>
<!-- $\mathdefault{10^{0}}$ -->
<g transform="translate(44.136471 333.811)">
<text>
<tspan x="0" y="-0.640625" style="font-size: 14px; font-family: 'DejaVu Serif'">1</tspan>
<tspan x="8.907227" y="-0.640625" style="font-size: 14px; font-family: 'DejaVu Serif'">0</tspan>
<tspan x="17.941602" y="-5.726562" style="font-size: 9.8px; font-family: 'DejaVu Serif'">0</tspan>
</text>
</g>
</g>
</g>
<g>
<g>
<g>
<path d="M 0 0 L -2 0" transform="translate(76.376471 531.011765)" style="stroke: #000000; stroke-width: 0.6; stroke: #000000; stroke-width: 0.6"/>
</g>
</g>
</g>
<g>
<g>
<g>
<path d="M 0 0 L -2 0" transform="translate(76.376471 523.816049)" style="stroke: #000000; stroke-width: 0.6; stroke: #000000; stroke-width: 0.6"/>
</g>
</g>
</g>
<g>
<g>
<g>
<path d="M 0 0 L -2 0" transform="translate(76.376471 518.234619)" style="stroke: #000000; stroke-width: 0.6; stroke: #000000; stroke-width: 0.6"/>
</g>
</g>
</g>
<g>
<g>
<g>
<path d="M 0 0 L -2 0" transform="translate(76.376471 513.674259)" style="stroke: #000000; stroke-width: 0.6; stroke: #000000; stroke-width: 0.6"/>
</g>
</g>
</g>
<g>
<g>
<g>
<path d="M 0 0 L -2 0" transform="translate(76.376471 509.818529)" style="stroke: #000000; stroke-width: 0.6; stroke: #000000; stroke-width: 0.6"/>
</g>
</g>
</g>
<g>
<g>
<g>
<path d="M 0 0 L -2 0" transform="translate(76.376471 506.478543)" style="stroke: #000000; stroke-width: 0.6; stroke: #000000; stroke-width: 0.6"/>
</g>
</g>
</g>
<g>
<g>
<g>
<path d="M 0 0 L -2 0" transform="translate(76.376471 503.532468)" style="stroke: #000000; stroke-width: 0.6; stroke: #000000; stroke-width: 0.6"/>
</g>
</g>
</g>
<g>
<g>
<g>
<path d="M 0 0 L -2 0" transform="translate(76.376471 483.559607)" style="stroke: #000000; stroke-width: 0.6; stroke: #000000; stroke-width: 0.6"/>
</g>
</g>
</g>
<g>
<g>
<g>
<path d="M 0 0 L -2 0" transform="translate(76.376471 473.417816)" style="stroke: #000000; stroke-width: 0.6; stroke: #000000; stroke-width: 0.6"/>
</g>
</g>
</g>
<g>
<g>
<g>
<path d="M 0 0 L -2 0" transform="translate(76.376471 466.222101)" style="stroke: #000000; stroke-width: 0.6; stroke: #000000; stroke-width: 0.6"/>
</g>
</g>
</g>
<g>
<g>
<g>
<path d="M 0 0 L -2 0" transform="translate(76.376471 460.64067)" style="stroke: #000000; stroke-width: 0.6; stroke: #000000; stroke-width: 0.6"/>
</g>
</g>
</g>
<g>
<g>
<g>
<path d="M 0 0 L -2 0" transform="translate(76.376471 456.08031)" style="stroke: #000000; stroke-width: 0.6; stroke: #000000; stroke-width: 0.6"/>
</g>
</g>
</g>
<g>
<g>
<g>
<path d="M 0 0 L -2 0" transform="translate(76.376471 452.22458)" style="stroke: #000000; stroke-width: 0.6; stroke: #000000; stroke-width: 0.6"/>
</g>
</g>
</g>
<g>
<g>
<g>
<path d="M 0 0 L -2 0" transform="translate(76.376471 448.884594)" style="stroke: #000000; stroke-width: 0.6; stroke: #000000; stroke-width: 0.6"/>
</g>
</g>
</g>
<g>
<g>
<g>
<path d="M 0 0 L -2 0" transform="translate(76.376471 445.938519)" style="stroke: #000000; stroke-width: 0.6; stroke: #000000; stroke-width: 0.6"/>
</g>
</g>
</g>
<g>
<g>
<g>
<path d="M 0 0 L -2 0" transform="translate(76.376471 425.965658)" style="stroke: #000000; stroke-width: 0.6; stroke: #000000; stroke-width: 0.6"/>
</g>
</g>
</g>
<g>
<g>
<g>
<path d="M 0 0 L -2 0" transform="translate(76.376471 415.823867)" style="stroke: #000000; stroke-width: 0.6; stroke: #000000; stroke-width: 0.6"/>
</g>
</g>
</g>
<g>
<g>
<g>
<path d="M 0 0 L -2 0" transform="translate(76.376471 408.628152)" style="stroke: #000000; stroke-width: 0.6; stroke: #000000; stroke-width: 0.6"/>
</g>
</g>
</g>
<g>
<g>
<g>
<path d="M 0 0 L -2 0" transform="translate(76.376471 403.046721)" style="stroke: #000000; stroke-width: 0.6; stroke: #000000; stroke-width: 0.6"/>
</g>
</g>
</g>
<g>
<g>
<g>
<path d="M 0 0 L -2 0" transform="translate(76.376471 398.486361)" style="stroke: #000000; stroke-width: 0.6; stroke: #000000; stroke-width: 0.6"/>
</g>
</g>
</g>
<g>
<g>
<g>
<path d="M 0 0 L -2 0" transform="translate(76.376471 394.630631)" style="stroke: #000000; stroke-width: 0.6; stroke: #000000; stroke-width: 0.6"/>
</g>
</g>
</g>
<g>
<g>
<g>
<path d="M 0 0 L -2 0" transform="translate(76.376471 391.290645)" style="stroke: #000000; stroke-width: 0.6; stroke: #000000; stroke-width: 0.6"/>
</g>
</g>
</g>
<g>
<g>
<g>
<path d="M 0 0 L -2 0" transform="translate(76.376471 388.34457)" style="stroke: #000000; stroke-width: 0.6; stroke: #000000; stroke-width: 0.6"/>
</g>
</g>
</g>
<g>
<g>
<g>
<path d="M 0 0 L -2 0" transform="translate(76.376471 368.371709)" style="stroke: #000000; stroke-width: 0.6; stroke: #000000; stroke-width: 0.6"/>
</g>
</g>
</g>
<g>
<g>
<g>
<path d="M 0 0 L -2 0" transform="translate(76.376471 358.229918)" style="stroke: #000000; stroke-width: 0.6; stroke: #000000; stroke-width: 0.6"/>
</g>
</g>
</g>
<g>
<g>
<g>
<path d="M 0 0 L -2 0" transform="translate(76.376471 351.034203)" style="stroke: #000000; stroke-width: 0.6; stroke: #000000; stroke-width: 0.6"/>
</g>
</g>
</g>
<g>
<g>
<g>
<path d="M 0 0 L -2 0" transform="translate(76.376471 345.452772)" style="stroke: #000000; stroke-width: 0.6; stroke: #000000; stroke-width: 0.6"/>
</g>
</g>
</g>
<g>
<g>
<g>
<path d="M 0 0 L -2 0" transform="translate(76.376471 340.892412)" style="stroke: #000000; stroke-width: 0.6; stroke: #000000; stroke-width: 0.6"/>
</g>
</g>
</g>
<g>
<g>
<g>
<path d="M 0 0 L -2 0" transform="translate(76.376471 337.036682)" style="stroke: #000000; stroke-width: 0.6; stroke: #000000; stroke-width: 0.6"/>
</g>
</g>
</g>
<g>
<g>
<g>
<path d="M 0 0 L -2 0" transform="translate(76.376471 333.696697)" style="stroke: #000000; stroke-width: 0.6; stroke: #000000; stroke-width: 0.6"/>
</g>
</g>
</g>
<g>
<g>
<g>
<path d="M 0 0 L -2 0" transform="translate(76.376471 330.750621)" style="stroke: #000000; stroke-width: 0.6; stroke: #000000; stroke-width: 0.6"/>
</g>
</g>
</g>
<g>
<g>
<g>
<path d="M 0 0 L -2 0" transform="translate(76.376471 310.77776)" style="stroke: #000000; stroke-width: 0.6; stroke: #000000; stroke-width: 0.6"/>
</g>
</g>
</g>
<g>
<g>
<g>
<path d="M 0 0 L -2 0" transform="translate(76.376471 300.635969)" style="stroke: #000000; stroke-width: 0.6; stroke: #000000; stroke-width: 0.6"/>
</g>
</g>
</g>
<g>
<g>
<g>
<path d="M 0 0 L -2 0" transform="translate(76.376471 293.440254)" style="stroke: #000000; stroke-width: 0.6; stroke: #000000; stroke-width: 0.6"/>
</g>
</g>
</g>
<g>
<g>
<g>
<path d="M 0 0 L -2 0" transform="translate(76.376471 287.858824)" style="stroke: #000000; stroke-width: 0.6; stroke: #000000; stroke-width: 0.6"/>
</g>
</g>
</g>
<g>
<!-- $\overline{\dot{M}}\ [\dot{M}_B]$ -->
<g transform="translate(28.273033 439.962) rotate(-90)">
<text>
<tspan x="14.210693" y="-6.203125" style="font-size: 18px; font-family: 'DejaVu Sans'">̇</tspan>
<tspan x="21.374942" y="-0.57625" style="font-size: 18px; font-family: 'DejaVu Sans'">[</tspan>
<tspan x="42.608096" y="-5.873125" style="font-size: 18px; font-family: 'DejaVu Sans'">̇</tspan>
<tspan x="53.236172" y="-0.57625" style="font-size: 18px; font-family: 'DejaVu Sans'">]</tspan>
<tspan x="0" y="-0.90625" style="font-style: oblique; font-size: 18px; font-family: 'DejaVu Sans'">M</tspan>
<tspan x="28.397402" y="-0.57625" style="font-style: oblique; font-size: 18px; font-family: 'DejaVu Sans'">M</tspan>
<tspan x="44.099942" y="2.376875" style="font-style: oblique; font-size: 12.6px; font-family: 'DejaVu Sans'">B</tspan>
</text>
<rect x="0" y="-22.75" width="15.530273" height="1.125"/>
</g>
</g>
</g>
<g>
<path d="M 65.88 328.12 L 487.06 328.12" clip-path="url(#p3754bf3650)" style="fill: none; stroke: #708090; stroke-opacity: 0.5; stroke-width: 10"/>
</g>
<g>
<path d="M 65.88 327.76 L 66.59 327.76 L 67.3 327.76 L 68.01 327.76 L 68.71 327.76 L 69.42 327.76 L 70.13 327.76 L 70.84 327.76 L 71.54 327.76 L 72.25 327.76 L 72.96 327.76 L 73.67 327.76 L 74.37 327.76 L 75.08 327.76 L 75.79 327.76 L 76.5 327.76 L 77.21 327.76 L 77.91 327.76 L 78.62 327.76 L 79.33 327.76 L 80.04 327.76 L 80.74 327.76 L 81.45 327.76 L 82.16 327.76 L 82.87 327.76 L 83.57 327.76 L 84.28 327.76 L 84.99 327.76 L 85.7 327.76 L 86.41 327.76 L 87.11 327.76 L 87.82 327.76 L 88.53 327.76 L 89.24 327.76 L 89.94 327.76 L 90.65 327.76 L 91.36 327.76 L 92.07 327.76 L 92.77 327.76 L 93.48 327.76 L 94.19 327.76 L 94.9 327.76 L 95.61 327.76 L 96.31 327.76 L 97.02 327.76 L 97.73 327.76 L 98.44 327.76 L 99.14 327.76 L 99.85 327.76 L 100.56 327.76 L 101.27 327.76 L 101.97 327.76 L 102.68 327.76 L 103.39 327.76 L 104.1 327.76 L 104.81 327.76 L 105.51 327.76 L 106.22 327.76 L 106.93 327.76 L 107.64 327.76 L 108.34 327.76 L 109.05 327.76 L 109.76 327.76 L 110.47 327.76 L 111.17 327.76 L 111.88 327.76 L 112.59 327.76 L 113.3 327.76 L 114.01 327.76 L 114.71 327.76 L 115.42 327.76 L 116.13 327.76 L 116.84 327.76 L 117.54 327.76 L 118.25 327.76 L 118.96 327.76 L 119.67 327.76 L 120.37 327.76 L 121.08 327.76 L 121.79 327.76 L 122.5 327.76 L 123.21 327.76 L 123.91 327.76 L 124.62 327.76 L 125.33 327.76 L 126.04 327.76 L 126.74 327.76 L 127.45 327.76 L 128.16 327.76 L 128.87 327.76 L 129.57 327.76 L 130.28 327.76 L 130.99 327.76 L 131.7 327.76 L 132.41 327.76 L 133.11 327.76 L 133.82 327.76 L 134.53 327.76 L 135.24 327.76 L 135.94 327.76 L 136.65 327.76 L 137.36 327.76 L 138.07 327.76 L 138.77 327.76 L 139.48 327.76 L 140.19 327.76 L 140.9 327.76 L 141.61 327.76 L 142.31 327.76 L 143.02 327.76 L 143.73 327.76 L 144.44 327.76 L 145.14 327.76 L 145.85 327.76 L 146.56 327.76 L 147.27 327.76 L 147.97 327.76 L 148.68 327.76 L 149.39 327.76 L 150.1 327.76 L 150.81 327.76 L 151.51 327.76 L 152.22 327.76 L 152.93 327.76 L 153.64 327.76 L 154.34 327.76 L 155.05 327.76 L 155.76 327.76 L 156.47 327.76 L 157.17 327.76 L 157.88 327.76 L 158.59 327.76 L 159.3 327.76 L 160.01 327.76 L 160.71 327.76 L 161.42 327.76 L 162.13 327.76 L 162.84 327.76 L 163.54 327.76 L 164.25 327.76 L 164.96 327.76 L 165.67 327.76 L 166.37 327.76 L 167.08 327.76 L 167.79 327.76 L 168.5 327.76 L 169.21 327.76 L 169.91 327.76 L 170.62 327.76 L 171.33 327.76 L 172.04 327.76 L 172.74 327.76 L 173.45 327.76 L 174.16 327.76 L 174.87 327.76 L 175.57 327.76 L 176.28 327.76 L 176.99 327.76 L 177.7 327.76 L 178.41 327.76 L 179.11 327.76 L 179.82 327.76 L 180.53 327.76 L 181.24 327.76 L 181.94 327.76 L 182.65 327.76 L 183.36 327.76 L 184.07 327.76 L 184.77 327.76 L 185.48 327.76 L 186.19 327.76 L 186.9 327.76 L 187.61 327.76 L 188.31 327.76 L 189.02 327.76 L 189.73 327.76 L 190.44 327.76 L 191.14 327.76 L 191.85 327.76 L 192.56 327.76 L 193.27 327.76 L 193.97 327.76 L 194.68 327.76 L 195.39 327.76 L 196.1 327.76 L 196.81 327.76 L 197.51 327.76 L 198.22 327.76 L 198.93 327.76 L 199.64 327.76 L 200.34 327.76 L 201.05 327.77 L 201.76 327.77 L 202.47 327.77 L 203.17 327.77 L 203.88 327.77 L 204.59 327.77 L 205.3 327.77 L 206.01 327.77 L 206.71 327.77 L 207.42 327.77 L 208.13 327.77 L 208.84 327.77 L 209.54 327.77 L 210.25 327.77 L 210.96 327.77 L 211.67 327.77 L 212.37 327.77 L 213.08 327.77 L 213.79 327.77 L 214.5 327.77 L 215.21 327.77 L 215.91 327.77 L 216.62 327.77 L 217.33 327.77 L 218.04 327.77 L 218.74 327.77 L 219.45 327.77 L 220.16 327.77 L 220.87 327.77 L 221.57 327.77 L 222.28 327.77 L 222.99 327.77 L 223.7 327.77 L 224.41 327.77 L 225.11 327.77 L 225.82 327.77 L 226.53 327.77 L 227.24 327.77 L 227.94 327.77 L 228.65 327.77 L 229.36 327.77 L 230.07 327.77 L 230.78 327.77 L 231.48 327.77 L 232.19 327.77 L 232.9 327.77 L 233.61 327.77 L 234.31 327.77 L 235.02 327.77 L 235.73 327.77 L 236.44 327.77 L 237.14 327.77 L 237.85 327.77 L 238.56 327.77 L 239.27 327.77 L 239.98 327.77 L 240.68 327.77 L 241.39 327.77 L 242.1 327.77 L 242.81 327.77 L 243.51 327.77 L 244.22 327.77 L 244.93 327.77 L 245.64 327.77 L 246.34 327.77 L 247.05 327.77 L 247.76 327.77 L 248.47 327.77 L 249.18 327.77 L 249.88 327.77 L 250.59 327.77 L 251.3 327.77 L 252.01 327.77 L 252.71 327.77 L 253.42 327.77 L 254.13 327.77 L 254.84 327.77 L 255.54 327.77 L 256.25 327.77 L 256.96 327.77 L 257.67 327.77 L 258.38 327.78 L 259.08 327.78 L 259.79 327.78 L 260.5 327.78 L 261.21 327.78 L 261.91 327.78 L 262.62 327.78 L 263.33 327.78 L 264.04 327.78 L 264.74 327.78 L 265.45 327.78 L 266.16 327.78 L 266.87 327.78 L 267.58 327.78 L 268.28 327.78 L 268.99 327.78 L 269.7 327.78 L 270.41 327.78 L 271.11 327.78 L 271.82 327.78 L 272.53 327.78 L 273.24 327.78 L 273.94 327.78 L 274.65 327.78 L 275.36 327.78 L 276.07 327.78 L 276.78 327.78 L 277.48 327.78 L 278.19 327.78 L 278.9 327.78 L 279.61 327.78 L 280.31 327.78 L 281.02 327.78 L 281.73 327.78 L 282.44 327.78 L 283.14 327.78 L 283.85 327.78 L 284.56 327.79 L 285.27 327.79 L 285.98 327.79 L 286.68 327.79 L 287.39 327.79 L 288.1 327.79 L 288.81 327.79 L 289.51 327.79 L 290.22 327.79 L 290.93 327.79 L 291.64 327.79 L 292.34 327.79 L 293.05 327.79 L 293.76 327.79 L 294.47 327.79 L 295.18 327.79 L 295.88 327.79 L 296.59 327.79 L 297.3 327.79 L 298.01 327.79 L 298.71 327.79 L 299.42 327.79 L 300.13 327.79 L 300.84 327.79 L 301.54 327.79 L 302.25 327.79 L 302.96 327.79 L 303.67 327.8 L 304.38 327.8 L 305.08 327.8 L 305.79 327.8 L 306.5 327.8 L 307.21 327.8 L 307.91 327.8 L 308.62 327.8 L 309.33 327.8 L 310.04 327.8 L 310.74 327.8 L 311.45 327.8 L 312.16 327.8 L 312.87 327.8 L 313.58 327.8 L 314.28 327.8 L 314.99 327.8 L 315.7 327.8 L 316.41 327.8 L 317.11 327.8 L 317.82 327.8 L 318.53 327.8 L 319.24 327.8 L 319.94 327.81 L 320.65 327.81 L 321.36 327.81 L 322.07 327.81 L 322.78 327.81 L 323.48 327.81 L 324.19 327.81 L 324.9 327.81 L 325.61 327.81 L 326.31 327.81 L 327.02 327.81 L 327.73 327.81 L 328.44 327.81 L 329.14 327.81 L 329.85 327.81 L 330.56 327.81 L 331.27 327.81 L 331.98 327.82 L 332.69 327.82 L 333.4 327.82 L 334.11 327.82 L 334.82 327.82 L 335.54 327.83 L 336.25 327.83 L 336.96 327.83 L 337.67 327.83 L 338.38 327.84 L 339.09 327.84 L 339.8 327.84 L 340.51 327.84 L 341.22 327.85 L 341.93 327.85 L 342.64 327.85 L 343.34 327.85 L 344.05 327.85 L 344.75 327.85 L 345.46 327.86 L 346.16 327.86 L 346.86 327.86 L 347.56 327.86 L 348.25 327.86 L 348.95 327.83 L 349.64 327.75 L 350.33 327.63 L 351.02 327.48 L 351.7 327.29 L 352.39 327.09 L 353.07 326.87 L 353.76 326.65 L 354.44 326.42 L 355.12 326.2 L 355.81 326 L 356.5 325.82 L 357.18 325.64 L 357.87 325.45 L 358.55 325.26 L 359.23 325.06 L 359.92 324.87 L 360.6 324.67 L 361.28 324.49 L 361.97 324.31 L 362.66 324.14 L 363.34 323.99 L 364.04 323.86 L 364.73 323.75 L 365.43 323.64 L 366.14 323.53 L 366.85 323.44 L 367.55 323.37 L 368.25 323.34 L 368.95 323.39 L 369.66 323.56 L 370.35 323.81 L 371 324.09 L 371.57 324.41 L 372.11 324.87 L 372.62 325.42 L 373.07 325.99 L 373.46 326.56 L 373.81 327.17 L 374.14 327.8 L 374.44 328.46 L 374.72 329.12 L 374.97 329.77 L 375.2 330.44 L 375.42 331.11 L 375.62 331.79 L 375.81 332.48 L 375.99 333.17 L 376.16 333.85 L 376.32 334.54 L 376.47 335.23 L 376.62 335.92 L 376.76 336.62 L 376.9 337.31 L 377.03 338.01 L 377.16 338.7 L 377.28 339.4 L 377.4 340.1 L 377.51 340.8 L 377.62 341.5 L 377.73 342.2 L 377.84 342.9 L 377.94 343.6 L 378.04 344.3 L 378.14 345 L 378.24 345.7 L 378.33 346.4 L 378.43 347.1 L 378.52 347.8 L 378.61 348.51 L 378.69 349.21 L 378.78 349.91 L 378.87 350.61 L 378.95 351.32 L 379.03 352.02 L 379.11 352.72 L 379.17 353.43 L 379.22 354.13 L 379.26 354.84 L 379.3 355.54 L 379.34 356.25 L 379.38 356.96 L 379.41 357.66 L 379.44 358.37 L 379.47 359.08 L 379.5 359.79 L 379.53 360.49 L 379.56 361.2 L 379.58 361.91 L 379.61 362.62 L 379.63 363.32 L 379.65 364.03 L 379.68 364.74 L 379.7 365.45 L 379.72 366.15 L 379.75 366.86 L 379.77 367.57 L 379.79 368.28 L 379.82 368.98 L 379.84 369.69 L 379.87 370.4 L 379.89 371.11 L 379.91 371.81 L 379.94 372.52 L 379.96 373.23 L 379.98 373.93 L 380 374.64 L 380.03 375.35 L 380.05 376.06 L 380.07 376.76 L 380.08 377.47 L 380.1 378.18 L 380.12 378.89 L 380.14 379.59 L 380.15 380.3 L 380.16 381.01 L 380.18 381.72 L 380.19 382.42 L 380.2 383.13 L 380.21 383.84 L 380.22 384.55 L 380.23 385.25 L 380.24 385.96 L 380.25 386.67 L 380.26 387.38 L 380.27 388.09 L 380.28 388.79 L 380.29 389.5 L 380.3 390.21 L 380.31 390.92 L 380.31 391.62 L 380.32 392.33 L 380.33 393.04 L 380.34 393.75 L 380.35 394.45 L 380.35 395.16 L 380.36 395.87 L 380.37 396.58 L 380.38 397.28 L 380.38 397.99 L 380.39 398.7 L 380.4 399.41 L 380.4 400.12 L 380.41 400.82 L 380.42 401.53 L 380.42 402.24 L 380.43 402.95 L 380.43 403.65 L 380.44 404.36 L 380.44 405.07 L 380.44 405.78 L 380.45 406.48 L 380.45 407.19 L 380.46 407.9 L 380.46 408.61 L 380.46 409.32 L 380.46 410.02 L 380.47 410.73 L 380.47 411.44 L 380.47 412.15 L 380.47 412.85 L 380.47 413.56 L 380.47 414.27 L 380.48 414.98 L 380.48 415.68 L 380.48 416.39 L 380.48 417.1 L 380.48 417.81 L 380.48 418.52 L 380.48 419.22 L 380.48 419.93 L 380.48 420.64 L 380.49 421.35 L 380.49 422.05 L 380.49 422.76 L 380.49 423.47 L 380.49 424.18 L 380.49 424.88 L 380.49 425.59 L 380.49 426.3 L 380.49 427.01 L 380.49 427.72 L 380.49 428.42 L 380.5 429.13 L 380.5 429.84 L 380.5 430.55 L 380.5 431.25 L 380.5 431.96 L 380.5 432.67 L 380.5 433.38 L 380.5 434.08 L 380.5 434.79 L 380.5 435.5 L 380.5 436.21 L 380.5 436.92 L 380.5 437.62 L 380.5 438.33 L 380.5 439.04 L 380.51 439.75 L 380.51 440.45 L 380.51 441.16 L 380.51 441.87 L 380.51 442.58 L 380.51 443.28 L 380.51 443.99 L 380.51 444.7 L 380.51 445.41 L 380.51 446.12 L 380.51 446.82 L 380.51 447.53 L 380.51 448.24 L 380.51 448.95 L 380.51 449.65 L 380.51 450.36 L 380.51 451.07 L 380.51 451.78 L 380.51 452.48 L 380.51 453.19 L 380.52 453.9 L 380.52 454.61 L 380.52 455.32 L 380.52 456.02 L 380.52 456.73 L 380.52 457.44 L 380.52 458.15 L 380.52 458.85 L 380.52 459.56 L 380.52 460.27 L 380.52 460.98 L 380.52 461.68 L 380.52 462.39 L 380.52 463.1 L 380.52 463.81 L 380.52 464.52 L 380.52 465.22 L 380.52 465.93 L 380.53 466.64 L 380.53 467.35 L 380.53 468.05 L 380.53 468.76 L 380.53 469.47 L 380.53 470.18 L 380.53 470.88 L 380.53 471.59 L 380.53 472.3 L 380.53 473.01 L 380.53 473.72 L 380.53 474.42 L 380.53 475.13 L 380.53 475.84 L 380.53 476.55 L 380.53 477.25 L 380.53 477.96 L 380.53 478.67 L 380.53 479.38 L 380.53 480.08 L 380.54 480.79 L 380.54 481.5 L 380.54 482.21 L 380.54 482.92 L 380.54 483.62 L 380.54 484.33 L 380.54 485.04 L 380.54 485.75 L 380.54 486.45 L 380.54 487.16 L 380.54 487.87 L 380.54 488.58 L 380.54 489.28 L 380.54 489.99 L 380.54 490.7 L 380.54 491.41 L 380.54 492.12 L 380.54 492.82 L 380.54 493.53 L 380.54 494.24 L 380.54 494.95 L 380.55 495.65 L 380.55 496.36 L 380.55 497.07 L 380.55 497.78 L 380.55 498.48 L 380.55 499.19 L 380.55 499.9 L 380.55 500.61 L 380.55 501.32 L 380.55 502.02 L 380.55 502.73 L 380.55 503.44 L 380.55 504.15 L 380.55 504.85 L 380.55 505.56 L 380.55 506.27 L 380.55 506.98 L 380.55 507.69 L 380.55 508.39 L 380.55 509.1 L 380.55 509.81 L 380.55 510.52 L 380.55 511.22 L 380.55 511.93 L 380.55 512.64 L 380.55 513.35 L 380.56 514.05 L 380.56 514.76 L 380.56 515.47 L 380.56 516.18 L 380.56 516.89 L 380.56 517.59 L 380.56 518.3 L 380.56 519.01 L 380.56 519.72 L 380.56 520.42 L 380.56 521.13 L 380.56 521.84 L 380.56 522.55 L 380.56 523.25 L 380.56 523.96 L 380.56 524.67 L 380.56 525.38 L 380.56 526.09 L 380.56 526.79 L 380.56 527.5 L 380.56 528.21 L 380.56 528.92 L 380.56 529.62 L 380.56 530.33 L 380.56 531.04 L 380.56 531.75 L 380.56 532.45 L 380.56 533.16 L 380.56 533.87 L 380.56 534.58 L 380.56 535.29 L 380.56 535.99 L 380.56 536.7 L 380.56 537.41 L 380.56 538.12 L 380.56 538.82" clip-path="url(#p3754bf3650)" style="fill: none; stroke: #d62728; stroke-width: 3; stroke-linecap: square"/>
</g>
<g>
<path d="M 409.79 538.82 L 409.79 538.12 L 409.79 537.41 L 409.79 536.7 L 409.79 535.99 L 409.79 535.28 L 409.79 534.58 L 409.79 533.87 L 409.79 533.16 L 409.79 532.45 L 409.79 531.74 L 409.79 531.04 L 409.79 530.33 L 409.79 529.62 L 409.79 528.91 L 409.79 528.2 L 409.79 527.49 L 409.8 526.79 L 409.8 526.08 L 409.8 525.37 L 409.8 524.66 L 409.8 523.95 L 409.8 523.25 L 409.8 522.54 L 409.8 521.83 L 409.8 521.12 L 409.8 520.41 L 409.8 519.71 L 409.8 519 L 409.8 518.29 L 409.8 517.58 L 409.8 516.87 L 409.8 516.17 L 409.8 515.46 L 409.81 514.75 L 409.81 514.04 L 409.81 513.33 L 409.81 512.63 L 409.81 511.92 L 409.81 511.21 L 409.81 510.5 L 409.81 509.79 L 409.81 509.09 L 409.81 508.38 L 409.81 507.67 L 409.81 506.96 L 409.81 506.25 L 409.81 505.55 L 409.82 504.84 L 409.82 504.13 L 409.82 503.42 L 409.82 502.71 L 409.82 502.01 L 409.82 501.3 L 409.82 500.59 L 409.82 499.88 L 409.82 499.17 L 409.82 498.47 L 409.82 497.76 L 409.82 497.05 L 409.83 496.34 L 409.83 495.63 L 409.83 494.93 L 409.83 494.22 L 409.83 493.51 L 409.83 492.8 L 409.83 492.09 L 409.83 491.38 L 409.83 490.68 L 409.83 489.97 L 409.83 489.26 L 409.84 488.55 L 409.84 487.84 L 409.84 487.14 L 409.84 486.43 L 409.84 485.72 L 409.84 485.01 L 409.84 484.3 L 409.84 483.6 L 409.84 482.89 L 409.84 482.18 L 409.85 481.47 L 409.85 480.76 L 409.85 480.06 L 409.85 479.35 L 409.85 478.64 L 409.85 477.93 L 409.85 477.22 L 409.85 476.52 L 409.85 475.81 L 409.85 475.1 L 409.86 474.39 L 409.86 473.68 L 409.86 472.98 L 409.86 472.27 L 409.86 471.56 L 409.86 470.85 L 409.86 470.14 L 409.86 469.44 L 409.86 468.73 L 409.86 468.02 L 409.87 467.31 L 409.87 466.6 L 409.87 465.9 L 409.87 465.19 L 409.87 464.48 L 409.87 463.77 L 409.87 463.06 L 409.87 462.36 L 409.87 461.65 L 409.88 460.94 L 409.88 460.23 L 409.88 459.52 L 409.88 458.82 L 409.88 458.11 L 409.88 457.4 L 409.88 456.69 L 409.88 455.98 L 409.88 455.27 L 409.89 454.57 L 409.89 453.86 L 409.89 453.15 L 409.89 452.44 L 409.89 451.73 L 409.89 451.03 L 409.89 450.32 L 409.89 449.61 L 409.9 448.9 L 409.9 448.19 L 409.9 447.49 L 409.9 446.78 L 409.9 446.07 L 409.9 445.36 L 409.9 444.65 L 409.9 443.95 L 409.91 443.24 L 409.91 442.53 L 409.91 441.82 L 409.91 441.11 L 409.91 440.41 L 409.91 439.7 L 409.91 438.99 L 409.92 438.28 L 409.92 437.57 L 409.92 436.87 L 409.92 436.16 L 409.92 435.45 L 409.92 434.74 L 409.92 434.03 L 409.93 433.33 L 409.93 432.62 L 409.93 431.91 L 409.93 431.2 L 409.93 430.49 L 409.93 429.79 L 409.93 429.08 L 409.94 428.37 L 409.94 427.66 L 409.94 426.95 L 409.94 426.25 L 409.94 425.54 L 409.94 424.83 L 409.95 424.12 L 409.95 423.41 L 409.95 422.71 L 409.95 422 L 409.95 421.29 L 409.95 420.58 L 409.96 419.87 L 409.96 419.16 L 409.96 418.46 L 409.96 417.75 L 409.96 417.04 L 409.97 416.33 L 409.97 415.62 L 409.97 414.92 L 409.97 414.21 L 409.97 413.5 L 409.97 412.79 L 409.98 412.08 L 409.98 411.38 L 409.98 410.67 L 409.98 409.96 L 409.98 409.25 L 409.99 408.54 L 409.99 407.84 L 409.99 407.13 L 409.99 406.42 L 409.99 405.71 L 410 405 L 410 404.3 L 410 403.59 L 410 402.88 L 410 402.17 L 410.01 401.46 L 410.01 400.76 L 410.01 400.05 L 410.01 399.34 L 410.02 398.63 L 410.02 397.92 L 410.02 397.22 L 410.02 396.51 L 410.02 395.8 L 410.03 395.09 L 410.03 394.38 L 410.03 393.68 L 410.03 392.97 L 410.04 392.26 L 410.04 391.55 L 410.04 390.84 L 410.04 390.14 L 410.05 389.43 L 410.05 388.72 L 410.05 388.01 L 410.05 387.3 L 410.06 386.6 L 410.06 385.89 L 410.06 385.18 L 410.06 384.47 L 410.07 383.76 L 410.07 383.05 L 410.07 382.35 L 410.07 381.64 L 410.08 380.93 L 410.08 380.22 L 410.08 379.51 L 410.08 378.81 L 410.09 378.1 L 410.09 377.39 L 410.09 376.68 L 410.1 375.97 L 410.1 375.27 L 410.1 374.56 L 410.11 373.85 L 410.11 373.14 L 410.11 372.43 L 410.12 371.73 L 410.12 371.02 L 410.12 370.31 L 410.13 369.6 L 410.13 368.89 L 410.13 368.19 L 410.14 367.48 L 410.14 366.77 L 410.14 366.06 L 410.15 365.35 L 410.15 364.65 L 410.16 363.94 L 410.16 363.23 L 410.16 362.52 L 410.17 361.81 L 410.17 361.11 L 410.18 360.4 L 410.18 359.69 L 410.19 358.98 L 410.19 358.27 L 410.19 357.57 L 410.2 356.86 L 410.2 356.15 L 410.21 355.44 L 410.21 354.73 L 410.22 354.03 L 410.22 353.32 L 410.23 352.61 L 410.23 351.9 L 410.24 351.19 L 410.24 350.49 L 410.25 349.78 L 410.25 349.07 L 410.26 348.36 L 410.26 347.65 L 410.27 346.95 L 410.27 346.24 L 410.28 345.53 L 410.29 344.82 L 410.29 344.11 L 410.3 343.41 L 410.3 342.7 L 410.31 341.99 L 410.31 341.28 L 410.32 340.57 L 410.33 339.87 L 410.33 339.16 L 410.34 338.45 L 410.35 337.74 L 410.35 337.03 L 410.36 336.33 L 410.37 335.62 L 410.38 334.91 L 410.38 334.2 L 410.39 333.49 L 410.4 332.78 L 410.41 332.08 L 410.42 331.37 L 410.43 330.66 L 410.44 329.95 L 410.44 329.24 L 410.45 328.54 L 410.47 327.83 L 410.48 327.12 L 410.49 326.41 L 410.5 325.71 L 410.51 325 L 410.52 324.29 L 410.54 323.58 L 410.55 322.87 L 410.57 322.17 L 410.58 321.46 L 410.6 320.75 L 410.62 320.04 L 410.64 319.33 L 410.67 318.63 L 410.69 317.92 L 410.71 317.21 L 410.74 316.5 L 410.77 315.8 L 410.79 315.09 L 410.82 314.38 L 410.85 313.67 L 410.88 312.97 L 410.91 312.26 L 410.94 311.55 L 410.97 310.84 L 411.01 310.14 L 411.04 309.43 L 411.07 308.72 L 411.11 308.01 L 411.15 307.31 L 411.18 306.6 L 411.22 305.89 L 411.27 305.19 L 411.31 304.48 L 411.36 303.77 L 411.41 303.07 L 411.46 302.36 L 411.51 301.65 L 411.56 300.95 L 411.62 300.24 L 411.68 299.53 L 411.75 298.82 L 411.82 298.12 L 411.9 297.41 L 411.99 296.71 L 412.1 296.01 L 412.22 295.32 L 412.39 294.62 L 412.62 293.92 L 412.9 293.28 L 413.29 292.75 L 413.87 292.31 L 414.37 291.81 L 414.77 291.21 L 415.05 290.56 L 415.22 289.89 L 415.34 289.18 L 415.44 288.47 L 415.52 287.77 L 415.59 287.06 L 415.65 286.36 L 415.71 285.65 L 415.74 284.95 L 415.76 284.24" clip-path="url(#p3754bf3650)" style="fill: none; stroke: #d62728; stroke-width: 3; stroke-linecap: square"/>
</g>
<g>
<path d="M 381.79 538.82 L 381.79 538.12 L 381.79 537.41 L 381.79 536.7 L 381.79 535.99 L 381.79 535.28 L 381.79 534.58 L 381.79 533.87 L 381.79 533.16 L 381.79 532.45 L 381.79 531.74 L 381.79 531.04 L 381.79 530.33 L 381.79 529.62 L 381.79 528.91 L 381.79 528.2 L 381.79 527.5 L 381.79 526.79 L 381.79 526.08 L 381.79 525.37 L 381.79 524.66 L 381.79 523.96 L 381.79 523.25 L 381.79 522.54 L 381.79 521.83 L 381.79 521.12 L 381.79 520.42 L 381.79 519.71 L 381.79 519 L 381.79 518.29 L 381.79 517.58 L 381.79 516.88 L 381.79 516.17 L 381.79 515.46 L 381.79 514.75 L 381.79 514.05 L 381.79 513.34 L 381.79 512.63 L 381.79 511.92 L 381.79 511.21 L 381.79 510.51 L 381.79 509.8 L 381.79 509.09 L 381.79 508.38 L 381.79 507.67 L 381.79 506.97 L 381.79 506.26 L 381.79 505.55 L 381.79 504.84 L 381.79 504.13 L 381.79 503.43 L 381.79 502.72 L 381.79 502.01 L 381.79 501.3 L 381.79 500.59 L 381.79 499.89 L 381.79 499.18 L 381.79 498.47 L 381.79 497.76 L 381.79 497.05 L 381.79 496.35 L 381.79 495.64 L 381.79 494.93 L 381.79 494.22 L 381.79 493.51 L 381.79 492.81 L 381.79 492.1 L 381.79 491.39 L 381.79 490.68 L 381.79 489.97 L 381.79 489.27 L 381.79 488.56 L 381.79 487.85 L 381.79 487.14 L 381.79 486.44 L 381.79 485.73 L 381.79 485.02 L 381.79 484.31 L 381.79 483.6 L 381.79 482.9 L 381.79 482.19 L 381.79 481.48 L 381.79 480.77 L 381.79 480.06 L 381.79 479.36 L 381.79 478.65 L 381.79 477.94 L 381.79 477.23 L 381.79 476.52 L 381.79 475.82 L 381.79 475.11 L 381.79 474.4 L 381.79 473.69 L 381.79 472.98 L 381.79 472.28 L 381.79 471.57 L 381.79 470.86 L 381.79 470.15 L 381.79 469.44 L 381.79 468.74 L 381.79 468.03 L 381.79 467.32 L 381.79 466.61 L 381.79 465.9 L 381.79 465.2 L 381.79 464.49 L 381.79 463.78 L 381.79 463.07 L 381.79 462.36 L 381.79 461.66 L 381.79 460.95 L 381.79 460.24 L 381.79 459.53 L 381.79 458.83 L 381.79 458.12 L 381.79 457.41 L 381.79 456.7 L 381.79 455.99 L 381.79 455.29 L 381.79 454.58 L 381.79 453.87 L 381.79 453.16 L 381.79 452.45 L 381.79 451.75 L 381.79 451.04 L 381.79 450.33 L 381.79 449.62 L 381.79 448.91 L 381.79 448.21 L 381.79 447.5 L 381.79 446.79 L 381.79 446.08 L 381.79 445.37 L 381.79 444.67 L 381.79 443.96 L 381.79 443.25 L 381.79 442.54 L 381.79 441.83 L 381.79 441.13 L 381.79 440.42 L 381.79 439.71 L 381.79 439 L 381.79 438.29 L 381.79 437.59 L 381.79 436.88 L 381.79 436.17 L 381.8 435.46 L 381.8 434.75 L 381.8 434.05 L 381.8 433.34 L 381.8 432.63 L 381.8 431.92 L 381.8 431.21 L 381.8 430.51 L 381.8 429.8 L 381.8 429.09 L 381.8 428.38 L 381.8 427.68 L 381.8 426.97 L 381.8 426.26 L 381.8 425.55 L 381.8 424.84 L 381.8 424.14 L 381.81 423.43 L 381.81 422.72 L 381.81 422.01 L 381.81 421.3 L 381.81 420.6 L 381.81 419.89 L 381.81 419.18 L 381.81 418.47 L 381.81 417.76 L 381.81 417.06 L 381.81 416.35 L 381.81 415.64 L 381.81 414.93 L 381.82 414.22 L 381.82 413.52 L 381.82 412.81 L 381.82 412.1 L 381.82 411.39 L 381.82 410.68 L 381.82 409.98 L 381.82 409.27 L 381.82 408.56 L 381.82 407.85 L 381.82 407.14 L 381.83 406.44 L 381.83 405.73 L 381.83 405.02 L 381.83 404.31 L 381.83 403.6 L 381.83 402.9 L 381.83 402.19 L 381.83 401.48 L 381.83 400.77 L 381.84 400.07 L 381.84 399.36 L 381.84 398.65 L 381.84 397.94 L 381.84 397.23 L 381.84 396.53 L 381.84 395.82 L 381.85 395.11 L 381.85 394.4 L 381.85 393.69 L 381.85 392.99 L 381.86 392.28 L 381.86 391.57 L 381.86 390.86 L 381.87 390.15 L 381.87 389.45 L 381.87 388.74 L 381.88 388.03 L 381.88 387.32 L 381.88 386.61 L 381.89 385.91 L 381.89 385.2 L 381.9 384.49 L 381.9 383.78 L 381.9 383.07 L 381.91 382.37 L 381.91 381.66 L 381.92 380.95 L 381.92 380.24 L 381.93 379.53 L 381.93 378.83 L 381.94 378.12 L 381.94 377.41 L 381.95 376.7 L 381.95 375.99 L 381.96 375.29 L 381.96 374.58 L 381.97 373.87 L 381.97 373.16 L 381.98 372.46 L 381.98 371.75 L 381.99 371.04 L 382 370.33 L 382 369.62 L 382.01 368.92 L 382.01 368.21 L 382.02 367.5 L 382.03 366.79 L 382.03 366.08 L 382.04 365.38 L 382.04 364.67 L 382.05 363.96 L 382.06 363.25 L 382.06 362.54 L 382.07 361.83 L 382.08 361.13 L 382.08 360.42 L 382.09 359.71 L 382.1 359 L 382.11 358.29 L 382.12 357.59 L 382.13 356.88 L 382.14 356.17 L 382.15 355.46 L 382.16 354.75 L 382.17 354.05 L 382.19 353.34 L 382.2 352.63 L 382.21 351.92 L 382.23 351.22 L 382.25 350.51 L 382.26 349.8 L 382.29 349.1 L 382.32 348.39 L 382.36 347.68 L 382.41 346.98 L 382.46 346.27 L 382.52 345.57 L 382.58 344.86 L 382.65 344.15 L 382.72 343.45 L 382.79 342.74 L 382.86 342.04 L 382.93 341.33 L 383 340.63 L 383.07 339.92 L 383.14 339.22 L 383.21 338.51 L 383.28 337.81 L 383.35 337.11 L 383.43 336.4 L 383.51 335.7 L 383.59 335 L 383.67 334.29 L 383.76 333.59 L 383.85 332.89 L 383.93 332.18 L 384.02 331.48 L 384.11 330.78 L 384.2 330.08 L 384.29 329.38 L 384.38 328.67 L 384.47 327.97 L 384.57 327.27 L 384.66 326.57 L 384.76 325.87 L 384.85 325.16 L 384.95 324.46 L 385.05 323.76 L 385.15 323.06 L 385.26 322.36 L 385.36 321.66 L 385.47 320.96 L 385.58 320.26 L 385.7 319.56 L 385.81 318.86 L 385.93 318.17 L 386.05 317.47 L 386.18 316.77 L 386.31 316.08 L 386.44 315.38 L 386.57 314.69 L 386.71 313.99 L 386.85 313.3 L 387 312.6 L 387.15 311.91 L 387.29 311.22 L 387.45 310.53 L 387.6 309.84 L 387.76 309.15 L 387.92 308.46 L 388.08 307.77 L 388.24 307.08 L 388.41 306.39 L 388.58 305.7 L 388.75 305.02 L 388.93 304.33 L 389.11 303.64 L 389.29 302.96 L 389.48 302.28 L 389.67 301.59 L 389.86 300.91 L 390.05 300.23 L 390.25 299.55 L 390.46 298.87 L 390.66 298.2 L 390.87 297.52 L 391.09 296.85 L 391.32 296.18 L 391.55 295.51 L 391.79 294.85 L 392.03 294.18 L 392.28 293.52 L 392.53 292.85 L 392.78 292.19 L 393.03 291.53 L 393.28 290.87 L 393.53 290.2 L 393.78 289.54 L 394.02 288.87 L 394.27 288.21 L 394.52 287.55 L 394.76 286.88 L 395.01 286.22 L 395.26 285.56 L 395.51 284.9 L 395.76 284.24" clip-path="url(#p3754bf3650)" style="fill: none; stroke-dasharray: 4,6.6; stroke-dashoffset: 3.77708; stroke: #d62728; stroke-width: 4"/>
</g>
<g>
<path d="M 403.06 284.24 L 403.26 284.91 L 403.46 285.6 L 403.66 286.28 L 403.86 286.96 L 404.06 287.64 L 404.25 288.32 L 404.44 289 L 404.63 289.69 L 404.82 290.37 L 405 291.05 L 405.18 291.74 L 405.36 292.43 L 405.54 293.11 L 405.73 293.8 L 405.92 294.48 L 406.12 295.17 L 406.32 295.85 L 406.52 296.54 L 406.71 297.23 L 406.9 297.92 L 407.08 298.61 L 407.25 299.3 L 407.41 299.99 L 407.55 300.68 L 407.68 301.37 L 407.79 302.07 L 407.88 302.76 L 407.94 303.46 L 408 304.16 L 408.06 304.87 L 408.11 305.57 L 408.16 306.28 L 408.2 306.99 L 408.24 307.7 L 408.28 308.4 L 408.32 309.12 L 408.35 309.83 L 408.39 310.54 L 408.42 311.25 L 408.45 311.96 L 408.48 312.67 L 408.5 313.38 L 408.53 314.09 L 408.56 314.79 L 408.59 315.5 L 408.61 316.21 L 408.64 316.92 L 408.66 317.63 L 408.68 318.34 L 408.71 319.05 L 408.73 319.75 L 408.75 320.46 L 408.77 321.17 L 408.79 321.88 L 408.8 322.59 L 408.82 323.3 L 408.84 324.01 L 408.85 324.72 L 408.87 325.42 L 408.88 326.13 L 408.9 326.84 L 408.91 327.55 L 408.92 328.26 L 408.94 328.97 L 408.95 329.68 L 408.96 330.39 L 408.97 331.1 L 408.98 331.8 L 409 332.51 L 409.01 333.22 L 409.02 333.93 L 409.03 334.64 L 409.04 335.35 L 409.06 336.06 L 409.07 336.77 L 409.09 337.48 L 409.1 338.18 L 409.12 338.89 L 409.13 339.6 L 409.15 340.31 L 409.16 341.02 L 409.17 341.73 L 409.18 342.44 L 409.2 343.15 L 409.21 343.85 L 409.21 344.56 L 409.22 345.27 L 409.23 345.98 L 409.23 346.69 L 409.24 347.4 L 409.24 348.11 L 409.25 348.82 L 409.25 349.53 L 409.26 350.24 L 409.26 350.94 L 409.27 351.65 L 409.27 352.36 L 409.28 353.07 L 409.28 353.78 L 409.28 354.49 L 409.29 355.2 L 409.29 355.91 L 409.3 356.62 L 409.3 357.32 L 409.3 358.03 L 409.31 358.74 L 409.31 359.45 L 409.31 360.16 L 409.32 360.87 L 409.32 361.58 L 409.32 362.29 L 409.33 363 L 409.33 363.71 L 409.33 364.41 L 409.33 365.12 L 409.34 365.83 L 409.34 366.54 L 409.34 367.25 L 409.34 367.96 L 409.35 368.67 L 409.35 369.38 L 409.35 370.09 L 409.35 370.8 L 409.35 371.5 L 409.36 372.21 L 409.36 372.92 L 409.36 373.63 L 409.36 374.34 L 409.36 375.05 L 409.36 375.76 L 409.36 376.47 L 409.37 377.18 L 409.37 377.89 L 409.37 378.59 L 409.37 379.3 L 409.37 380.01 L 409.37 380.72 L 409.37 381.43 L 409.38 382.14 L 409.38 382.85 L 409.38 383.56 L 409.38 384.27 L 409.38 384.98 L 409.38 385.68 L 409.38 386.39 L 409.38 387.1 L 409.39 387.81 L 409.39 388.52 L 409.39 389.23 L 409.39 389.94 L 409.39 390.65 L 409.39 391.36 L 409.39 392.06 L 409.39 392.77 L 409.39 393.48 L 409.4 394.19 L 409.4 394.9 L 409.4 395.61 L 409.4 396.32 L 409.4 397.03 L 409.4 397.74 L 409.4 398.45 L 409.4 399.15 L 409.4 399.86 L 409.41 400.57 L 409.41 401.28 L 409.41 401.99 L 409.41 402.7 L 409.41 403.41 L 409.41 404.12 L 409.41 404.83 L 409.41 405.54 L 409.41 406.24 L 409.41 406.95 L 409.41 407.66 L 409.42 408.37 L 409.42 409.08 L 409.42 409.79 L 409.42 410.5 L 409.42 411.21 L 409.42 411.92 L 409.42 412.63 L 409.42 413.33 L 409.42 414.04 L 409.42 414.75 L 409.42 415.46 L 409.42 416.17 L 409.42 416.88 L 409.43 417.59 L 409.43 418.3 L 409.43 419.01 L 409.43 419.72 L 409.43 420.42 L 409.43 421.13 L 409.43 421.84 L 409.43 422.55 L 409.43 423.26 L 409.43 423.97 L 409.43 424.68 L 409.43 425.39 L 409.43 426.1 L 409.43 426.8 L 409.44 427.51 L 409.44 428.22 L 409.44 428.93 L 409.44 429.64 L 409.44 430.35 L 409.44 431.06 L 409.44 431.77 L 409.44 432.48 L 409.44 433.19 L 409.44 433.89 L 409.44 434.6 L 409.44 435.31 L 409.44 436.02 L 409.44 436.73 L 409.44 437.44 L 409.44 438.15 L 409.44 438.86 L 409.45 439.57 L 409.45 440.28 L 409.45 440.98 L 409.45 441.69 L 409.45 442.4 L 409.45 443.11 L 409.45 443.82 L 409.45 444.53 L 409.45 445.24 L 409.45 445.95 L 409.45 446.66 L 409.45 447.37 L 409.45 448.07 L 409.45 448.78 L 409.45 449.49 L 409.45 450.2 L 409.45 450.91 L 409.45 451.62 L 409.46 452.33 L 409.46 453.04 L 409.46 453.75 L 409.46 454.46 L 409.46 455.16 L 409.46 455.87 L 409.46 456.58 L 409.46 457.29 L 409.46 458 L 409.46 458.71 L 409.46 459.42 L 409.46 460.13 L 409.46 460.84 L 409.46 461.54 L 409.46 462.25 L 409.46 462.96 L 409.46 463.67 L 409.46 464.38 L 409.47 465.09 L 409.47 465.8 L 409.47 466.51 L 409.47 467.22 L 409.47 467.93 L 409.47 468.63 L 409.47 469.34 L 409.47 470.05 L 409.47 470.76 L 409.47 471.47 L 409.47 472.18 L 409.47 472.89 L 409.47 473.6 L 409.47 474.31 L 409.47 475.02 L 409.47 475.72 L 409.47 476.43 L 409.47 477.14 L 409.47 477.85 L 409.47 478.56 L 409.48 479.27 L 409.48 479.98 L 409.48 480.69 L 409.48 481.4 L 409.48 482.11 L 409.48 482.81 L 409.48 483.52 L 409.48 484.23 L 409.48 484.94 L 409.48 485.65 L 409.48 486.36 L 409.48 487.07 L 409.48 487.78 L 409.48 488.49 L 409.48 489.2 L 409.48 489.9 L 409.48 490.61 L 409.48 491.32 L 409.48 492.03 L 409.48 492.74 L 409.48 493.45 L 409.49 494.16 L 409.49 494.87 L 409.49 495.58 L 409.49 496.28 L 409.49 496.99 L 409.49 497.7 L 409.49 498.41 L 409.49 499.12 L 409.49 499.83 L 409.49 500.54 L 409.49 501.25 L 409.49 501.96 L 409.49 502.67 L 409.49 503.37 L 409.49 504.08 L 409.49 504.79 L 409.49 505.5 L 409.49 506.21 L 409.49 506.92 L 409.49 507.63 L 409.49 508.34 L 409.49 509.05 L 409.49 509.76 L 409.49 510.46 L 409.49 511.17 L 409.5 511.88 L 409.5 512.59 L 409.5 513.3 L 409.5 514.01 L 409.5 514.72 L 409.5 515.43 L 409.5 516.14 L 409.5 516.85 L 409.5 517.55 L 409.5 518.26 L 409.5 518.97 L 409.5 519.68 L 409.5 520.39 L 409.5 521.1 L 409.5 521.81 L 409.5 522.52 L 409.5 523.23 L 409.5 523.93 L 409.5 524.64 L 409.5 525.35 L 409.5 526.06 L 409.5 526.77 L 409.5 527.48 L 409.5 528.19 L 409.5 528.9 L 409.5 529.61 L 409.5 530.32 L 409.5 531.02 L 409.5 531.73 L 409.5 532.44 L 409.5 533.15 L 409.5 533.86 L 409.5 534.57 L 409.5 535.28 L 409.51 535.99 L 409.51 536.7 L 409.51 537.41 L 409.51 538.11 L 409.51 538.82" clip-path="url(#p3754bf3650)" style="fill: none; stroke-dasharray: 4,6.6; stroke-dashoffset: 3.901692; stroke: #d62728; stroke-width: 4"/>
</g>
<g>
<path d="M 65.88 458.26 L 66.59 458.26 L 67.3 458.26 L 68.01 458.26 L 68.72 458.26 L 69.43 458.27 L 70.14 458.27 L 70.84 458.27 L 71.55 458.28 L 72.26 458.28 L 72.97 458.28 L 73.68 458.29 L 74.39 458.29 L 75.1 458.3 L 75.81 458.3 L 76.52 458.31 L 77.22 458.31 L 77.93 458.32 L 78.64 458.32 L 79.35 458.33 L 80.06 458.33 L 80.77 458.34 L 81.48 458.35 L 82.19 458.36 L 82.9 458.37 L 83.61 458.37 L 84.31 458.38 L 85.02 458.39 L 85.73 458.41 L 86.44 458.42 L 87.15 458.43 L 87.86 458.44 L 88.57 458.45 L 89.28 458.47 L 89.98 458.48 L 90.69 458.5 L 91.4 458.51 L 92.11 458.53 L 92.82 458.55 L 93.53 458.58 L 94.24 458.6 L 94.95 458.63 L 95.65 458.66 L 96.36 458.69 L 97.07 458.72 L 97.78 458.76 L 98.49 458.8 L 99.19 458.83 L 99.9 458.88 L 100.61 458.92 L 101.32 458.96 L 102.02 459.01 L 102.73 459.07 L 103.44 459.13 L 104.15 459.19 L 104.86 459.26 L 105.57 459.33 L 106.27 459.41 L 106.98 459.49 L 107.68 459.58 L 108.39 459.67 L 109.09 459.77 L 109.78 459.87 L 110.48 459.98 L 111.17 460.1 L 111.86 460.24 L 112.55 460.41 L 113.24 460.58 L 113.93 460.78 L 114.61 460.98 L 115.29 461.2 L 115.97 461.42 L 116.64 461.65 L 117.31 461.88 L 117.97 462.11 L 118.63 462.36 L 119.28 462.64 L 119.93 462.92 L 120.58 463.22 L 121.22 463.53 L 121.86 463.84 L 122.5 464.15 L 123.14 464.46 L 123.79 464.76 L 124.44 465.04 L 125.09 465.31 L 125.75 465.56 L 126.42 465.81 L 127.08 466.07 L 127.75 466.32 L 128.42 466.57 L 129.1 466.81 L 129.78 467.03 L 130.46 467.24 L 131.14 467.42 L 131.83 467.58 L 132.51 467.7 L 133.21 467.8 L 133.91 467.9 L 134.61 467.99 L 135.32 468.08 L 136.03 468.15 L 136.75 468.21 L 137.45 468.25 L 138.16 468.28 L 138.86 468.28 L 139.56 468.21 L 140.25 468.09 L 140.95 467.93 L 141.64 467.75 L 142.34 467.57 L 143.03 467.4 L 143.73 467.28 L 144.43 467.16 L 145.14 467.04 L 145.85 466.93 L 146.56 466.84 L 147.25 466.78 L 147.94 466.79 L 148.63 466.91 L 149.32 467.13 L 150 467.42 L 150.66 467.75 L 151.29 468.09 L 151.87 468.43 L 152.44 468.82 L 152.97 469.27 L 153.49 469.76 L 154 470.28 L 154.5 470.81 L 155 471.34 L 155.49 471.86 L 155.99 472.37 L 156.49 472.87 L 156.98 473.38 L 157.48 473.89 L 157.97 474.41 L 158.45 474.93 L 158.93 475.46 L 159.4 476 L 159.85 476.54 L 160.29 477.09 L 160.72 477.65 L 161.13 478.21 L 161.54 478.79 L 161.94 479.37 L 162.33 479.96 L 162.71 480.56 L 163.09 481.17 L 163.46 481.78 L 163.82 482.39 L 164.18 483 L 164.54 483.62 L 164.89 484.24 L 165.24 484.86 L 165.58 485.48 L 165.92 486.1 L 166.25 486.72 L 166.57 487.36 L 166.88 487.99 L 167.19 488.63 L 167.5 489.27 L 167.82 489.91 L 168.13 490.54 L 168.45 491.18 L 168.78 491.81 L 169.09 492.45 L 169.4 493.11 L 169.71 493.77 L 170.03 494.43 L 170.36 495.07 L 170.7 495.69 L 171.08 496.27 L 171.48 496.81 L 171.92 497.34 L 172.43 497.91 L 172.99 498.47 L 173.59 498.93 L 174.2 499.23 L 174.83 499.29 L 175.5 499.25 L 176.22 499.16 L 176.95 499.05 L 177.68 498.9 L 178.37 498.75 L 179.02 498.57 L 179.66 498.31 L 180.28 497.99 L 180.89 497.61 L 181.49 497.18 L 182.07 496.74 L 182.64 496.28 L 183.21 495.82 L 183.75 495.38 L 184.28 494.92 L 184.79 494.43 L 185.29 493.92 L 185.77 493.4 L 186.25 492.87 L 186.73 492.33 L 187.22 491.81 L 187.72 491.3 L 188.23 490.82 L 188.77 490.36 L 189.33 489.85 L 189.91 489.3 L 190.5 488.79 L 191.09 488.36 L 191.68 488.08 L 192.25 488.01 L 192.86 488.23 L 193.48 488.68 L 194.06 489.25 L 194.52 489.84 L 194.84 490.38 L 195.11 490.98 L 195.36 491.61 L 195.58 492.29 L 195.78 492.99 L 195.96 493.71 L 196.13 494.44 L 196.3 495.16 L 196.46 495.88 L 196.63 496.58 L 196.8 497.26 L 196.96 497.95 L 197.13 498.64 L 197.29 499.33 L 197.45 500.03 L 197.6 500.72 L 197.75 501.42 L 197.89 502.11 L 198.03 502.81 L 198.16 503.51 L 198.28 504.2 L 198.4 504.9 L 198.51 505.6 L 198.61 506.3 L 198.7 507 L 198.79 507.71 L 198.87 508.41 L 198.95 509.11 L 199.02 509.82 L 199.09 510.52 L 199.15 511.23 L 199.22 511.94 L 199.28 512.64 L 199.34 513.35 L 199.4 514.06 L 199.47 514.77 L 199.53 515.47 L 199.59 516.18 L 199.66 516.88 L 199.73 517.59 L 199.79 518.3 L 199.86 519 L 199.93 519.71 L 200 520.41 L 200.06 521.12 L 200.13 521.83 L 200.19 522.53 L 200.24 523.24 L 200.29 523.95 L 200.34 524.65 L 200.38 525.36 L 200.42 526.07 L 200.46 526.78 L 200.5 527.48 L 200.53 528.19 L 200.56 528.9 L 200.59 529.61 L 200.61 530.32 L 200.63 531.03 L 200.64 531.73 L 200.66 532.44 L 200.68 533.15 L 200.69 533.86 L 200.71 534.57 L 200.72 535.28 L 200.73 535.99 L 200.74 536.7 L 200.75 537.41 L 200.75 538.11 L 200.75 538.82" clip-path="url(#p3754bf3650)" style="fill: none; stroke: #000000; stroke-width: 3; stroke-linecap: square"/>
</g>
<g>
<path d="M 411.06 284.24 L 410.78 284.89 L 410.5 285.54 L 410.22 286.19 L 409.94 286.84 L 409.67 287.5 L 409.41 288.15 L 409.14 288.81 L 408.88 289.47 L 408.63 290.13 L 408.37 290.79 L 408.12 291.45 L 407.86 292.12 L 407.61 292.78 L 407.35 293.44 L 407.1 294.1 L 406.84 294.76 L 406.59 295.42 L 406.34 296.09 L 406.09 296.75 L 405.84 297.41 L 405.59 298.08 L 405.34 298.74 L 405.09 299.41 L 404.85 300.07 L 404.6 300.74 L 404.36 301.4 L 404.12 302.07 L 403.88 302.74 L 403.66 303.41 L 403.45 304.08 L 403.23 304.76 L 403.03 305.44 L 402.82 306.12 L 402.62 306.8 L 402.43 307.48 L 402.25 308.17 L 402.07 308.85 L 401.9 309.54 L 401.73 310.23 L 401.58 310.92 L 401.43 311.61 L 401.28 312.3 L 401.13 313 L 400.99 313.69 L 400.86 314.39 L 400.72 315.09 L 400.58 315.78 L 400.45 316.48 L 400.32 317.17 L 400.19 317.87 L 400.06 318.57 L 399.94 319.27 L 399.82 319.97 L 399.71 320.67 L 399.6 321.37 L 399.49 322.07 L 399.39 322.77 L 399.29 323.47 L 399.19 324.17 L 399.09 324.87 L 399 325.58 L 398.91 326.28 L 398.83 326.98 L 398.75 327.69 L 398.67 328.39 L 398.59 329.1 L 398.51 329.8 L 398.44 330.51 L 398.37 331.21 L 398.3 331.92 L 398.24 332.62 L 398.17 333.33 L 398.11 334.03 L 398.05 334.74 L 397.99 335.45 L 397.93 336.15 L 397.87 336.86 L 397.82 337.57 L 397.76 338.27 L 397.71 338.98 L 397.65 339.69 L 397.6 340.39 L 397.55 341.1 L 397.5 341.81 L 397.45 342.51 L 397.4 343.22 L 397.35 343.93 L 397.3 344.64 L 397.26 345.34 L 397.21 346.05 L 397.17 346.76 L 397.13 347.47 L 397.08 348.17 L 397.04 348.88 L 397 349.59 L 396.96 350.3 L 396.92 351 L 396.88 351.71 L 396.85 352.42 L 396.82 353.13 L 396.8 353.84 L 396.78 354.54 L 396.76 355.25 L 396.74 355.96 L 396.73 356.67 L 396.71 357.38 L 396.7 358.09 L 396.68 358.79 L 396.67 359.5 L 396.65 360.21 L 396.64 360.92 L 396.63 361.63 L 396.61 362.34 L 396.6 363.05 L 396.59 363.76 L 396.58 364.46 L 396.57 365.17 L 396.56 365.88 L 396.55 366.59 L 396.54 367.3 L 396.53 368.01 L 396.52 368.72 L 396.51 369.43 L 396.5 370.14 L 396.49 370.84 L 396.48 371.55 L 396.47 372.26 L 396.46 372.97 L 396.45 373.68 L 396.44 374.39 L 396.43 375.1 L 396.42 375.81 L 396.41 376.51 L 396.4 377.22 L 396.4 377.93 L 396.39 378.64 L 396.38 379.35 L 396.37 380.06 L 396.36 380.77 L 396.35 381.47 L 396.34 382.18 L 396.33 382.89 L 396.32 383.6 L 396.31 384.31 L 396.31 385.02 L 396.3 385.73 L 396.29 386.44 L 396.28 387.14 L 396.27 387.85 L 396.27 388.56 L 396.26 389.27 L 396.25 389.98 L 396.24 390.69 L 396.23 391.4 L 396.23 392.11 L 396.22 392.81 L 396.21 393.52 L 396.21 394.23 L 396.2 394.94 L 396.19 395.65 L 396.19 396.36 L 396.18 397.07 L 396.18 397.78 L 396.17 398.48 L 396.16 399.19 L 396.16 399.9 L 396.15 400.61 L 396.15 401.32 L 396.14 402.03 L 396.14 402.74 L 396.13 403.45 L 396.13 404.15 L 396.13 404.86 L 396.12 405.57 L 396.12 406.28 L 396.11 406.99 L 396.11 407.7 L 396.1 408.41 L 396.1 409.12 L 396.09 409.83 L 396.09 410.53 L 396.09 411.24 L 396.08 411.95 L 396.08 412.66 L 396.07 413.37 L 396.07 414.08 L 396.06 414.79 L 396.06 415.5 L 396.06 416.2 L 396.05 416.91 L 396.05 417.62 L 396.04 418.33 L 396.04 419.04 L 396.04 419.75 L 396.03 420.46 L 396.03 421.17 L 396.03 421.87 L 396.02 422.58 L 396.02 423.29 L 396.01 424 L 396.01 424.71 L 396.01 425.42 L 396 426.13 L 396 426.84 L 396 427.54 L 395.99 428.25 L 395.99 428.96 L 395.99 429.67 L 395.98 430.38 L 395.98 431.09 L 395.98 431.8 L 395.97 432.51 L 395.97 433.21 L 395.97 433.92 L 395.97 434.63 L 395.96 435.34 L 395.96 436.05 L 395.96 436.76 L 395.95 437.47 L 395.95 438.18 L 395.95 438.88 L 395.95 439.59 L 395.94 440.3 L 395.94 441.01 L 395.94 441.72 L 395.94 442.43 L 395.93 443.14 L 395.93 443.85 L 395.93 444.56 L 395.93 445.26 L 395.93 445.97 L 395.92 446.68 L 395.92 447.39 L 395.92 448.1 L 395.92 448.81 L 395.92 449.52 L 395.92 450.23 L 395.92 450.93 L 395.91 451.64 L 395.91 452.35 L 395.91 453.06 L 395.91 453.77 L 395.91 454.48 L 395.91 455.19 L 395.91 455.9 L 395.91 456.6 L 395.91 457.31 L 395.9 458.02 L 395.9 458.73 L 395.9 459.44 L 395.9 460.15 L 395.9 460.86 L 395.9 461.57 L 395.9 462.27 L 395.9 462.98 L 395.9 463.69 L 395.9 464.4 L 395.9 465.11 L 395.9 465.82 L 395.9 466.53 L 395.9 467.24 L 395.89 467.95 L 395.89 468.65 L 395.89 469.36 L 395.89 470.07 L 395.89 470.78 L 395.89 471.49 L 395.89 472.2 L 395.89 472.91 L 395.89 473.62 L 395.89 474.32 L 395.89 475.03 L 395.89 475.74 L 395.89 476.45 L 395.89 477.16 L 395.89 477.87 L 395.89 478.58 L 395.88 479.29 L 395.88 479.99 L 395.88 480.7 L 395.88 481.41 L 395.88 482.12 L 395.88 482.83 L 395.88 483.54 L 395.88 484.25 L 395.88 484.96 L 395.88 485.66 L 395.88 486.37 L 395.88 487.08 L 395.88 487.79 L 395.88 488.5 L 395.88 489.21 L 395.88 489.92 L 395.88 490.63 L 395.88 491.33 L 395.88 492.04 L 395.87 492.75 L 395.87 493.46 L 395.87 494.17 L 395.87 494.88 L 395.87 495.59 L 395.87 496.3 L 395.87 497.01 L 395.87 497.71 L 395.87 498.42 L 395.87 499.13 L 395.87 499.84 L 395.87 500.55 L 395.87 501.26 L 395.87 501.97 L 395.87 502.68 L 395.87 503.38 L 395.87 504.09 L 395.87 504.8 L 395.87 505.51 L 395.87 506.22 L 395.87 506.93 L 395.87 507.64 L 395.87 508.35 L 395.87 509.05 L 395.87 509.76 L 395.86 510.47 L 395.86 511.18 L 395.86 511.89 L 395.86 512.6 L 395.86 513.31 L 395.86 514.02 L 395.86 514.72 L 395.86 515.43 L 395.86 516.14 L 395.86 516.85 L 395.86 517.56 L 395.86 518.27 L 395.86 518.98 L 395.86 519.69 L 395.86 520.4 L 395.86 521.1 L 395.86 521.81 L 395.86 522.52 L 395.86 523.23 L 395.86 523.94 L 395.86 524.65 L 395.86 525.36 L 395.86 526.07 L 395.86 526.77 L 395.86 527.48 L 395.86 528.19 L 395.86 528.9 L 395.86 529.61 L 395.86 530.32 L 395.86 531.03 L 395.86 531.74 L 395.86 532.44 L 395.86 533.15 L 395.86 533.86 L 395.86 534.57 L 395.86 535.28 L 395.86 535.99 L 395.86 536.7 L 395.86 537.41 L 395.86 538.11 L 395.86 538.82" clip-path="url(#p3754bf3650)" style="fill: none; stroke: #000000; stroke-width: 3; stroke-linecap: square"/>
</g>
<g>
<path d="M 203.11 538.82 L 203.12 538.12 L 203.15 537.41 L 203.17 536.7 L 203.19 535.99 L 203.22 535.28 L 203.25 534.58 L 203.28 533.87 L 203.31 533.16 L 203.34 532.46 L 203.37 531.75 L 203.41 531.04 L 203.44 530.33 L 203.48 529.63 L 203.52 528.92 L 203.57 528.21 L 203.62 527.51 L 203.67 526.8 L 203.72 526.1 L 203.77 525.39 L 203.82 524.68 L 203.88 523.98 L 203.93 523.27 L 203.99 522.57 L 204.04 521.86 L 204.09 521.15 L 204.15 520.45 L 204.2 519.74 L 204.24 519.03 L 204.29 518.33 L 204.34 517.62 L 204.38 516.91 L 204.43 516.21 L 204.48 515.5 L 204.53 514.79 L 204.57 514.09 L 204.62 513.38 L 204.68 512.68 L 204.73 511.97 L 204.79 511.26 L 204.85 510.56 L 204.91 509.85 L 204.97 509.15 L 205.04 508.45 L 205.12 507.74 L 205.2 507.04 L 205.28 506.33 L 205.36 505.63 L 205.45 504.93 L 205.54 504.23 L 205.64 503.52 L 205.73 502.82 L 205.83 502.12 L 205.94 501.42 L 206.04 500.72 L 206.15 500.02 L 206.26 499.32 L 206.37 498.62 L 206.48 497.92 L 206.6 497.23 L 206.73 496.53 L 206.86 495.83 L 206.99 495.14 L 207.12 494.44 L 207.26 493.75 L 207.41 493.05 L 207.55 492.36 L 207.7 491.66 L 207.86 490.97 L 208.01 490.28 L 208.17 489.59 L 208.33 488.9 L 208.5 488.22 L 208.66 487.53 L 208.83 486.84 L 209.01 486.15 L 209.19 485.47 L 209.37 484.78 L 209.56 484.09 L 209.75 483.41 L 209.95 482.72 L 210.15 482.04 L 210.36 481.37 L 210.58 480.69 L 210.8 480.02 L 211.03 479.36 L 211.27 478.7 L 211.51 478.03 L 211.75 477.35 L 212 476.64 L 212.26 475.93 L 212.52 475.21 L 212.79 474.49 L 213.07 473.77 L 213.36 473.07 L 213.66 472.38 L 213.98 471.72 L 214.32 471.09 L 214.67 470.5 L 215.04 469.94 L 215.43 469.44 L 215.84 468.99 L 216.27 468.59 L 216.8 468.2 L 217.4 467.81 L 218.07 467.44 L 218.77 467.11 L 219.49 466.84 L 220.19 466.66 L 220.87 466.59 L 221.51 466.64 L 222.16 466.82 L 222.81 467.09 L 223.46 467.43 L 224.11 467.82 L 224.74 468.23 L 225.36 468.64 L 225.97 469.01 L 226.56 469.39 L 227.13 469.8 L 227.68 470.24 L 228.23 470.7 L 228.77 471.19 L 229.3 471.68 L 229.83 472.17 L 230.36 472.67 L 230.89 473.15 L 231.43 473.62 L 231.97 474.08 L 232.53 474.51 L 233.11 474.9 L 233.7 475.26 L 234.31 475.58 L 234.98 475.92 L 235.67 476.23 L 236.33 476.43 L 236.93 476.45 L 237.51 476.26 L 238.07 475.89 L 238.62 475.38 L 239.15 474.77 L 239.63 474.12 L 240.08 473.45 L 240.48 472.81 L 240.82 472.24 L 241.14 471.65 L 241.43 471.03 L 241.7 470.4 L 241.95 469.75 L 242.19 469.08 L 242.41 468.4 L 242.63 467.71 L 242.84 467.02 L 243.05 466.32 L 243.26 465.62 L 243.48 464.92 L 243.7 464.23 L 243.93 463.55 L 244.18 462.88 L 244.44 462.22 L 244.7 461.56 L 244.96 460.9 L 245.22 460.23 L 245.49 459.57 L 245.75 458.9 L 246.02 458.24 L 246.29 457.58 L 246.57 456.92 L 246.86 456.27 L 247.15 455.62 L 247.45 454.98 L 247.76 454.35 L 248.08 453.73 L 248.42 453.12 L 248.76 452.53 L 249.13 451.93 L 249.5 451.32 L 249.89 450.71 L 250.3 450.1 L 250.72 449.49 L 251.15 448.89 L 251.59 448.31 L 252.05 447.74 L 252.52 447.18 L 253 446.65 L 253.49 446.14 L 253.99 445.66 L 254.5 445.22 L 255.02 444.8 L 255.56 444.42 L 256.12 444.02 L 256.71 443.61 L 257.33 443.21 L 257.97 442.81 L 258.62 442.43 L 259.28 442.06 L 259.96 441.71 L 260.64 441.4 L 261.32 441.12 L 262 440.88 L 262.68 440.7 L 263.35 440.56 L 264 440.48 L 264.65 440.48 L 265.28 440.55 L 265.92 440.71 L 266.54 440.94 L 267.17 441.23 L 267.8 441.56 L 268.42 441.94 L 269.05 442.34 L 269.68 442.76 L 270.31 443.19 L 270.94 443.61 L 271.58 444.01 L 272.22 444.39 L 272.86 444.74 L 273.51 445.03 L 274.17 445.27 L 274.85 445.47 L 275.55 445.64 L 276.27 445.79 L 277 445.93 L 277.74 446.06 L 278.48 446.19 L 279.22 446.31 L 279.95 446.43 L 280.67 446.56 L 281.37 446.7 L 282.04 446.85 L 282.69 447.03 L 283.3 447.22 L 283.86 447.44 L 284.39 447.72 L 284.89 448.08 L 285.36 448.52 L 285.8 449.03 L 286.23 449.59 L 286.64 450.19 L 287.05 450.83 L 287.45 451.49 L 287.84 452.16 L 288.24 452.83 L 288.65 453.49 L 289.07 454.12 L 289.51 454.72 L 289.97 455.27 L 290.46 455.76 L 290.97 456.19 L 291.54 456.58 L 292.14 456.95 L 292.78 457.29 L 293.44 457.61 L 294.11 457.92 L 294.79 458.22 L 295.48 458.53 L 296.15 458.83 L 296.8 459.15 L 297.43 459.49 L 298.02 459.84 L 298.58 460.22 L 299.08 460.63 L 299.53 461.09 L 299.94 461.6 L 300.33 462.15 L 300.7 462.74 L 301.04 463.37 L 301.38 464.01 L 301.7 464.68 L 302.02 465.35 L 302.34 466.02 L 302.66 466.7 L 303 467.35 L 303.35 468 L 303.72 468.61 L 304.12 469.2 L 304.54 469.74 L 305.02 470.27 L 305.59 470.86 L 306.16 471.25 L 306.64 471.25 L 307.11 471 L 307.56 470.56 L 308 469.98 L 308.42 469.3 L 308.82 468.54 L 309.19 467.77 L 309.53 467 L 309.84 466.29 L 310.12 465.65 L 310.37 465.01 L 310.61 464.36 L 310.82 463.69 L 311.03 463.02 L 311.23 462.34 L 311.41 461.65 L 311.59 460.96 L 311.77 460.26 L 311.95 459.56 L 312.12 458.87 L 312.31 458.17 L 312.49 457.48 L 312.69 456.8 L 312.9 456.12 L 313.12 455.45 L 313.35 454.78 L 313.58 454.11 L 313.81 453.44 L 314.05 452.77 L 314.29 452.11 L 314.54 451.44 L 314.78 450.78 L 315.03 450.12 L 315.27 449.45 L 315.52 448.79 L 315.77 448.12 L 316.01 447.46 L 316.26 446.79 L 316.5 446.13 L 316.74 445.46 L 316.98 444.8 L 317.21 444.13 L 317.45 443.46 L 317.68 442.79 L 317.91 442.12 L 318.14 441.45 L 318.37 440.78 L 318.61 440.11 L 318.84 439.44 L 319.08 438.78 L 319.33 438.11 L 319.57 437.45 L 319.83 436.79 L 320.09 436.13 L 320.36 435.48 L 320.64 434.83 L 320.93 434.18 L 321.22 433.54 L 321.52 432.9 L 321.83 432.26 L 322.14 431.62 L 322.45 430.98 L 322.75 430.34 L 323.05 429.7 L 323.35 429.06 L 323.64 428.41 L 323.91 427.76 L 324.19 427.11 L 324.46 426.45 L 324.72 425.8 L 324.99 425.14 L 325.26 424.48 L 325.52 423.82 L 325.78 423.16 L 326.03 422.5 L 326.28 421.84 L 326.53 421.17 L 326.77 420.51 L 327 419.84 L 327.23 419.17 L 327.45 418.5 L 327.67 417.83 L 327.87 417.15 L 328.07 416.47 L 328.27 415.79 L 328.46 415.11 L 328.65 414.43 L 328.83 413.75 L 329.01 413.06 L 329.18 412.37 L 329.35 411.69 L 329.52 411 L 329.69 410.31 L 329.85 409.62 L 330.01 408.92 L 330.16 408.23 L 330.32 407.54 L 330.47 406.85 L 330.62 406.16 L 330.76 405.47 L 330.91 404.77 L 331.04 404.08 L 331.18 403.39 L 331.31 402.69 L 331.44 401.99 L 331.57 401.3 L 331.7 400.6 L 331.83 399.9 L 331.96 399.21 L 332.09 398.51 L 332.21 397.81 L 332.35 397.12 L 332.48 396.42 L 332.61 395.73 L 332.75 395.03 L 332.88 394.34 L 333.02 393.64 L 333.15 392.95 L 333.29 392.25 L 333.42 391.56 L 333.55 390.86 L 333.69 390.17 L 333.82 389.47 L 333.96 388.78 L 334.09 388.08 L 334.23 387.39 L 334.36 386.69 L 334.5 386 L 334.63 385.3 L 334.77 384.61 L 334.9 383.91 L 335.03 383.22 L 335.16 382.52 L 335.3 381.82 L 335.43 381.13 L 335.56 380.43 L 335.7 379.74 L 335.83 379.04 L 335.97 378.35 L 336.11 377.65 L 336.25 376.96 L 336.39 376.27 L 336.53 375.57 L 336.67 374.88 L 336.82 374.19 L 336.96 373.49 L 337.11 372.8 L 337.26 372.11 L 337.41 371.42 L 337.56 370.72 L 337.71 370.03 L 337.86 369.34 L 338.01 368.65 L 338.17 367.96 L 338.33 367.27 L 338.49 366.58 L 338.65 365.89 L 338.82 365.2 L 338.98 364.51 L 339.15 363.83 L 339.33 363.14 L 339.5 362.46 L 339.68 361.77 L 339.86 361.09 L 340.04 360.4 L 340.22 359.72 L 340.41 359.03 L 340.59 358.35 L 340.78 357.67 L 340.96 356.98 L 341.15 356.3 L 341.33 355.62 L 341.52 354.93 L 341.7 354.25 L 341.89 353.57 L 342.08 352.88 L 342.27 352.2 L 342.45 351.52 L 342.64 350.84 L 342.83 350.15 L 343.02 349.47 L 343.22 348.79 L 343.41 348.11 L 343.6 347.43 L 343.8 346.75 L 343.99 346.07 L 344.19 345.39 L 344.39 344.71 L 344.59 344.03 L 344.78 343.35 L 344.98 342.66 L 345.18 341.98 L 345.37 341.3 L 345.57 340.62 L 345.77 339.94 L 345.97 339.26 L 346.18 338.58 L 346.39 337.9 L 346.6 337.23 L 346.82 336.56 L 347.05 335.89 L 347.29 335.22 L 347.53 334.56 L 347.78 333.9 L 348.04 333.25 L 348.3 332.59 L 348.58 331.94 L 348.86 331.29 L 349.15 330.64 L 349.44 329.99 L 349.75 329.35 L 350.05 328.71 L 350.36 328.07 L 350.68 327.43 L 351 326.8 L 351.32 326.17 L 351.65 325.55 L 351.98 324.92 L 352.32 324.31 L 352.68 323.7 L 353.04 323.09 L 353.42 322.49 L 353.8 321.89 L 354.18 321.3 L 354.57 320.7 L 354.95 320.11 L 355.34 319.51 L 355.72 318.91 L 356.1 318.31 L 356.48 317.71 L 356.85 317.11 L 357.2 316.5 L 357.55 315.88 L 357.9 315.26 L 358.24 314.64 L 358.58 314.02 L 358.92 313.4 L 359.25 312.78 L 359.58 312.15 L 359.91 311.52 L 360.24 310.9 L 360.57 310.27 L 360.89 309.64 L 361.22 309.01 L 361.54 308.38 L 361.86 307.75 L 362.18 307.12 L 362.5 306.48 L 362.82 305.85 L 363.13 305.22 L 363.44 304.58 L 363.75 303.94 L 364.06 303.31 L 364.37 302.67 L 364.67 302.03 L 364.98 301.39 L 365.28 300.75 L 365.59 300.11 L 365.89 299.47 L 366.2 298.84 L 366.51 298.2 L 366.82 297.56 L 367.13 296.93 L 367.44 296.29 L 367.76 295.66 L 368.07 295.02 L 368.38 294.39 L 368.7 293.75 L 369.01 293.12 L 369.33 292.48 L 369.64 291.85 L 369.96 291.21 L 370.27 290.58 L 370.59 289.95 L 370.9 289.31 L 371.21 288.68 L 371.53 288.04 L 371.84 287.41 L 372.16 286.77 L 372.47 286.14 L 372.78 285.5 L 373.1 284.87 L 373.41 284.24" clip-path="url(#p3754bf3650)" style="fill: none; stroke-dasharray: 4,6.6; stroke-dashoffset: 9.294507; stroke: #000000; stroke-width: 4"/>
</g>
<g>
<path d="M 384.47 284.24 L 384.72 284.9 L 384.96 285.56 L 385.21 286.23 L 385.45 286.9 L 385.69 287.56 L 385.93 288.23 L 386.17 288.9 L 386.41 289.56 L 386.64 290.23 L 386.88 290.9 L 387.11 291.57 L 387.34 292.24 L 387.57 292.91 L 387.81 293.58 L 388.05 294.25 L 388.29 294.92 L 388.54 295.59 L 388.78 296.26 L 389.02 296.93 L 389.25 297.6 L 389.48 298.27 L 389.71 298.94 L 389.92 299.62 L 390.13 300.3 L 390.32 300.97 L 390.5 301.66 L 390.66 302.34 L 390.81 303.03 L 390.96 303.72 L 391.1 304.41 L 391.23 305.1 L 391.37 305.8 L 391.49 306.5 L 391.62 307.2 L 391.73 307.9 L 391.85 308.6 L 391.95 309.31 L 392.06 310.01 L 392.15 310.71 L 392.25 311.42 L 392.33 312.12 L 392.42 312.82 L 392.49 313.53 L 392.57 314.23 L 392.64 314.93 L 392.7 315.64 L 392.77 316.35 L 392.83 317.05 L 392.89 317.76 L 392.95 318.47 L 393 319.17 L 393.06 319.88 L 393.11 320.59 L 393.16 321.29 L 393.21 322 L 393.26 322.71 L 393.31 323.42 L 393.35 324.12 L 393.4 324.83 L 393.45 325.54 L 393.5 326.24 L 393.54 326.95 L 393.59 327.66 L 393.63 328.37 L 393.67 329.07 L 393.71 329.78 L 393.75 330.49 L 393.79 331.2 L 393.83 331.9 L 393.86 332.61 L 393.89 333.32 L 393.92 334.03 L 393.95 334.74 L 393.98 335.44 L 394 336.15 L 394.03 336.86 L 394.05 337.57 L 394.08 338.28 L 394.1 338.99 L 394.12 339.69 L 394.14 340.4 L 394.16 341.11 L 394.18 341.82 L 394.2 342.53 L 394.22 343.24 L 394.24 343.94 L 394.25 344.65 L 394.27 345.36 L 394.29 346.07 L 394.3 346.78 L 394.32 347.49 L 394.33 348.2 L 394.35 348.9 L 394.36 349.61 L 394.38 350.32 L 394.39 351.03 L 394.41 351.74 L 394.42 352.45 L 394.43 353.16 L 394.45 353.86 L 394.46 354.57 L 394.47 355.28 L 394.48 355.99 L 394.5 356.7 L 394.51 357.41 L 394.52 358.12 L 394.53 358.82 L 394.54 359.53 L 394.55 360.24 L 394.56 360.95 L 394.58 361.66 L 394.59 362.37 L 394.6 363.08 L 394.6 363.78 L 394.61 364.49 L 394.62 365.2 L 394.63 365.91 L 394.64 366.62 L 394.65 367.33 L 394.66 368.04 L 394.67 368.74 L 394.67 369.45 L 394.68 370.16 L 394.69 370.87 L 394.7 371.58 L 394.71 372.29 L 394.71 373 L 394.72 373.7 L 394.73 374.41 L 394.74 375.12 L 394.74 375.83 L 394.75 376.54 L 394.76 377.25 L 394.77 377.96 L 394.77 378.67 L 394.78 379.37 L 394.79 380.08 L 394.79 380.79 L 394.8 381.5 L 394.81 382.21 L 394.81 382.92 L 394.82 383.63 L 394.83 384.33 L 394.83 385.04 L 394.84 385.75 L 394.84 386.46 L 394.85 387.17 L 394.85 387.88 L 394.86 388.59 L 394.86 389.29 L 394.87 390 L 394.87 390.71 L 394.88 391.42 L 394.88 392.13 L 394.89 392.84 L 394.89 393.55 L 394.9 394.26 L 394.9 394.96 L 394.91 395.67 L 394.91 396.38 L 394.91 397.09 L 394.92 397.8 L 394.92 398.51 L 394.92 399.22 L 394.93 399.92 L 394.93 400.63 L 394.93 401.34 L 394.94 402.05 L 394.94 402.76 L 394.94 403.47 L 394.95 404.18 L 394.95 404.89 L 394.95 405.59 L 394.96 406.3 L 394.96 407.01 L 394.96 407.72 L 394.97 408.43 L 394.97 409.14 L 394.97 409.85 L 394.97 410.55 L 394.98 411.26 L 394.98 411.97 L 394.98 412.68 L 394.99 413.39 L 394.99 414.1 L 394.99 414.81 L 394.99 415.52 L 395 416.22 L 395 416.93 L 395 417.64 L 395 418.35 L 395.01 419.06 L 395.01 419.77 L 395.01 420.48 L 395.01 421.18 L 395.02 421.89 L 395.02 422.6 L 395.02 423.31 L 395.02 424.02 L 395.03 424.73 L 395.03 425.44 L 395.03 426.15 L 395.03 426.85 L 395.04 427.56 L 395.04 428.27 L 395.04 428.98 L 395.04 429.69 L 395.04 430.4 L 395.05 431.11 L 395.05 431.81 L 395.05 432.52 L 395.05 433.23 L 395.05 433.94 L 395.06 434.65 L 395.06 435.36 L 395.06 436.07 L 395.06 436.78 L 395.06 437.48 L 395.07 438.19 L 395.07 438.9 L 395.07 439.61 L 395.07 440.32 L 395.07 441.03 L 395.07 441.74 L 395.08 442.44 L 395.08 443.15 L 395.08 443.86 L 395.08 444.57 L 395.08 445.28 L 395.08 445.99 L 395.09 446.7 L 395.09 447.41 L 395.09 448.11 L 395.09 448.82 L 395.09 449.53 L 395.09 450.24 L 395.09 450.95 L 395.1 451.66 L 395.1 452.37 L 395.1 453.07 L 395.1 453.78 L 395.1 454.49 L 395.1 455.2 L 395.1 455.91 L 395.11 456.62 L 395.11 457.33 L 395.11 458.04 L 395.11 458.74 L 395.11 459.45 L 395.11 460.16 L 395.11 460.87 L 395.11 461.58 L 395.12 462.29 L 395.12 463 L 395.12 463.7 L 395.12 464.41 L 395.12 465.12 L 395.12 465.83 L 395.12 466.54 L 395.12 467.25 L 395.12 467.96 L 395.13 468.67 L 395.13 469.37 L 395.13 470.08 L 395.13 470.79 L 395.13 471.5 L 395.13 472.21 L 395.13 472.92 L 395.13 473.63 L 395.14 474.33 L 395.14 475.04 L 395.14 475.75 L 395.14 476.46 L 395.14 477.17 L 395.14 477.88 L 395.14 478.59 L 395.14 479.3 L 395.14 480 L 395.15 480.71 L 395.15 481.42 L 395.15 482.13 L 395.15 482.84 L 395.15 483.55 L 395.15 484.26 L 395.15 484.96 L 395.15 485.67 L 395.15 486.38 L 395.16 487.09 L 395.16 487.8 L 395.16 488.51 L 395.16 489.22 L 395.16 489.93 L 395.16 490.63 L 395.16 491.34 L 395.16 492.05 L 395.16 492.76 L 395.16 493.47 L 395.17 494.18 L 395.17 494.89 L 395.17 495.59 L 395.17 496.3 L 395.17 497.01 L 395.17 497.72 L 395.17 498.43 L 395.17 499.14 L 395.17 499.85 L 395.17 500.56 L 395.17 501.26 L 395.18 501.97 L 395.18 502.68 L 395.18 503.39 L 395.18 504.1 L 395.18 504.81 L 395.18 505.52 L 395.18 506.22 L 395.18 506.93 L 395.18 507.64 L 395.18 508.35 L 395.18 509.06 L 395.18 509.77 L 395.19 510.48 L 395.19 511.19 L 395.19 511.89 L 395.19 512.6 L 395.19 513.31 L 395.19 514.02 L 395.19 514.73 L 395.19 515.44 L 395.19 516.15 L 395.19 516.85 L 395.19 517.56 L 395.19 518.27 L 395.19 518.98 L 395.19 519.69 L 395.19 520.4 L 395.19 521.11 L 395.19 521.82 L 395.19 522.52 L 395.2 523.23 L 395.2 523.94 L 395.2 524.65 L 395.2 525.36 L 395.2 526.07 L 395.2 526.78 L 395.2 527.48 L 395.2 528.19 L 395.2 528.9 L 395.2 529.61 L 395.2 530.32 L 395.2 531.03 L 395.2 531.74 L 395.2 532.45 L 395.2 533.15 L 395.2 533.86 L 395.2 534.57 L 395.2 535.28 L 395.2 535.99 L 395.2 536.7 L 395.2 537.41 L 395.2 538.11 L 395.2 538.82" clip-path="url(#p3754bf3650)" style="fill: none; stroke-dasharray: 4,6.6; stroke-dashoffset: 3.932024; stroke: #000000; stroke-width: 4"/>
</g>
<g>
<path d="M 65.88 458.31 L 66.59 458.31 L 67.3 458.31 L 68.01 458.31 L 68.71 458.31 L 69.42 458.31 L 70.13 458.31 L 70.84 458.31 L 71.55 458.31 L 72.26 458.31 L 72.96 458.31 L 73.67 458.31 L 74.38 458.31 L 75.09 458.31 L 75.8 458.31 L 76.5 458.31 L 77.21 458.31 L 77.92 458.31 L 78.63 458.31 L 79.34 458.31 L 80.04 458.32 L 80.75 458.32 L 81.46 458.32 L 82.17 458.33 L 82.88 458.34 L 83.58 458.34 L 84.29 458.35 L 85 458.36 L 85.71 458.37 L 86.42 458.38 L 87.13 458.39 L 87.83 458.4 L 88.54 458.41 L 89.25 458.42 L 89.96 458.44 L 90.67 458.45 L 91.37 458.46 L 92.08 458.48 L 92.79 458.49 L 93.5 458.51 L 94.21 458.52 L 94.91 458.54 L 95.62 458.56 L 96.33 458.57 L 97.04 458.59 L 97.74 458.61 L 98.45 458.63 L 99.16 458.64 L 99.87 458.66 L 100.57 458.68 L 101.28 458.7 L 101.99 458.73 L 102.7 458.76 L 103.4 458.8 L 104.11 458.84 L 104.82 458.88 L 105.52 458.92 L 106.23 458.97 L 106.94 459.02 L 107.64 459.07 L 108.35 459.12 L 109.06 459.18 L 109.76 459.23 L 110.47 459.29 L 111.17 459.34 L 111.88 459.4 L 112.58 459.47 L 113.29 459.54 L 113.99 459.62 L 114.7 459.7 L 115.4 459.78 L 116.11 459.85 L 116.81 459.93 L 117.51 460.01 L 118.22 460.08 L 118.92 460.15 L 119.63 460.21 L 120.33 460.26 L 121.04 460.31 L 121.75 460.36 L 122.45 460.41 L 123.16 460.46 L 123.87 460.51 L 124.58 460.56 L 125.28 460.6 L 125.99 460.64 L 126.7 460.67 L 127.41 460.69 L 128.11 460.7 L 128.82 460.71 L 129.53 460.69 L 130.24 460.66 L 130.95 460.61 L 131.66 460.54 L 132.37 460.47 L 133.07 460.38 L 133.78 460.28 L 134.47 460.18 L 135.17 460.07 L 135.86 459.96 L 136.54 459.8 L 137.21 459.6 L 137.88 459.37 L 138.55 459.11 L 139.21 458.85 L 139.88 458.58 L 140.54 458.33 L 141.21 458.08 L 141.87 457.81 L 142.52 457.53 L 143.18 457.24 L 143.83 456.96 L 144.49 456.69 L 145.15 456.44 L 145.81 456.21 L 146.49 456.02 L 147.17 455.87 L 147.86 455.73 L 148.56 455.6 L 149.26 455.48 L 149.97 455.38 L 150.67 455.28 L 151.37 455.19 L 152.07 455.11 L 152.77 455.03 L 153.48 454.95 L 154.18 454.88 L 154.89 454.8 L 155.59 454.74 L 156.3 454.67 L 157 454.61 L 157.71 454.55 L 158.42 454.49 L 159.12 454.43 L 159.83 454.37 L 160.53 454.31 L 161.24 454.26 L 161.95 454.21 L 162.66 454.17 L 163.37 454.13 L 164.09 454.09 L 164.8 454.06 L 165.51 454.02 L 166.22 453.98 L 166.93 453.94 L 167.63 453.88 L 168.33 453.83 L 169.02 453.76 L 169.71 453.68 L 170.4 453.56 L 171.08 453.39 L 171.75 453.19 L 172.43 452.95 L 173.09 452.69 L 173.76 452.42 L 174.43 452.14 L 175.09 451.88 L 175.75 451.62 L 176.41 451.37 L 177.08 451.12 L 177.74 450.87 L 178.4 450.61 L 179.07 450.35 L 179.73 450.08 L 180.38 449.8 L 181.03 449.52 L 181.68 449.23 L 182.32 448.93 L 182.95 448.62 L 183.58 448.31 L 184.19 447.97 L 184.79 447.6 L 185.38 447.22 L 185.97 446.81 L 186.55 446.39 L 187.12 445.97 L 187.7 445.55 L 188.28 445.13 L 188.86 444.73 L 189.46 444.34 L 190.06 443.98 L 190.68 443.65 L 191.31 443.34 L 191.95 443.03 L 192.6 442.75 L 193.26 442.47 L 193.92 442.22 L 194.59 441.99 L 195.26 441.78 L 195.94 441.59 L 196.63 441.42 L 197.32 441.25 L 198.01 441.09 L 198.7 440.93 L 199.39 440.77 L 200.08 440.6 L 200.77 440.43 L 201.45 440.25 L 202.14 440.06 L 202.82 439.87 L 203.5 439.68 L 204.18 439.49 L 204.87 439.3 L 205.55 439.11 L 206.23 438.92 L 206.91 438.74 L 207.6 438.56 L 208.29 438.39 L 208.97 438.22 L 209.67 438.07 L 210.37 437.93 L 211.06 437.79 L 211.76 437.66 L 212.46 437.52 L 213.15 437.37 L 213.84 437.21 L 214.51 437.02 L 215.18 436.81 L 215.84 436.57 L 216.49 436.31 L 217.14 436.02 L 217.78 435.71 L 218.42 435.4 L 219.06 435.08 L 219.7 434.76 L 220.33 434.44 L 220.97 434.13 L 221.61 433.82 L 222.24 433.51 L 222.88 433.19 L 223.51 432.88 L 224.14 432.55 L 224.77 432.23 L 225.4 431.9 L 226.03 431.57 L 226.66 431.24 L 227.28 430.9 L 227.9 430.56 L 228.52 430.21 L 229.13 429.86 L 229.75 429.51 L 230.36 429.15 L 230.96 428.79 L 231.56 428.4 L 232.14 428 L 232.72 427.58 L 233.3 427.16 L 233.88 426.74 L 234.46 426.33 L 235.04 425.94 L 235.64 425.56 L 236.24 425.21 L 236.86 424.89 L 237.5 424.59 L 238.14 424.31 L 238.8 424.05 L 239.46 423.8 L 240.13 423.56 L 240.8 423.33 L 241.48 423.1 L 242.15 422.86 L 242.83 422.63 L 243.5 422.39 L 244.16 422.13 L 244.82 421.87 L 245.46 421.59 L 246.1 421.29 L 246.73 420.98 L 247.36 420.65 L 247.98 420.31 L 248.59 419.97 L 249.21 419.61 L 249.82 419.25 L 250.43 418.89 L 251.04 418.52 L 251.65 418.16 L 252.26 417.79 L 252.87 417.43 L 253.49 417.08 L 254.1 416.73 L 254.73 416.39 L 255.36 416.06 L 255.99 415.72 L 256.62 415.39 L 257.25 415.06 L 257.87 414.71 L 258.49 414.37 L 259.1 414.01 L 259.7 413.64 L 260.28 413.25 L 260.85 412.85 L 261.4 412.42 L 261.94 411.98 L 262.48 411.51 L 263 411.03 L 263.52 410.54 L 264.03 410.04 L 264.54 409.54 L 265.05 409.05 L 265.56 408.55 L 266.07 408.06 L 266.57 407.56 L 267.07 407.06 L 267.57 406.55 L 268.06 406.04 L 268.56 405.54 L 269.05 405.03 L 269.55 404.53 L 270.06 404.03 L 270.57 403.54 L 271.09 403.07 L 271.62 402.6 L 272.16 402.14 L 272.71 401.69 L 273.26 401.24 L 273.81 400.79 L 274.36 400.34 L 274.91 399.89 L 275.46 399.44 L 275.99 398.98 L 276.53 398.51 L 277.05 398.04 L 277.55 397.55 L 278.05 397.05 L 278.53 396.54 L 279.01 396.01 L 279.47 395.48 L 279.93 394.94 L 280.39 394.4 L 280.85 393.86 L 281.3 393.31 L 281.76 392.77 L 282.22 392.23 L 282.69 391.69 L 283.16 391.17 L 283.64 390.65 L 284.12 390.13 L 284.61 389.61 L 285.1 389.1 L 285.59 388.59 L 286.08 388.08 L 286.57 387.57 L 287.06 387.06 L 287.55 386.55 L 288.05 386.04 L 288.54 385.53 L 289.03 385.03 L 289.53 384.52 L 290.02 384.01 L 290.51 383.5 L 291 382.98 L 291.48 382.47 L 291.97 381.95 L 292.45 381.43 L 292.93 380.91 L 293.4 380.39 L 293.88 379.86 L 294.35 379.34 L 294.82 378.81 L 295.29 378.28 L 295.76 377.75 L 296.23 377.22 L 296.7 376.69 L 297.17 376.16 L 297.63 375.62 L 298.1 375.09 L 298.56 374.55 L 299.02 374.02 L 299.49 373.48 L 299.95 372.94 L 300.41 372.4 L 300.86 371.86 L 301.32 371.32 L 301.78 370.78 L 302.23 370.24 L 302.69 369.7 L 303.14 369.15 L 303.59 368.61 L 304.04 368.06 L 304.48 367.51 L 304.93 366.95 L 305.37 366.4 L 305.81 365.84 L 306.24 365.29 L 306.68 364.73 L 307.12 364.17 L 307.55 363.61 L 307.99 363.05 L 308.42 362.49 L 308.86 361.93 L 309.3 361.38 L 309.73 360.82 L 310.17 360.26 L 310.62 359.71 L 311.06 359.16 L 311.51 358.61 L 311.96 358.07 L 312.41 357.52 L 312.87 356.98 L 313.33 356.44 L 313.79 355.91 L 314.25 355.37 L 314.72 354.84 L 315.18 354.31 L 315.65 353.78 L 316.12 353.25 L 316.6 352.72 L 317.07 352.2 L 317.55 351.67 L 318.02 351.15 L 318.5 350.62 L 318.98 350.1 L 319.46 349.58 L 319.95 349.06 L 320.43 348.55 L 320.92 348.03 L 321.4 347.52 L 321.89 347 L 322.38 346.49 L 322.87 345.98 L 323.36 345.47 L 323.85 344.96 L 324.35 344.46 L 324.85 343.96 L 325.36 343.46 L 325.87 342.97 L 326.39 342.49 L 326.91 342.01 L 327.43 341.53 L 327.96 341.06 L 328.49 340.59 L 329.02 340.12 L 329.56 339.66 L 330.1 339.2 L 330.64 338.74 L 331.18 338.29 L 331.73 337.84 L 332.27 337.39 L 332.82 336.94 L 333.38 336.5 L 333.93 336.06 L 334.49 335.63 L 335.06 335.21 L 335.63 334.78 L 336.2 334.36 L 336.77 333.95 L 337.34 333.53 L 337.92 333.12 L 338.49 332.7 L 339.07 332.29 L 339.64 331.87 L 340.21 331.45 L 340.78 331.03 L 341.35 330.61 L 341.91 330.18 L 342.47 329.75 L 343.03 329.31 L 343.58 328.87 L 344.13 328.42 L 344.68 327.97 L 345.22 327.51 L 345.76 327.06 L 346.3 326.6 L 346.84 326.14 L 347.39 325.69 L 347.93 325.24 L 348.48 324.79 L 349.03 324.34 L 349.58 323.9 L 350.13 323.45 L 350.68 323.01 L 351.24 322.57 L 351.79 322.13 L 352.34 321.68 L 352.9 321.24 L 353.45 320.8 L 354.01 320.36 L 354.56 319.92 L 355.12 319.48 L 355.67 319.05 L 356.23 318.6 L 356.78 318.16 L 357.34 317.73 L 357.9 317.29 L 358.46 316.86 L 359.02 316.42 L 359.57 315.97 L 360.11 315.52 L 360.63 315.05 L 361.15 314.57 L 361.66 314.08 L 362.16 313.58 L 362.66 313.07 L 363.15 312.56 L 363.64 312.04 L 364.12 311.52 L 364.59 310.99 L 365.05 310.45 L 365.5 309.91 L 365.97 309.37 L 366.45 308.85 L 366.94 308.35 L 367.44 307.83 L 367.96 307.33 L 368.51 306.89 L 369.1 306.54 L 369.74 306.26 L 370.42 306.02 L 371.09 305.76 L 371.72 305.45 L 372.33 305.08 L 372.91 304.67 L 373.47 304.24 L 374.01 303.79 L 374.54 303.32 L 375.05 302.82 L 375.54 302.32 L 376.03 301.8 L 376.51 301.27 L 376.99 300.75 L 377.45 300.22 L 377.91 299.68 L 378.36 299.13 L 378.8 298.57 L 379.24 298.01 L 379.67 297.45 L 380.1 296.89 L 380.52 296.32 L 380.94 295.75 L 381.35 295.18 L 381.76 294.6 L 382.17 294.02 L 382.58 293.44 L 382.99 292.86 L 383.41 292.29 L 383.83 291.72 L 384.26 291.16 L 384.69 290.6 L 385.13 290.04 L 385.56 289.48 L 385.99 288.91 L 386.41 288.35 L 386.82 287.77 L 387.22 287.19 L 387.62 286.61 L 388.02 286.02 L 388.41 285.43 L 388.8 284.83 L 389.18 284.24" clip-path="url(#p3754bf3650)" style="fill: none; stroke: #0000ff; stroke-width: 1.5; stroke-linecap: square"/>
</g>
<g>
<path d="M 116 538.82 L 116.1 538.12 L 116.2 537.42 L 116.31 536.72 L 116.43 536.02 L 116.56 535.32 L 116.69 534.62 L 116.83 533.93 L 116.97 533.24 L 117.12 532.55 L 117.28 531.86 L 117.44 531.17 L 117.6 530.49 L 117.78 529.81 L 117.97 529.13 L 118.17 528.45 L 118.38 527.77 L 118.6 527.1 L 118.83 526.43 L 119.05 525.76 L 119.27 525.08 L 119.49 524.41 L 119.71 523.74 L 119.91 523.06 L 120.11 522.38 L 120.31 521.7 L 120.51 521.02 L 120.71 520.33 L 120.91 519.66 L 121.11 518.98 L 121.32 518.3 L 121.54 517.63 L 121.77 516.96 L 122.01 516.3 L 122.26 515.64 L 122.52 514.99 L 122.8 514.34 L 123.09 513.7 L 123.39 513.06 L 123.69 512.42 L 124.01 511.78 L 124.32 511.14 L 124.64 510.51 L 124.96 509.88 L 125.28 509.25 L 125.6 508.61 L 125.92 507.98 L 126.23 507.35 L 126.56 506.72 L 126.88 506.09 L 127.21 505.46 L 127.54 504.83 L 127.87 504.21 L 128.22 503.59 L 128.56 502.97 L 128.92 502.36 L 129.28 501.76 L 129.65 501.16 L 130.03 500.56 L 130.41 499.97 L 130.81 499.38 L 131.21 498.79 L 131.61 498.21 L 132.02 497.63 L 132.44 497.06 L 132.86 496.49 L 133.29 495.93 L 133.72 495.37 L 134.16 494.82 L 134.6 494.27 L 135.05 493.72 L 135.5 493.17 L 135.96 492.63 L 136.43 492.1 L 136.9 491.56 L 137.37 491.04 L 137.85 490.52 L 138.34 490.01 L 138.83 489.5 L 139.33 489 L 139.84 488.52 L 140.36 488.04 L 140.88 487.57 L 141.42 487.1 L 141.95 486.64 L 142.49 486.17 L 143.02 485.71 L 143.56 485.24 L 144.08 484.77 L 144.6 484.29 L 145.12 483.81 L 145.64 483.32 L 146.16 482.84 L 146.68 482.36 L 147.19 481.87 L 147.71 481.39 L 148.22 480.9 L 148.72 480.4 L 149.23 479.9 L 149.72 479.4 L 150.21 478.89 L 150.69 478.38 L 151.17 477.86 L 151.63 477.32 L 152.09 476.79 L 152.54 476.24 L 152.99 475.69 L 153.44 475.14 L 153.88 474.59 L 154.33 474.04 L 154.78 473.5 L 155.24 472.96 L 155.7 472.43 L 156.17 471.89 L 156.64 471.36 L 157.1 470.83 L 157.57 470.29 L 158.04 469.76 L 158.51 469.24 L 158.99 468.71 L 159.47 468.19 L 159.96 467.68 L 160.45 467.17 L 160.95 466.67 L 161.45 466.18 L 161.96 465.69 L 162.48 465.21 L 163 464.73 L 163.52 464.25 L 164.05 463.78 L 164.59 463.31 L 165.13 462.86 L 165.68 462.41 L 166.23 461.97 L 166.79 461.53 L 167.35 461.11 L 167.91 460.69 L 168.49 460.27 L 169.07 459.86 L 169.65 459.45 L 170.24 459.05 L 170.83 458.66 L 171.43 458.28 L 172.03 457.9 L 172.63 457.54 L 173.24 457.19 L 173.86 456.85 L 174.48 456.52 L 175.11 456.2 L 175.74 455.89 L 176.38 455.58 L 177.03 455.29 L 177.67 454.99 L 178.32 454.71 L 178.97 454.42 L 179.62 454.13 L 180.27 453.85 L 180.91 453.56 L 181.57 453.28 L 182.22 453.01 L 182.88 452.75 L 183.54 452.49 L 184.21 452.23 L 184.87 451.97 L 185.52 451.7 L 186.17 451.42 L 186.82 451.14 L 187.45 450.84 L 188.08 450.53 L 188.7 450.19 L 189.3 449.85 L 189.91 449.48 L 190.5 449.1 L 191.1 448.71 L 191.68 448.31 L 192.27 447.9 L 192.85 447.49 L 193.43 447.08 L 194 446.66 L 194.58 446.25 L 195.15 445.84 L 195.72 445.42 L 196.28 444.99 L 196.84 444.56 L 197.4 444.12 L 197.95 443.68 L 198.51 443.24 L 199.06 442.8 L 199.61 442.36 L 200.17 441.92 L 200.73 441.49 L 201.29 441.05 L 201.85 440.62 L 202.41 440.19 L 202.97 439.76 L 203.53 439.33 L 204.1 438.9 L 204.66 438.48 L 205.23 438.05 L 205.79 437.63 L 206.36 437.2 L 206.93 436.79 L 207.5 436.37 L 208.07 435.96 L 208.65 435.54 L 209.22 435.12 L 209.8 434.71 L 210.37 434.29 L 210.95 433.88 L 211.53 433.48 L 212.12 433.08 L 212.71 432.69 L 213.3 432.31 L 213.9 431.94 L 214.51 431.58 L 215.12 431.23 L 215.74 430.89 L 216.36 430.56 L 216.99 430.23 L 217.62 429.91 L 218.26 429.59 L 218.9 429.29 L 219.54 428.99 L 220.19 428.69 L 220.83 428.41 L 221.48 428.13 L 222.13 427.87 L 222.79 427.62 L 223.46 427.37 L 224.12 427.13 L 224.79 426.89 L 225.46 426.66 L 226.13 426.43 L 226.8 426.19 L 227.46 425.95 L 228.13 425.71 L 228.79 425.46 L 229.45 425.21 L 230.12 424.96 L 230.79 424.71 L 231.46 424.47 L 232.13 424.22 L 232.79 423.97 L 233.45 423.71 L 234.11 423.44 L 234.75 423.16 L 235.39 422.87 L 236.01 422.56 L 236.63 422.23 L 237.23 421.88 L 237.82 421.5 L 238.4 421.1 L 238.98 420.69 L 239.55 420.27 L 240.12 419.84 L 240.69 419.41 L 241.26 418.98 L 241.83 418.55 L 242.41 418.14 L 242.99 417.73 L 243.57 417.33 L 244.15 416.93 L 244.73 416.53 L 245.32 416.12 L 245.9 415.72 L 246.48 415.32 L 247.06 414.92 L 247.64 414.51 L 248.22 414.11 L 248.8 413.7 L 249.37 413.28 L 249.94 412.87 L 250.51 412.44 L 251.08 412.02 L 251.64 411.59 L 252.2 411.16 L 252.77 410.74 L 253.33 410.31 L 253.9 409.89 L 254.47 409.47 L 255.05 409.06 L 255.63 408.66 L 256.21 408.26 L 256.8 407.87 L 257.39 407.48 L 257.99 407.1 L 258.59 406.72 L 259.18 406.35 L 259.78 405.97 L 260.38 405.6 L 260.98 405.22 L 261.58 404.84 L 262.18 404.46 L 262.77 404.08 L 263.37 403.7 L 263.97 403.32 L 264.56 402.93 L 265.16 402.55 L 265.75 402.17 L 266.35 401.79 L 266.94 401.41 L 267.54 401.03 L 268.13 400.64 L 268.73 400.26 L 269.32 399.88 L 269.92 399.5 L 270.52 399.12 L 271.12 398.75 L 271.73 398.37 L 272.33 398 L 272.93 397.62 L 273.52 397.24 L 274.11 396.84 L 274.69 396.44 L 275.26 396.03 L 275.82 395.61 L 276.37 395.17 L 276.92 394.72 L 277.45 394.26 L 277.98 393.79 L 278.51 393.32 L 279.03 392.84 L 279.55 392.36 L 280.08 391.88 L 280.6 391.4 L 281.13 390.93 L 281.67 390.47 L 282.2 390.01 L 282.75 389.55 L 283.29 389.1 L 283.84 388.65 L 284.38 388.2 L 284.93 387.75 L 285.47 387.3 L 286.02 386.85 L 286.56 386.39 L 287.1 385.94 L 287.64 385.48 L 288.17 385.01 L 288.7 384.55 L 289.24 384.08 L 289.77 383.61 L 290.3 383.14 L 290.83 382.67 L 291.35 382.19 L 291.87 381.72 L 292.38 381.23 L 292.89 380.74 L 293.4 380.25 L 293.9 379.75 L 294.39 379.24 L 294.87 378.73 L 295.35 378.21 L 295.83 377.69 L 296.31 377.16 L 296.78 376.63 L 297.25 376.1 L 297.72 375.57 L 298.19 375.04 L 298.66 374.51 L 299.12 373.98 L 299.59 373.45 L 300.06 372.92 L 300.52 372.39 L 300.98 371.85 L 301.44 371.32 L 301.91 370.78 L 302.37 370.24 L 302.83 369.71 L 303.29 369.17 L 303.75 368.63 L 304.22 368.1 L 304.68 367.57 L 305.15 367.04 L 305.62 366.51 L 306.09 365.98 L 306.56 365.46 L 307.03 364.93 L 307.5 364.4 L 307.97 363.87 L 308.44 363.34 L 308.91 362.81 L 309.37 362.27 L 309.83 361.73 L 310.29 361.2 L 310.74 360.66 L 311.2 360.12 L 311.66 359.57 L 312.11 359.03 L 312.56 358.49 L 313.01 357.94 L 313.46 357.39 L 313.91 356.85 L 314.36 356.3 L 314.8 355.75 L 315.24 355.2 L 315.69 354.65 L 316.12 354.09 L 316.56 353.54 L 317 352.98 L 317.44 352.42 L 317.87 351.87 L 318.31 351.31 L 318.75 350.75 L 319.18 350.2 L 319.62 349.64 L 320.06 349.09 L 320.5 348.53 L 320.94 347.98 L 321.38 347.42 L 321.81 346.87 L 322.25 346.31 L 322.69 345.76 L 323.14 345.21 L 323.58 344.66 L 324.03 344.11 L 324.48 343.57 L 324.94 343.03 L 325.4 342.49 L 325.86 341.95 L 326.33 341.42 L 326.79 340.89 L 327.26 340.36 L 327.73 339.84 L 328.2 339.31 L 328.67 338.78 L 329.14 338.24 L 329.6 337.71 L 330.07 337.18 L 330.53 336.64 L 331 336.11 L 331.47 335.58 L 331.93 335.04 L 332.4 334.51 L 332.86 333.97 L 333.32 333.43 L 333.77 332.89 L 334.22 332.34 L 334.65 331.79 L 335.08 331.23 L 335.51 330.67 L 335.92 330.09 L 336.33 329.52 L 336.73 328.94 L 337.13 328.35 L 337.53 327.76 L 337.92 327.18 L 338.31 326.59 L 338.71 326 L 339.1 325.41 L 339.5 324.82 L 339.9 324.24 L 340.29 323.65 L 340.69 323.06 L 341.08 322.48 L 341.47 321.89 L 341.86 321.3 L 342.26 320.71 L 342.65 320.12 L 343.04 319.53 L 343.43 318.94 L 343.83 318.36 L 344.22 317.77 L 344.61 317.18 L 345 316.59 L 345.39 316 L 345.79 315.41 L 346.18 314.83 L 346.57 314.24 L 346.96 313.65 L 347.36 313.06 L 347.75 312.47 L 348.14 311.88 L 348.53 311.29 L 348.92 310.7 L 349.3 310.1 L 349.68 309.5 L 350.07 308.9 L 350.45 308.31 L 350.83 307.71 L 351.23 307.12 L 351.63 306.54 L 352.03 305.97 L 352.45 305.4 L 352.88 304.85 L 353.33 304.31 L 353.8 303.78 L 354.28 303.26 L 354.77 302.74 L 355.27 302.23 L 355.76 301.72 L 356.25 301.21 L 356.74 300.69 L 357.21 300.17 L 357.67 299.63 L 358.11 299.08 L 358.53 298.52 L 358.93 297.94 L 359.33 297.35 L 359.72 296.76 L 360.11 296.17 L 360.49 295.57 L 360.87 294.97 L 361.26 294.38 L 361.65 293.79 L 362.06 293.21 L 362.47 292.64 L 362.91 292.08 L 363.35 291.53 L 363.81 290.99 L 364.27 290.45 L 364.73 289.91 L 365.18 289.37 L 365.63 288.82 L 366.06 288.26 L 366.49 287.7 L 366.91 287.13 L 367.33 286.56 L 367.74 285.99 L 368.14 285.41 L 368.54 284.82 L 368.94 284.24" clip-path="url(#p3754bf3650)" style="fill: none; stroke-dasharray: 3,4.95; stroke-dashoffset: 1.586777; stroke: #00bfff; stroke-width: 3"/>
</g>
<g>
<path d="M 76.38 531.01 L 76.38 287.86" style="fill: none; stroke: #000000; stroke-linejoin: miter; stroke-linecap: square"/>
</g>
<g>
<path d="M 478.96 531.01 L 478.96 287.86" style="fill: none; stroke: #000000; stroke-linejoin: miter; stroke-linecap: square"/>
</g>
<g>
<path d="M 76.38 531.01 L 478.96 531.01" style="fill: none; stroke: #000000; stroke-linejoin: miter; stroke-linecap: square"/>
</g>
<g>
<path d="M 76.38 287.86 L 478.96 287.86" style="fill: none; stroke: #000000; stroke-linejoin: miter; stroke-linecap: square"/>
</g>
<g>
<text style="font-size: 16px; font-family: 'DejaVu Serif', serif; text-anchor: start" x="84.428235" y="307.311059" transform="rotate(-0 84.428235 307.311059)">(c)</text>
</g>
<g>
<path d="M 325.36 531.01 L 325.36 287.86" clip-path="url(#p3754bf3650)" style="fill: none; stroke-dasharray: 3.85,1.65; stroke-dashoffset: 0; stroke: #808080; stroke-width: 1.25"/>
</g>
<g>
<g>
<path d="M 88.98 398.05 L 102.98 398.05 L 116.98 398.05" style="fill: none; stroke: #0000ff; stroke-width: 1.5; stroke-linecap: square"/>
</g>
<g>
<!-- MHD $\dot{M}_{\rm in}$ -->
<g transform="translate(128.176471 402.953732)">
<text>
<tspan x="0" y="-0.25" style="font-size: 14px; font-family: 'DejaVu Serif'">M</tspan>
<tspan x="14.334961" y="-0.25" style="font-size: 14px; font-family: 'DejaVu Serif'">H</tspan>
<tspan x="26.543945" y="-0.25" style="font-size: 14px; font-family: 'DejaVu Serif'">D</tspan>
<tspan x="37.768555" y="-0.25" style="font-size: 14px; font-family: 'DejaVu Serif'"> </tspan>
<tspan x="53.37915" y="-4.359375" style="font-size: 14px; font-family: 'DejaVu Sans'">̇</tspan>
<tspan x="42.21875" y="-0.25" style="font-style: oblique; font-size: 14px; font-family: 'DejaVu Sans'">M</tspan>
<tspan x="54.431836" y="2.046875" style="font-size: 9.8px; font-family: 'DejaVu Sans'">i</tspan>
<tspan x="57.15459" y="2.046875" style="font-size: 9.8px; font-family: 'DejaVu Sans'">n</tspan>
</text>
</g>
</g>
<g>
<path d="M 88.98 422.41 L 102.98 422.41 L 116.98 422.41" style="fill: none; stroke: #00bfff; stroke-width: 2; stroke-linecap: square"/>
</g>
<g>
<!-- MHD $\dot{M}_{\rm out}$ -->
<g transform="translate(128.176471 427.313732)">
<text>
<tspan x="0" y="-0.25" style="font-size: 14px; font-family: 'DejaVu Serif'">M</tspan>
<tspan x="14.334961" y="-0.25" style="font-size: 14px; font-family: 'DejaVu Serif'">H</tspan>
<tspan x="26.543945" y="-0.25" style="font-size: 14px; font-family: 'DejaVu Serif'">D</tspan>
<tspan x="37.768555" y="-0.25" style="font-size: 14px; font-family: 'DejaVu Serif'"> </tspan>
<tspan x="53.37915" y="-4.359375" style="font-size: 14px; font-family: 'DejaVu Sans'">̇</tspan>
<tspan x="42.21875" y="-0.25" style="font-style: oblique; font-size: 14px; font-family: 'DejaVu Sans'">M</tspan>
<tspan x="54.431836" y="2.046875" style="font-size: 9.8px; font-family: 'DejaVu Sans'">o</tspan>
<tspan x="60.427637" y="2.046875" style="font-size: 9.8px; font-family: 'DejaVu Sans'">u</tspan>
<tspan x="66.63877" y="2.046875" style="font-size: 9.8px; font-family: 'DejaVu Sans'">t</tspan>
</text>
</g>
</g>
</g>
</g>
<g>
<g>
<path d="M 571.67 531.01 L 974.26 531.01 L 974.26 287.86 L 571.67 287.86 z" style="fill: #ffffff"/>
</g>
<g>
<g>
<g>
<g>
<path d="M 0 0 L 0 3.5" transform="translate(606.845226 531.011765)" style="stroke: #000000; stroke: #000000"/>
</g>
</g>
</g>
<g>
<g>
<g>
<path d="M 0 0 L 0 3.5" transform="translate(657.168755 531.011765)" style="stroke: #000000; stroke: #000000"/>
</g>
</g>
</g>
<g>
<g>
<g>
<path d="M 0 0 L 0 3.5" transform="translate(707.492285 531.011765)" style="stroke: #000000; stroke: #000000"/>
</g>
</g>
</g>
<g>
<g>
<g>
<path d="M 0 0 L 0 3.5" transform="translate(757.815814 531.011765)" style="stroke: #000000; stroke: #000000"/>
</g>
</g>
</g>
<g>
<g>
<g>
<path d="M 0 0 L 0 3.5" transform="translate(808.139343 531.011765)" style="stroke: #000000; stroke: #000000"/>
</g>
</g>
</g>
<g>
<g>
<g>
<path d="M 0 0 L 0 3.5" transform="translate(858.462873 531.011765)" style="stroke: #000000; stroke: #000000"/>
</g>
</g>
</g>
<g>
<g>
<g>
<path d="M 0 0 L 0 3.5" transform="translate(908.786402 531.011765)" style="stroke: #000000; stroke: #000000"/>
</g>
</g>
</g>
<g>
<g>
<g>
<path d="M 0 0 L 0 3.5" transform="translate(959.109932 531.011765)" style="stroke: #000000; stroke: #000000"/>
</g>
</g>
</g>
<g>
<g>
<g>
<path d="M 0 0 L 0 2" transform="translate(571.670588 531.011765)" style="stroke: #000000; stroke-width: 0.6; stroke: #000000; stroke-width: 0.6"/>
</g>
</g>
</g>
<g>
<g>
<g>
<path d="M 0 0 L 0 2" transform="translate(580.532122 531.011765)" style="stroke: #000000; stroke-width: 0.6; stroke: #000000; stroke-width: 0.6"/>
</g>
</g>
</g>
<g>
<g>
<g>
<path d="M 0 0 L 0 2" transform="translate(586.81948 531.011765)" style="stroke: #000000; stroke-width: 0.6; stroke: #000000; stroke-width: 0.6"/>
</g>
</g>
</g>
<g>
<g>
<g>
<path d="M 0 0 L 0 2" transform="translate(591.696334 531.011765)" style="stroke: #000000; stroke-width: 0.6; stroke: #000000; stroke-width: 0.6"/>
</g>
</g>
</g>
<g>
<g>
<g>
<path d="M 0 0 L 0 2" transform="translate(595.681014 531.011765)" style="stroke: #000000; stroke-width: 0.6; stroke: #000000; stroke-width: 0.6"/>
</g>
</g>
</g>
<g>
<g>
<g>
<path d="M 0 0 L 0 2" transform="translate(599.050012 531.011765)" style="stroke: #000000; stroke-width: 0.6; stroke: #000000; stroke-width: 0.6"/>
</g>
</g>
</g>
<g>
<g>
<g>
<path d="M 0 0 L 0 2" transform="translate(601.968372 531.011765)" style="stroke: #000000; stroke-width: 0.6; stroke: #000000; stroke-width: 0.6"/>
</g>
</g>
</g>
<g>
<g>
<g>
<path d="M 0 0 L 0 2" transform="translate(604.542547 531.011765)" style="stroke: #000000; stroke-width: 0.6; stroke: #000000; stroke-width: 0.6"/>
</g>
</g>
</g>
<g>
<g>
<g>
<path d="M 0 0 L 0 2" transform="translate(621.994118 531.011765)" style="stroke: #000000; stroke-width: 0.6; stroke: #000000; stroke-width: 0.6"/>
</g>
</g>
</g>
<g>
<g>
<g>
<path d="M 0 0 L 0 2" transform="translate(630.855651 531.011765)" style="stroke: #000000; stroke-width: 0.6; stroke: #000000; stroke-width: 0.6"/>
</g>
</g>
</g>
<g>
<g>
<g>
<path d="M 0 0 L 0 2" transform="translate(637.143009 531.011765)" style="stroke: #000000; stroke-width: 0.6; stroke: #000000; stroke-width: 0.6"/>
</g>
</g>
</g>
<g>
<g>
<g>
<path d="M 0 0 L 0 2" transform="translate(642.019863 531.011765)" style="stroke: #000000; stroke-width: 0.6; stroke: #000000; stroke-width: 0.6"/>
</g>
</g>
</g>
<g>
<g>
<g>
<path d="M 0 0 L 0 2" transform="translate(646.004543 531.011765)" style="stroke: #000000; stroke-width: 0.6; stroke: #000000; stroke-width: 0.6"/>
</g>
</g>
</g>
<g>
<g>
<g>
<path d="M 0 0 L 0 2" transform="translate(649.373542 531.011765)" style="stroke: #000000; stroke-width: 0.6; stroke: #000000; stroke-width: 0.6"/>
</g>
</g>
</g>
<g>
<g>
<g>
<path d="M 0 0 L 0 2" transform="translate(652.291901 531.011765)" style="stroke: #000000; stroke-width: 0.6; stroke: #000000; stroke-width: 0.6"/>
</g>
</g>
</g>
<g>
<g>
<g>
<path d="M 0 0 L 0 2" transform="translate(654.866077 531.011765)" style="stroke: #000000; stroke-width: 0.6; stroke: #000000; stroke-width: 0.6"/>
</g>
</g>
</g>
<g>
<g>
<g>
<path d="M 0 0 L 0 2" transform="translate(672.317647 531.011765)" style="stroke: #000000; stroke-width: 0.6; stroke: #000000; stroke-width: 0.6"/>
</g>
</g>
</g>
<g>
<g>
<g>
<path d="M 0 0 L 0 2" transform="translate(681.179181 531.011765)" style="stroke: #000000; stroke-width: 0.6; stroke: #000000; stroke-width: 0.6"/>
</g>
</g>
</g>
<g>
<g>
<g>
<path d="M 0 0 L 0 2" transform="translate(687.466539 531.011765)" style="stroke: #000000; stroke-width: 0.6; stroke: #000000; stroke-width: 0.6"/>
</g>
</g>
</g>
<g>
<g>
<g>
<path d="M 0 0 L 0 2" transform="translate(692.343393 531.011765)" style="stroke: #000000; stroke-width: 0.6; stroke: #000000; stroke-width: 0.6"/>
</g>
</g>
</g>
<g>
<g>
<g>
<path d="M 0 0 L 0 2" transform="translate(696.328073 531.011765)" style="stroke: #000000; stroke-width: 0.6; stroke: #000000; stroke-width: 0.6"/>
</g>
</g>
</g>
<g>
<g>
<g>
<path d="M 0 0 L 0 2" transform="translate(699.697071 531.011765)" style="stroke: #000000; stroke-width: 0.6; stroke: #000000; stroke-width: 0.6"/>
</g>
</g>
</g>
<g>
<g>
<g>
<path d="M 0 0 L 0 2" transform="translate(702.615431 531.011765)" style="stroke: #000000; stroke-width: 0.6; stroke: #000000; stroke-width: 0.6"/>
</g>
</g>
</g>
<g>
<g>
<g>
<path d="M 0 0 L 0 2" transform="translate(705.189606 531.011765)" style="stroke: #000000; stroke-width: 0.6; stroke: #000000; stroke-width: 0.6"/>
</g>
</g>
</g>
<g>
<g>
<g>
<path d="M 0 0 L 0 2" transform="translate(722.641176 531.011765)" style="stroke: #000000; stroke-width: 0.6; stroke: #000000; stroke-width: 0.6"/>
</g>
</g>
</g>
<g>
<g>
<g>
<path d="M 0 0 L 0 2" transform="translate(731.50271 531.011765)" style="stroke: #000000; stroke-width: 0.6; stroke: #000000; stroke-width: 0.6"/>
</g>
</g>
</g>
<g>
<g>
<g>
<path d="M 0 0 L 0 2" transform="translate(737.790068 531.011765)" style="stroke: #000000; stroke-width: 0.6; stroke: #000000; stroke-width: 0.6"/>
</g>
</g>
</g>
<g>
<g>
<g>
<path d="M 0 0 L 0 2" transform="translate(742.666922 531.011765)" style="stroke: #000000; stroke-width: 0.6; stroke: #000000; stroke-width: 0.6"/>
</g>
</g>
</g>
<g>
<g>
<g>
<path d="M 0 0 L 0 2" transform="translate(746.651602 531.011765)" style="stroke: #000000; stroke-width: 0.6; stroke: #000000; stroke-width: 0.6"/>
</g>
</g>
</g>
<g>
<g>
<g>
<path d="M 0 0 L 0 2" transform="translate(750.020601 531.011765)" style="stroke: #000000; stroke-width: 0.6; stroke: #000000; stroke-width: 0.6"/>
</g>
</g>
</g>
<g>
<g>
<g>
<path d="M 0 0 L 0 2" transform="translate(752.93896 531.011765)" style="stroke: #000000; stroke-width: 0.6; stroke: #000000; stroke-width: 0.6"/>
</g>
</g>
</g>
<g>
<g>
<g>
<path d="M 0 0 L 0 2" transform="translate(755.513136 531.011765)" style="stroke: #000000; stroke-width: 0.6; stroke: #000000; stroke-width: 0.6"/>
</g>
</g>
</g>
<g>
<g>
<g>
<path d="M 0 0 L 0 2" transform="translate(772.964706 531.011765)" style="stroke: #000000; stroke-width: 0.6; stroke: #000000; stroke-width: 0.6"/>
</g>
</g>
</g>
<g>
<g>
<g>
<path d="M 0 0 L 0 2" transform="translate(781.82624 531.011765)" style="stroke: #000000; stroke-width: 0.6; stroke: #000000; stroke-width: 0.6"/>
</g>
</g>
</g>
<g>
<g>
<g>
<path d="M 0 0 L 0 2" transform="translate(788.113598 531.011765)" style="stroke: #000000; stroke-width: 0.6; stroke: #000000; stroke-width: 0.6"/>
</g>
</g>
</g>
<g>
<g>
<g>
<path d="M 0 0 L 0 2" transform="translate(792.990452 531.011765)" style="stroke: #000000; stroke-width: 0.6; stroke: #000000; stroke-width: 0.6"/>
</g>
</g>
</g>
<g>
<g>
<g>
<path d="M 0 0 L 0 2" transform="translate(796.975131 531.011765)" style="stroke: #000000; stroke-width: 0.6; stroke: #000000; stroke-width: 0.6"/>
</g>
</g>
</g>
<g>
<g>
<g>
<path d="M 0 0 L 0 2" transform="translate(800.34413 531.011765)" style="stroke: #000000; stroke-width: 0.6; stroke: #000000; stroke-width: 0.6"/>
</g>
</g>
</g>
<g>
<g>
<g>
<path d="M 0 0 L 0 2" transform="translate(803.26249 531.011765)" style="stroke: #000000; stroke-width: 0.6; stroke: #000000; stroke-width: 0.6"/>
</g>
</g>
</g>
<g>
<g>
<g>
<path d="M 0 0 L 0 2" transform="translate(805.836665 531.011765)" style="stroke: #000000; stroke-width: 0.6; stroke: #000000; stroke-width: 0.6"/>
</g>
</g>
</g>
<g>
<g>
<g>
<path d="M 0 0 L 0 2" transform="translate(823.288235 531.011765)" style="stroke: #000000; stroke-width: 0.6; stroke: #000000; stroke-width: 0.6"/>
</g>
</g>
</g>
<g>
<g>
<g>
<path d="M 0 0 L 0 2" transform="translate(832.149769 531.011765)" style="stroke: #000000; stroke-width: 0.6; stroke: #000000; stroke-width: 0.6"/>
</g>
</g>
</g>
<g>
<g>
<g>
<path d="M 0 0 L 0 2" transform="translate(838.437127 531.011765)" style="stroke: #000000; stroke-width: 0.6; stroke: #000000; stroke-width: 0.6"/>
</g>
</g>
</g>
<g>
<g>
<g>
<path d="M 0 0 L 0 2" transform="translate(843.313981 531.011765)" style="stroke: #000000; stroke-width: 0.6; stroke: #000000; stroke-width: 0.6"/>
</g>
</g>
</g>
<g>
<g>
<g>
<path d="M 0 0 L 0 2" transform="translate(847.298661 531.011765)" style="stroke: #000000; stroke-width: 0.6; stroke: #000000; stroke-width: 0.6"/>
</g>
</g>
</g>
<g>
<g>
<g>
<path d="M 0 0 L 0 2" transform="translate(850.66766 531.011765)" style="stroke: #000000; stroke-width: 0.6; stroke: #000000; stroke-width: 0.6"/>
</g>
</g>
</g>
<g>
<g>
<g>
<path d="M 0 0 L 0 2" transform="translate(853.586019 531.011765)" style="stroke: #000000; stroke-width: 0.6; stroke: #000000; stroke-width: 0.6"/>
</g>
</g>
</g>
<g>
<g>
<g>
<path d="M 0 0 L 0 2" transform="translate(856.160194 531.011765)" style="stroke: #000000; stroke-width: 0.6; stroke: #000000; stroke-width: 0.6"/>
</g>
</g>
</g>
<g>
<g>
<g>
<path d="M 0 0 L 0 2" transform="translate(873.611765 531.011765)" style="stroke: #000000; stroke-width: 0.6; stroke: #000000; stroke-width: 0.6"/>
</g>
</g>
</g>
<g>
<g>
<g>
<path d="M 0 0 L 0 2" transform="translate(882.473298 531.011765)" style="stroke: #000000; stroke-width: 0.6; stroke: #000000; stroke-width: 0.6"/>
</g>
</g>
</g>
<g>
<g>
<g>
<path d="M 0 0 L 0 2" transform="translate(888.760657 531.011765)" style="stroke: #000000; stroke-width: 0.6; stroke: #000000; stroke-width: 0.6"/>
</g>
</g>
</g>
<g>
<g>
<g>
<path d="M 0 0 L 0 2" transform="translate(893.63751 531.011765)" style="stroke: #000000; stroke-width: 0.6; stroke: #000000; stroke-width: 0.6"/>
</g>
</g>
</g>
<g>
<g>
<g>
<path d="M 0 0 L 0 2" transform="translate(897.62219 531.011765)" style="stroke: #000000; stroke-width: 0.6; stroke: #000000; stroke-width: 0.6"/>
</g>
</g>
</g>
<g>
<g>
<g>
<path d="M 0 0 L 0 2" transform="translate(900.991189 531.011765)" style="stroke: #000000; stroke-width: 0.6; stroke: #000000; stroke-width: 0.6"/>
</g>
</g>
</g>
<g>
<g>
<g>
<path d="M 0 0 L 0 2" transform="translate(903.909548 531.011765)" style="stroke: #000000; stroke-width: 0.6; stroke: #000000; stroke-width: 0.6"/>
</g>
</g>
</g>
<g>
<g>
<g>
<path d="M 0 0 L 0 2" transform="translate(906.483724 531.011765)" style="stroke: #000000; stroke-width: 0.6; stroke: #000000; stroke-width: 0.6"/>
</g>
</g>
</g>
<g>
<g>
<g>
<path d="M 0 0 L 0 2" transform="translate(923.935294 531.011765)" style="stroke: #000000; stroke-width: 0.6; stroke: #000000; stroke-width: 0.6"/>
</g>
</g>
</g>
<g>
<g>
<g>
<path d="M 0 0 L 0 2" transform="translate(932.796828 531.011765)" style="stroke: #000000; stroke-width: 0.6; stroke: #000000; stroke-width: 0.6"/>
</g>
</g>
</g>
<g>
<g>
<g>
<path d="M 0 0 L 0 2" transform="translate(939.084186 531.011765)" style="stroke: #000000; stroke-width: 0.6; stroke: #000000; stroke-width: 0.6"/>
</g>
</g>
</g>
<g>
<g>
<g>
<path d="M 0 0 L 0 2" transform="translate(943.96104 531.011765)" style="stroke: #000000; stroke-width: 0.6; stroke: #000000; stroke-width: 0.6"/>
</g>
</g>
</g>
<g>
<g>
<g>
<path d="M 0 0 L 0 2" transform="translate(947.94572 531.011765)" style="stroke: #000000; stroke-width: 0.6; stroke: #000000; stroke-width: 0.6"/>
</g>
</g>
</g>
<g>
<g>
<g>
<path d="M 0 0 L 0 2" transform="translate(951.314718 531.011765)" style="stroke: #000000; stroke-width: 0.6; stroke: #000000; stroke-width: 0.6"/>
</g>
</g>
</g>
<g>
<g>
<g>
<path d="M 0 0 L 0 2" transform="translate(954.233078 531.011765)" style="stroke: #000000; stroke-width: 0.6; stroke: #000000; stroke-width: 0.6"/>
</g>
</g>
</g>
<g>
<g>
<g>
<path d="M 0 0 L 0 2" transform="translate(956.807253 531.011765)" style="stroke: #000000; stroke-width: 0.6; stroke: #000000; stroke-width: 0.6"/>
</g>
</g>
</g>
<g>
<g>
<g>
<path d="M 0 0 L 0 2" transform="translate(974.258824 531.011765)" style="stroke: #000000; stroke-width: 0.6; stroke: #000000; stroke-width: 0.6"/>
</g>
</g>
</g>
</g>
<g>
<g>
<g>
<g>
<path d="M 0 0 L -3.5 0" transform="translate(571.670588 494.842857)" style="stroke: #000000; stroke: #000000"/>
</g>
</g>
<g>
<!-- $\mathdefault{10^{-5}}$ -->
<g transform="translate(531.310588 500.773)">
<text>
<tspan x="0" y="-0.771875" style="font-size: 14px; font-family: 'DejaVu Serif'">1</tspan>
<tspan x="8.907227" y="-0.771875" style="font-size: 14px; font-family: 'DejaVu Serif'">0</tspan>
<tspan x="17.941602" y="-5.857813" style="font-size: 9.8px; font-family: 'DejaVu Serif'">−</tspan>
<tspan x="26.15293" y="-5.857813" style="font-size: 9.8px; font-family: 'DejaVu Serif'">5</tspan>
</text>
</g>
</g>
</g>
<g>
<g>
<g>
<path d="M 0 0 L -3.5 0" transform="translate(571.670588 443.096849)" style="stroke: #000000; stroke: #000000"/>
</g>
</g>
<g>
<!-- $\mathdefault{10^{-4}}$ -->
<g transform="translate(531.310588 448.792)">
<text>
<tspan x="0" y="-0.640625" style="font-size: 14px; font-family: 'DejaVu Serif'">1</tspan>
<tspan x="8.907227" y="-0.640625" style="font-size: 14px; font-family: 'DejaVu Serif'">0</tspan>
<tspan x="17.941602" y="-5.726562" style="font-size: 9.8px; font-family: 'DejaVu Serif'">−</tspan>
<tspan x="26.15293" y="-5.726562" style="font-size: 9.8px; font-family: 'DejaVu Serif'">4</tspan>
</text>
</g>
</g>
</g>
<g>
<g>
<g>
<path d="M 0 0 L -3.5 0" transform="translate(571.670588 391.35084)" style="stroke: #000000; stroke: #000000"/>
</g>
</g>
<g>
<!-- $\mathdefault{10^{-3}}$ -->
<g transform="translate(531.310588 397.046)">
<text>
<tspan x="0" y="-0.640625" style="font-size: 14px; font-family: 'DejaVu Serif'">1</tspan>
<tspan x="8.907227" y="-0.640625" style="font-size: 14px; font-family: 'DejaVu Serif'">0</tspan>
<tspan x="17.941602" y="-5.726562" style="font-size: 9.8px; font-family: 'DejaVu Serif'">−</tspan>
<tspan x="26.15293" y="-5.726562" style="font-size: 9.8px; font-family: 'DejaVu Serif'">3</tspan>
</text>
</g>
</g>
</g>
<g>
<g>
<g>
<path d="M 0 0 L -3.5 0" transform="translate(571.670588 339.604832)" style="stroke: #000000; stroke: #000000"/>
</g>
</g>
<g>
<!-- $\mathdefault{10^{-2}}$ -->
<g transform="translate(531.310588 345.300)">
<text>
<tspan x="0" y="-0.640625" style="font-size: 14px; font-family: 'DejaVu Serif'">1</tspan>
<tspan x="8.907227" y="-0.640625" style="font-size: 14px; font-family: 'DejaVu Serif'">0</tspan>
<tspan x="17.941602" y="-5.726562" style="font-size: 9.8px; font-family: 'DejaVu Serif'">−</tspan>
<tspan x="26.15293" y="-5.726562" style="font-size: 9.8px; font-family: 'DejaVu Serif'">2</tspan>
</text>
</g>
</g>
</g>
<g>
<g>
<g>
<path d="M 0 0 L -3.5 0" transform="translate(571.670588 287.858824)" style="stroke: #000000; stroke: #000000"/>
</g>
</g>
<g>
<!-- $\mathdefault{10^{-1}}$ -->
<g transform="translate(531.310588 293.554)">
<text>
<tspan x="0" y="-0.640625" style="font-size: 14px; font-family: 'DejaVu Serif'">1</tspan>
<tspan x="8.907227" y="-0.640625" style="font-size: 14px; font-family: 'DejaVu Serif'">0</tspan>
<tspan x="17.941602" y="-5.726562" style="font-size: 9.8px; font-family: 'DejaVu Serif'">−</tspan>
<tspan x="26.15293" y="-5.726562" style="font-size: 9.8px; font-family: 'DejaVu Serif'">1</tspan>
</text>
</g>
</g>
</g>
<g>
<g>
<g>
<path d="M 0 0 L -2 0" transform="translate(571.670588 531.011765)" style="stroke: #000000; stroke-width: 0.6; stroke: #000000; stroke-width: 0.6"/>
</g>
</g>
</g>
<g>
<g>
<g>
<path d="M 0 0 L -2 0" transform="translate(571.670588 521.899745)" style="stroke: #000000; stroke-width: 0.6; stroke: #000000; stroke-width: 0.6"/>
</g>
</g>
</g>
<g>
<g>
<g>
<path d="M 0 0 L -2 0" transform="translate(571.670588 515.434664)" style="stroke: #000000; stroke-width: 0.6; stroke: #000000; stroke-width: 0.6"/>
</g>
</g>
</g>
<g>
<g>
<g>
<path d="M 0 0 L -2 0" transform="translate(571.670588 510.419958)" style="stroke: #000000; stroke-width: 0.6; stroke: #000000; stroke-width: 0.6"/>
</g>
</g>
</g>
<g>
<g>
<g>
<path d="M 0 0 L -2 0" transform="translate(571.670588 506.322644)" style="stroke: #000000; stroke-width: 0.6; stroke: #000000; stroke-width: 0.6"/>
</g>
</g>
</g>
<g>
<g>
<g>
<path d="M 0 0 L -2 0" transform="translate(571.670588 502.858415)" style="stroke: #000000; stroke-width: 0.6; stroke: #000000; stroke-width: 0.6"/>
</g>
</g>
</g>
<g>
<g>
<g>
<path d="M 0 0 L -2 0" transform="translate(571.670588 499.857563)" style="stroke: #000000; stroke-width: 0.6; stroke: #000000; stroke-width: 0.6"/>
</g>
</g>
</g>
<g>
<g>
<g>
<path d="M 0 0 L -2 0" transform="translate(571.670588 497.210625)" style="stroke: #000000; stroke-width: 0.6; stroke: #000000; stroke-width: 0.6"/>
</g>
</g>
</g>
<g>
<g>
<g>
<path d="M 0 0 L -2 0" transform="translate(571.670588 479.265756)" style="stroke: #000000; stroke-width: 0.6; stroke: #000000; stroke-width: 0.6"/>
</g>
</g>
</g>
<g>
<g>
<g>
<path d="M 0 0 L -2 0" transform="translate(571.670588 470.153737)" style="stroke: #000000; stroke-width: 0.6; stroke: #000000; stroke-width: 0.6"/>
</g>
</g>
</g>
<g>
<g>
<g>
<path d="M 0 0 L -2 0" transform="translate(571.670588 463.688656)" style="stroke: #000000; stroke-width: 0.6; stroke: #000000; stroke-width: 0.6"/>
</g>
</g>
</g>
<g>
<g>
<g>
<path d="M 0 0 L -2 0" transform="translate(571.670588 458.673949)" style="stroke: #000000; stroke-width: 0.6; stroke: #000000; stroke-width: 0.6"/>
</g>
</g>
</g>
<g>
<g>
<g>
<path d="M 0 0 L -2 0" transform="translate(571.670588 454.576636)" style="stroke: #000000; stroke-width: 0.6; stroke: #000000; stroke-width: 0.6"/>
</g>
</g>
</g>
<g>
<g>
<g>
<path d="M 0 0 L -2 0" transform="translate(571.670588 451.112407)" style="stroke: #000000; stroke-width: 0.6; stroke: #000000; stroke-width: 0.6"/>
</g>
</g>
</g>
<g>
<g>
<g>
<path d="M 0 0 L -2 0" transform="translate(571.670588 448.111555)" style="stroke: #000000; stroke-width: 0.6; stroke: #000000; stroke-width: 0.6"/>
</g>
</g>
</g>
<g>
<g>
<g>
<path d="M 0 0 L -2 0" transform="translate(571.670588 445.464616)" style="stroke: #000000; stroke-width: 0.6; stroke: #000000; stroke-width: 0.6"/>
</g>
</g>
</g>
<g>
<g>
<g>
<path d="M 0 0 L -2 0" transform="translate(571.670588 427.519748)" style="stroke: #000000; stroke-width: 0.6; stroke: #000000; stroke-width: 0.6"/>
</g>
</g>
</g>
<g>
<g>
<g>
<path d="M 0 0 L -2 0" transform="translate(571.670588 418.407728)" style="stroke: #000000; stroke-width: 0.6; stroke: #000000; stroke-width: 0.6"/>
</g>
</g>
</g>
<g>
<g>
<g>
<path d="M 0 0 L -2 0" transform="translate(571.670588 411.942647)" style="stroke: #000000; stroke-width: 0.6; stroke: #000000; stroke-width: 0.6"/>
</g>
</g>
</g>
<g>
<g>
<g>
<path d="M 0 0 L -2 0" transform="translate(571.670588 406.927941)" style="stroke: #000000; stroke-width: 0.6; stroke: #000000; stroke-width: 0.6"/>
</g>
</g>
</g>
<g>
<g>
<g>
<path d="M 0 0 L -2 0" transform="translate(571.670588 402.830628)" style="stroke: #000000; stroke-width: 0.6; stroke: #000000; stroke-width: 0.6"/>
</g>
</g>
</g>
<g>
<g>
<g>
<path d="M 0 0 L -2 0" transform="translate(571.670588 399.366398)" style="stroke: #000000; stroke-width: 0.6; stroke: #000000; stroke-width: 0.6"/>
</g>
</g>
</g>
<g>
<g>
<g>
<path d="M 0 0 L -2 0" transform="translate(571.670588 396.365547)" style="stroke: #000000; stroke-width: 0.6; stroke: #000000; stroke-width: 0.6"/>
</g>
</g>
</g>
<g>
<g>
<g>
<path d="M 0 0 L -2 0" transform="translate(571.670588 393.718608)" style="stroke: #000000; stroke-width: 0.6; stroke: #000000; stroke-width: 0.6"/>
</g>
</g>
</g>
<g>
<g>
<g>
<path d="M 0 0 L -2 0" transform="translate(571.670588 375.77374)" style="stroke: #000000; stroke-width: 0.6; stroke: #000000; stroke-width: 0.6"/>
</g>
</g>
</g>
<g>
<g>
<g>
<path d="M 0 0 L -2 0" transform="translate(571.670588 366.66172)" style="stroke: #000000; stroke-width: 0.6; stroke: #000000; stroke-width: 0.6"/>
</g>
</g>
</g>
<g>
<g>
<g>
<path d="M 0 0 L -2 0" transform="translate(571.670588 360.196639)" style="stroke: #000000; stroke-width: 0.6; stroke: #000000; stroke-width: 0.6"/>
</g>
</g>
</g>
<g>
<g>
<g>
<path d="M 0 0 L -2 0" transform="translate(571.670588 355.181933)" style="stroke: #000000; stroke-width: 0.6; stroke: #000000; stroke-width: 0.6"/>
</g>
</g>
</g>
<g>
<g>
<g>
<path d="M 0 0 L -2 0" transform="translate(571.670588 351.084619)" style="stroke: #000000; stroke-width: 0.6; stroke: #000000; stroke-width: 0.6"/>
</g>
</g>
</g>
<g>
<g>
<g>
<path d="M 0 0 L -2 0" transform="translate(571.670588 347.62039)" style="stroke: #000000; stroke-width: 0.6; stroke: #000000; stroke-width: 0.6"/>
</g>
</g>
</g>
<g>
<g>
<g>
<path d="M 0 0 L -2 0" transform="translate(571.670588 344.619538)" style="stroke: #000000; stroke-width: 0.6; stroke: #000000; stroke-width: 0.6"/>
</g>
</g>
</g>
<g>
<g>
<g>
<path d="M 0 0 L -2 0" transform="translate(571.670588 341.972599)" style="stroke: #000000; stroke-width: 0.6; stroke: #000000; stroke-width: 0.6"/>
</g>
</g>
</g>
<g>
<g>
<g>
<path d="M 0 0 L -2 0" transform="translate(571.670588 324.027731)" style="stroke: #000000; stroke-width: 0.6; stroke: #000000; stroke-width: 0.6"/>
</g>
</g>
</g>
<g>
<g>
<g>
<path d="M 0 0 L -2 0" transform="translate(571.670588 314.915711)" style="stroke: #000000; stroke-width: 0.6; stroke: #000000; stroke-width: 0.6"/>
</g>
</g>
</g>
<g>
<g>
<g>
<path d="M 0 0 L -2 0" transform="translate(571.670588 308.450631)" style="stroke: #000000; stroke-width: 0.6; stroke: #000000; stroke-width: 0.6"/>
</g>
</g>
</g>
<g>
<g>
<g>
<path d="M 0 0 L -2 0" transform="translate(571.670588 303.435924)" style="stroke: #000000; stroke-width: 0.6; stroke: #000000; stroke-width: 0.6"/>
</g>
</g>
</g>
<g>
<g>
<g>
<path d="M 0 0 L -2 0" transform="translate(571.670588 299.338611)" style="stroke: #000000; stroke-width: 0.6; stroke: #000000; stroke-width: 0.6"/>
</g>
</g>
</g>
<g>
<g>
<g>
<path d="M 0 0 L -2 0" transform="translate(571.670588 295.874382)" style="stroke: #000000; stroke-width: 0.6; stroke: #000000; stroke-width: 0.6"/>
</g>
</g>
</g>
<g>
<g>
<g>
<path d="M 0 0 L -2 0" transform="translate(571.670588 292.87353)" style="stroke: #000000; stroke-width: 0.6; stroke: #000000; stroke-width: 0.6"/>
</g>
</g>
</g>
<g>
<g>
<g>
<path d="M 0 0 L -2 0" transform="translate(571.670588 290.226591)" style="stroke: #000000; stroke-width: 0.6; stroke: #000000; stroke-width: 0.6"/>
</g>
</g>
</g>
<g>
<!-- $\eta^\mathrm{tot}$ -->
<g transform="translate(523.530588 425.022) rotate(-90)">
<text>
<tspan x="0" y="-0.260938" style="font-style: oblique; font-size: 18px; font-family: 'DejaVu Sans'">η</tspan>
<tspan x="12.244922" y="-7.151563" style="font-size: 12.6px; font-family: 'DejaVu Sans'">t</tspan>
<tspan x="17.185254" y="-7.151563" style="font-size: 12.6px; font-family: 'DejaVu Sans'">o</tspan>
<tspan x="24.894141" y="-7.151563" style="font-size: 12.6px; font-family: 'DejaVu Sans'">t</tspan>
</text>
</g>
</g>
</g>
<g>
<path d="M 571.67 498.68 L 975.59 498.68" clip-path="url(#p29c4a366c4)" style="fill: none; stroke-dasharray: 10,16.5; stroke-dashoffset: 0; stroke: #708090; stroke-opacity: 0.5; stroke-width: 10"/>
</g>
<g>
<path d="M 572.05 538.82 L 572.05 538.12 L 572.05 537.41 L 572.05 536.7 L 572.05 535.99 L 572.05 535.28 L 572.05 534.57 L 572.05 533.86 L 572.06 533.16 L 572.06 532.45 L 572.06 531.74 L 572.06 531.03 L 572.07 530.32 L 572.07 529.61 L 572.07 528.91 L 572.08 528.2 L 572.08 527.49 L 572.08 526.78 L 572.09 526.07 L 572.09 525.36 L 572.1 524.66 L 572.1 523.95 L 572.11 523.24 L 572.11 522.53 L 572.11 521.82 L 572.12 521.11 L 572.12 520.41 L 572.13 519.7 L 572.13 518.99 L 572.14 518.28 L 572.14 517.57 L 572.15 516.86 L 572.15 516.16 L 572.16 515.45 L 572.16 514.74 L 572.17 514.03 L 572.17 513.32 L 572.18 512.61 L 572.18 511.9 L 572.19 511.19 L 572.19 510.48 L 572.2 509.78 L 572.21 509.07 L 572.21 508.36 L 572.22 507.65 L 572.23 506.94 L 572.24 506.23 L 572.25 505.52 L 572.26 504.81 L 572.27 504.11 L 572.28 503.4 L 572.29 502.69 L 572.31 501.98 L 572.32 501.28 L 572.34 500.57 L 572.35 499.86 L 572.37 499.16 L 572.39 498.44 L 572.41 497.71 L 572.44 496.94 L 572.49 496.17 L 572.54 495.4 L 572.61 494.64 L 572.68 493.9 L 572.78 493.19 L 572.88 492.53 L 573.01 491.92 L 573.15 491.37 L 573.5 490.84 L 574.18 490.34 L 574.82 490.12 L 575.27 490.38 L 575.7 491.03 L 576.06 491.81 L 576.33 492.48 L 576.54 493.15 L 576.71 493.85 L 576.88 494.55 L 577.07 495.23 L 577.32 495.92 L 577.61 496.69 L 577.94 497.43 L 578.33 497.96 L 578.78 498.16 L 579.36 498.27 L 580.06 498.35 L 580.82 498.42 L 581.61 498.47 L 582.38 498.49 L 583.1 498.49 L 583.8 498.49 L 584.51 498.49 L 585.22 498.49 L 585.92 498.49 L 586.63 498.49 L 587.34 498.49 L 588.05 498.49 L 588.75 498.49 L 589.46 498.49 L 590.17 498.49 L 590.87 498.49 L 591.58 498.49 L 592.29 498.49 L 593 498.49 L 593.7 498.49 L 594.41 498.49 L 595.12 498.49 L 595.83 498.49 L 596.53 498.49 L 597.24 498.49 L 597.95 498.49 L 598.66 498.49 L 599.36 498.49 L 600.07 498.49 L 600.78 498.49 L 601.49 498.49 L 602.2 498.49 L 602.9 498.49 L 603.61 498.49 L 604.32 498.49 L 605.03 498.49 L 605.74 498.49 L 606.45 498.49 L 607.15 498.49 L 607.86 498.49 L 608.57 498.49 L 609.28 498.49 L 609.99 498.49 L 610.7 498.49 L 611.4 498.49 L 612.11 498.49 L 612.82 498.49 L 613.53 498.49 L 614.24 498.49 L 614.95 498.49 L 615.66 498.49 L 616.36 498.49 L 617.07 498.49 L 617.78 498.49 L 618.49 498.49 L 619.2 498.49 L 619.91 498.49 L 620.62 498.49 L 621.33 498.49 L 622.03 498.49 L 622.74 498.49 L 623.45 498.49 L 624.16 498.49 L 624.87 498.49 L 625.58 498.49 L 626.29 498.49 L 627 498.49 L 627.71 498.49 L 628.41 498.49 L 629.12 498.49 L 629.83 498.49 L 630.54 498.49 L 631.25 498.49 L 631.96 498.49 L 632.67 498.49 L 633.38 498.49 L 634.09 498.49 L 634.8 498.49 L 635.5 498.49 L 636.21 498.49 L 636.92 498.49 L 637.63 498.49 L 638.34 498.49 L 639.05 498.49 L 639.76 498.49 L 640.47 498.49 L 641.18 498.49 L 641.88 498.49 L 642.59 498.49 L 643.3 498.49 L 644.01 498.49 L 644.72 498.49 L 645.43 498.49 L 646.14 498.49 L 646.85 498.49 L 647.56 498.49 L 648.26 498.49 L 648.97 498.49 L 649.68 498.49 L 650.39 498.49 L 651.1 498.49 L 651.81 498.49 L 652.52 498.49 L 653.23 498.49 L 653.93 498.49 L 654.64 498.49 L 655.35 498.49 L 656.06 498.49 L 656.77 498.49 L 657.48 498.49 L 658.18 498.49 L 658.89 498.49 L 659.6 498.49 L 660.31 498.49 L 661.02 498.49 L 661.73 498.49 L 662.44 498.49 L 663.14 498.49 L 663.85 498.49 L 664.56 498.49 L 665.27 498.5 L 665.98 498.5 L 666.69 498.5 L 667.39 498.5 L 668.1 498.5 L 668.81 498.5 L 669.52 498.5 L 670.23 498.5 L 670.94 498.5 L 671.64 498.5 L 672.35 498.5 L 673.06 498.5 L 673.77 498.5 L 674.48 498.5 L 675.19 498.5 L 675.89 498.5 L 676.6 498.5 L 677.31 498.5 L 678.02 498.5 L 678.73 498.5 L 679.44 498.5 L 680.14 498.5 L 680.85 498.5 L 681.56 498.51 L 682.27 498.51 L 682.98 498.51 L 683.69 498.51 L 684.39 498.51 L 685.1 498.51 L 685.81 498.51 L 686.52 498.51 L 687.23 498.51 L 687.94 498.51 L 688.64 498.51 L 689.35 498.51 L 690.06 498.51 L 690.77 498.51 L 691.48 498.52 L 692.19 498.52 L 692.89 498.52 L 693.6 498.52 L 694.31 498.52 L 695.02 498.52 L 695.73 498.52 L 696.44 498.52 L 697.14 498.52 L 697.85 498.52 L 698.56 498.52 L 699.27 498.53 L 699.98 498.53 L 700.69 498.53 L 701.39 498.53 L 702.1 498.53 L 702.81 498.53 L 703.52 498.53 L 704.23 498.53 L 704.94 498.53 L 705.64 498.53 L 706.35 498.54 L 707.06 498.54 L 707.77 498.54 L 708.48 498.54 L 709.19 498.54 L 709.9 498.54 L 710.6 498.54 L 711.31 498.54 L 712.02 498.54 L 712.73 498.55 L 713.44 498.55 L 714.15 498.55 L 714.85 498.55 L 715.56 498.55 L 716.27 498.55 L 716.98 498.55 L 717.69 498.55 L 718.4 498.55 L 719.1 498.56 L 719.81 498.56 L 720.52 498.56 L 721.23 498.56 L 721.94 498.56 L 722.65 498.56 L 723.35 498.56 L 724.06 498.56 L 724.77 498.57 L 725.48 498.57 L 726.19 498.57 L 726.9 498.57 L 727.6 498.57 L 728.31 498.57 L 729.02 498.57 L 729.73 498.57 L 730.44 498.57 L 731.15 498.58 L 731.85 498.58 L 732.56 498.58 L 733.27 498.58 L 733.98 498.58 L 734.69 498.58 L 735.4 498.58 L 736.1 498.58 L 736.81 498.59 L 737.52 498.59 L 738.23 498.59 L 738.94 498.59 L 739.65 498.59 L 740.35 498.59 L 741.06 498.59 L 741.77 498.59 L 742.48 498.59 L 743.19 498.6 L 743.9 498.6 L 744.6 498.6 L 745.31 498.6 L 746.02 498.6 L 746.73 498.6 L 747.44 498.6 L 748.15 498.6 L 748.85 498.6 L 749.56 498.61 L 750.27 498.61 L 750.98 498.61 L 751.69 498.61 L 752.4 498.61 L 753.11 498.61 L 753.81 498.61 L 754.52 498.61 L 755.23 498.61 L 755.94 498.61 L 756.65 498.62 L 757.36 498.62 L 758.06 498.62 L 758.77 498.62 L 759.48 498.62 L 760.19 498.62 L 760.9 498.62 L 761.61 498.62 L 762.31 498.62 L 763.02 498.62 L 763.73 498.62 L 764.44 498.63 L 765.15 498.63 L 765.86 498.63 L 766.56 498.63 L 767.27 498.63 L 767.98 498.63 L 768.69 498.63 L 769.4 498.63 L 770.11 498.63 L 770.81 498.63 L 771.52 498.63 L 772.23 498.63 L 772.94 498.63 L 773.65 498.63 L 774.36 498.64 L 775.06 498.64 L 775.77 498.64 L 776.48 498.64 L 777.19 498.64 L 777.9 498.64 L 778.61 498.64 L 779.31 498.64 L 780.02 498.64 L 780.73 498.64 L 781.44 498.64 L 782.15 498.64 L 782.86 498.64 L 783.57 498.64 L 784.27 498.65 L 784.98 498.65 L 785.69 498.65 L 786.4 498.65 L 787.11 498.65 L 787.82 498.65 L 788.53 498.65 L 789.23 498.65 L 789.94 498.65 L 790.65 498.65 L 791.36 498.65 L 792.07 498.65 L 792.78 498.65 L 793.49 498.65 L 794.2 498.65 L 794.9 498.66 L 795.61 498.66 L 796.32 498.66 L 797.03 498.66 L 797.74 498.66 L 798.45 498.66 L 799.16 498.66 L 799.86 498.66 L 800.57 498.66 L 801.28 498.66 L 801.99 498.66 L 802.7 498.66 L 803.41 498.66 L 804.12 498.66 L 804.82 498.67 L 805.53 498.67 L 806.24 498.67 L 806.95 498.67 L 807.66 498.67 L 808.37 498.67 L 809.08 498.67 L 809.78 498.67 L 810.49 498.67 L 811.2 498.67 L 811.91 498.67 L 812.62 498.67 L 813.33 498.67 L 814.04 498.67 L 814.74 498.67 L 815.45 498.67 L 816.16 498.67 L 816.87 498.67 L 817.58 498.68 L 818.29 498.68 L 818.99 498.68 L 819.7 498.68 L 820.41 498.68 L 821.12 498.68 L 821.83 498.68 L 822.54 498.68 L 823.24 498.68 L 823.95 498.68 L 824.66 498.68 L 825.37 498.68 L 826.08 498.68 L 826.78 498.68 L 827.49 498.68 L 828.2 498.68 L 828.91 498.68 L 829.62 498.68 L 830.32 498.68 L 831.03 498.68 L 831.74 498.68 L 832.45 498.68 L 833.15 498.68 L 833.86 498.68 L 834.57 498.68 L 835.28 498.68 L 835.99 498.68 L 836.69 498.68 L 837.4 498.68 L 838.11 498.68 L 838.82 498.67 L 839.52 498.66 L 840.23 498.64 L 840.94 498.61 L 841.65 498.57 L 842.36 498.53 L 843.07 498.48 L 843.78 498.43 L 844.48 498.37 L 845.19 498.31 L 845.9 498.25 L 846.6 498.19 L 847.31 498.12 L 848.01 498.06 L 848.71 497.99 L 849.41 497.9 L 850.11 497.79 L 850.8 497.67 L 851.5 497.53 L 852.19 497.39 L 852.88 497.23 L 853.58 497.07 L 854.27 496.91 L 854.96 496.75 L 855.66 496.59 L 856.35 496.44 L 857.04 496.3 L 857.74 496.17 L 858.44 496.05 L 859.14 495.95 L 859.85 495.84 L 860.57 495.73 L 861.29 495.63 L 862.01 495.53 L 862.72 495.44 L 863.42 495.37 L 864.11 495.32 L 864.78 495.3 L 865.45 495.35 L 866.13 495.57 L 866.8 495.91 L 867.44 496.34 L 868.03 496.81 L 868.52 497.27 L 868.94 497.75 L 869.32 498.32 L 869.67 498.94 L 870 499.61 L 870.29 500.29 L 870.57 500.98 L 870.82 501.65 L 871.07 502.31 L 871.3 502.98 L 871.52 503.65 L 871.72 504.34 L 871.91 505.02 L 872.09 505.71 L 872.25 506.41 L 872.39 507.1 L 872.53 507.79 L 872.65 508.48 L 872.78 509.18 L 872.89 509.87 L 873 510.57 L 873.11 511.28 L 873.21 511.98 L 873.31 512.68 L 873.4 513.39 L 873.49 514.09 L 873.58 514.8 L 873.66 515.5 L 873.74 516.21 L 873.82 516.91 L 873.89 517.61 L 873.97 518.32 L 874.04 519.02 L 874.12 519.73 L 874.19 520.43 L 874.26 521.14 L 874.33 521.84 L 874.39 522.55 L 874.46 523.26 L 874.51 523.96 L 874.57 524.67 L 874.62 525.38 L 874.67 526.08 L 874.71 526.79 L 874.75 527.5 L 874.79 528.2 L 874.82 528.91 L 874.85 529.62 L 874.88 530.32 L 874.91 531.03 L 874.94 531.74 L 874.96 532.45 L 874.99 533.15 L 875.01 533.86 L 875.03 534.57 L 875.05 535.28 L 875.07 535.99 L 875.08 536.7 L 875.09 537.41 L 875.1 538.11 L 875.11 538.82" clip-path="url(#p29c4a366c4)" style="fill: none; stroke-dasharray: 4,6.6; stroke-dashoffset: 1.88796; stroke: #d62728; stroke-width: 4"/>
</g>
<g>
<path d="M 876.94 538.82 L 876.95 538.11 L 876.96 537.4 L 876.97 536.69 L 876.98 535.99 L 876.99 535.28 L 877 534.57 L 877.01 533.86 L 877.03 533.15 L 877.04 532.44 L 877.06 531.73 L 877.07 531.02 L 877.09 530.31 L 877.1 529.6 L 877.12 528.89 L 877.14 528.18 L 877.15 527.47 L 877.17 526.76 L 877.19 526.05 L 877.21 525.34 L 877.23 524.63 L 877.25 523.92 L 877.28 523.21 L 877.3 522.5 L 877.32 521.79 L 877.35 521.08 L 877.38 520.38 L 877.41 519.67 L 877.44 518.96 L 877.47 518.25 L 877.5 517.54 L 877.54 516.83 L 877.57 516.13 L 877.62 515.42 L 877.67 514.71 L 877.72 514 L 877.79 513.3 L 877.85 512.59 L 877.92 511.88 L 878 511.18 L 878.07 510.47 L 878.15 509.76 L 878.24 509.06 L 878.32 508.35 L 878.4 507.65 L 878.49 506.95 L 878.57 506.24 L 878.66 505.54 L 878.75 504.83 L 878.84 504.13 L 878.94 503.43 L 879.04 502.72 L 879.15 502.02 L 879.25 501.32 L 879.36 500.62 L 879.48 499.92 L 879.59 499.22 L 879.71 498.52 L 879.82 497.82 L 879.94 497.12 L 880.06 496.42 L 880.19 495.72 L 880.32 495.02 L 880.45 494.33 L 880.58 493.63 L 880.72 492.93 L 880.86 492.24 L 881 491.54 L 881.14 490.85 L 881.29 490.15 L 881.44 489.46 L 881.59 488.76 L 881.74 488.07 L 881.9 487.38 L 882.05 486.68 L 882.21 485.99 L 882.36 485.3 L 882.52 484.61 L 882.68 483.92 L 882.83 483.22 L 882.99 482.53 L 883.15 481.84 L 883.31 481.15 L 883.47 480.45 L 883.63 479.76 L 883.8 479.07 L 883.97 478.38 L 884.14 477.69 L 884.31 477 L 884.49 476.31 L 884.67 475.62 L 884.85 474.94 L 885.04 474.26 L 885.24 473.58 L 885.44 472.9 L 885.64 472.22 L 885.86 471.55 L 886.08 470.88 L 886.31 470.21 L 886.55 469.54 L 886.8 468.87 L 887.05 468.2 L 887.31 467.54 L 887.57 466.88 L 887.84 466.22 L 888.12 465.57 L 888.39 464.92 L 888.67 464.26 L 888.95 463.59 L 889.22 462.9 L 889.5 462.2 L 889.79 461.51 L 890.09 460.83 L 890.41 460.19 L 890.75 459.58 L 891.13 459.03 L 891.53 458.54 L 892.01 458.07 L 892.6 457.59 L 893.25 457.14 L 893.93 456.77 L 894.59 456.53 L 895.19 456.48 L 895.78 456.65 L 896.39 457.01 L 896.99 457.51 L 897.55 458.1 L 898.05 458.71 L 898.48 459.31 L 898.82 459.86 L 899.13 460.45 L 899.42 461.07 L 899.7 461.73 L 899.95 462.41 L 900.19 463.1 L 900.41 463.81 L 900.61 464.52 L 900.79 465.24 L 900.96 465.94 L 901.11 466.63 L 901.25 467.32 L 901.39 468.01 L 901.52 468.7 L 901.63 469.4 L 901.75 470.1 L 901.85 470.8 L 901.96 471.51 L 902.05 472.21 L 902.15 472.92 L 902.24 473.63 L 902.33 474.34 L 902.41 475.04 L 902.5 475.75 L 902.58 476.46 L 902.66 477.16 L 902.75 477.86 L 902.83 478.57 L 902.91 479.27 L 902.99 479.98 L 903.06 480.69 L 903.14 481.39 L 903.21 482.1 L 903.28 482.81 L 903.34 483.51 L 903.41 484.22 L 903.46 484.93 L 903.52 485.63 L 903.57 486.34 L 903.61 487.05 L 903.66 487.76 L 903.7 488.46 L 903.74 489.17 L 903.78 489.88 L 903.82 490.59 L 903.85 491.3 L 903.89 492.01 L 903.92 492.72 L 903.96 493.42 L 903.99 494.13 L 904.02 494.84 L 904.05 495.55 L 904.08 496.26 L 904.11 496.97 L 904.14 497.68 L 904.16 498.39 L 904.19 499.1 L 904.22 499.81 L 904.25 500.52 L 904.27 501.23 L 904.3 501.94 L 904.32 502.64 L 904.35 503.35 L 904.38 504.06 L 904.4 504.77 L 904.42 505.48 L 904.45 506.19 L 904.47 506.9 L 904.49 507.61 L 904.52 508.32 L 904.54 509.03 L 904.56 509.74 L 904.58 510.45 L 904.6 511.16 L 904.62 511.86 L 904.64 512.57 L 904.66 513.28 L 904.68 513.99 L 904.7 514.7 L 904.72 515.41 L 904.74 516.12 L 904.76 516.83 L 904.78 517.54 L 904.8 518.25 L 904.82 518.96 L 904.84 519.67 L 904.85 520.38 L 904.87 521.09 L 904.89 521.8 L 904.91 522.51 L 904.92 523.21 L 904.94 523.92 L 904.96 524.63 L 904.97 525.34 L 904.99 526.05 L 905.01 526.76 L 905.02 527.47 L 905.04 528.18 L 905.05 528.89 L 905.06 529.6 L 905.08 530.31 L 905.09 531.02 L 905.11 531.73 L 905.12 532.44 L 905.13 533.15 L 905.14 533.86 L 905.16 534.57 L 905.17 535.28 L 905.18 535.99 L 905.19 536.69 L 905.2 537.4 L 905.21 538.11 L 905.22 538.82" clip-path="url(#p29c4a366c4)" style="fill: none; stroke: #d62728; stroke-width: 3; stroke-linecap: square"/>
</g>
<g>
<path d="M 905.98 538.82 L 905.98 538.11 L 905.98 537.4 L 905.98 536.69 L 905.98 535.97 L 905.98 535.26 L 905.98 534.55 L 905.98 533.84 L 905.99 533.12 L 905.99 532.41 L 905.99 531.7 L 906 530.99 L 906 530.27 L 906 529.56 L 906.01 528.85 L 906.01 528.14 L 906.02 527.43 L 906.02 526.71 L 906.03 526 L 906.03 525.29 L 906.04 524.58 L 906.04 523.86 L 906.05 523.15 L 906.05 522.44 L 906.06 521.73 L 906.07 521.02 L 906.07 520.3 L 906.08 519.59 L 906.09 518.88 L 906.11 518.17 L 906.12 517.45 L 906.14 516.74 L 906.16 516.03 L 906.18 515.32 L 906.2 514.61 L 906.23 513.89 L 906.25 513.18 L 906.27 512.47 L 906.29 511.76 L 906.31 511.05 L 906.33 510.33 L 906.35 509.62 L 906.37 508.91 L 906.38 508.2 L 906.4 507.49 L 906.42 506.77 L 906.43 506.06 L 906.45 505.35 L 906.47 504.64 L 906.48 503.92 L 906.5 503.21 L 906.52 502.5 L 906.53 501.79 L 906.55 501.08 L 906.56 500.36 L 906.58 499.65 L 906.59 498.94 L 906.6 498.23 L 906.62 497.51 L 906.63 496.8 L 906.64 496.09 L 906.65 495.38 L 906.66 494.67 L 906.68 493.95 L 906.69 493.24 L 906.7 492.53 L 906.71 491.82 L 906.72 491.1 L 906.74 490.39 L 906.75 489.68 L 906.76 488.97 L 906.78 488.26 L 906.79 487.54 L 906.81 486.83 L 906.82 486.12 L 906.83 485.4 L 906.85 484.69 L 906.86 483.98 L 906.88 483.26 L 906.89 482.55 L 906.91 481.84 L 906.93 481.13 L 906.95 480.41 L 906.97 479.7 L 907 478.99 L 907.03 478.28 L 907.06 477.57 L 907.09 476.87 L 907.15 476.16 L 907.21 475.45 L 907.29 474.74 L 907.37 474.03 L 907.47 473.32 L 907.58 472.61 L 907.69 471.91 L 907.81 471.2 L 907.94 470.5 L 908.07 469.79 L 908.21 469.09 L 908.34 468.4 L 908.48 467.7 L 908.62 467.01 L 908.79 466.32 L 908.97 465.64 L 909.17 464.96 L 909.39 464.28 L 909.62 463.6 L 909.85 462.93 L 910.09 462.25 L 910.33 461.58 L 910.57 460.9 L 910.81 460.22 L 911.03 459.55 L 911.25 458.87 L 911.45 458.18 L 911.63 457.5 L 911.79 456.8 L 911.94 456.1 L 912.08 455.4 L 912.22 454.7 L 912.35 453.99 L 912.47 453.28 L 912.6 452.57 L 912.73 451.87 L 912.86 451.16 L 913 450.46 L 913.14 449.77 L 913.3 449.08 L 913.47 448.39 L 913.66 447.72 L 913.87 447.05 L 914.1 446.39 L 914.37 445.74 L 914.67 445.09 L 914.98 444.44 L 915.32 443.8 L 915.67 443.17 L 916.03 442.55 L 916.39 441.93 L 916.76 441.32 L 917.14 440.73 L 917.54 440.14 L 917.96 439.56 L 918.39 439 L 918.84 438.44 L 919.29 437.88" clip-path="url(#p29c4a366c4)" style="fill: none; stroke-dasharray: 4,6.6; stroke-dashoffset: 4.508993; stroke: #d62728; stroke-width: 4"/>
</g>
<g>
<path d="M 564.71 318.59 L 565.37 318.82 L 566.04 319.06 L 566.71 319.28 L 567.38 319.51 L 568.05 319.73 L 568.73 319.95 L 569.4 320.16 L 570.08 320.36 L 570.75 320.57 L 571.43 320.77 L 572.11 320.96 L 572.79 321.15 L 573.47 321.34 L 574.15 321.53 L 574.84 321.72 L 575.52 321.9 L 576.21 322.08 L 576.89 322.25 L 577.58 322.41 L 578.27 322.57 L 578.96 322.72 L 579.65 322.86 L 580.34 322.99 L 581.04 323.11 L 581.74 323.22 L 582.43 323.33 L 583.13 323.44 L 583.83 323.54 L 584.53 323.64 L 585.23 323.74 L 585.93 323.83 L 586.64 323.93 L 587.34 324.03 L 588.04 324.13 L 588.74 324.23 L 589.44 324.34 L 590.13 324.45 L 590.83 324.56 L 591.53 324.67 L 592.23 324.77 L 592.93 324.88 L 593.63 324.99 L 594.33 325.1 L 595.03 325.22 L 595.72 325.33 L 596.42 325.45 L 597.12 325.57 L 597.81 325.7 L 598.51 325.83 L 599.2 325.97 L 599.89 326.11 L 600.58 326.25 L 601.27 326.4 L 601.97 326.56 L 602.66 326.72 L 603.35 326.89 L 604.03 327.07 L 604.72 327.26 L 605.39 327.45 L 606.07 327.65 L 606.74 327.86 L 607.4 328.09 L 608.06 328.34 L 608.71 328.61 L 609.35 328.89 L 610 329.19 L 610.64 329.5 L 611.28 329.8 L 611.92 330.11 L 612.56 330.42 L 613.2 330.72 L 613.85 331.01 L 614.5 331.29 L 615.15 331.56 L 615.81 331.82 L 616.47 332.08 L 617.12 332.33 L 617.79 332.58 L 618.45 332.83 L 619.11 333.08 L 619.77 333.32 L 620.44 333.56 L 621.11 333.8 L 621.78 334.03 L 622.44 334.26 L 623.11 334.48 L 623.78 334.72 L 624.45 334.95 L 625.13 335.19 L 625.8 335.41 L 626.47 335.63 L 627.15 335.83 L 627.83 336 L 628.52 336.15 L 629.21 336.28 L 629.9 336.41 L 630.6 336.53 L 631.31 336.64 L 632.01 336.74 L 632.72 336.81 L 633.42 336.84 L 634.12 336.84 L 634.83 336.82 L 635.53 336.78 L 636.24 336.72 L 636.94 336.66 L 637.65 336.58 L 638.35 336.5 L 639.06 336.43 L 639.76 336.36 L 640.47 336.29 L 641.18 336.24 L 641.88 336.2 L 642.58 336.19 L 643.29 336.2 L 643.99 336.22 L 644.7 336.27 L 645.4 336.33 L 646.11 336.4 L 646.81 336.48 L 647.52 336.57 L 648.22 336.66 L 648.92 336.75 L 649.62 336.83 L 650.32 336.92 L 651.03 337 L 651.73 337.09 L 652.43 337.18 L 653.13 337.28 L 653.84 337.38 L 654.53 337.49 L 655.23 337.6 L 655.93 337.73 L 656.62 337.86 L 657.31 338 L 657.99 338.18 L 658.67 338.37 L 659.34 338.58 L 660.02 338.8 L 660.7 339.02 L 661.37 339.22 L 662.06 339.41 L 662.74 339.58 L 663.43 339.73 L 664.12 339.89 L 664.81 340.05 L 665.51 340.2 L 666.21 340.33 L 666.9 340.45 L 667.6 340.55 L 668.3 340.63 L 669 340.67 L 669.71 340.71 L 670.41 340.74 L 671.12 340.77 L 671.83 340.8 L 672.54 340.82 L 673.24 340.83 L 673.95 340.84 L 674.66 340.85 L 675.36 340.84 L 676.07 340.82 L 676.78 340.79 L 677.48 340.75 L 678.19 340.71 L 678.89 340.65 L 679.6 340.59 L 680.3 340.53 L 681.01 340.47 L 681.71 340.41 L 682.42 340.35 L 683.12 340.29 L 683.83 340.24 L 684.53 340.2 L 685.24 340.16 L 685.95 340.13 L 686.65 340.09 L 687.36 340.05 L 688.06 340.01 L 688.77 339.97 L 689.48 339.94 L 690.18 339.91 L 690.89 339.89 L 691.6 339.87 L 692.3 339.86 L 693.01 339.86 L 693.71 339.87 L 694.42 339.9 L 695.12 339.93 L 695.83 339.98 L 696.53 340.03 L 697.24 340.09 L 697.94 340.15 L 698.65 340.22 L 699.35 340.28 L 700.06 340.35 L 700.76 340.41 L 701.47 340.47 L 702.17 340.53 L 702.88 340.57 L 703.59 340.62 L 704.29 340.67 L 705 340.73 L 705.7 340.78 L 706.41 340.83 L 707.11 340.89 L 707.82 340.93 L 708.52 340.98 L 709.23 341.02 L 709.94 341.05 L 710.64 341.07 L 711.35 341.08 L 712.05 341.08 L 712.76 341.07 L 713.47 341.05 L 714.17 341.02 L 714.88 340.98 L 715.58 340.94 L 716.29 340.89 L 717 340.84 L 717.7 340.79 L 718.41 340.74 L 719.11 340.7 L 719.82 340.66 L 720.52 340.61 L 721.23 340.57 L 721.94 340.52 L 722.64 340.47 L 723.35 340.41 L 724.05 340.36 L 724.76 340.31 L 725.46 340.26 L 726.17 340.21 L 726.87 340.17 L 727.58 340.13 L 728.28 340.1 L 728.99 340.07 L 729.7 340.05 L 730.4 340.03 L 731.11 340.02 L 731.82 340.01 L 732.52 339.99 L 733.23 339.98 L 733.94 339.97 L 734.64 339.96 L 735.35 339.95 L 736.06 339.94 L 736.76 339.93 L 737.47 339.93 L 738.18 339.92 L 738.88 339.91 L 739.59 339.9 L 740.3 339.9 L 741 339.89 L 741.71 339.88 L 742.42 339.88 L 743.13 339.87 L 743.83 339.87 L 744.54 339.86 L 745.25 339.85 L 745.95 339.85 L 746.66 339.84 L 747.37 339.84 L 748.07 339.83 L 748.78 339.82 L 749.49 339.82 L 750.19 339.81 L 750.9 339.81 L 751.61 339.8 L 752.31 339.8 L 753.02 339.79 L 753.73 339.79 L 754.44 339.78 L 755.14 339.78 L 755.85 339.77 L 756.56 339.77 L 757.26 339.77 L 757.97 339.77 L 758.68 339.77 L 759.38 339.76 L 760.09 339.77 L 760.8 339.77 L 761.5 339.78 L 762.21 339.79 L 762.92 339.8 L 763.63 339.81 L 764.33 339.82 L 765.04 339.84 L 765.75 339.85 L 766.45 339.85 L 767.16 339.86 L 767.86 339.86 L 768.57 339.83 L 769.27 339.78 L 769.98 339.71 L 770.68 339.63 L 771.38 339.53 L 772.09 339.43 L 772.79 339.33 L 773.49 339.23 L 774.19 339.13 L 774.9 339.04 L 775.6 338.97 L 776.3 338.91 L 777.01 338.88 L 777.71 338.87 L 778.42 338.87 L 779.12 338.88 L 779.83 338.89 L 780.54 338.9 L 781.24 338.91 L 781.95 338.93 L 782.66 338.95 L 783.36 338.97 L 784.07 339 L 784.78 339.02 L 785.48 339.05 L 786.19 339.08 L 786.9 339.11 L 787.6 339.14 L 788.31 339.18 L 789.02 339.21 L 789.73 339.25 L 790.43 339.28 L 791.14 339.32 L 791.84 339.35 L 792.55 339.39 L 793.25 339.43 L 793.96 339.47 L 794.66 339.52 L 795.37 339.58 L 796.07 339.64 L 796.77 339.7 L 797.48 339.77 L 798.18 339.84 L 798.88 339.91 L 799.59 339.99 L 800.29 340.06 L 800.99 340.14 L 801.7 340.22 L 802.4 340.3 L 803.1 340.38 L 803.81 340.46 L 804.51 340.53 L 805.21 340.61 L 805.92 340.69 L 806.62 340.76 L 807.32 340.83 L 808.03 340.9 L 808.73 340.97 L 809.43 341.04 L 810.14 341.12 L 810.84 341.2 L 811.54 341.28 L 812.25 341.35 L 812.95 341.43 L 813.65 341.51 L 814.36 341.59 L 815.06 341.66 L 815.76 341.73 L 816.47 341.8 L 817.17 341.86 L 817.88 341.91 L 818.58 341.97 L 819.28 342.01 L 819.99 342.05 L 820.69 342.08 L 821.4 342.1 L 822.11 342.12 L 822.81 342.14 L 823.52 342.16 L 824.22 342.18 L 824.93 342.2 L 825.64 342.21 L 826.34 342.23 L 827.05 342.24 L 827.76 342.26 L 828.47 342.27 L 829.17 342.28 L 829.88 342.3 L 830.59 342.31 L 831.29 342.32 L 832 342.34 L 832.71 342.36 L 833.42 342.37 L 834.13 342.38 L 834.83 342.4 L 835.55 342.41 L 836.26 342.42 L 836.97 342.43 L 837.68 342.44 L 838.39 342.46 L 839.09 342.47 L 839.8 342.49 L 840.5 342.51 L 841.21 342.53 L 841.9 342.56 L 842.6 342.59 L 843.29 342.67 L 843.98 342.8 L 844.66 342.98 L 845.35 343.19 L 846.03 343.41 L 846.71 343.63 L 847.39 343.82 L 848.08 344.01 L 848.79 344.22 L 849.49 344.45 L 850.2 344.67 L 850.9 344.89 L 851.6 345.08 L 852.28 345.23 L 852.93 345.33 L 853.57 345.36 L 854.17 345.25 L 854.76 344.96 L 855.33 344.53 L 855.89 344.01 L 856.44 343.45 L 856.98 342.89 L 857.52 342.38 L 858.05 341.92 L 858.59 341.45 L 859.12 340.98 L 859.64 340.49 L 860.16 340 L 860.67 339.5 L 861.16 338.99 L 861.63 338.46 L 862.09 337.93 L 862.52 337.39 L 862.93 336.82 L 863.3 336.22 L 863.65 335.6 L 863.99 334.97 L 864.32 334.34 L 864.67 333.71 L 865.04 333.11 L 865.43 332.53 L 865.86 331.97 L 866.32 331.37 L 866.79 330.77 L 867.3 330.22 L 867.83 329.76 L 868.38 329.43 L 868.98 329.24 L 869.63 329.07 L 870.33 328.92 L 871.06 328.78 L 871.8 328.68 L 872.53 328.61 L 873.24 328.57 L 873.92 328.59 L 874.6 328.73 L 875.29 328.99 L 875.95 329.33 L 876.59 329.71 L 877.19 330.1 L 877.73 330.48 L 878.25 330.91 L 878.74 331.4 L 879.22 331.93 L 879.67 332.49 L 880.11 333.09 L 880.52 333.7 L 880.91 334.32 L 881.29 334.93 L 881.64 335.53 L 881.97 336.14 L 882.3 336.76 L 882.61 337.4 L 882.91 338.04 L 883.2 338.7 L 883.47 339.36 L 883.74 340.02 L 883.99 340.69 L 884.23 341.36 L 884.46 342.03 L 884.67 342.69 L 884.88 343.36 L 885.08 344.04 L 885.28 344.72 L 885.46 345.4 L 885.64 346.09 L 885.82 346.78 L 885.98 347.47 L 886.14 348.16 L 886.29 348.85 L 886.43 349.55 L 886.57 350.24 L 886.7 350.93 L 886.82 351.63 L 886.94 352.32 L 887.06 353.02 L 887.18 353.72 L 887.29 354.42 L 887.4 355.12 L 887.5 355.82 L 887.6 356.52 L 887.69 357.22 L 887.78 357.92 L 887.86 358.62 L 887.94 359.33 L 888.01 360.03 L 888.08 360.73 L 888.14 361.44 L 888.2 362.14 L 888.26 362.84 L 888.31 363.55 L 888.37 364.25 L 888.42 364.96 L 888.46 365.66 L 888.51 366.37 L 888.55 367.08 L 888.6 367.78 L 888.64 368.49 L 888.68 369.19 L 888.72 369.9 L 888.77 370.61 L 888.81 371.31 L 888.85 372.02 L 888.9 372.72 L 888.94 373.43 L 888.99 374.13 L 889.03 374.84 L 889.07 375.55 L 889.11 376.25 L 889.15 376.96 L 889.19 377.66 L 889.23 378.37 L 889.26 379.08 L 889.29 379.78 L 889.32 380.49 L 889.34 381.19 L 889.36 381.9 L 889.37 382.61 L 889.38 383.31 L 889.39 384.02 L 889.4 384.73 L 889.41 385.43 L 889.42 386.14 L 889.43 386.85 L 889.44 387.55 L 889.45 388.26 L 889.45 388.97 L 889.46 389.67 L 889.47 390.38 L 889.47 391.09 L 889.48 391.79 L 889.49 392.5 L 889.49 393.21 L 889.5 393.91 L 889.5 394.62 L 889.51 395.33 L 889.51 396.04 L 889.52 396.74 L 889.52 397.45 L 889.53 398.16 L 889.53 398.86 L 889.54 399.57 L 889.54 400.28 L 889.54 400.98 L 889.55 401.69 L 889.55 402.4 L 889.56 403.11 L 889.56 403.81 L 889.57 404.52 L 889.57 405.23 L 889.57 405.93 L 889.58 406.64 L 889.58 407.35 L 889.59 408.05 L 889.59 408.76 L 889.6 409.47 L 889.6 410.17 L 889.61 410.88 L 889.61 411.59 L 889.61 412.29 L 889.62 413 L 889.62 413.71 L 889.63 414.41 L 889.63 415.12 L 889.63 415.83 L 889.64 416.54 L 889.64 417.24 L 889.65 417.95 L 889.65 418.66 L 889.65 419.36 L 889.66 420.07 L 889.66 420.78 L 889.67 421.48 L 889.67 422.19 L 889.67 422.9 L 889.68 423.6 L 889.68 424.31 L 889.68 425.02 L 889.69 425.72 L 889.69 426.43 L 889.69 427.14 L 889.7 427.85 L 889.7 428.55 L 889.7 429.26 L 889.71 429.97 L 889.71 430.67 L 889.71 431.38 L 889.72 432.09 L 889.72 432.79 L 889.72 433.5 L 889.73 434.21 L 889.73 434.91 L 889.73 435.62 L 889.73 436.33 L 889.74 437.03 L 889.74 437.74 L 889.74 438.45 L 889.75 439.16 L 889.75 439.86 L 889.75 440.57 L 889.75 441.28 L 889.76 441.98 L 889.76 442.69 L 889.76 443.4 L 889.76 444.1 L 889.76 444.81 L 889.77 445.52 L 889.77 446.22 L 889.77 446.93 L 889.77 447.64 L 889.77 448.34 L 889.77 449.05 L 889.78 449.76 L 889.78 450.46 L 889.78 451.17 L 889.78 451.88 L 889.78 452.59 L 889.78 453.29 L 889.78 454 L 889.79 454.71 L 889.79 455.41 L 889.79 456.12 L 889.79 456.83 L 889.79 457.53 L 889.79 458.24 L 889.79 458.95 L 889.79 459.65 L 889.79 460.36 L 889.79 461.07 L 889.79 461.77 L 889.79 462.48 L 889.79 463.19 L 889.8 463.9 L 889.8 464.6 L 889.8 465.31 L 889.8 466.02 L 889.8 466.72 L 889.8 467.43 L 889.8 468.14 L 889.8 468.84 L 889.8 469.55 L 889.8 470.26 L 889.8 470.96 L 889.8 471.67 L 889.8 472.38 L 889.8 473.08 L 889.8 473.79 L 889.81 474.5 L 889.81 475.21 L 889.81 475.91 L 889.81 476.62 L 889.81 477.33 L 889.81 478.03 L 889.81 478.74 L 889.81 479.45 L 889.81 480.15 L 889.81 480.86 L 889.81 481.57 L 889.81 482.27 L 889.81 482.98 L 889.81 483.69 L 889.81 484.39 L 889.81 485.1 L 889.81 485.81 L 889.82 486.52 L 889.82 487.22 L 889.82 487.93 L 889.82 488.64 L 889.82 489.34 L 889.82 490.05 L 889.82 490.76 L 889.82 491.46 L 889.82 492.17 L 889.82 492.88 L 889.82 493.58 L 889.82 494.29 L 889.82 495 L 889.82 495.7 L 889.82 496.41 L 889.82 497.12 L 889.82 497.83 L 889.82 498.53 L 889.82 499.24 L 889.82 499.95 L 889.82 500.65 L 889.82 501.36 L 889.83 502.07 L 889.83 502.77 L 889.83 503.48 L 889.83 504.19 L 889.83 504.89 L 889.83 505.6 L 889.83 506.31 L 889.83 507.01 L 889.83 507.72 L 889.83 508.43 L 889.83 509.13 L 889.83 509.84 L 889.83 510.55 L 889.83 511.26 L 889.83 511.96 L 889.83 512.67 L 889.83 513.38 L 889.83 514.08 L 889.83 514.79 L 889.83 515.5 L 889.83 516.2 L 889.83 516.91 L 889.83 517.62 L 889.83 518.32 L 889.83 519.03 L 889.83 519.74 L 889.83 520.44 L 889.83 521.15 L 889.83 521.86 L 889.83 522.57 L 889.83 523.27 L 889.83 523.98 L 889.83 524.69 L 889.83 525.39 L 889.83 526.1 L 889.83 526.81 L 889.83 527.51 L 889.83 528.22 L 889.83 528.93 L 889.83 529.63 L 889.83 530.34 L 889.83 531.05 L 889.83 531.75 L 889.83 532.46 L 889.84 533.17 L 889.84 533.88 L 889.84 534.58 L 889.84 535.29 L 889.84 536 L 889.84 536.7 L 889.84 537.41 L 889.84 538.12 L 889.84 538.82" clip-path="url(#p29c4a366c4)" style="fill: none; stroke: #000000; stroke-width: 3; stroke-linecap: square"/>
</g>
<g>
<path d="M 891.62 538.82 L 891.62 538.12 L 891.62 537.41 L 891.62 536.7 L 891.62 535.99 L 891.62 535.29 L 891.62 534.58 L 891.62 533.87 L 891.61 533.16 L 891.61 532.45 L 891.61 531.75 L 891.61 531.04 L 891.61 530.33 L 891.61 529.62 L 891.61 528.92 L 891.61 528.21 L 891.61 527.5 L 891.61 526.79 L 891.6 526.09 L 891.6 525.38 L 891.6 524.67 L 891.6 523.96 L 891.6 523.26 L 891.6 522.55 L 891.6 521.84 L 891.6 521.13 L 891.6 520.42 L 891.6 519.72 L 891.6 519.01 L 891.6 518.3 L 891.6 517.59 L 891.59 516.89 L 891.59 516.18 L 891.59 515.47 L 891.59 514.76 L 891.59 514.06 L 891.59 513.35 L 891.59 512.64 L 891.59 511.93 L 891.59 511.23 L 891.59 510.52 L 891.59 509.81 L 891.59 509.1 L 891.59 508.39 L 891.59 507.69 L 891.59 506.98 L 891.59 506.27 L 891.59 505.56 L 891.59 504.86 L 891.59 504.15 L 891.59 503.44 L 891.58 502.73 L 891.58 502.03 L 891.58 501.32 L 891.58 500.61 L 891.58 499.9 L 891.58 499.2 L 891.58 498.49 L 891.58 497.78 L 891.58 497.07 L 891.58 496.37 L 891.58 495.66 L 891.58 494.95 L 891.58 494.24 L 891.58 493.53 L 891.58 492.83 L 891.58 492.12 L 891.58 491.41 L 891.58 490.7 L 891.58 490 L 891.58 489.29 L 891.58 488.58 L 891.58 487.87 L 891.58 487.17 L 891.58 486.46 L 891.58 485.75 L 891.58 485.04 L 891.58 484.34 L 891.58 483.63 L 891.58 482.92 L 891.58 482.21 L 891.58 481.5 L 891.58 480.8 L 891.58 480.09 L 891.58 479.38 L 891.58 478.67 L 891.58 477.97 L 891.58 477.26 L 891.58 476.55 L 891.58 475.84 L 891.58 475.14 L 891.58 474.43 L 891.58 473.72 L 891.58 473.01 L 891.58 472.31 L 891.58 471.6 L 891.58 470.89 L 891.58 470.18 L 891.58 469.47 L 891.58 468.77 L 891.58 468.06 L 891.58 467.35 L 891.58 466.64 L 891.58 465.94 L 891.58 465.23 L 891.58 464.52 L 891.58 463.81 L 891.58 463.11 L 891.58 462.4 L 891.58 461.69 L 891.58 460.98 L 891.58 460.28 L 891.58 459.57 L 891.58 458.86 L 891.58 458.15 L 891.58 457.44 L 891.58 456.74 L 891.58 456.03 L 891.58 455.32 L 891.58 454.61 L 891.58 453.91 L 891.58 453.2 L 891.58 452.49 L 891.58 451.78 L 891.58 451.08 L 891.58 450.37 L 891.58 449.66 L 891.58 448.95 L 891.59 448.25 L 891.59 447.54 L 891.59 446.83 L 891.59 446.12 L 891.59 445.42 L 891.59 444.71 L 891.6 444 L 891.6 443.29 L 891.6 442.58 L 891.6 441.88 L 891.6 441.17 L 891.61 440.46 L 891.61 439.75 L 891.61 439.05 L 891.61 438.34 L 891.62 437.63 L 891.62 436.92 L 891.62 436.22 L 891.63 435.51 L 891.63 434.8 L 891.63 434.09 L 891.63 433.39 L 891.64 432.68 L 891.64 431.97 L 891.64 431.26 L 891.65 430.55 L 891.65 429.85 L 891.65 429.14 L 891.66 428.43 L 891.66 427.72 L 891.66 427.02 L 891.67 426.31 L 891.67 425.6 L 891.67 424.89 L 891.68 424.19 L 891.68 423.48 L 891.68 422.77 L 891.69 422.06 L 891.69 421.36 L 891.69 420.65 L 891.7 419.94 L 891.7 419.23 L 891.7 418.52 L 891.71 417.82 L 891.71 417.11 L 891.71 416.4 L 891.72 415.69 L 891.72 414.99 L 891.72 414.28 L 891.73 413.57 L 891.73 412.86 L 891.73 412.16 L 891.74 411.45 L 891.74 410.74 L 891.74 410.03 L 891.75 409.33 L 891.75 408.62 L 891.75 407.91 L 891.75 407.2 L 891.76 406.5 L 891.76 405.79 L 891.76 405.08 L 891.77 404.37 L 891.77 403.66 L 891.77 402.96 L 891.77 402.25 L 891.78 401.54 L 891.78 400.83 L 891.78 400.13 L 891.78 399.42 L 891.78 398.71 L 891.79 398 L 891.79 397.29 L 891.79 396.59 L 891.79 395.88 L 891.79 395.17 L 891.79 394.46 L 891.8 393.75 L 891.8 393.05 L 891.8 392.34 L 891.8 391.63 L 891.81 390.92 L 891.81 390.22 L 891.81 389.51 L 891.81 388.8 L 891.82 388.09 L 891.82 387.38 L 891.83 386.68 L 891.83 385.97 L 891.83 385.26 L 891.84 384.56 L 891.84 383.85 L 891.85 383.14 L 891.85 382.43 L 891.86 381.73 L 891.87 381.02 L 891.9 380.31 L 891.93 379.61 L 891.96 378.9 L 892.01 378.2 L 892.06 377.49 L 892.11 376.78 L 892.17 376.08 L 892.22 375.37 L 892.29 374.67 L 892.35 373.96 L 892.41 373.25 L 892.47 372.55 L 892.53 371.84 L 892.58 371.14 L 892.64 370.43 L 892.7 369.73 L 892.75 369.02 L 892.81 368.31 L 892.87 367.61 L 892.93 366.9 L 892.99 366.2 L 893.06 365.49 L 893.12 364.79 L 893.19 364.08 L 893.27 363.38 L 893.34 362.68 L 893.42 361.97 L 893.51 361.27 L 893.59 360.57 L 893.69 359.87 L 893.79 359.17 L 893.9 358.47 L 894.02 357.77 L 894.14 357.07 L 894.26 356.37 L 894.4 355.68 L 894.53 354.98 L 894.68 354.28 L 894.82 353.59 L 894.98 352.9 L 895.13 352.21 L 895.29 351.52 L 895.46 350.84 L 895.63 350.15 L 895.8 349.47 L 895.99 348.79 L 896.19 348.11 L 896.4 347.44 L 896.61 346.76 L 896.84 346.09 L 897.07 345.42 L 897.3 344.75 L 897.55 344.08 L 897.8 343.41 L 898.05 342.75 L 898.3 342.09 L 898.56 341.43 L 898.82 340.77 L 899.09 340.12 L 899.36 339.47 L 899.63 338.82 L 899.92 338.17 L 900.21 337.52 L 900.51 336.88 L 900.81 336.24 L 901.12 335.6 L 901.43 334.97 L 901.75 334.33 L 902.08 333.7 L 902.4 333.07 L 902.73 332.44 L 903.07 331.82 L 903.4 331.2 L 903.74 330.57 L 904.07 329.92 L 904.4 329.24 L 904.72 328.54 L 905.05 327.83 L 905.39 327.11 L 905.73 326.41 L 906.07 325.72 L 906.43 325.05 L 906.8 324.41 L 907.18 323.82 L 907.57 323.27 L 907.99 322.78 L 908.43 322.36 L 908.88 322.01 L 909.37 321.73 L 909.9 321.47 L 910.48 321.24 L 911.1 321.02 L 911.75 320.82 L 912.43 320.63 L 913.14 320.46 L 913.87 320.29 L 914.61 320.13 L 915.35 319.98 L 916.11 319.84 L 916.86 319.69 L 917.6 319.55 L 918.34 319.41 L 919.06 319.26 L 919.75 319.11 L 920.45 318.97 L 921.17 318.85 L 921.89 318.73 L 922.62 318.62 L 923.35 318.51 L 924.08 318.41 L 924.81 318.3 L 925.53 318.19 L 926.24 318.08 L 926.95 317.96 L 927.63 317.83 L 928.3 317.68 L 928.95 317.52 L 929.57 317.34 L 930.17 317.14 L 930.74 316.89 L 931.3 316.57 L 931.85 316.19 L 932.38 315.76 L 932.9 315.28 L 933.41 314.77 L 933.91 314.23 L 934.4 313.67 L 934.88 313.09 L 935.37 312.5 L 935.85 311.91 L 936.33 311.33 L 936.81 310.77 L 937.29 310.22 L 937.77 309.7 L 938.25 309.18 L 938.72 308.66 L 939.19 308.13 L 939.65 307.59 L 940.11 307.05 L 940.57 306.51 L 941.02 305.97 L 941.48 305.43 L 941.93 304.88 L 942.39 304.34 L 942.84 303.8 L 943.31 303.26 L 943.77 302.73 L 944.24 302.2 L 944.71 301.67 L 945.19 301.15 L 945.67 300.63 L 946.15 300.11 L 946.63 299.59 L 947.12 299.08 L 947.61 298.56 L 948.09 298.05 L 948.58 297.54 L 949.08 297.03 L 949.57 296.52 L 950.07 296.02 L 950.56 295.51 L 951.06 295.01 L 951.56 294.51 L 952.06 294.01 L 952.56 293.52 L 953.07 293.02 L 953.58 292.53 L 954.09 292.05 L 954.61 291.56 L 955.13 291.07 L 955.64 290.59 L 956.16 290.11 L 956.68 289.63 L 957.2 289.14 L 957.71 288.66 L 958.23 288.17 L 958.74 287.69 L 959.25 287.2 L 959.77 286.71 L 960.28 286.22 L 960.79 285.73 L 961.3 285.24 L 961.81 284.75 L 962.31 284.26 L 962.82 283.76" clip-path="url(#p29c4a366c4)" style="fill: none; stroke-dasharray: 4,6.6; stroke-dashoffset: 3.87166; stroke: #000000; stroke-width: 4"/>
</g>
<g>
<path d="M 571.67 339.6 L 974.26 339.6" clip-path="url(#p29c4a366c4)" style="fill: none; stroke: #bf00bf; stroke-opacity: 0.5; stroke-width: 3; stroke-linecap: square"/>
</g>
<g>
<path d="M 571.67 531.01 L 571.67 287.86" style="fill: none; stroke: #000000; stroke-linejoin: miter; stroke-linecap: square"/>
</g>
<g>
<path d="M 974.26 531.01 L 974.26 287.86" style="fill: none; stroke: #000000; stroke-linejoin: miter; stroke-linecap: square"/>
</g>
<g>
<path d="M 571.67 531.01 L 974.26 531.01" style="fill: none; stroke: #000000; stroke-linejoin: miter; stroke-linecap: square"/>
</g>
<g>
<path d="M 571.67 287.86 L 974.26 287.86" style="fill: none; stroke: #000000; stroke-linejoin: miter; stroke-linecap: square"/>
</g>
<g>
<text style="font-size: 16px; font-family: 'DejaVu Serif', serif; text-anchor: start" x="579.722353" y="307.311059" transform="rotate(-0 579.722353 307.311059)">(d)</text>
</g>
<g>
<path d="M 820.66 531.01 L 820.66 287.86" clip-path="url(#p29c4a366c4)" style="fill: none; stroke-dasharray: 3.85,1.65; stroke-dashoffset: 0; stroke: #808080; stroke-width: 1.25"/>
</g>
</g>
<g>
<g>
<path d="M 76.38 776.8 L 478.96 776.8 L 478.96 533.55 L 76.38 533.55 z" style="fill: #ffffff"/>
</g>
<g>
<g>
<g>
<g>
<path d="M 0 0 L 0 3.5" transform="translate(111.551108 776.8)" style="stroke: #000000; stroke: #000000"/>
</g>
</g>
<g>
<!-- $\mathdefault{10^{1}}$ -->
<g transform="translate(99.231108 794.673)">
<text>
<tspan x="0" y="-0.640625" style="font-size: 14px; font-family: 'DejaVu Serif'">1</tspan>
<tspan x="8.907227" y="-0.640625" style="font-size: 14px; font-family: 'DejaVu Serif'">0</tspan>
<tspan x="17.941602" y="-5.726562" style="font-size: 9.8px; font-family: 'DejaVu Serif'">1</tspan>
</text>
</g>
</g>
</g>
<g>
<g>
<g>
<path d="M 0 0 L 0 3.5" transform="translate(161.874638 776.8)" style="stroke: #000000; stroke: #000000"/>
</g>
</g>
<g>
<!-- $\mathdefault{10^{2}}$ -->
<g transform="translate(149.554638 794.673)">
<text>
<tspan x="0" y="-0.640625" style="font-size: 14px; font-family: 'DejaVu Serif'">1</tspan>
<tspan x="8.907227" y="-0.640625" style="font-size: 14px; font-family: 'DejaVu Serif'">0</tspan>
<tspan x="17.941602" y="-5.726562" style="font-size: 9.8px; font-family: 'DejaVu Serif'">2</tspan>
</text>
</g>
</g>
</g>
<g>
<g>
<g>
<path d="M 0 0 L 0 3.5" transform="translate(212.198167 776.8)" style="stroke: #000000; stroke: #000000"/>
</g>
</g>
<g>
<!-- $\mathdefault{10^{3}}$ -->
<g transform="translate(199.878167 794.673)">
<text>
<tspan x="0" y="-0.640625" style="font-size: 14px; font-family: 'DejaVu Serif'">1</tspan>
<tspan x="8.907227" y="-0.640625" style="font-size: 14px; font-family: 'DejaVu Serif'">0</tspan>
<tspan x="17.941602" y="-5.726562" style="font-size: 9.8px; font-family: 'DejaVu Serif'">3</tspan>
</text>
</g>
</g>
</g>
<g>
<g>
<g>
<path d="M 0 0 L 0 3.5" transform="translate(262.521696 776.8)" style="stroke: #000000; stroke: #000000"/>
</g>
</g>
<g>
<!-- $\mathdefault{10^{4}}$ -->
<g transform="translate(250.201696 794.673)">
<text>
<tspan x="0" y="-0.640625" style="font-size: 14px; font-family: 'DejaVu Serif'">1</tspan>
<tspan x="8.907227" y="-0.640625" style="font-size: 14px; font-family: 'DejaVu Serif'">0</tspan>
<tspan x="17.941602" y="-5.726562" style="font-size: 9.8px; font-family: 'DejaVu Serif'">4</tspan>
</text>
</g>
</g>
</g>
<g>
<g>
<g>
<path d="M 0 0 L 0 3.5" transform="translate(312.845226 776.8)" style="stroke: #000000; stroke: #000000"/>
</g>
</g>
<g>
<!-- $\mathdefault{10^{5}}$ -->
<g transform="translate(300.525226 794.673)">
<text>
<tspan x="0" y="-0.771875" style="font-size: 14px; font-family: 'DejaVu Serif'">1</tspan>
<tspan x="8.907227" y="-0.771875" style="font-size: 14px; font-family: 'DejaVu Serif'">0</tspan>
<tspan x="17.941602" y="-5.857813" style="font-size: 9.8px; font-family: 'DejaVu Serif'">5</tspan>
</text>
</g>
</g>
</g>
<g>
<g>
<g>
<path d="M 0 0 L 0 3.5" transform="translate(363.168755 776.8)" style="stroke: #000000; stroke: #000000"/>
</g>
</g>
<g>
<!-- $\mathdefault{10^{6}}$ -->
<g transform="translate(350.848755 794.673)">
<text>
<tspan x="0" y="-0.640625" style="font-size: 14px; font-family: 'DejaVu Serif'">1</tspan>
<tspan x="8.907227" y="-0.640625" style="font-size: 14px; font-family: 'DejaVu Serif'">0</tspan>
<tspan x="17.941602" y="-5.726562" style="font-size: 9.8px; font-family: 'DejaVu Serif'">6</tspan>
</text>
</g>
</g>
</g>
<g>
<g>
<g>
<path d="M 0 0 L 0 3.5" transform="translate(413.492285 776.8)" style="stroke: #000000; stroke: #000000"/>
</g>
</g>
<g>
<!-- $\mathdefault{10^{7}}$ -->
<g transform="translate(401.172285 794.673)">
<text>
<tspan x="0" y="-0.771875" style="font-size: 14px; font-family: 'DejaVu Serif'">1</tspan>
<tspan x="8.907227" y="-0.771875" style="font-size: 14px; font-family: 'DejaVu Serif'">0</tspan>
<tspan x="17.941602" y="-5.857813" style="font-size: 9.8px; font-family: 'DejaVu Serif'">7</tspan>
</text>
</g>
</g>
</g>
<g>
<g>
<g>
<path d="M 0 0 L 0 3.5" transform="translate(463.815814 776.8)" style="stroke: #000000; stroke: #000000"/>
</g>
</g>
<g>
<!-- $\mathdefault{10^{8}}$ -->
<g transform="translate(451.495814 794.673)">
<text>
<tspan x="0" y="-0.640625" style="font-size: 14px; font-family: 'DejaVu Serif'">1</tspan>
<tspan x="8.907227" y="-0.640625" style="font-size: 14px; font-family: 'DejaVu Serif'">0</tspan>
<tspan x="17.941602" y="-5.726562" style="font-size: 9.8px; font-family: 'DejaVu Serif'">8</tspan>
</text>
</g>
</g>
</g>
<g>
<g>
<g>
<path d="M 0 0 L 0 2" transform="translate(76.376471 776.8)" style="stroke: #000000; stroke-width: 0.6; stroke: #000000; stroke-width: 0.6"/>
</g>
</g>
</g>
<g>
<g>
<g>
<path d="M 0 0 L 0 2" transform="translate(85.238004 776.8)" style="stroke: #000000; stroke-width: 0.6; stroke: #000000; stroke-width: 0.6"/>
</g>
</g>
</g>
<g>
<g>
<g>
<path d="M 0 0 L 0 2" transform="translate(91.525362 776.8)" style="stroke: #000000; stroke-width: 0.6; stroke: #000000; stroke-width: 0.6"/>
</g>
</g>
</g>
<g>
<g>
<g>
<path d="M 0 0 L 0 2" transform="translate(96.402216 776.8)" style="stroke: #000000; stroke-width: 0.6; stroke: #000000; stroke-width: 0.6"/>
</g>
</g>
</g>
<g>
<g>
<g>
<path d="M 0 0 L 0 2" transform="translate(100.386896 776.8)" style="stroke: #000000; stroke-width: 0.6; stroke: #000000; stroke-width: 0.6"/>
</g>
</g>
</g>
<g>
<g>
<g>
<path d="M 0 0 L 0 2" transform="translate(103.755895 776.8)" style="stroke: #000000; stroke-width: 0.6; stroke: #000000; stroke-width: 0.6"/>
</g>
</g>
</g>
<g>
<g>
<g>
<path d="M 0 0 L 0 2" transform="translate(106.674254 776.8)" style="stroke: #000000; stroke-width: 0.6; stroke: #000000; stroke-width: 0.6"/>
</g>
</g>
</g>
<g>
<g>
<g>
<path d="M 0 0 L 0 2" transform="translate(109.24843 776.8)" style="stroke: #000000; stroke-width: 0.6; stroke: #000000; stroke-width: 0.6"/>
</g>
</g>
</g>
<g>
<g>
<g>
<path d="M 0 0 L 0 2" transform="translate(126.7 776.8)" style="stroke: #000000; stroke-width: 0.6; stroke: #000000; stroke-width: 0.6"/>
</g>
</g>
</g>
<g>
<g>
<g>
<path d="M 0 0 L 0 2" transform="translate(135.561534 776.8)" style="stroke: #000000; stroke-width: 0.6; stroke: #000000; stroke-width: 0.6"/>
</g>
</g>
</g>
<g>
<g>
<g>
<path d="M 0 0 L 0 2" transform="translate(141.848892 776.8)" style="stroke: #000000; stroke-width: 0.6; stroke: #000000; stroke-width: 0.6"/>
</g>
</g>
</g>
<g>
<g>
<g>
<path d="M 0 0 L 0 2" transform="translate(146.725746 776.8)" style="stroke: #000000; stroke-width: 0.6; stroke: #000000; stroke-width: 0.6"/>
</g>
</g>
</g>
<g>
<g>
<g>
<path d="M 0 0 L 0 2" transform="translate(150.710425 776.8)" style="stroke: #000000; stroke-width: 0.6; stroke: #000000; stroke-width: 0.6"/>
</g>
</g>
</g>
<g>
<g>
<g>
<path d="M 0 0 L 0 2" transform="translate(154.079424 776.8)" style="stroke: #000000; stroke-width: 0.6; stroke: #000000; stroke-width: 0.6"/>
</g>
</g>
</g>
<g>
<g>
<g>
<path d="M 0 0 L 0 2" transform="translate(156.997784 776.8)" style="stroke: #000000; stroke-width: 0.6; stroke: #000000; stroke-width: 0.6"/>
</g>
</g>
</g>
<g>
<g>
<g>
<path d="M 0 0 L 0 2" transform="translate(159.571959 776.8)" style="stroke: #000000; stroke-width: 0.6; stroke: #000000; stroke-width: 0.6"/>
</g>
</g>
</g>
<g>
<g>
<g>
<path d="M 0 0 L 0 2" transform="translate(177.023529 776.8)" style="stroke: #000000; stroke-width: 0.6; stroke: #000000; stroke-width: 0.6"/>
</g>
</g>
</g>
<g>
<g>
<g>
<path d="M 0 0 L 0 2" transform="translate(185.885063 776.8)" style="stroke: #000000; stroke-width: 0.6; stroke: #000000; stroke-width: 0.6"/>
</g>
</g>
</g>
<g>
<g>
<g>
<path d="M 0 0 L 0 2" transform="translate(192.172421 776.8)" style="stroke: #000000; stroke-width: 0.6; stroke: #000000; stroke-width: 0.6"/>
</g>
</g>
</g>
<g>
<g>
<g>
<path d="M 0 0 L 0 2" transform="translate(197.049275 776.8)" style="stroke: #000000; stroke-width: 0.6; stroke: #000000; stroke-width: 0.6"/>
</g>
</g>
</g>
<g>
<g>
<g>
<path d="M 0 0 L 0 2" transform="translate(201.033955 776.8)" style="stroke: #000000; stroke-width: 0.6; stroke: #000000; stroke-width: 0.6"/>
</g>
</g>
</g>
<g>
<g>
<g>
<path d="M 0 0 L 0 2" transform="translate(204.402954 776.8)" style="stroke: #000000; stroke-width: 0.6; stroke: #000000; stroke-width: 0.6"/>
</g>
</g>
</g>
<g>
<g>
<g>
<path d="M 0 0 L 0 2" transform="translate(207.321313 776.8)" style="stroke: #000000; stroke-width: 0.6; stroke: #000000; stroke-width: 0.6"/>
</g>
</g>
</g>
<g>
<g>
<g>
<path d="M 0 0 L 0 2" transform="translate(209.895489 776.8)" style="stroke: #000000; stroke-width: 0.6; stroke: #000000; stroke-width: 0.6"/>
</g>
</g>
</g>
<g>
<g>
<g>
<path d="M 0 0 L 0 2" transform="translate(227.347059 776.8)" style="stroke: #000000; stroke-width: 0.6; stroke: #000000; stroke-width: 0.6"/>
</g>
</g>
</g>
<g>
<g>
<g>
<path d="M 0 0 L 0 2" transform="translate(236.208592 776.8)" style="stroke: #000000; stroke-width: 0.6; stroke: #000000; stroke-width: 0.6"/>
</g>
</g>
</g>
<g>
<g>
<g>
<path d="M 0 0 L 0 2" transform="translate(242.495951 776.8)" style="stroke: #000000; stroke-width: 0.6; stroke: #000000; stroke-width: 0.6"/>
</g>
</g>
</g>
<g>
<g>
<g>
<path d="M 0 0 L 0 2" transform="translate(247.372805 776.8)" style="stroke: #000000; stroke-width: 0.6; stroke: #000000; stroke-width: 0.6"/>
</g>
</g>
</g>
<g>
<g>
<g>
<path d="M 0 0 L 0 2" transform="translate(251.357484 776.8)" style="stroke: #000000; stroke-width: 0.6; stroke: #000000; stroke-width: 0.6"/>
</g>
</g>
</g>
<g>
<g>
<g>
<path d="M 0 0 L 0 2" transform="translate(254.726483 776.8)" style="stroke: #000000; stroke-width: 0.6; stroke: #000000; stroke-width: 0.6"/>
</g>
</g>
</g>
<g>
<g>
<g>
<path d="M 0 0 L 0 2" transform="translate(257.644843 776.8)" style="stroke: #000000; stroke-width: 0.6; stroke: #000000; stroke-width: 0.6"/>
</g>
</g>
</g>
<g>
<g>
<g>
<path d="M 0 0 L 0 2" transform="translate(260.219018 776.8)" style="stroke: #000000; stroke-width: 0.6; stroke: #000000; stroke-width: 0.6"/>
</g>
</g>
</g>
<g>
<g>
<g>
<path d="M 0 0 L 0 2" transform="translate(277.670588 776.8)" style="stroke: #000000; stroke-width: 0.6; stroke: #000000; stroke-width: 0.6"/>
</g>
</g>
</g>
<g>
<g>
<g>
<path d="M 0 0 L 0 2" transform="translate(286.532122 776.8)" style="stroke: #000000; stroke-width: 0.6; stroke: #000000; stroke-width: 0.6"/>
</g>
</g>
</g>
<g>
<g>
<g>
<path d="M 0 0 L 0 2" transform="translate(292.81948 776.8)" style="stroke: #000000; stroke-width: 0.6; stroke: #000000; stroke-width: 0.6"/>
</g>
</g>
</g>
<g>
<g>
<g>
<path d="M 0 0 L 0 2" transform="translate(297.696334 776.8)" style="stroke: #000000; stroke-width: 0.6; stroke: #000000; stroke-width: 0.6"/>
</g>
</g>
</g>
<g>
<g>
<g>
<path d="M 0 0 L 0 2" transform="translate(301.681014 776.8)" style="stroke: #000000; stroke-width: 0.6; stroke: #000000; stroke-width: 0.6"/>
</g>
</g>
</g>
<g>
<g>
<g>
<path d="M 0 0 L 0 2" transform="translate(305.050012 776.8)" style="stroke: #000000; stroke-width: 0.6; stroke: #000000; stroke-width: 0.6"/>
</g>
</g>
</g>
<g>
<g>
<g>
<path d="M 0 0 L 0 2" transform="translate(307.968372 776.8)" style="stroke: #000000; stroke-width: 0.6; stroke: #000000; stroke-width: 0.6"/>
</g>
</g>
</g>
<g>
<g>
<g>
<path d="M 0 0 L 0 2" transform="translate(310.542547 776.8)" style="stroke: #000000; stroke-width: 0.6; stroke: #000000; stroke-width: 0.6"/>
</g>
</g>
</g>
<g>
<g>
<g>
<path d="M 0 0 L 0 2" transform="translate(327.994118 776.8)" style="stroke: #000000; stroke-width: 0.6; stroke: #000000; stroke-width: 0.6"/>
</g>
</g>
</g>
<g>
<g>
<g>
<path d="M 0 0 L 0 2" transform="translate(336.855651 776.8)" style="stroke: #000000; stroke-width: 0.6; stroke: #000000; stroke-width: 0.6"/>
</g>
</g>
</g>
<g>
<g>
<g>
<path d="M 0 0 L 0 2" transform="translate(343.143009 776.8)" style="stroke: #000000; stroke-width: 0.6; stroke: #000000; stroke-width: 0.6"/>
</g>
</g>
</g>
<g>
<g>
<g>
<path d="M 0 0 L 0 2" transform="translate(348.019863 776.8)" style="stroke: #000000; stroke-width: 0.6; stroke: #000000; stroke-width: 0.6"/>
</g>
</g>
</g>
<g>
<g>
<g>
<path d="M 0 0 L 0 2" transform="translate(352.004543 776.8)" style="stroke: #000000; stroke-width: 0.6; stroke: #000000; stroke-width: 0.6"/>
</g>
</g>
</g>
<g>
<g>
<g>
<path d="M 0 0 L 0 2" transform="translate(355.373542 776.8)" style="stroke: #000000; stroke-width: 0.6; stroke: #000000; stroke-width: 0.6"/>
</g>
</g>
</g>
<g>
<g>
<g>
<path d="M 0 0 L 0 2" transform="translate(358.291901 776.8)" style="stroke: #000000; stroke-width: 0.6; stroke: #000000; stroke-width: 0.6"/>
</g>
</g>
</g>
<g>
<g>
<g>
<path d="M 0 0 L 0 2" transform="translate(360.866077 776.8)" style="stroke: #000000; stroke-width: 0.6; stroke: #000000; stroke-width: 0.6"/>
</g>
</g>
</g>
<g>
<g>
<g>
<path d="M 0 0 L 0 2" transform="translate(378.317647 776.8)" style="stroke: #000000; stroke-width: 0.6; stroke: #000000; stroke-width: 0.6"/>
</g>
</g>
</g>
<g>
<g>
<g>
<path d="M 0 0 L 0 2" transform="translate(387.179181 776.8)" style="stroke: #000000; stroke-width: 0.6; stroke: #000000; stroke-width: 0.6"/>
</g>
</g>
</g>
<g>
<g>
<g>
<path d="M 0 0 L 0 2" transform="translate(393.466539 776.8)" style="stroke: #000000; stroke-width: 0.6; stroke: #000000; stroke-width: 0.6"/>
</g>
</g>
</g>
<g>
<g>
<g>
<path d="M 0 0 L 0 2" transform="translate(398.343393 776.8)" style="stroke: #000000; stroke-width: 0.6; stroke: #000000; stroke-width: 0.6"/>
</g>
</g>
</g>
<g>
<g>
<g>
<path d="M 0 0 L 0 2" transform="translate(402.328073 776.8)" style="stroke: #000000; stroke-width: 0.6; stroke: #000000; stroke-width: 0.6"/>
</g>
</g>
</g>
<g>
<g>
<g>
<path d="M 0 0 L 0 2" transform="translate(405.697071 776.8)" style="stroke: #000000; stroke-width: 0.6; stroke: #000000; stroke-width: 0.6"/>
</g>
</g>
</g>
<g>
<g>
<g>
<path d="M 0 0 L 0 2" transform="translate(408.615431 776.8)" style="stroke: #000000; stroke-width: 0.6; stroke: #000000; stroke-width: 0.6"/>
</g>
</g>
</g>
<g>
<g>
<g>
<path d="M 0 0 L 0 2" transform="translate(411.189606 776.8)" style="stroke: #000000; stroke-width: 0.6; stroke: #000000; stroke-width: 0.6"/>
</g>
</g>
</g>
<g>
<g>
<g>
<path d="M 0 0 L 0 2" transform="translate(428.641176 776.8)" style="stroke: #000000; stroke-width: 0.6; stroke: #000000; stroke-width: 0.6"/>
</g>
</g>
</g>
<g>
<g>
<g>
<path d="M 0 0 L 0 2" transform="translate(437.50271 776.8)" style="stroke: #000000; stroke-width: 0.6; stroke: #000000; stroke-width: 0.6"/>
</g>
</g>
</g>
<g>
<g>
<g>
<path d="M 0 0 L 0 2" transform="translate(443.790068 776.8)" style="stroke: #000000; stroke-width: 0.6; stroke: #000000; stroke-width: 0.6"/>
</g>
</g>
</g>
<g>
<g>
<g>
<path d="M 0 0 L 0 2" transform="translate(448.666922 776.8)" style="stroke: #000000; stroke-width: 0.6; stroke: #000000; stroke-width: 0.6"/>
</g>
</g>
</g>
<g>
<g>
<g>
<path d="M 0 0 L 0 2" transform="translate(452.651602 776.8)" style="stroke: #000000; stroke-width: 0.6; stroke: #000000; stroke-width: 0.6"/>
</g>
</g>
</g>
<g>
<g>
<g>
<path d="M 0 0 L 0 2" transform="translate(456.020601 776.8)" style="stroke: #000000; stroke-width: 0.6; stroke: #000000; stroke-width: 0.6"/>
</g>
</g>
</g>
<g>
<g>
<g>
<path d="M 0 0 L 0 2" transform="translate(458.93896 776.8)" style="stroke: #000000; stroke-width: 0.6; stroke: #000000; stroke-width: 0.6"/>
</g>
</g>
</g>
<g>
<g>
<g>
<path d="M 0 0 L 0 2" transform="translate(461.513136 776.8)" style="stroke: #000000; stroke-width: 0.6; stroke: #000000; stroke-width: 0.6"/>
</g>
</g>
</g>
<g>
<g>
<g>
<path d="M 0 0 L 0 2" transform="translate(478.964706 776.8)" style="stroke: #000000; stroke-width: 0.6; stroke: #000000; stroke-width: 0.6"/>
</g>
</g>
</g>
<g>
<!-- $r\ [r_g]$ -->
<g transform="translate(256.070588 816.265)">
<text>
<tspan x="0" y="-0.328125" style="font-style: oblique; font-size: 18px; font-family: 'DejaVu Sans'">r</tspan>
<tspan x="20.26752" y="-0.328125" style="font-style: oblique; font-size: 18px; font-family: 'DejaVu Sans'">r</tspan>
<tspan x="13.245059" y="-0.328125" style="font-size: 18px; font-family: 'DejaVu Sans'">[</tspan>
<tspan x="36.158145" y="-0.328125" style="font-size: 18px; font-family: 'DejaVu Sans'">]</tspan>
<tspan x="27.66791" y="2.625" style="font-style: oblique; font-size: 12.6px; font-family: 'DejaVu Sans'">g</tspan>
</text>
</g>
</g>
</g>
<g>
<g>
<g>
<g>
<path d="M 0 0 L -3.5 0" transform="translate(76.376471 776.8)" style="stroke: #000000; stroke: #000000"/>
</g>
</g>
<g>
<!-- $\mathdefault{10^{-2}}$ -->
<g transform="translate(36.016471 782.495)">
<text>
<tspan x="0" y="-0.640625" style="font-size: 14px; font-family: 'DejaVu Serif'">1</tspan>
<tspan x="8.907227" y="-0.640625" style="font-size: 14px; font-family: 'DejaVu Serif'">0</tspan>
<tspan x="17.941602" y="-5.726562" style="font-size: 9.8px; font-family: 'DejaVu Serif'">−</tspan>
<tspan x="26.15293" y="-5.726562" style="font-size: 9.8px; font-family: 'DejaVu Serif'">2</tspan>
</text>
</g>
</g>
</g>
<g>
<g>
<g>
<path d="M 0 0 L -3.5 0" transform="translate(76.376471 695.717647)" style="stroke: #000000; stroke: #000000"/>
</g>
</g>
<g>
<!-- $\mathdefault{10^{-1}}$ -->
<g transform="translate(36.016471 701.413)">
<text>
<tspan x="0" y="-0.640625" style="font-size: 14px; font-family: 'DejaVu Serif'">1</tspan>
<tspan x="8.907227" y="-0.640625" style="font-size: 14px; font-family: 'DejaVu Serif'">0</tspan>
<tspan x="17.941602" y="-5.726562" style="font-size: 9.8px; font-family: 'DejaVu Serif'">−</tspan>
<tspan x="26.15293" y="-5.726562" style="font-size: 9.8px; font-family: 'DejaVu Serif'">1</tspan>
</text>
</g>
</g>
</g>
<g>
<g>
<g>
<path d="M 0 0 L -3.5 0" transform="translate(76.376471 614.635294)" style="stroke: #000000; stroke: #000000"/>
</g>
</g>
<g>
<!-- $\mathdefault{10^{0}}$ -->
<g transform="translate(44.136471 620.331)">
<text>
<tspan x="0" y="-0.640625" style="font-size: 14px; font-family: 'DejaVu Serif'">1</tspan>
<tspan x="8.907227" y="-0.640625" style="font-size: 14px; font-family: 'DejaVu Serif'">0</tspan>
<tspan x="17.941602" y="-5.726562" style="font-size: 9.8px; font-family: 'DejaVu Serif'">0</tspan>
</text>
</g>
</g>
</g>
<g>
<g>
<g>
<path d="M 0 0 L -3.5 0" transform="translate(76.376471 533.552941)" style="stroke: #000000; stroke: #000000"/>
</g>
</g>
<g>
<!-- $\mathdefault{10^{1}}$ -->
<g transform="translate(44.136471 539.248)">
<text>
<tspan x="0" y="-0.640625" style="font-size: 14px; font-family: 'DejaVu Serif'">1</tspan>
<tspan x="8.907227" y="-0.640625" style="font-size: 14px; font-family: 'DejaVu Serif'">0</tspan>
<tspan x="17.941602" y="-5.726562" style="font-size: 9.8px; font-family: 'DejaVu Serif'">1</tspan>
</text>
</g>
</g>
</g>
<g>
<g>
<g>
<path d="M 0 0 L -2 0" transform="translate(76.376471 752.39178)" style="stroke: #000000; stroke-width: 0.6; stroke: #000000; stroke-width: 0.6"/>
</g>
</g>
</g>
<g>
<g>
<g>
<path d="M 0 0 L -2 0" transform="translate(76.376471 738.113886)" style="stroke: #000000; stroke-width: 0.6; stroke: #000000; stroke-width: 0.6"/>
</g>
</g>
</g>
<g>
<g>
<g>
<path d="M 0 0 L -2 0" transform="translate(76.376471 727.983559)" style="stroke: #000000; stroke-width: 0.6; stroke: #000000; stroke-width: 0.6"/>
</g>
</g>
</g>
<g>
<g>
<g>
<path d="M 0 0 L -2 0" transform="translate(76.376471 720.125867)" style="stroke: #000000; stroke-width: 0.6; stroke: #000000; stroke-width: 0.6"/>
</g>
</g>
</g>
<g>
<g>
<g>
<path d="M 0 0 L -2 0" transform="translate(76.376471 713.705666)" style="stroke: #000000; stroke-width: 0.6; stroke: #000000; stroke-width: 0.6"/>
</g>
</g>
</g>
<g>
<g>
<g>
<path d="M 0 0 L -2 0" transform="translate(76.376471 708.277462)" style="stroke: #000000; stroke-width: 0.6; stroke: #000000; stroke-width: 0.6"/>
</g>
</g>
</g>
<g>
<g>
<g>
<path d="M 0 0 L -2 0" transform="translate(76.376471 703.575339)" style="stroke: #000000; stroke-width: 0.6; stroke: #000000; stroke-width: 0.6"/>
</g>
</g>
</g>
<g>
<g>
<g>
<path d="M 0 0 L -2 0" transform="translate(76.376471 699.427772)" style="stroke: #000000; stroke-width: 0.6; stroke: #000000; stroke-width: 0.6"/>
</g>
</g>
</g>
<g>
<g>
<g>
<path d="M 0 0 L -2 0" transform="translate(76.376471 671.309427)" style="stroke: #000000; stroke-width: 0.6; stroke: #000000; stroke-width: 0.6"/>
</g>
</g>
</g>
<g>
<g>
<g>
<path d="M 0 0 L -2 0" transform="translate(76.376471 657.031533)" style="stroke: #000000; stroke-width: 0.6; stroke: #000000; stroke-width: 0.6"/>
</g>
</g>
</g>
<g>
<g>
<g>
<path d="M 0 0 L -2 0" transform="translate(76.376471 646.901206)" style="stroke: #000000; stroke-width: 0.6; stroke: #000000; stroke-width: 0.6"/>
</g>
</g>
</g>
<g>
<g>
<g>
<path d="M 0 0 L -2 0" transform="translate(76.376471 639.043514)" style="stroke: #000000; stroke-width: 0.6; stroke: #000000; stroke-width: 0.6"/>
</g>
</g>
</g>
<g>
<g>
<g>
<path d="M 0 0 L -2 0" transform="translate(76.376471 632.623313)" style="stroke: #000000; stroke-width: 0.6; stroke: #000000; stroke-width: 0.6"/>
</g>
</g>
</g>
<g>
<g>
<g>
<path d="M 0 0 L -2 0" transform="translate(76.376471 627.19511)" style="stroke: #000000; stroke-width: 0.6; stroke: #000000; stroke-width: 0.6"/>
</g>
</g>
</g>
<g>
<g>
<g>
<path d="M 0 0 L -2 0" transform="translate(76.376471 622.492986)" style="stroke: #000000; stroke-width: 0.6; stroke: #000000; stroke-width: 0.6"/>
</g>
</g>
</g>
<g>
<g>
<g>
<path d="M 0 0 L -2 0" transform="translate(76.376471 618.345419)" style="stroke: #000000; stroke-width: 0.6; stroke: #000000; stroke-width: 0.6"/>
</g>
</g>
</g>
<g>
<g>
<g>
<path d="M 0 0 L -2 0" transform="translate(76.376471 590.227074)" style="stroke: #000000; stroke-width: 0.6; stroke: #000000; stroke-width: 0.6"/>
</g>
</g>
</g>
<g>
<g>
<g>
<path d="M 0 0 L -2 0" transform="translate(76.376471 575.94918)" style="stroke: #000000; stroke-width: 0.6; stroke: #000000; stroke-width: 0.6"/>
</g>
</g>
</g>
<g>
<g>
<g>
<path d="M 0 0 L -2 0" transform="translate(76.376471 565.818853)" style="stroke: #000000; stroke-width: 0.6; stroke: #000000; stroke-width: 0.6"/>
</g>
</g>
</g>
<g>
<g>
<g>
<path d="M 0 0 L -2 0" transform="translate(76.376471 557.961162)" style="stroke: #000000; stroke-width: 0.6; stroke: #000000; stroke-width: 0.6"/>
</g>
</g>
</g>
<g>
<g>
<g>
<path d="M 0 0 L -2 0" transform="translate(76.376471 551.54096)" style="stroke: #000000; stroke-width: 0.6; stroke: #000000; stroke-width: 0.6"/>
</g>
</g>
</g>
<g>
<g>
<g>
<path d="M 0 0 L -2 0" transform="translate(76.376471 546.112757)" style="stroke: #000000; stroke-width: 0.6; stroke: #000000; stroke-width: 0.6"/>
</g>
</g>
</g>
<g>
<g>
<g>
<path d="M 0 0 L -2 0" transform="translate(76.376471 541.410633)" style="stroke: #000000; stroke-width: 0.6; stroke: #000000; stroke-width: 0.6"/>
</g>
</g>
</g>
<g>
<g>
<g>
<path d="M 0 0 L -2 0" transform="translate(76.376471 537.263066)" style="stroke: #000000; stroke-width: 0.6; stroke: #000000; stroke-width: 0.6"/>
</g>
</g>
</g>
<g>
<!-- $\langle\beta^{-1}\rangle^{-1}$ -->
<g transform="translate(28.236471 688.223) rotate(-90)">
<text>
<tspan x="0" y="-0.921875" style="font-size: 18px; font-family: 'DejaVu Sans'">⟨</tspan>
<tspan x="38.933223" y="-0.921875" style="font-size: 18px; font-family: 'DejaVu Sans'">⟩</tspan>
<tspan x="7.022461" y="-0.921875" style="font-style: oblique; font-size: 18px; font-family: 'DejaVu Sans'">β</tspan>
<tspan x="19.867109" y="-7.8125" style="font-size: 12.6px; font-family: 'DejaVu Sans'">−</tspan>
<tspan x="30.424531" y="-7.8125" style="font-size: 12.6px; font-family: 'DejaVu Sans'">1</tspan>
<tspan x="46.127949" y="-7.8125" style="font-size: 12.6px; font-family: 'DejaVu Sans'">−</tspan>
<tspan x="56.685371" y="-7.8125" style="font-size: 12.6px; font-family: 'DejaVu Sans'">1</tspan>
</text>
</g>
</g>
</g>
<g>
<path d="M 78.12 782.12 L 78.34 781.45 L 78.56 780.78 L 78.79 780.1 L 79.02 779.43 L 79.24 778.77 L 79.47 778.1 L 79.71 777.43 L 79.94 776.76 L 80.18 776.1 L 80.42 775.43 L 80.66 774.77 L 80.91 774.1 L 81.16 773.44 L 81.41 772.78 L 81.66 772.12 L 81.92 771.46 L 82.17 770.8 L 82.43 770.14 L 82.69 769.48 L 82.94 768.82 L 83.2 768.16 L 83.46 767.5 L 83.71 766.84 L 83.97 766.18 L 84.22 765.52 L 84.47 764.86 L 84.72 764.2 L 84.97 763.54 L 85.21 762.87 L 85.45 762.21 L 85.69 761.54 L 85.92 760.88 L 86.16 760.21 L 86.39 759.54 L 86.62 758.87 L 86.85 758.21 L 87.08 757.54 L 87.31 756.87 L 87.54 756.2 L 87.76 755.53 L 87.99 754.86 L 88.21 754.19 L 88.44 753.51 L 88.66 752.84 L 88.88 752.17 L 89.1 751.5 L 89.32 750.83 L 89.53 750.15 L 89.75 749.48 L 89.96 748.8 L 90.18 748.13 L 90.39 747.46 L 90.6 746.78 L 90.81 746.11 L 91.02 745.43 L 91.23 744.76 L 91.43 744.08 L 91.64 743.4 L 91.84 742.72 L 92.04 742.05 L 92.24 741.37 L 92.44 740.69 L 92.64 740.01 L 92.84 739.33 L 93.04 738.65 L 93.23 737.97 L 93.43 737.29 L 93.63 736.61 L 93.82 735.93 L 94.02 735.25 L 94.21 734.57 L 94.4 733.89 L 94.6 733.21 L 94.79 732.53 L 94.99 731.85 L 95.18 731.17 L 95.37 730.49 L 95.57 729.81 L 95.76 729.13 L 95.96 728.45 L 96.15 727.77 L 96.35 727.09 L 96.54 726.41 L 96.73 725.73 L 96.93 725.05 L 97.12 724.37 L 97.31 723.69 L 97.5 723.01 L 97.69 722.33 L 97.89 721.65 L 98.08 720.97 L 98.27 720.29 L 98.46 719.61 L 98.65 718.92 L 98.84 718.24 L 99.03 717.56 L 99.22 716.88 L 99.41 716.2 L 99.59 715.52 L 99.78 714.84 L 99.97 714.15 L 100.16 713.47 L 100.34 712.79 L 100.53 712.11 L 100.72 711.43 L 100.9 710.74 L 101.09 710.06 L 101.28 709.38 L 101.46 708.7 L 101.65 708.01 L 101.84 707.33 L 102.02 706.65 L 102.21 705.97 L 102.39 705.28 L 102.58 704.6 L 102.76 703.92 L 102.95 703.23 L 103.13 702.55 L 103.31 701.87 L 103.49 701.18 L 103.67 700.5 L 103.85 699.82 L 104.02 699.13 L 104.2 698.45 L 104.37 697.76 L 104.54 697.07 L 104.71 696.39 L 104.88 695.7 L 105.05 695.01 L 105.22 694.33 L 105.38 693.64 L 105.55 692.95 L 105.71 692.26 L 105.87 691.58 L 106.03 690.89 L 106.19 690.2 L 106.35 689.51 L 106.51 688.82 L 106.67 688.13 L 106.82 687.44 L 106.98 686.75 L 107.14 686.06 L 107.29 685.37 L 107.45 684.68 L 107.6 683.99 L 107.76 683.3 L 107.91 682.61 L 108.06 681.92 L 108.22 681.23 L 108.37 680.54 L 108.53 679.85 L 108.68 679.16 L 108.83 678.47 L 108.98 677.78 L 109.13 677.09 L 109.28 676.39 L 109.44 675.7 L 109.58 675.01 L 109.73 674.32 L 109.88 673.63 L 110.03 672.94 L 110.18 672.25 L 110.32 671.55 L 110.47 670.86 L 110.61 670.17 L 110.76 669.48 L 110.9 668.78 L 111.04 668.09 L 111.18 667.4 L 111.32 666.7 L 111.45 666.01 L 111.59 665.32 L 111.72 664.62 L 111.85 663.93 L 111.99 663.23 L 112.12 662.54 L 112.25 661.84 L 112.38 661.15 L 112.51 660.45 L 112.64 659.76 L 112.77 659.06 L 112.9 658.37 L 113.03 657.67 L 113.16 656.98 L 113.3 656.28 L 113.44 655.59 L 113.58 654.9 L 113.72 654.2 L 113.86 653.51 L 114 652.82 L 114.14 652.12 L 114.28 651.43 L 114.43 650.74 L 114.57 650.05 L 114.72 649.35 L 114.86 648.66 L 115.01 647.97 L 115.16 647.28 L 115.31 646.59 L 115.46 645.89 L 115.61 645.2 L 115.76 644.51 L 115.91 643.82 L 116.07 643.13 L 116.22 642.44 L 116.38 641.75 L 116.54 641.06 L 116.7 640.38 L 116.86 639.69 L 117.02 639 L 117.18 638.31 L 117.34 637.62 L 117.51 636.93 L 117.67 636.24 L 117.84 635.56 L 118.01 634.87 L 118.18 634.18 L 118.35 633.49 L 118.52 632.81 L 118.7 632.12 L 118.88 631.44 L 119.06 630.76 L 119.25 630.08 L 119.44 629.4 L 119.63 628.72 L 119.83 628.04 L 120.03 627.36 L 120.24 626.69 L 120.45 626.01 L 120.67 625.34 L 120.89 624.66 L 121.11 623.99 L 121.33 623.32 L 121.56 622.65 L 121.8 621.98 L 122.03 621.31 L 122.27 620.65 L 122.51 619.98 L 122.75 619.32 L 123 618.66 L 123.26 618 L 123.52 617.34 L 123.78 616.69 L 124.05 616.03 L 124.32 615.38 L 124.59 614.72 L 124.86 614.07 L 125.14 613.42 L 125.41 612.77 L 125.68 612.11 L 125.95 611.46 L 126.22 610.8 L 126.48 610.15 L 126.75 609.49 L 127 608.83 L 127.27 608.17 L 127.53 607.51 L 127.8 606.86 L 128.07 606.21 L 128.36 605.56 L 128.66 604.92 L 128.96 604.29 L 129.28 603.66 L 129.61 603.03 L 129.94 602.41 L 130.29 601.79 L 130.64 601.17 L 130.99 600.56 L 131.35 599.95 L 131.71 599.34 L 132.07 598.73 L 132.44 598.12 L 132.8 597.52 L 133.16 596.91 L 133.53 596.3 L 133.9 595.69 L 134.27 595.08 L 134.65 594.48 L 135.03 593.89 L 135.43 593.3 L 135.83 592.72 L 136.25 592.15 L 136.67 591.6 L 137.12 591.06 L 137.58 590.53 L 138.06 590 L 138.55 589.48 L 139.05 588.98 L 139.56 588.48 L 140.07 588 L 140.6 587.52 L 141.12 587.06 L 141.66 586.61 L 142.22 586.17 L 142.78 585.74 L 143.34 585.31 L 143.92 584.89 L 144.49 584.48 L 145.07 584.06 L 145.65 583.65 L 146.22 583.23 L 146.79 582.82 L 147.36 582.39 L 147.92 581.96 L 148.49 581.53 L 149.05 581.09 L 149.62 580.67 L 150.2 580.25 L 150.77 579.84 L 151.36 579.44 L 151.95 579.07 L 152.55 578.71 L 153.17 578.37 L 153.79 578.03 L 154.42 577.7 L 155.06 577.37 L 155.7 577.06 L 156.35 576.76 L 157.01 576.49 L 157.67 576.25 L 158.34 576.04 L 159.01 575.85 L 159.69 575.67 L 160.37 575.5 L 161.07 575.32 L 161.76 575.16 L 162.46 575.02 L 163.17 574.89 L 163.87 574.79 L 164.58 574.72 L 165.28 574.69 L 165.98 574.69 L 166.68 574.71 L 167.39 574.76 L 168.09 574.83 L 168.8 574.91 L 169.5 575 L 170.21 575.1 L 170.91 575.21 L 171.61 575.32 L 172.31 575.43 L 173 575.55 L 173.69 575.68 L 174.38 575.84 L 175.07 576.01 L 175.75 576.19 L 176.44 576.39 L 177.12 576.58 L 177.8 576.77 L 178.49 576.96 L 179.17 577.14 L 179.86 577.3 L 180.55 577.45 L 181.25 577.58 L 181.94 577.72 L 182.64 577.87 L 183.34 578.01 L 184.04 578.15 L 184.74 578.28 L 185.44 578.4 L 186.14 578.5 L 186.84 578.59 L 187.54 578.65 L 188.24 578.68 L 188.94 578.68 L 189.64 578.64 L 190.34 578.56 L 191.03 578.45 L 191.73 578.32 L 192.43 578.17 L 193.12 578.01 L 193.82 577.85 L 194.52 577.69 L 195.21 577.54 L 195.9 577.4 L 196.6 577.26 L 197.29 577.1 L 197.98 576.94 L 198.67 576.77 L 199.36 576.6 L 200.05 576.44 L 200.74 576.29 L 201.43 576.15 L 202.12 576.03 L 202.82 575.93 L 203.52 575.83 L 204.22 575.73 L 204.93 575.63 L 205.63 575.54 L 206.34 575.46 L 207.05 575.38 L 207.75 575.32 L 208.46 575.28 L 209.16 575.25 L 209.86 575.25 L 210.56 575.29 L 211.26 575.38 L 211.95 575.51 L 212.65 575.66 L 213.35 575.84 L 214.04 576.03 L 214.72 576.22 L 215.4 576.41 L 216.08 576.6 L 216.74 576.82 L 217.4 577.07 L 218.06 577.34 L 218.71 577.62 L 219.36 577.91 L 220.01 578.2 L 220.66 578.48 L 221.32 578.76 L 221.98 579.02 L 222.64 579.25 L 223.31 579.48 L 223.99 579.71 L 224.66 579.95 L 225.34 580.17 L 226.02 580.39 L 226.7 580.58 L 227.39 580.74 L 228.08 580.87 L 228.77 580.96 L 229.47 581.03 L 230.18 581.09 L 230.89 581.15 L 231.6 581.2 L 232.31 581.24 L 233.01 581.26 L 233.71 581.27 L 234.4 581.22 L 235.09 581.11 L 235.77 580.94 L 236.45 580.72 L 237.13 580.48 L 237.81 580.23 L 238.48 579.97 L 239.16 579.73 L 239.83 579.51 L 240.5 579.28 L 241.17 579.02 L 241.83 578.76 L 242.49 578.49 L 243.16 578.23 L 243.82 577.99 L 244.49 577.77 L 245.17 577.59 L 245.85 577.46 L 246.54 577.33 L 247.24 577.21 L 247.94 577.1 L 248.64 576.99 L 249.34 576.89 L 250.05 576.81 L 250.76 576.74 L 251.47 576.69 L 252.17 576.66 L 252.88 576.66 L 253.59 576.66 L 254.29 576.67 L 255 576.68 L 255.71 576.7 L 256.42 576.71 L 257.13 576.73 L 257.84 576.76 L 258.54 576.78 L 259.24 576.84 L 259.93 576.96 L 260.62 577.12 L 261.31 577.31 L 262 577.51 L 262.68 577.7 L 263.38 577.87 L 264.07 578 L 264.77 578.07 L 265.47 578.11 L 266.18 578.15 L 266.89 578.18 L 267.6 578.2 L 268.3 578.22 L 269 578.21 L 269.7 578.15 L 270.4 578.03 L 271.09 577.87 L 271.78 577.69 L 272.47 577.5 L 273.16 577.31 L 273.85 577.14 L 274.55 576.98 L 275.25 576.82 L 275.95 576.64 L 276.63 576.45 L 277.3 576.23 L 277.93 575.98 L 278.53 575.68 L 279.11 575.3 L 279.67 574.86 L 280.22 574.4 L 280.77 573.91 L 281.32 573.44 L 281.87 572.99 L 282.43 572.55 L 282.98 572.11 L 283.54 571.66 L 284.09 571.21 L 284.65 570.78 L 285.22 570.36 L 285.8 569.98 L 286.4 569.62 L 287.02 569.28 L 287.65 568.96 L 288.29 568.64 L 288.93 568.34 L 289.57 568.04 L 290.21 567.73 L 290.85 567.42 L 291.48 567.1 L 292.11 566.77 L 292.74 566.45 L 293.36 566.12 L 293.99 565.79 L 294.62 565.47 L 295.26 565.16 L 295.89 564.86 L 296.54 564.55 L 297.18 564.2 L 297.83 563.85 L 298.48 563.5 L 299.14 563.18 L 299.8 562.91 L 300.46 562.7 L 301.12 562.59 L 301.79 562.59 L 302.47 562.66 L 303.16 562.79 L 303.85 562.97 L 304.54 563.18 L 305.23 563.4 L 305.92 563.63 L 306.61 563.84 L 307.29 564.04 L 307.97 564.23 L 308.66 564.43 L 309.34 564.62 L 310.02 564.83 L 310.7 565.05 L 311.37 565.27 L 312.03 565.51 L 312.68 565.77 L 313.32 566.05 L 313.95 566.35 L 314.57 566.69 L 315.19 567.04 L 315.79 567.42 L 316.39 567.8 L 316.99 568.19 L 317.58 568.59 L 318.17 568.98 L 318.75 569.38 L 319.33 569.78 L 319.91 570.2 L 320.48 570.62 L 321.04 571.05 L 321.6 571.49 L 322.15 571.93 L 322.69 572.39 L 323.22 572.85 L 323.73 573.34 L 324.23 573.83 L 324.73 574.34 L 325.22 574.85 L 325.72 575.36 L 326.21 575.86 L 326.7 576.37 L 327.19 576.88 L 327.68 577.39 L 328.17 577.9 L 328.66 578.42 L 329.14 578.93 L 329.63 579.44 L 330.11 579.96 L 330.6 580.48 L 331.08 580.99 L 331.56 581.51 L 332.05 582.02 L 332.53 582.54 L 333.02 583.05 L 333.51 583.57 L 333.99 584.08 L 334.48 584.59 L 334.96 585.11 L 335.45 585.62 L 335.94 586.13 L 336.42 586.65 L 336.91 587.16 L 337.39 587.68 L 337.87 588.2 L 338.35 588.71 L 338.83 589.23 L 339.31 589.76 L 339.78 590.29 L 340.24 590.83 L 340.7 591.37 L 341.16 591.92 L 341.62 592.46 L 342.08 593 L 342.54 593.54 L 343.01 594.07 L 343.49 594.59 L 343.97 595.1 L 344.47 595.59 L 344.98 596.07 L 345.5 596.53 L 346.05 596.98 L 346.6 597.42 L 347.16 597.84 L 347.73 598.26 L 348.31 598.68 L 348.89 599.09 L 349.47 599.5 L 350.05 599.91 L 350.63 600.32 L 351.2 600.74 L 351.77 601.17 L 352.34 601.6 L 352.9 602.03 L 353.47 602.46 L 354.05 602.88 L 354.63 603.28 L 355.22 603.66 L 355.82 604.02 L 356.43 604.35 L 357.05 604.67 L 357.69 604.98 L 358.33 605.28 L 358.98 605.58 L 359.64 605.86 L 360.29 606.13 L 360.96 606.39 L 361.62 606.64 L 362.29 606.87 L 362.96 607.1 L 363.62 607.32 L 364.3 607.54 L 364.97 607.75 L 365.65 607.95 L 366.33 608.14 L 367.02 608.33 L 367.7 608.51 L 368.39 608.69 L 369.08 608.85 L 369.77 609.01 L 370.46 609.16 L 371.15 609.31 L 371.84 609.45 L 372.54 609.58 L 373.23 609.72 L 373.93 609.85 L 374.63 609.97 L 375.32 610.09 L 376.02 610.2 L 376.72 610.3 L 377.43 610.4 L 378.13 610.49 L 378.83 610.57 L 379.53 610.65 L 380.23 610.72 L 380.94 610.79 L 381.64 610.86 L 382.34 610.92 L 383.05 610.98 L 383.76 611.04 L 384.46 611.09 L 385.17 611.14 L 385.87 611.19 L 386.58 611.23 L 387.29 611.27 L 387.99 611.3 L 388.7 611.32 L 389.41 611.35 L 390.11 611.37 L 390.82 611.4 L 391.52 611.42 L 392.23 611.44 L 392.94 611.46 L 393.65 611.48 L 394.35 611.49 L 395.06 611.51 L 395.77 611.53 L 396.47 611.54 L 397.18 611.56 L 397.89 611.57 L 398.6 611.59 L 399.3 611.6 L 400.01 611.61 L 400.72 611.63 L 401.43 611.64 L 402.13 611.65 L 402.84 611.67 L 403.55 611.68 L 404.25 611.7 L 404.96 611.71 L 405.67 611.73 L 406.38 611.74 L 407.08 611.75 L 407.79 611.77 L 408.5 611.78 L 409.2 611.8 L 409.91 611.81 L 410.62 611.82 L 411.33 611.84 L 412.03 611.85 L 412.74 611.86 L 413.45 611.88 L 414.15 611.89 L 414.86 611.9 L 415.57 611.91 L 416.28 611.92 L 416.98 611.93 L 417.69 611.94 L 418.4 611.95 L 419.1 611.96 L 419.81 611.97 L 420.52 611.98 L 421.23 611.99 L 421.93 611.99 L 422.64 612 L 423.35 612 L 424.05 612.01 L 424.76 612.01 L 425.47 612.02 L 426.18 612.02 L 426.88 612.03 L 427.59 612.03 L 428.3 612.03 L 429 612.04 L 429.71 612.04 L 430.42 612.04 L 431.13 612.05 L 431.83 612.05 L 432.54 612.05 L 433.25 612.06 L 433.95 612.06 L 434.66 612.06 L 435.37 612.06 L 436.08 612.07 L 436.78 612.07 L 437.49 612.07 L 438.2 612.08 L 438.91 612.08 L 439.61 612.08 L 440.32 612.08 L 441.03 612.09 L 441.73 612.09 L 442.44 612.09 L 443.15 612.09 L 443.86 612.1 L 444.56 612.1 L 445.27 612.1 L 445.98 612.11 L 446.69 612.11 L 447.39 612.11 L 448.1 612.11 L 448.81 612.12 L 449.51 612.12 L 450.22 612.12 L 450.93 612.12 L 451.64 612.13 L 452.34 612.13 L 453.05 612.13 L 453.76 612.14 L 454.46 612.14 L 455.17 612.14 L 455.88 612.14 L 456.59 612.15 L 457.29 612.15 L 458 612.15 L 458.71 612.15 L 459.42 612.16 L 460.12 612.16 L 460.83 612.16 L 461.54 612.16 L 462.24 612.16 L 462.95 612.17 L 463.66 612.17 L 464.37 612.17 L 465.07 612.17 L 465.78 612.18 L 466.49 612.18 L 467.19 612.18 L 467.9 612.18 L 468.61 612.18 L 469.32 612.19 L 470.02 612.19" clip-path="url(#p5a8be41eb9)" style="fill: none; stroke: #000000; stroke-width: 3; stroke-linecap: square"/>
</g>
<g>
<path d="M 76.38 776.8 L 76.38 533.55" style="fill: none; stroke: #000000; stroke-linejoin: miter; stroke-linecap: square"/>
</g>
<g>
<path d="M 478.96 776.8 L 478.96 533.55" style="fill: none; stroke: #000000; stroke-linejoin: miter; stroke-linecap: square"/>
</g>
<g>
<path d="M 76.38 776.8 L 478.96 776.8" style="fill: none; stroke: #000000; stroke-linejoin: miter; stroke-linecap: square"/>
</g>
<g>
<path d="M 76.38 533.55 L 478.96 533.55" style="fill: none; stroke: #000000; stroke-linejoin: miter; stroke-linecap: square"/>
</g>
<g>
<text style="font-size: 16px; font-family: 'DejaVu Serif', serif; text-anchor: start" x="84.428235" y="553.012706" transform="rotate(-0 84.428235 553.012706)">(e)</text>
</g>
<g>
<path d="M 325.36 776.8 L 325.36 533.55" clip-path="url(#p5a8be41eb9)" style="fill: none; stroke-dasharray: 3.85,1.65; stroke-dashoffset: 0; stroke: #808080; stroke-width: 1.25"/>
</g>
</g>
<g>
<g>
<path d="M 571.67 776.8 L 974.26 776.8 L 974.26 533.55 L 571.67 533.55 z" style="fill: #ffffff"/>
</g>
<g>
<g>
<g>
<g>
<path d="M 0 0 L 0 3.5" transform="translate(606.845226 776.8)" style="stroke: #000000; stroke: #000000"/>
</g>
</g>
<g>
<!-- $\mathdefault{10^{1}}$ -->
<g transform="translate(594.525226 794.673)">
<text>
<tspan x="0" y="-0.640625" style="font-size: 14px; font-family: 'DejaVu Serif'">1</tspan>
<tspan x="8.907227" y="-0.640625" style="font-size: 14px; font-family: 'DejaVu Serif'">0</tspan>
<tspan x="17.941602" y="-5.726562" style="font-size: 9.8px; font-family: 'DejaVu Serif'">1</tspan>
</text>
</g>
</g>
</g>
<g>
<g>
<g>
<path d="M 0 0 L 0 3.5" transform="translate(657.168755 776.8)" style="stroke: #000000; stroke: #000000"/>
</g>
</g>
<g>
<!-- $\mathdefault{10^{2}}$ -->
<g transform="translate(644.848755 794.673)">
<text>
<tspan x="0" y="-0.640625" style="font-size: 14px; font-family: 'DejaVu Serif'">1</tspan>
<tspan x="8.907227" y="-0.640625" style="font-size: 14px; font-family: 'DejaVu Serif'">0</tspan>
<tspan x="17.941602" y="-5.726562" style="font-size: 9.8px; font-family: 'DejaVu Serif'">2</tspan>
</text>
</g>
</g>
</g>
<g>
<g>
<g>
<path d="M 0 0 L 0 3.5" transform="translate(707.492285 776.8)" style="stroke: #000000; stroke: #000000"/>
</g>
</g>
<g>
<!-- $\mathdefault{10^{3}}$ -->
<g transform="translate(695.172285 794.673)">
<text>
<tspan x="0" y="-0.640625" style="font-size: 14px; font-family: 'DejaVu Serif'">1</tspan>
<tspan x="8.907227" y="-0.640625" style="font-size: 14px; font-family: 'DejaVu Serif'">0</tspan>
<tspan x="17.941602" y="-5.726562" style="font-size: 9.8px; font-family: 'DejaVu Serif'">3</tspan>
</text>
</g>
</g>
</g>
<g>
<g>
<g>
<path d="M 0 0 L 0 3.5" transform="translate(757.815814 776.8)" style="stroke: #000000; stroke: #000000"/>
</g>
</g>
<g>
<!-- $\mathdefault{10^{4}}$ -->
<g transform="translate(745.495814 794.673)">
<text>
<tspan x="0" y="-0.640625" style="font-size: 14px; font-family: 'DejaVu Serif'">1</tspan>
<tspan x="8.907227" y="-0.640625" style="font-size: 14px; font-family: 'DejaVu Serif'">0</tspan>
<tspan x="17.941602" y="-5.726562" style="font-size: 9.8px; font-family: 'DejaVu Serif'">4</tspan>
</text>
</g>
</g>
</g>
<g>
<g>
<g>
<path d="M 0 0 L 0 3.5" transform="translate(808.139343 776.8)" style="stroke: #000000; stroke: #000000"/>
</g>
</g>
<g>
<!-- $\mathdefault{10^{5}}$ -->
<g transform="translate(795.819343 794.673)">
<text>
<tspan x="0" y="-0.771875" style="font-size: 14px; font-family: 'DejaVu Serif'">1</tspan>
<tspan x="8.907227" y="-0.771875" style="font-size: 14px; font-family: 'DejaVu Serif'">0</tspan>
<tspan x="17.941602" y="-5.857813" style="font-size: 9.8px; font-family: 'DejaVu Serif'">5</tspan>
</text>
</g>
</g>
</g>
<g>
<g>
<g>
<path d="M 0 0 L 0 3.5" transform="translate(858.462873 776.8)" style="stroke: #000000; stroke: #000000"/>
</g>
</g>
<g>
<!-- $\mathdefault{10^{6}}$ -->
<g transform="translate(846.142873 794.673)">
<text>
<tspan x="0" y="-0.640625" style="font-size: 14px; font-family: 'DejaVu Serif'">1</tspan>
<tspan x="8.907227" y="-0.640625" style="font-size: 14px; font-family: 'DejaVu Serif'">0</tspan>
<tspan x="17.941602" y="-5.726562" style="font-size: 9.8px; font-family: 'DejaVu Serif'">6</tspan>
</text>
</g>
</g>
</g>
<g>
<g>
<g>
<path d="M 0 0 L 0 3.5" transform="translate(908.786402 776.8)" style="stroke: #000000; stroke: #000000"/>
</g>
</g>
<g>
<!-- $\mathdefault{10^{7}}$ -->
<g transform="translate(896.466402 794.673)">
<text>
<tspan x="0" y="-0.771875" style="font-size: 14px; font-family: 'DejaVu Serif'">1</tspan>
<tspan x="8.907227" y="-0.771875" style="font-size: 14px; font-family: 'DejaVu Serif'">0</tspan>
<tspan x="17.941602" y="-5.857813" style="font-size: 9.8px; font-family: 'DejaVu Serif'">7</tspan>
</text>
</g>
</g>
</g>
<g>
<g>
<g>
<path d="M 0 0 L 0 3.5" transform="translate(959.109932 776.8)" style="stroke: #000000; stroke: #000000"/>
</g>
</g>
<g>
<!-- $\mathdefault{10^{8}}$ -->
<g transform="translate(946.789932 794.673)">
<text>
<tspan x="0" y="-0.640625" style="font-size: 14px; font-family: 'DejaVu Serif'">1</tspan>
<tspan x="8.907227" y="-0.640625" style="font-size: 14px; font-family: 'DejaVu Serif'">0</tspan>
<tspan x="17.941602" y="-5.726562" style="font-size: 9.8px; font-family: 'DejaVu Serif'">8</tspan>
</text>
</g>
</g>
</g>
<g>
<g>
<g>
<path d="M 0 0 L 0 2" transform="translate(571.670588 776.8)" style="stroke: #000000; stroke-width: 0.6; stroke: #000000; stroke-width: 0.6"/>
</g>
</g>
</g>
<g>
<g>
<g>
<path d="M 0 0 L 0 2" transform="translate(580.532122 776.8)" style="stroke: #000000; stroke-width: 0.6; stroke: #000000; stroke-width: 0.6"/>
</g>
</g>
</g>
<g>
<g>
<g>
<path d="M 0 0 L 0 2" transform="translate(586.81948 776.8)" style="stroke: #000000; stroke-width: 0.6; stroke: #000000; stroke-width: 0.6"/>
</g>
</g>
</g>
<g>
<g>
<g>
<path d="M 0 0 L 0 2" transform="translate(591.696334 776.8)" style="stroke: #000000; stroke-width: 0.6; stroke: #000000; stroke-width: 0.6"/>
</g>
</g>
</g>
<g>
<g>
<g>
<path d="M 0 0 L 0 2" transform="translate(595.681014 776.8)" style="stroke: #000000; stroke-width: 0.6; stroke: #000000; stroke-width: 0.6"/>
</g>
</g>
</g>
<g>
<g>
<g>
<path d="M 0 0 L 0 2" transform="translate(599.050012 776.8)" style="stroke: #000000; stroke-width: 0.6; stroke: #000000; stroke-width: 0.6"/>
</g>
</g>
</g>
<g>
<g>
<g>
<path d="M 0 0 L 0 2" transform="translate(601.968372 776.8)" style="stroke: #000000; stroke-width: 0.6; stroke: #000000; stroke-width: 0.6"/>
</g>
</g>
</g>
<g>
<g>
<g>
<path d="M 0 0 L 0 2" transform="translate(604.542547 776.8)" style="stroke: #000000; stroke-width: 0.6; stroke: #000000; stroke-width: 0.6"/>
</g>
</g>
</g>
<g>
<g>
<g>
<path d="M 0 0 L 0 2" transform="translate(621.994118 776.8)" style="stroke: #000000; stroke-width: 0.6; stroke: #000000; stroke-width: 0.6"/>
</g>
</g>
</g>
<g>
<g>
<g>
<path d="M 0 0 L 0 2" transform="translate(630.855651 776.8)" style="stroke: #000000; stroke-width: 0.6; stroke: #000000; stroke-width: 0.6"/>
</g>
</g>
</g>
<g>
<g>
<g>
<path d="M 0 0 L 0 2" transform="translate(637.143009 776.8)" style="stroke: #000000; stroke-width: 0.6; stroke: #000000; stroke-width: 0.6"/>
</g>
</g>
</g>
<g>
<g>
<g>
<path d="M 0 0 L 0 2" transform="translate(642.019863 776.8)" style="stroke: #000000; stroke-width: 0.6; stroke: #000000; stroke-width: 0.6"/>
</g>
</g>
</g>
<g>
<g>
<g>
<path d="M 0 0 L 0 2" transform="translate(646.004543 776.8)" style="stroke: #000000; stroke-width: 0.6; stroke: #000000; stroke-width: 0.6"/>
</g>
</g>
</g>
<g>
<g>
<g>
<path d="M 0 0 L 0 2" transform="translate(649.373542 776.8)" style="stroke: #000000; stroke-width: 0.6; stroke: #000000; stroke-width: 0.6"/>
</g>
</g>
</g>
<g>
<g>
<g>
<path d="M 0 0 L 0 2" transform="translate(652.291901 776.8)" style="stroke: #000000; stroke-width: 0.6; stroke: #000000; stroke-width: 0.6"/>
</g>
</g>
</g>
<g>
<g>
<g>
<path d="M 0 0 L 0 2" transform="translate(654.866077 776.8)" style="stroke: #000000; stroke-width: 0.6; stroke: #000000; stroke-width: 0.6"/>
</g>
</g>
</g>
<g>
<g>
<g>
<path d="M 0 0 L 0 2" transform="translate(672.317647 776.8)" style="stroke: #000000; stroke-width: 0.6; stroke: #000000; stroke-width: 0.6"/>
</g>
</g>
</g>
<g>
<g>
<g>
<path d="M 0 0 L 0 2" transform="translate(681.179181 776.8)" style="stroke: #000000; stroke-width: 0.6; stroke: #000000; stroke-width: 0.6"/>
</g>
</g>
</g>
<g>
<g>
<g>
<path d="M 0 0 L 0 2" transform="translate(687.466539 776.8)" style="stroke: #000000; stroke-width: 0.6; stroke: #000000; stroke-width: 0.6"/>
</g>
</g>
</g>
<g>
<g>
<g>
<path d="M 0 0 L 0 2" transform="translate(692.343393 776.8)" style="stroke: #000000; stroke-width: 0.6; stroke: #000000; stroke-width: 0.6"/>
</g>
</g>
</g>
<g>
<g>
<g>
<path d="M 0 0 L 0 2" transform="translate(696.328073 776.8)" style="stroke: #000000; stroke-width: 0.6; stroke: #000000; stroke-width: 0.6"/>
</g>
</g>
</g>
<g>
<g>
<g>
<path d="M 0 0 L 0 2" transform="translate(699.697071 776.8)" style="stroke: #000000; stroke-width: 0.6; stroke: #000000; stroke-width: 0.6"/>
</g>
</g>
</g>
<g>
<g>
<g>
<path d="M 0 0 L 0 2" transform="translate(702.615431 776.8)" style="stroke: #000000; stroke-width: 0.6; stroke: #000000; stroke-width: 0.6"/>
</g>
</g>
</g>
<g>
<g>
<g>
<path d="M 0 0 L 0 2" transform="translate(705.189606 776.8)" style="stroke: #000000; stroke-width: 0.6; stroke: #000000; stroke-width: 0.6"/>
</g>
</g>
</g>
<g>
<g>
<g>
<path d="M 0 0 L 0 2" transform="translate(722.641176 776.8)" style="stroke: #000000; stroke-width: 0.6; stroke: #000000; stroke-width: 0.6"/>
</g>
</g>
</g>
<g>
<g>
<g>
<path d="M 0 0 L 0 2" transform="translate(731.50271 776.8)" style="stroke: #000000; stroke-width: 0.6; stroke: #000000; stroke-width: 0.6"/>
</g>
</g>
</g>
<g>
<g>
<g>
<path d="M 0 0 L 0 2" transform="translate(737.790068 776.8)" style="stroke: #000000; stroke-width: 0.6; stroke: #000000; stroke-width: 0.6"/>
</g>
</g>
</g>
<g>
<g>
<g>
<path d="M 0 0 L 0 2" transform="translate(742.666922 776.8)" style="stroke: #000000; stroke-width: 0.6; stroke: #000000; stroke-width: 0.6"/>
</g>
</g>
</g>
<g>
<g>
<g>
<path d="M 0 0 L 0 2" transform="translate(746.651602 776.8)" style="stroke: #000000; stroke-width: 0.6; stroke: #000000; stroke-width: 0.6"/>
</g>
</g>
</g>
<g>
<g>
<g>
<path d="M 0 0 L 0 2" transform="translate(750.020601 776.8)" style="stroke: #000000; stroke-width: 0.6; stroke: #000000; stroke-width: 0.6"/>
</g>
</g>
</g>
<g>
<g>
<g>
<path d="M 0 0 L 0 2" transform="translate(752.93896 776.8)" style="stroke: #000000; stroke-width: 0.6; stroke: #000000; stroke-width: 0.6"/>
</g>
</g>
</g>
<g>
<g>
<g>
<path d="M 0 0 L 0 2" transform="translate(755.513136 776.8)" style="stroke: #000000; stroke-width: 0.6; stroke: #000000; stroke-width: 0.6"/>
</g>
</g>
</g>
<g>
<g>
<g>
<path d="M 0 0 L 0 2" transform="translate(772.964706 776.8)" style="stroke: #000000; stroke-width: 0.6; stroke: #000000; stroke-width: 0.6"/>
</g>
</g>
</g>
<g>
<g>
<g>
<path d="M 0 0 L 0 2" transform="translate(781.82624 776.8)" style="stroke: #000000; stroke-width: 0.6; stroke: #000000; stroke-width: 0.6"/>
</g>
</g>
</g>
<g>
<g>
<g>
<path d="M 0 0 L 0 2" transform="translate(788.113598 776.8)" style="stroke: #000000; stroke-width: 0.6; stroke: #000000; stroke-width: 0.6"/>
</g>
</g>
</g>
<g>
<g>
<g>
<path d="M 0 0 L 0 2" transform="translate(792.990452 776.8)" style="stroke: #000000; stroke-width: 0.6; stroke: #000000; stroke-width: 0.6"/>
</g>
</g>
</g>
<g>
<g>
<g>
<path d="M 0 0 L 0 2" transform="translate(796.975131 776.8)" style="stroke: #000000; stroke-width: 0.6; stroke: #000000; stroke-width: 0.6"/>
</g>
</g>
</g>
<g>
<g>
<g>
<path d="M 0 0 L 0 2" transform="translate(800.34413 776.8)" style="stroke: #000000; stroke-width: 0.6; stroke: #000000; stroke-width: 0.6"/>
</g>
</g>
</g>
<g>
<g>
<g>
<path d="M 0 0 L 0 2" transform="translate(803.26249 776.8)" style="stroke: #000000; stroke-width: 0.6; stroke: #000000; stroke-width: 0.6"/>
</g>
</g>
</g>
<g>
<g>
<g>
<path d="M 0 0 L 0 2" transform="translate(805.836665 776.8)" style="stroke: #000000; stroke-width: 0.6; stroke: #000000; stroke-width: 0.6"/>
</g>
</g>
</g>
<g>
<g>
<g>
<path d="M 0 0 L 0 2" transform="translate(823.288235 776.8)" style="stroke: #000000; stroke-width: 0.6; stroke: #000000; stroke-width: 0.6"/>
</g>
</g>
</g>
<g>
<g>
<g>
<path d="M 0 0 L 0 2" transform="translate(832.149769 776.8)" style="stroke: #000000; stroke-width: 0.6; stroke: #000000; stroke-width: 0.6"/>
</g>
</g>
</g>
<g>
<g>
<g>
<path d="M 0 0 L 0 2" transform="translate(838.437127 776.8)" style="stroke: #000000; stroke-width: 0.6; stroke: #000000; stroke-width: 0.6"/>
</g>
</g>
</g>
<g>
<g>
<g>
<path d="M 0 0 L 0 2" transform="translate(843.313981 776.8)" style="stroke: #000000; stroke-width: 0.6; stroke: #000000; stroke-width: 0.6"/>
</g>
</g>
</g>
<g>
<g>
<g>
<path d="M 0 0 L 0 2" transform="translate(847.298661 776.8)" style="stroke: #000000; stroke-width: 0.6; stroke: #000000; stroke-width: 0.6"/>
</g>
</g>
</g>
<g>
<g>
<g>
<path d="M 0 0 L 0 2" transform="translate(850.66766 776.8)" style="stroke: #000000; stroke-width: 0.6; stroke: #000000; stroke-width: 0.6"/>
</g>
</g>
</g>
<g>
<g>
<g>
<path d="M 0 0 L 0 2" transform="translate(853.586019 776.8)" style="stroke: #000000; stroke-width: 0.6; stroke: #000000; stroke-width: 0.6"/>
</g>
</g>
</g>
<g>
<g>
<g>
<path d="M 0 0 L 0 2" transform="translate(856.160194 776.8)" style="stroke: #000000; stroke-width: 0.6; stroke: #000000; stroke-width: 0.6"/>
</g>
</g>
</g>
<g>
<g>
<g>
<path d="M 0 0 L 0 2" transform="translate(873.611765 776.8)" style="stroke: #000000; stroke-width: 0.6; stroke: #000000; stroke-width: 0.6"/>
</g>
</g>
</g>
<g>
<g>
<g>
<path d="M 0 0 L 0 2" transform="translate(882.473298 776.8)" style="stroke: #000000; stroke-width: 0.6; stroke: #000000; stroke-width: 0.6"/>
</g>
</g>
</g>
<g>
<g>
<g>
<path d="M 0 0 L 0 2" transform="translate(888.760657 776.8)" style="stroke: #000000; stroke-width: 0.6; stroke: #000000; stroke-width: 0.6"/>
</g>
</g>
</g>
<g>
<g>
<g>
<path d="M 0 0 L 0 2" transform="translate(893.63751 776.8)" style="stroke: #000000; stroke-width: 0.6; stroke: #000000; stroke-width: 0.6"/>
</g>
</g>
</g>
<g>
<g>
<g>
<path d="M 0 0 L 0 2" transform="translate(897.62219 776.8)" style="stroke: #000000; stroke-width: 0.6; stroke: #000000; stroke-width: 0.6"/>
</g>
</g>
</g>
<g>
<g>
<g>
<path d="M 0 0 L 0 2" transform="translate(900.991189 776.8)" style="stroke: #000000; stroke-width: 0.6; stroke: #000000; stroke-width: 0.6"/>
</g>
</g>
</g>
<g>
<g>
<g>
<path d="M 0 0 L 0 2" transform="translate(903.909548 776.8)" style="stroke: #000000; stroke-width: 0.6; stroke: #000000; stroke-width: 0.6"/>
</g>
</g>
</g>
<g>
<g>
<g>
<path d="M 0 0 L 0 2" transform="translate(906.483724 776.8)" style="stroke: #000000; stroke-width: 0.6; stroke: #000000; stroke-width: 0.6"/>
</g>
</g>
</g>
<g>
<g>
<g>
<path d="M 0 0 L 0 2" transform="translate(923.935294 776.8)" style="stroke: #000000; stroke-width: 0.6; stroke: #000000; stroke-width: 0.6"/>
</g>
</g>
</g>
<g>
<g>
<g>
<path d="M 0 0 L 0 2" transform="translate(932.796828 776.8)" style="stroke: #000000; stroke-width: 0.6; stroke: #000000; stroke-width: 0.6"/>
</g>
</g>
</g>
<g>
<g>
<g>
<path d="M 0 0 L 0 2" transform="translate(939.084186 776.8)" style="stroke: #000000; stroke-width: 0.6; stroke: #000000; stroke-width: 0.6"/>
</g>
</g>
</g>
<g>
<g>
<g>
<path d="M 0 0 L 0 2" transform="translate(943.96104 776.8)" style="stroke: #000000; stroke-width: 0.6; stroke: #000000; stroke-width: 0.6"/>
</g>
</g>
</g>
<g>
<g>
<g>
<path d="M 0 0 L 0 2" transform="translate(947.94572 776.8)" style="stroke: #000000; stroke-width: 0.6; stroke: #000000; stroke-width: 0.6"/>
</g>
</g>
</g>
<g>
<g>
<g>
<path d="M 0 0 L 0 2" transform="translate(951.314718 776.8)" style="stroke: #000000; stroke-width: 0.6; stroke: #000000; stroke-width: 0.6"/>
</g>
</g>
</g>
<g>
<g>
<g>
<path d="M 0 0 L 0 2" transform="translate(954.233078 776.8)" style="stroke: #000000; stroke-width: 0.6; stroke: #000000; stroke-width: 0.6"/>
</g>
</g>
</g>
<g>
<g>
<g>
<path d="M 0 0 L 0 2" transform="translate(956.807253 776.8)" style="stroke: #000000; stroke-width: 0.6; stroke: #000000; stroke-width: 0.6"/>
</g>
</g>
</g>
<g>
<g>
<g>
<path d="M 0 0 L 0 2" transform="translate(974.258824 776.8)" style="stroke: #000000; stroke-width: 0.6; stroke: #000000; stroke-width: 0.6"/>
</g>
</g>
</g>
<g>
<!-- $r\ [r_g]$ -->
<g transform="translate(751.364706 816.265)">
<text>
<tspan x="0" y="-0.328125" style="font-style: oblique; font-size: 18px; font-family: 'DejaVu Sans'">r</tspan>
<tspan x="20.26752" y="-0.328125" style="font-style: oblique; font-size: 18px; font-family: 'DejaVu Sans'">r</tspan>
<tspan x="13.245059" y="-0.328125" style="font-size: 18px; font-family: 'DejaVu Sans'">[</tspan>
<tspan x="36.158145" y="-0.328125" style="font-size: 18px; font-family: 'DejaVu Sans'">]</tspan>
<tspan x="27.66791" y="2.625" style="font-style: oblique; font-size: 12.6px; font-family: 'DejaVu Sans'">g</tspan>
</text>
</g>
</g>
</g>
<g>
<g>
<g>
<g>
<path d="M 0 0 L -3.5 0" transform="translate(571.670588 776.8)" style="stroke: #000000; stroke: #000000"/>
</g>
</g>
<g>
<!-- $\mathdefault{10^{1}}$ -->
<g transform="translate(539.430588 782.495)">
<text>
<tspan x="0" y="-0.640625" style="font-size: 14px; font-family: 'DejaVu Serif'">1</tspan>
<tspan x="8.907227" y="-0.640625" style="font-size: 14px; font-family: 'DejaVu Serif'">0</tspan>
<tspan x="17.941602" y="-5.726562" style="font-size: 9.8px; font-family: 'DejaVu Serif'">1</tspan>
</text>
</g>
</g>
</g>
<g>
<g>
<g>
<path d="M 0 0 L -3.5 0" transform="translate(571.670588 728.150588)" style="stroke: #000000; stroke: #000000"/>
</g>
</g>
<g>
<!-- $\mathdefault{10^{2}}$ -->
<g transform="translate(539.430588 733.846)">
<text>
<tspan x="0" y="-0.640625" style="font-size: 14px; font-family: 'DejaVu Serif'">1</tspan>
<tspan x="8.907227" y="-0.640625" style="font-size: 14px; font-family: 'DejaVu Serif'">0</tspan>
<tspan x="17.941602" y="-5.726562" style="font-size: 9.8px; font-family: 'DejaVu Serif'">2</tspan>
</text>
</g>
</g>
</g>
<g>
<g>
<g>
<path d="M 0 0 L -3.5 0" transform="translate(571.670588 679.501176)" style="stroke: #000000; stroke: #000000"/>
</g>
</g>
<g>
<!-- $\mathdefault{10^{3}}$ -->
<g transform="translate(539.430588 685.197)">
<text>
<tspan x="0" y="-0.640625" style="font-size: 14px; font-family: 'DejaVu Serif'">1</tspan>
<tspan x="8.907227" y="-0.640625" style="font-size: 14px; font-family: 'DejaVu Serif'">0</tspan>
<tspan x="17.941602" y="-5.726562" style="font-size: 9.8px; font-family: 'DejaVu Serif'">3</tspan>
</text>
</g>
</g>
</g>
<g>
<g>
<g>
<path d="M 0 0 L -3.5 0" transform="translate(571.670588 630.851765)" style="stroke: #000000; stroke: #000000"/>
</g>
</g>
<g>
<!-- $\mathdefault{10^{4}}$ -->
<g transform="translate(539.430588 636.547)">
<text>
<tspan x="0" y="-0.640625" style="font-size: 14px; font-family: 'DejaVu Serif'">1</tspan>
<tspan x="8.907227" y="-0.640625" style="font-size: 14px; font-family: 'DejaVu Serif'">0</tspan>
<tspan x="17.941602" y="-5.726562" style="font-size: 9.8px; font-family: 'DejaVu Serif'">4</tspan>
</text>
</g>
</g>
</g>
<g>
<g>
<g>
<path d="M 0 0 L -3.5 0" transform="translate(571.670588 582.202353)" style="stroke: #000000; stroke: #000000"/>
</g>
</g>
<g>
<!-- $\mathdefault{10^{5}}$ -->
<g transform="translate(539.430588 587.898)">
<text>
<tspan x="0" y="-0.771875" style="font-size: 14px; font-family: 'DejaVu Serif'">1</tspan>
<tspan x="8.907227" y="-0.771875" style="font-size: 14px; font-family: 'DejaVu Serif'">0</tspan>
<tspan x="17.941602" y="-5.857813" style="font-size: 9.8px; font-family: 'DejaVu Serif'">5</tspan>
</text>
</g>
</g>
</g>
<g>
<g>
<g>
<path d="M 0 0 L -3.5 0" transform="translate(571.670588 533.552941)" style="stroke: #000000; stroke: #000000"/>
</g>
</g>
<g>
<!-- $\mathdefault{10^{6}}$ -->
<g transform="translate(539.430588 539.248)">
<text>
<tspan x="0" y="-0.640625" style="font-size: 14px; font-family: 'DejaVu Serif'">1</tspan>
<tspan x="8.907227" y="-0.640625" style="font-size: 14px; font-family: 'DejaVu Serif'">0</tspan>
<tspan x="17.941602" y="-5.726562" style="font-size: 9.8px; font-family: 'DejaVu Serif'">6</tspan>
</text>
</g>
</g>
</g>
<g>
<g>
<g>
<path d="M 0 0 L -2 0" transform="translate(571.670588 762.155068)" style="stroke: #000000; stroke-width: 0.6; stroke: #000000; stroke-width: 0.6"/>
</g>
</g>
</g>
<g>
<g>
<g>
<path d="M 0 0 L -2 0" transform="translate(571.670588 753.588332)" style="stroke: #000000; stroke-width: 0.6; stroke: #000000; stroke-width: 0.6"/>
</g>
</g>
</g>
<g>
<g>
<g>
<path d="M 0 0 L -2 0" transform="translate(571.670588 747.510136)" style="stroke: #000000; stroke-width: 0.6; stroke: #000000; stroke-width: 0.6"/>
</g>
</g>
</g>
<g>
<g>
<g>
<path d="M 0 0 L -2 0" transform="translate(571.670588 742.79552)" style="stroke: #000000; stroke-width: 0.6; stroke: #000000; stroke-width: 0.6"/>
</g>
</g>
</g>
<g>
<g>
<g>
<path d="M 0 0 L -2 0" transform="translate(571.670588 738.943399)" style="stroke: #000000; stroke-width: 0.6; stroke: #000000; stroke-width: 0.6"/>
</g>
</g>
</g>
<g>
<g>
<g>
<path d="M 0 0 L -2 0" transform="translate(571.670588 735.686477)" style="stroke: #000000; stroke-width: 0.6; stroke: #000000; stroke-width: 0.6"/>
</g>
</g>
</g>
<g>
<g>
<g>
<path d="M 0 0 L -2 0" transform="translate(571.670588 732.865203)" style="stroke: #000000; stroke-width: 0.6; stroke: #000000; stroke-width: 0.6"/>
</g>
</g>
</g>
<g>
<g>
<g>
<path d="M 0 0 L -2 0" transform="translate(571.670588 730.376663)" style="stroke: #000000; stroke-width: 0.6; stroke: #000000; stroke-width: 0.6"/>
</g>
</g>
</g>
<g>
<g>
<g>
<path d="M 0 0 L -2 0" transform="translate(571.670588 713.505656)" style="stroke: #000000; stroke-width: 0.6; stroke: #000000; stroke-width: 0.6"/>
</g>
</g>
</g>
<g>
<g>
<g>
<path d="M 0 0 L -2 0" transform="translate(571.670588 704.93892)" style="stroke: #000000; stroke-width: 0.6; stroke: #000000; stroke-width: 0.6"/>
</g>
</g>
</g>
<g>
<g>
<g>
<path d="M 0 0 L -2 0" transform="translate(571.670588 698.860724)" style="stroke: #000000; stroke-width: 0.6; stroke: #000000; stroke-width: 0.6"/>
</g>
</g>
</g>
<g>
<g>
<g>
<path d="M 0 0 L -2 0" transform="translate(571.670588 694.146109)" style="stroke: #000000; stroke-width: 0.6; stroke: #000000; stroke-width: 0.6"/>
</g>
</g>
</g>
<g>
<g>
<g>
<path d="M 0 0 L -2 0" transform="translate(571.670588 690.293988)" style="stroke: #000000; stroke-width: 0.6; stroke: #000000; stroke-width: 0.6"/>
</g>
</g>
</g>
<g>
<g>
<g>
<path d="M 0 0 L -2 0" transform="translate(571.670588 687.037066)" style="stroke: #000000; stroke-width: 0.6; stroke: #000000; stroke-width: 0.6"/>
</g>
</g>
</g>
<g>
<g>
<g>
<path d="M 0 0 L -2 0" transform="translate(571.670588 684.215792)" style="stroke: #000000; stroke-width: 0.6; stroke: #000000; stroke-width: 0.6"/>
</g>
</g>
</g>
<g>
<g>
<g>
<path d="M 0 0 L -2 0" transform="translate(571.670588 681.727251)" style="stroke: #000000; stroke-width: 0.6; stroke: #000000; stroke-width: 0.6"/>
</g>
</g>
</g>
<g>
<g>
<g>
<path d="M 0 0 L -2 0" transform="translate(571.670588 664.856244)" style="stroke: #000000; stroke-width: 0.6; stroke: #000000; stroke-width: 0.6"/>
</g>
</g>
</g>
<g>
<g>
<g>
<path d="M 0 0 L -2 0" transform="translate(571.670588 656.289508)" style="stroke: #000000; stroke-width: 0.6; stroke: #000000; stroke-width: 0.6"/>
</g>
</g>
</g>
<g>
<g>
<g>
<path d="M 0 0 L -2 0" transform="translate(571.670588 650.211312)" style="stroke: #000000; stroke-width: 0.6; stroke: #000000; stroke-width: 0.6"/>
</g>
</g>
</g>
<g>
<g>
<g>
<path d="M 0 0 L -2 0" transform="translate(571.670588 645.496697)" style="stroke: #000000; stroke-width: 0.6; stroke: #000000; stroke-width: 0.6"/>
</g>
</g>
</g>
<g>
<g>
<g>
<path d="M 0 0 L -2 0" transform="translate(571.670588 641.644576)" style="stroke: #000000; stroke-width: 0.6; stroke: #000000; stroke-width: 0.6"/>
</g>
</g>
</g>
<g>
<g>
<g>
<path d="M 0 0 L -2 0" transform="translate(571.670588 638.387654)" style="stroke: #000000; stroke-width: 0.6; stroke: #000000; stroke-width: 0.6"/>
</g>
</g>
</g>
<g>
<g>
<g>
<path d="M 0 0 L -2 0" transform="translate(571.670588 635.56638)" style="stroke: #000000; stroke-width: 0.6; stroke: #000000; stroke-width: 0.6"/>
</g>
</g>
</g>
<g>
<g>
<g>
<path d="M 0 0 L -2 0" transform="translate(571.670588 633.07784)" style="stroke: #000000; stroke-width: 0.6; stroke: #000000; stroke-width: 0.6"/>
</g>
</g>
</g>
<g>
<g>
<g>
<path d="M 0 0 L -2 0" transform="translate(571.670588 616.206832)" style="stroke: #000000; stroke-width: 0.6; stroke: #000000; stroke-width: 0.6"/>
</g>
</g>
</g>
<g>
<g>
<g>
<path d="M 0 0 L -2 0" transform="translate(571.670588 607.640096)" style="stroke: #000000; stroke-width: 0.6; stroke: #000000; stroke-width: 0.6"/>
</g>
</g>
</g>
<g>
<g>
<g>
<path d="M 0 0 L -2 0" transform="translate(571.670588 601.5619)" style="stroke: #000000; stroke-width: 0.6; stroke: #000000; stroke-width: 0.6"/>
</g>
</g>
</g>
<g>
<g>
<g>
<path d="M 0 0 L -2 0" transform="translate(571.670588 596.847285)" style="stroke: #000000; stroke-width: 0.6; stroke: #000000; stroke-width: 0.6"/>
</g>
</g>
</g>
<g>
<g>
<g>
<path d="M 0 0 L -2 0" transform="translate(571.670588 592.995164)" style="stroke: #000000; stroke-width: 0.6; stroke: #000000; stroke-width: 0.6"/>
</g>
</g>
</g>
<g>
<g>
<g>
<path d="M 0 0 L -2 0" transform="translate(571.670588 589.738242)" style="stroke: #000000; stroke-width: 0.6; stroke: #000000; stroke-width: 0.6"/>
</g>
</g>
</g>
<g>
<g>
<g>
<path d="M 0 0 L -2 0" transform="translate(571.670588 586.916968)" style="stroke: #000000; stroke-width: 0.6; stroke: #000000; stroke-width: 0.6"/>
</g>
</g>
</g>
<g>
<g>
<g>
<path d="M 0 0 L -2 0" transform="translate(571.670588 584.428428)" style="stroke: #000000; stroke-width: 0.6; stroke: #000000; stroke-width: 0.6"/>
</g>
</g>
</g>
<g>
<g>
<g>
<path d="M 0 0 L -2 0" transform="translate(571.670588 567.557421)" style="stroke: #000000; stroke-width: 0.6; stroke: #000000; stroke-width: 0.6"/>
</g>
</g>
</g>
<g>
<g>
<g>
<path d="M 0 0 L -2 0" transform="translate(571.670588 558.990685)" style="stroke: #000000; stroke-width: 0.6; stroke: #000000; stroke-width: 0.6"/>
</g>
</g>
</g>
<g>
<g>
<g>
<path d="M 0 0 L -2 0" transform="translate(571.670588 552.912489)" style="stroke: #000000; stroke-width: 0.6; stroke: #000000; stroke-width: 0.6"/>
</g>
</g>
</g>
<g>
<g>
<g>
<path d="M 0 0 L -2 0" transform="translate(571.670588 548.197873)" style="stroke: #000000; stroke-width: 0.6; stroke: #000000; stroke-width: 0.6"/>
</g>
</g>
</g>
<g>
<g>
<g>
<path d="M 0 0 L -2 0" transform="translate(571.670588 544.345752)" style="stroke: #000000; stroke-width: 0.6; stroke: #000000; stroke-width: 0.6"/>
</g>
</g>
</g>
<g>
<g>
<g>
<path d="M 0 0 L -2 0" transform="translate(571.670588 541.08883)" style="stroke: #000000; stroke-width: 0.6; stroke: #000000; stroke-width: 0.6"/>
</g>
</g>
</g>
<g>
<g>
<g>
<path d="M 0 0 L -2 0" transform="translate(571.670588 538.267556)" style="stroke: #000000; stroke-width: 0.6; stroke: #000000; stroke-width: 0.6"/>
</g>
</g>
</g>
<g>
<g>
<g>
<path d="M 0 0 L -2 0" transform="translate(571.670588 535.779016)" style="stroke: #000000; stroke-width: 0.6; stroke: #000000; stroke-width: 0.6"/>
</g>
</g>
</g>
<g>
<!-- $\overline{\phi_b}$ -->
<g transform="translate(531.650588 665.813) rotate(-90)">
<text>
<tspan x="0" y="-1.203125" style="font-style: oblique; font-size: 18px; font-family: 'DejaVu Sans'">ϕ</tspan>
<tspan x="11.874023" y="1.75" style="font-style: oblique; font-size: 12.6px; font-family: 'DejaVu Sans'">b</tspan>
</text>
<rect x="0" y="-17.75" width="20.364258" height="1.125"/>
</g>
</g>
</g>
<g>
<path d="M 564.71 757.32 L 565.41 757.27 L 566.12 757.22 L 566.82 757.16 L 567.53 757.11 L 568.24 757.06 L 568.94 757.01 L 569.65 756.96 L 570.35 756.9 L 571.06 756.85 L 571.76 756.8 L 572.47 756.74 L 573.18 756.69 L 573.88 756.63 L 574.59 756.57 L 575.29 756.51 L 576 756.45 L 576.71 756.39 L 577.41 756.33 L 578.12 756.27 L 578.82 756.21 L 579.53 756.14 L 580.24 756.07 L 580.94 756.01 L 581.65 755.94 L 582.35 755.87 L 583.06 755.8 L 583.76 755.72 L 584.47 755.65 L 585.18 755.57 L 585.88 755.49 L 586.59 755.42 L 587.29 755.33 L 588 755.25 L 588.71 755.16 L 589.41 755.07 L 590.12 754.98 L 590.82 754.89 L 591.53 754.79 L 592.24 754.69 L 592.94 754.59 L 593.65 754.48 L 594.35 754.37 L 595.06 754.25 L 595.76 754.13 L 596.47 754.01 L 597.18 753.88 L 597.88 753.75 L 598.59 753.62 L 599.29 753.48 L 600 753.33 L 600.71 753.19 L 601.41 753.04 L 602.12 752.88 L 602.82 752.72 L 603.53 752.56 L 604.24 752.39 L 604.94 752.23 L 605.65 752.05 L 606.35 751.87 L 607.06 751.69 L 607.76 751.51 L 608.47 751.31 L 609.18 751.11 L 609.88 750.91 L 610.59 750.7 L 611.29 750.48 L 612 750.26 L 612.71 750.03 L 613.41 749.79 L 614.12 749.54 L 614.82 749.28 L 615.53 749.02 L 616.24 748.74 L 616.94 748.46 L 617.65 748.17 L 618.35 747.87 L 619.06 747.56 L 619.76 747.24 L 620.47 746.91 L 621.18 746.57 L 621.88 746.22 L 622.59 745.86 L 623.29 745.49 L 624 745.12 L 624.71 744.73 L 625.41 744.34 L 626.12 743.95 L 626.82 743.55 L 627.53 743.15 L 628.24 742.74 L 628.94 742.34 L 629.65 741.94 L 630.35 741.54 L 631.06 741.14 L 631.76 740.75 L 632.47 740.36 L 633.18 739.97 L 633.88 739.58 L 634.59 739.19 L 635.29 738.79 L 636 738.39 L 636.71 737.99 L 637.41 737.58 L 638.12 737.16 L 638.82 736.73 L 639.53 736.3 L 640.24 735.85 L 640.94 735.39 L 641.65 734.93 L 642.35 734.45 L 643.06 733.97 L 643.76 733.48 L 644.47 732.97 L 645.18 732.46 L 645.88 731.95 L 646.59 731.42 L 647.29 730.89 L 648 730.35 L 648.71 729.8 L 649.41 729.25 L 650.12 728.7 L 650.82 728.15 L 651.53 727.6 L 652.24 727.04 L 652.94 726.49 L 653.65 725.94 L 654.35 725.4 L 655.06 724.87 L 655.76 724.33 L 656.47 723.81 L 657.18 723.29 L 657.88 722.77 L 658.59 722.26 L 659.29 721.75 L 660 721.24 L 660.71 720.74 L 661.41 720.23 L 662.12 719.73 L 662.82 719.22 L 663.53 718.71 L 664.24 718.2 L 664.94 717.69 L 665.65 717.17 L 666.35 716.65 L 667.06 716.12 L 667.76 715.6 L 668.47 715.06 L 669.18 714.52 L 669.88 713.98 L 670.59 713.43 L 671.29 712.87 L 672 712.31 L 672.71 711.74 L 673.41 711.16 L 674.12 710.57 L 674.82 709.98 L 675.53 709.38 L 676.24 708.77 L 676.94 708.16 L 677.65 707.53 L 678.35 706.9 L 679.06 706.26 L 679.76 705.61 L 680.47 704.95 L 681.18 704.29 L 681.88 703.62 L 682.59 702.94 L 683.29 702.26 L 684 701.56 L 684.71 700.86 L 685.41 700.16 L 686.12 699.44 L 686.82 698.72 L 687.53 698 L 688.24 697.28 L 688.94 696.55 L 689.65 695.82 L 690.35 695.1 L 691.06 694.37 L 691.76 693.65 L 692.47 692.93 L 693.18 692.22 L 693.88 691.52 L 694.59 690.82 L 695.29 690.13 L 696 689.45 L 696.71 688.78 L 697.41 688.11 L 698.12 687.46 L 698.82 686.81 L 699.53 686.17 L 700.24 685.54 L 700.94 684.92 L 701.65 684.3 L 702.35 683.69 L 703.06 683.09 L 703.76 682.5 L 704.47 681.91 L 705.18 681.33 L 705.88 680.76 L 706.59 680.19 L 707.29 679.63 L 708 679.07 L 708.71 678.51 L 709.41 677.95 L 710.12 677.4 L 710.82 676.84 L 711.53 676.29 L 712.24 675.73 L 712.94 675.17 L 713.65 674.61 L 714.35 674.05 L 715.06 673.47 L 715.76 672.9 L 716.47 672.32 L 717.18 671.73 L 717.88 671.14 L 718.59 670.55 L 719.29 669.96 L 720 669.36 L 720.71 668.76 L 721.41 668.16 L 722.12 667.56 L 722.82 666.96 L 723.53 666.36 L 724.24 665.76 L 724.94 665.16 L 725.65 664.56 L 726.35 663.96 L 727.06 663.36 L 727.76 662.75 L 728.47 662.14 L 729.18 661.53 L 729.88 660.91 L 730.59 660.28 L 731.29 659.64 L 732 658.98 L 732.71 658.32 L 733.41 657.64 L 734.12 656.94 L 734.82 656.23 L 735.53 655.5 L 736.24 654.76 L 736.94 654 L 737.65 653.24 L 738.35 652.47 L 739.06 651.7 L 739.76 650.94 L 740.47 650.18 L 741.18 649.42 L 741.88 648.68 L 742.59 647.96 L 743.29 647.25 L 744 646.57 L 744.71 645.91 L 745.41 645.27 L 746.12 644.66 L 746.82 644.06 L 747.53 643.48 L 748.24 642.91 L 748.94 642.34 L 749.65 641.77 L 750.35 641.2 L 751.06 640.63 L 751.76 640.05 L 752.47 639.45 L 753.18 638.85 L 753.88 638.24 L 754.59 637.63 L 755.29 637.01 L 756 636.38 L 756.71 635.75 L 757.41 635.12 L 758.12 634.48 L 758.82 633.84 L 759.53 633.19 L 760.24 632.53 L 760.94 631.86 L 761.65 631.16 L 762.35 630.44 L 763.06 629.7 L 763.76 628.93 L 764.47 628.14 L 765.18 627.33 L 765.88 626.5 L 766.59 625.66 L 767.29 624.81 L 768 623.95 L 768.71 623.09 L 769.41 622.22 L 770.12 621.35 L 770.82 620.48 L 771.53 619.6 L 772.24 618.71 L 772.94 617.82 L 773.65 616.91 L 774.35 616 L 775.06 615.08 L 775.76 614.15 L 776.47 613.22 L 777.18 612.29 L 777.88 611.37 L 778.59 610.45 L 779.29 609.53 L 780 608.63 L 780.71 607.74 L 781.41 606.85 L 782.12 605.96 L 782.82 605.06 L 783.53 604.17 L 784.24 603.26 L 784.94 602.35 L 785.65 601.42 L 786.35 600.48 L 787.06 599.53 L 787.76 598.56 L 788.47 597.58 L 789.18 596.58 L 789.88 595.57 L 790.59 594.54 L 791.29 593.5 L 792 592.45 L 792.71 591.39 L 793.41 590.32 L 794.12 589.25 L 794.82 588.18 L 795.53 587.11 L 796.24 586.04 L 796.94 584.97 L 797.65 583.89 L 798.35 582.81 L 799.06 581.71 L 799.76 580.59 L 800.47 579.45 L 801.18 578.27 L 801.88 577.07 L 802.59 575.84 L 803.29 574.59 L 804 573.33 L 804.71 572.07 L 805.41 570.8 L 806.12 569.53 L 806.82 568.25 L 807.53 566.97 L 808.24 565.67 L 808.94 564.35 L 809.65 563.01 L 810.35 561.64 L 811.06 560.25 L 811.76 558.83 L 812.47 557.39 L 813.18 555.92 L 813.88 554.42 L 814.59 552.9 L 815.29 551.37 L 816 549.82 L 816.71 548.27 L 817.41 546.72 L 818.12 545.17 L 818.82 543.62 L 819.53 542.06 L 820.24 540.5 L 820.94 538.92 L 821.65 537.32 L 822.35 535.71 L 823.06 534.1 L 823.76 532.48 L 824.47 530.86 L 825.18 529.25 L 825.41 528.71" clip-path="url(#pbcd819c82e)" style="fill: none; stroke: #000000; stroke-width: 3; stroke-linecap: square"/>
</g>
<g>
<path d="M 657.17 742.8 L 808.14 596.85" clip-path="url(#pbcd819c82e)" style="fill: none; stroke: #008000; stroke-opacity: 0.5; stroke-width: 2; stroke-linecap: square"/>
</g>
<g>
<path d="M 571.67 776.8 L 571.67 533.55" style="fill: none; stroke: #000000; stroke-linejoin: miter; stroke-linecap: square"/>
</g>
<g>
<path d="M 974.26 776.8 L 974.26 533.55" style="fill: none; stroke: #000000; stroke-linejoin: miter; stroke-linecap: square"/>
</g>
<g>
<path d="M 571.67 776.8 L 974.26 776.8" style="fill: none; stroke: #000000; stroke-linejoin: miter; stroke-linecap: square"/>
</g>
<g>
<path d="M 571.67 533.55 L 974.26 533.55" style="fill: none; stroke: #000000; stroke-linejoin: miter; stroke-linecap: square"/>
</g>
<g>
<text style="font-size: 16px; font-family: 'DejaVu Serif', serif; text-anchor: start" x="579.722353" y="553.012706" transform="rotate(-0 579.722353 553.012706)">(f)</text>
</g>
<g>
<!-- $r^{1}$ -->
<g transform="translate(736.470588 688.188235)">
<text>
<tspan x="0" y="-0.921875" style="font-style: oblique; font-size: 18px; font-family: 'DejaVu Sans'">r</tspan>
<tspan x="8.237109" y="-7.8125" style="font-size: 12.6px; font-family: 'DejaVu Sans'">1</tspan>
</text>
</g>
</g>
<g>
<path d="M 820.66 776.8 L 820.66 533.55" clip-path="url(#pbcd819c82e)" style="fill: none; stroke-dasharray: 3.85,1.65; stroke-dashoffset: 0; stroke: #808080; stroke-width: 1.25"/>
</g>
</g>
</g>
<defs>
<clipPath id="p38bddb22ce">
<rect x="76.376471" y="42.070588" width="402.588235" height="243.2"/>
</clipPath>
<clipPath id="p8e73a9e9df">
<rect x="571.670588" y="42.070588" width="402.588235" height="243.2"/>
</clipPath>
<clipPath id="p3754bf3650">
<rect x="76.376471" y="287.858824" width="402.588235" height="243.152941"/>
</clipPath>
<clipPath id="p29c4a366c4">
<rect x="571.670588" y="287.858824" width="402.588235" height="243.152941"/>
</clipPath>
<clipPath id="p5a8be41eb9">
<rect x="76.376471" y="533.552941" width="402.588235" height="243.247059"/>
</clipPath>
<clipPath id="pbcd819c82e">
<rect x="571.670588" y="533.552941" width="402.588235" height="243.247059"/>
</clipPath>
</defs>
</svg>

</body>
</html>
